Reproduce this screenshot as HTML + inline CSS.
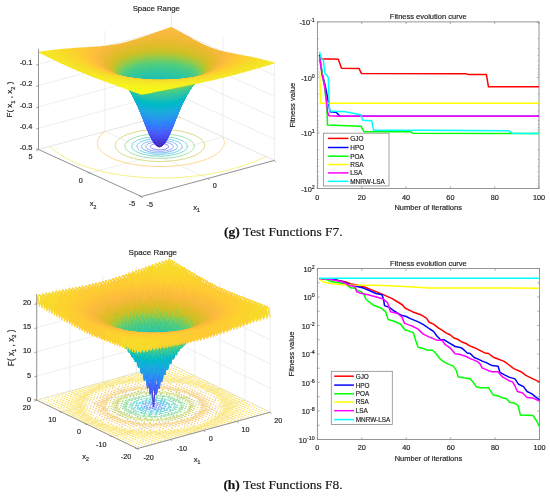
<!DOCTYPE html>
<html><head><meta charset="utf-8"><style>
html,body{margin:0;padding:0;background:#fff}
svg{display:block}
text{font-family:"Liberation Sans",sans-serif;fill:#262626;stroke:#262626;stroke-width:.18px}
svg{will-change:transform}
.cap{font-family:"Liberation Serif",serif;fill:#111}
.s path{fill:currentColor;stroke:currentColor;stroke-width:3;stroke-linejoin:round;shape-rendering:crispEdges}
.s8 path{fill:currentColor;stroke:currentColor;stroke-width:2.4;stroke-linejoin:miter}
</style></head><body>
<svg width="550" height="497" viewBox="0 0 550 497">
<rect width="550" height="497" fill="#fff"/>
<path stroke="#e6e6e6" stroke-width=".7" fill="none" d="M141.5 196.5L38.5 149.5M141.5 196.5L274.4 160.4M38.5 149.5L38.5 48.9M274.4 160.4L274.4 59.8M207.9 178.4L104.9 131.4M90.0 173.0L222.9 136.9M104.9 131.4L104.9 30.8M222.9 136.9L222.9 36.3M274.4 160.4L171.4 113.4M38.5 149.5L171.4 113.4M171.4 113.4L171.4 12.8M171.4 113.4L171.4 12.8M38.5 149.5L171.4 113.4M171.4 113.4L274.4 160.4M38.5 128.2L171.4 92.1M171.4 92.1L274.4 139.1M38.5 106.9L171.4 70.8M171.4 70.8L274.4 117.8M38.5 85.6L171.4 49.5M171.4 49.5L274.4 96.5M38.5 64.3L171.4 28.2M171.4 28.2L274.4 75.2"/><g fill="none" stroke-width="3.4" stroke-opacity=".72" transform="scale(.25)"><path stroke="#4745e9" d="M625 574l2 0 3 0 4-1 3 0 3 0 3 0 3 1 4 0 3 0 2 1 4 1 2 0 3 1 3 2 3 1 2 1 1 1 1 2 0 1 0 1 0 1 0 1 0 1-1 1-2 1-1 1-1 1-3 1-3 2-3 1-4 0-4 1-3 0-4 1-3 0-2 0-4 0-3 0-3 0-3-1-4 0-3-1-2 0-4-1-3-1-3-1-2-2-2-1-1-1-1-2 0-1-1-1 0-1 1-1 0-1 1-1 2-1 1-1 2-1 2-1 3-1 4-1 3-1 5-1"/><path stroke="#426afe" d="M617 568l2 0 4-1 3 0 3 0 4 0 4 0 3 0 3 0 3 0 3 0 4 1 2 0 3 0 2 1 5 0 2 1 4 1 1 0 4 1 3 1 3 2 2 1 3 1 1 2 1 1 2 1 0 1 1 1 0 1 1 2 0 1-1 1 0 1 0 1-1 1-1 1-1 1-1 1-2 2-2 0-2 2-2 0-3 1-3 2-3 1-4 0-4 1-4 1-2 0-5 1-2 0-3 0-5 0-3 0-2 0-3 0-3 0-4 0-3 0-4-1-2 0-3 0-4-1-2-1-3 0-3-1-3-1-3-1-3-2-3-1-2-1-2-2-1-1-1-1-1-1 0-1-1-1 0-2 0-1 0-1 1-1 0-1 1-1 1-1 1-1 1-1 2-1 2-1 2-2 2 0 3-1 3-1 3-1 4-1 4-1 4-1"/><path stroke="#2c90f0" d="M606 563l2 0 5-1 2 0 4-1 3 0 3 0 4 0 3 0 3 0 3 0 3 0 4 0 3 0 3 0 3 0 2 0 4 1 4 0 3 1 2 0 4 1 2 0 3 1 3 1 4 1 1 0 4 1 3 2 2 1 3 1 2 2 2 1 1 1 2 1 1 1 1 2 1 0 0 1 1 2 0 1 1 1 0 1 0 1-1 1 0 1 0 1-1 2-1 1-1 1-1 1-1 1-1 1-3 1-1 1-2 2-2 0-3 1-2 1-2 1-4 1-3 1-4 1-4 1-2 0-4 1-4 1-2 0-4 0-3 1-3 0-4 0-3 0-3 0-3 0-3 0-3 0-3 0-3 0-3 0-4-1-4 0-3-1-2 0-3 0-4-1-2 0-4-1-2-1-3-1-3-1-2-1-3-1-3-1-3-1-2-2-1 0-2-2-2-1-1-1-1-1-1-2-1-2 0-1-1-1 0-1 0-1 1-1 0-1 0-1 1-2 1-1 1-1 1-1 1-1 1-1 2-1 2-1 2-1 1-1 3-2 2 0 3-1 3-1 4-1 3-1 4-1 4-1"/><path stroke="#16afda" d="M600 557l3-1 4 0 2 0 5-1 2 0 3 0 5-1 2 0 3 0 4 0 4 0 3 0 3 0 3 0 3 0 3 0 3 0 4 1 3 0 2 0 3 1 3 0 4 1 3 0 2 0 4 1 2 1 4 0 2 1 4 1 2 1 3 1 3 1 3 1 3 1 3 1 2 2 2 1 3 2 1 0 1 2 2 1 1 1 1 1 1 2 0 1 1 1 0 1 1 1 0 1 0 1 0 1 0 2 0 1-1 1 0 1-1 1 0 1-1 1-1 1-1 1-2 2-1 0-1 1-2 2-1 1-2 1-2 1-3 1-1 1-3 1-3 1-2 1-3 1-3 1-4 1-4 1-2 0-4 1-4 0-3 1-3 0-4 1-3 0-3 0-4 1-2 0-4 0-4 0-3 0-3 0-2 0-3 0-4 0-3 0-3 0-3 0-3 0-4-1-3 0-4 0-2-1-3 0-3-1-3 0-3-1-4-1-2 0-4-1-1 0-4-1-3-2-2 0-3-1-3-2-3-1-2-1-2-1-2-1-2-2-2-1-1-1-1-1-1-1-1-2-1-1 0-1-1-1 0-1-1-1 0-1 0-1 0-2 0-1 1-1 0-1 1-1 0-1 1-1 1-1 1-1 1-2 1-1 1 0 2-2 1-1 2-1 2-1 2-1 2-1 2-1 3-1 3-1 3-1 4-1 3-1 4-1 4-1 4-1 3 0"/><path stroke="#23c1af" d="M588 550l3 0 4-1 2 0 4-1 3 0 4-1 3 0 4 0 3-1 2 0 5 0 3 0 3 0 2 0 4 0 3 0 4 0 3 0 4 0 3 0 3 0 3 1 3 0 2 0 3 0 3 1 4 0 3 1 3 0 2 0 5 1 2 0 3 1 3 1 2 0 4 1 2 1 4 1 3 1 2 0 3 1 3 1 3 2 3 1 3 1 2 1 3 2 2 1 2 1 1 1 2 2 1 1 2 1 1 1 1 1 1 1 1 2 0 1 1 1 0 1 1 1 0 1 0 1 0 2 0 1 0 1 0 1 0 1-1 1 0 2-1 1 0 1-1 1-1 1 0 1-1 1-2 1-1 1-1 1-1 1-2 1-1 1-2 2-2 0-2 1-2 1-3 2-1 0-3 2-3 1-2 0-3 1-3 1-4 1-4 1-3 1-4 1-2 0-4 1-4 1-2 0-5 1-2 0-4 1-3 0-4 0-3 1-3 0-4 0-3 0-2 0-5 0-3 1-3 0-3 0-3-1-3 0-3 0-3 0-3 0-3 0-4 0-3-1-4 0-3 0-2-1-3 0-4-1-3 0-2 0-3-1-4-1-2 0-4-1-2 0-4-1-2-1-3-1-3-1-3-1-2-1-3-1-3-1-3-1-2-2-3-1-2-1-1-1-2-2-2-1-1-1-2-1-1-1-1-2-1 0-1-2-1-1 0-1-1-1 0-2-1-1 0-2 0-1 0-1 0-1 1-2 0-1 0-1 1-1 0-1 1-1 1-1 0-1 1-1 2-1 1-1 1-1 1-1 2-2 1 0 2-1 2-2 1 0 3-2 1 0 3-2 3-1 1-1 4-1 3-1 3-1 4-1 3-1 4-1 4-1 4 0 3-1"/><path stroke="#5dcd75" d="M561 543l3 0 4-1 4-1 4-1 2 0 4-1 4 0 3-1 4 0 2-1 4 0 3 0 3-1 4 0 3 0 3 0 4-1 3 0 2 0 4 0 4 0 3 0 3 0 3 0 3 0 3 0 3 0 3 0 4 0 3 1 3 0 3 0 3 0 3 1 4 0 3 0 3 1 3 0 2 0 4 1 3 0 3 1 3 0 3 1 2 0 5 1 2 0 4 1 2 1 3 1 2 0 4 1 3 1 2 1 3 1 3 1 3 1 2 1 3 1 3 1 2 2 2 0 2 2 2 1 3 1 2 2 1 1 2 1 1 1 1 1 2 2 1 1 1 1 1 1 1 1 1 2 1 2 1 1 0 1 0 1 1 1 0 2 0 1 0 1 0 1 0 1 0 1 0 1-1 1 0 1 0 1-1 1 0 2-1 1-1 1-1 1-1 1-1 1 0 1-1 1-1 1-2 2-1 1-1 0-2 2-2 1-1 1-2 1-1 1-3 1-1 1-3 1-2 1-2 1-3 1-2 1-3 1-3 1-4 1-3 1-3 1-4 1-4 1-3 1-4 1-4 0-2 1-4 1-4 0-2 1-5 0-2 1-4 0-3 0-4 1-3 0-4 0-3 1-2 0-5 0-3 0-3 0-2 0-4 0-4 0-3 0-3 0-3 0-3 0-3 0-3 0-3 0-3 0-4 0-3-1-3 0-4 0-3 0-3-1-2 0-3 0-4-1-3 0-3-1-2 0-4-1-3 0-3-1-3 0-2-1-4-1-2 0-4-1-2-1-3-1-4-1-1 0-4-1-3-2-3-1-3-1-3-1-3-1-2-2-3-1-2-1-2-2-2-1-1-1-2-1-1-1-2-2-1-1-2-1-1-1-1-1 0-1-1-2-1-1-1-1 0-1-1-1 0-1 0-2-1-1 0-1 0-1 0-1 0-1 0-1 0-1 1-1 0-2 0-1 1-1 0-1 1-1 1-1 1-1 1-2 1-1 0-1 1-1 1-1 2-1 1-1 1-1 2-1 2-1 1-1 2-1 1-1 3-1 1-1 3-1 1-1 3-1 3-2 2 0 3-1 3-1 3-2 2 0 4-1 3-1 4-1 2-1"/><path stroke="#bac430" d="M553 525l3 0 4-1 4-1 3 0 4-1 2 0 4 0 4-1 3 0 3-1 4 0 2 0 5-1 2 0 4 0 3-1 3 0 4 0 3 0 3 0 3 0 4 0 4-1 2 0 3 0 3 0 3 0 4 0 3 0 4 1 3 0 3 0 3 0 3 0 3 0 3 0 3 1 3 0 3 0 3 0 3 1 4 0 3 0 3 1 3 0 2 0 4 1 3 0 3 1 3 0 4 1 2 0 3 1 3 1 2 0 5 1 2 0 4 1 1 1 4 1 2 0 4 1 3 1 2 1 3 1 4 1 1 0 4 2 3 1 3 1 3 1 2 1 3 2 3 1 2 1 3 2 2 1 2 1 2 1 2 1 2 2 1 1 2 1 2 1 1 1 1 2 1 1 2 1 0 1 2 2 1 2 1 1 1 1 1 1 0 1 1 1 0 1 1 2 0 1 0 1 1 1 0 1 0 2 0 1 0 1 0 1 0 1 0 1 0 1-1 1 0 1 0 2-1 1 0 1-1 1 0 1-1 1 0 1-1 1-1 1-1 1-1 2-1 1-1 1-2 2-1 1-1 1-1 1-2 1-1 1-1 1-3 1-1 1-1 1-2 1-2 1-2 2-2 0-2 2-2 0-2 2-3 1-2 0-3 2-3 1-1 0-4 2-3 1-3 1-3 1-2 0-4 1-3 1-4 1-2 1-3 1-4 0-4 1-4 1-2 0-4 1-4 1-3 0-3 1-5 0-2 1-4 0-2 1-5 0-2 0-4 1-3 0-3 0-5 1-2 0-2 0-5 0-3 0-3 0-3 1-4 0-3 0-3 0-3 0-3 0-3 0-4 0-3 0-4 0-3 0-3-1-3 0-3 0-4 0-3 0-2 0-3-1-3 0-3 0-3 0-3-1-4 0-3-1-3 0-2 0-4-1-4 0-2-1-2 0-5-1-2 0-2 0-5-1-2-1-4-1-2 0-3-1-3 0-3-1-2-1-4-1-2 0-3-1-4-2-1 0-4-1-3-1-3-1-3-2-2 0-2-1-3-2-3-1-2-1-2-1-2-1-3-2-2-1-2-1-1-1-2-2-2-1-1-1-2-1-1-1-2-2-1 0-1-2-1-1-1-1-1-1-1-2-1-1 0-1-1-1 0-1-1-1-1-2 0-1 0-1 0-1-1-1 0-1 0-1 0-1 0-1 0-1 0-2 0-1 0-1 1-1 0-1 0-1 1-1 0-2 1-1 0-1 1-1 1-1 0-1 1-1 1-1 1-1 1-1 1-1 1-1 2-2 1-1 1-1 1-1 2-1 1-1 1-1 2-1 1-1 3-1 1-1 2-1 2-1 2-1 2-1 3-2 1 0 3-2 2 0 2-1 3-2 3-1 2 0 3-1 4-1 3-1 3-1 4-1 4-1 3-1 4-1 4-1 3-1 3-1"/><path stroke="#fdbc3e" d="M891 547l0 2 1 1 0 1 1 1 1 1 0 1 0 1 1 2 0 1 0 1 1 1 0 1 0 1 0 1 1 1 0 1 0 2 0 1 0 1 0 1 0 1 0 1 0 1 0 1-1 2 0 1 0 1 0 1-1 1 0 1 0 2-1 1 0 1-1 1 0 1-1 1 0 1-1 1 0 1-1 1-1 1 0 1-1 2-1 1-1 1-1 1-1 1 0 1-1 1-2 1-1 1-1 1-1 1-1 2-1 1-1 1-2 1-1 1-1 1-1 1-3 1-1 1-1 1-2 1-1 1-2 1-2 1-1 1-3 1-1 1-3 2-1 0-2 2-2 0-3 2-1 0-3 2-3 1-1 0-3 2-2 1-3 1-3 1-3 1-1 0-3 2-4 1-3 1-3 1-2 0-3 1-4 1-3 1-4 1-3 1-4 1-3 1-3 1-3 0-4 1-4 1-4 1-2 0-4 1-4 1-2 0-4 1-4 0-2 1-5 0-3 1-3 0-4 1-3 0-4 1-3 0-3 0-3 1-3 0-4 0-3 1-4 0-3 0-2 0-5 1-3 0-2 0-4 0-4 0-3 1-2 0-4 0-4 0-3 0-2 0-3 0-4 0-4 0-3 0-3 0-3 0-3 0-3 0-3 0-3 0-3 0-4 0-3-1-3 0-3 0-3 0-3 0-3 0-3-1-4 0-3 0-4 0-3-1-3 0-3 0-2 0-3-1-4 0-4-1-2 0-3 0-2-1-4 0-4-1-2 0-3 0-4-1-2 0-3-1-4-1-2 0-3-1-3 0-3-1-4-1-2 0-4-1-2 0-4-1-2-1-3-1-2 0-4-1-2-1-3-1-4-1-2 0-3-1-3-2-3 0-2-1-4-1-3-2-3-1-3-1-1 0-3-2-3-1-3-1-2-1-3-2-3-1-1-1-2-1-3-1-2-2-3-1-1-1-2-1-2-2-2-1-1-1-2-1-2-2-1 0-2-2-1-1-2-1-1-1-1-1-1-2-1-1-1-1-2-1 0-1-2-2 0-1-1-1-1-1-1-1-1-2-1-1 0-2-1-1 0-1-1-1 0-2-1 0 0-1 0-2-1-1 0-1 0-1 0-1 0-1 0-2 0-1-1-1 0-1 1-1 0-1 0-1 0-1 0-2 0-1 1-1 0-1 0-1 1-1 0-1 0-2 1-1 0-1 1-1 0-1 1-1 0-1 1-1 1-1 0-1 1-1 1-2 1-1 1-1 1-1 0-1 1-1 2-1 1-1 1-1 0-1 2-1 1-2 1-1 1 0 1-1 2-2 1-1 1-1 2-1 1-1 1-1M636 467l4 0 4 0 3 0 2 0 3 0 4 0 3 0 4 0 3 0 3 0 3 0 3 0 4 0 3 0 3 0 3 1 3 0 4 0 3 0 3 1 2 0 3 0 3 0 3 1 4 0 3 0 3 1 2 0"/><path stroke="#f5e427" d="M1063 626l-2 1-2 1-3 1-2 2-2 0-3 1-1 1-3 1-3 2-1 0-3 2-2 0-2 1-3 2-2 0-3 2-3 1-1 0-3 2-3 1-2 0-3 2-3 1-1 0-3 2-4 1-2 1-2 0-3 2-3 1-3 1-2 0-3 2-4 1-3 1-2 0-3 1-3 2-3 1-4 1-3 1-2 0-3 1-3 1-4 1-3 1-4 1-3 1-4 1-3 1-4 1-3 1-4 1-4 1-3 1-4 1-4 1-3 1-3 0-3 1-4 1-3 1-4 1-4 0-3 1-3 1-4 0-4 1-3 1-3 0-4 1-4 1-2 0-4 1-4 1-2 0-4 1-4 0-2 1-4 0-4 1-3 0-4 1-2 0-4 1-3 0-4 1-3 0-4 1-3 0-3 1-4 0-3 0-3 1-4 0-2 0-5 1-2 0-5 1-2 0-3 0-4 0-2 1-5 0-3 0-2 0-5 1-2 0-3 0-5 0-2 1-3 0-5 0-2 0-3 0-4 0-3 1-3 0-3 0-4 0-4 0-2 0-3 0-3 0-4 1-4 0-2 0-3 0-3 0-4 0-4 0-3 0-3 0-2 0-3 0-4 0-3 0-4 0-3 0-4 0-3 0-3 0-3-1-3 0-3 0-3 0-3 0-3 0-3 0-3 0-3 0-3-1-3 0-4 0-3 0-3 0-3 0-4-1-3 0-3 0-4 0-3-1-2 0-3 0-3 0-3-1-3 0-3 0-4-1-4 0-2 0-3 0-3-1-3 0-3 0-4-1-2 0-3 0-3-1-4 0-3-1-2 0-3 0-4-1-3 0-3-1-2 0-5-1-2 0-2-1-4 0-3-1-2 0-4-1-3 0-2-1-5-1-2 0-3 0-3-1-3-1-4 0-2-1-3 0-3-1-2-1-4-1-2 0-4-1-2 0-4-1-2-1-4-1-2 0-4-1-2-1-3-1-3 0-3-1-4-1-1-1-4-1-3 0-2-1-4-1-2-1-3-1-4-1-1 0-4-1-3-2-3-1-2 0-3-1-3-1-4-2-1 0-3-1-3-1-3-2-3-1-3-1-2-1-3-1-3-1-3-1-3-1-3-2-2-1-3-1-3-1-3-2-2-1-3-1-3-1-2-2-3-1-2-1-3-2-1 0-3-2-2-1-3-1-2-2-2-1-2-1-2-1-2-1-3-2-2-1-1-1-2-1-3-2-2-1-1-1-2-1-2-2-2-1-1-1-2-1-2-1-2-1-2-2-1-1-2-1-2-1-1-1-2-2-1-1-1-1-2-1-2-2-1 0-2-2-1-1-2-1-2-2-1 0-1-2-1-1-2-1-1-1"/></g><g class="s" transform="scale(0.25)"><path color="#3f28ad" d="M643 586l7-4-6 1-6 4zm-7-1l7 1-5 1-7-1zm-5 1l7 1-5-5-7-1zm7 1l6-4-5-5-6 4z"/><path color="#3f29b2" d="M644 583l7-9-5-4-7 8zm-11-1l6-4-5-9-7 4z"/><path color="#402bb6" d="M641 580l7 1-5 5-7-1zm7 1l7-4-5 5-7 4zm2 1l6-8-5 0-7 9zm-20-3l6 6-5 1-7-6zm-6 1l7 6-5-5-7-5zm2 1l7 1-6-9-6-1z"/><path color="#412cba" d="M639 578l7-8-5-9-7 8z"/><path color="#422ebf" d="M635 575l6 5-5 5-6-6zm20 2l6-8-5 5-6 8zm-36-1l7 5-5-9-7-5z"/><path color="#4230c3" d="M656 574l7-13-5 0-7 13zm-5 0l7-13-5-4-7 13zm-30-2l6 1-5-14-6 0zm6 1l7-4-5-13-7 3z"/><path color="#4331c7" d="M653 571l7-3-5 9-7 4zm-6-1l6 1-5 10-7-1zm-24-1l7 10-6 1-6-10zm-5 1l6 10-5-4-6-11z"/><path color="#4433cc" d="M660 568l6-8-5 9-6 8zm1 1l7-13-5 5-7 13zm-15 1l7-13-6-9-6 13zm-33-5l6 11-5-9-6-10zm1 2l7 5-5-13-7-6zm20 2l7-8-5-13-7 8z"/><path color="#4434d0" d="M640 565l7 5-6 10-6-5zm-12 0l7 10-5 4-7-10z"/><path color="#4538d8" d="M663 561l6-17-5 0-6 17zm-5 0l6-17-5-4-6 17zm-17 0l6-13-5-12-6 12zm-19-2l7-3-5-17-7 3zm-6 0l6 0-5-17-6-1z"/><path color="#463adb" d="M652 557l6 1-5 13-6-1zm6 1l7-4-5 14-7 3zm8 2l7-13-5 9-7 13zm-33-4l7 9-5 10-7-10zm-17 0l7 13-5 1-7-14zm-5 0l7 14-5-5-7-13zm-3 1l6 10-5-14-7-9z"/><path color="#463cde" d="M668 556l7-16-6 4-6 17zm-15 1l6-17-5-8-7 16zm-24-1l7-8-6-17-6 8zm-20-3l7 6-5-18-7-4z"/><path color="#473ee1" d="M645 553l7 4-5 13-7-5zm20 1l7-7-6 13-6 8zm-44-3l7 14-5 4-7-13zm-15 1l7 13-5-8-7-14z"/><path color="#4742e6" d="M673 547l7-15-5 8-7 16zm-26 1l7-16-5-12-7 16zm-11 0l6-12-5-16-7 11zm-34-4l7 9-5-16-7-9z"/><path color="#4744e9" d="M638 544l7 9-5 12-7-9zm34 3l6-12-5 12-7 13zm-45-3l6 12-5 9-7-14zm37 0l7-19-5-4-7 19zm-63-1l7 14-6-13-6-12zm16-1l7-3-5-20-7 3z"/><path color="#4747eb" d="M669 544l7-19-5 0-7 19zm-58-3l6 1-5-20-7-1z"/><path color="#4849ed" d="M664 542l6-4-5 16-7 4zm-7-1l7 1-6 16-6-1zm18-1l6-19-5 4-7 19zm-65-1l6 17-5 0-6-17zm-5 0l6 17-5-4-7-17zm54 1l7-19-5-8-7 19zm-55-3l7 4-6-20-6-4zm20 2l6-8-5-19-6 7z"/><path color="#484bef" d="M670 538l7-7-5 16-7 7zm-71-3l7 17-5-9-7-16zm43 1l7-16-5-15-7 15z"/><path color="#484df1" d="M650 537l7 4-5 16-7-4zm28-2l7-14-5 11-7 15zm-63 0l6 16-5 5-6-17zm-19-3l6 12-5-16-6-11z"/><path color="#484ff2" d="M632 533l6 11-5 12-6-12zm48-1l6-18-5 7-6 19zm-26 0l7-19-5-11-7 18zm-57-4l7 9-5-20-7-7zm33 3l7-11-5-19-7 11z"/><path color="#4852f4" d="M677 531l6-10-5 14-6 12zm-83-4l7 16-5-11-7-15z"/><path color="#4854f5" d="M644 530l6 7-5 16-7-9zm-24-2l7 16-6 7-6-16z"/><path color="#4756f7" d="M676 525l7-21-5-1-7 22zm-5 0l7-22-6-3-6 21zm-59-3l7-3-5-22-7 3zm-7-1l7 1-5-22-7 0z"/><path color="#4758f8" d="M662 523l7 1-5 18-7-1zm7 1l6-3-5 17-6 4zm12-3l7-21-5 4-7 21zm-78 0l7 18-5 0-7-19zm-5-1l7 19-6-4-6-18zm68 1l6-21-5-7-6 20zm-17-1l7-18-6-13-6 16zm-12 0l7-15-5-17-7 13zm-18-1l6-7-5-22-6 7zm-20-2l6 4-5-21-6-4z"/><path color="#475af9" d="M683 521l7-13-5 13-7 14zm2 0l7-17-6 10-6 18zm-96-4l7 15-5-15-7-14zm2 0l6 11-5-18-7-11z"/><path color="#475cfa" d="M655 520l7 3-5 18-7-4zm20 1l7-7-5 17-7 7zm-38-2l7 11-6 14-6-11zm-12 0l7 14-5 11-7-16zm-17-1l7 17-5 4-7-18zm-15-1l6 18-5-8-6-17zm68-4l6-20-5-10-6 19zm-36-1l7-11-5-20-7 9z"/><path color="#465ffb" d="M686 514l7-20-5 6-7 21zm-94-4l7 7-5-21-7-7z"/><path color="#4661fc" d="M682 514l7-9-6 16-6 10zm-94-4l6 17-5-10-7-17z"/><path color="#4563fd" d="M649 513l6 7-5 17-6-7zm-36-1l7 16-5 7-7-17zm31-7l6-16-5-17-6 16z"/><path color="#4465fd" d="M690 508l7-16-5 12-7 17zm-12-5l6-22-5-4-7 23zm-22-1l6-19-5-13-7 19zm-72 1l7 14-6-18-6-12zm48-2l7-13-6-19-6 12zm-25-1l7-3-6-23-6 3z"/><path color="#4368fe" d="M692 504l6-18-5 8-7 20zm-9 0l6-23-5 0-6 22zm-98-5l7 11-5-21-7-9zm15 1l7 0-5-23-7 0z"/><path color="#426afe" d="M674 505l6-3-5 19-6 3zm15 0l6-13-5 16-7 13zm-59 2l7 12-5 14-7-14zm58-7l7-21-6 2-6 23zm-97 1l7 19-5-3-7-20zm81-1l7-23-5-6-7 22zm-90 0l7 17-5-14-7-16zm12-4l6 4-5-23-7-3zm20 1l6-7-5-22-7 6z"/><path color="#406cfe" d="M667 505l7 0-5 19-7-1zm-25-1l7 9-5 17-7-11zm-24-1l7 16-5 9-7-16zm-22-2l7 20-5-1-7-19z"/><path color="#3f6fff" d="M680 502l7-6-5 18-7 7zm-19 0l6 3-5 18-7-3zm-59-3l6 19-5 3-7-20zm-16-2l7 20-5-7-7-19zm81-4l7-22-5-9-7 21zm-47-3l7-9-5-21-7 8z"/><path color="#3d71ff" d="M693 494l7-20-5 5-7 21zm-43-5l7-19-5-15-7 17zm-11-1l6-16-5-17-7 14zm-52 1l7 7-6-22-6-6z"/><path color="#3a73ff" d="M687 496l7-9-5 18-7 9zm-33 0l7 6-6 18-6-7zm43-4l6-17-5 11-6 18zm-90 2l6 18-5 6-6-19zm-26-3l7 19-6-10-6-18zm-2-4l6 12-5-19-6-11z"/><path color="#3876fe" d="M695 492l7-14-5 14-7 16zm-33-9l7-21-5-11-7 19zm-85 4l7 16-5-16-7-15zm50-6l6-12-5-20-6 11z"/><path color="#3578fd" d="M635 493l7 11-5 15-7-12zm-11-1l6 15-5 12-7-16zm74-6l7-20-5 8-7 20zm-118-6l7 9-5-21-7-8z"/><path color="#337bfd" d="M694 487l6-10-5 15-6 13zm-5-6l7-22-5-1-7 23zm-5 0l7-23-5-3-7 22zm-5-4l7-22-5-6-7 22zm-103 5l6 18-5-13-6-16zm32-8l7-6-5-22-7 5zm-6 3l6-3-5-23-6 3zm-7 0l7 0-5-23-7 0z"/><path color="#317dfc" d="M647 488l7 8-5 17-7-9zm-35-1l6 16-5 9-6-18zm83-8l6-22-5 2-7 22zm-50-7l7-17-5-16-7 16zm-57 2l7 3-5-23-7-2z"/><path color="#307ffb" d="M672 486l7 0-5 19-7 0zm7 0l7-3-6 19-6 3zm-89-4l6 19-5 0-6-20zm-5-1l6 20-5-4-7-19zm89-10l7-22-6-8-6 21zm-17-1l7-19-5-13-7 17zm-24-1l7-14-5-19-7 13zm-18-1l7-8-6-22-6 8z"/><path color="#2f81fa" d="M666 483l6 3-5 19-6-3zm20 0l6-5-5 18-7 6zm16-5l7-15-6 12-6 17zm-2-4l6-21-5 4-6 22zm-105 6l7 19-6 2-6-19zm-16-2l7 19-5-6-7-19zm-7-6l7 15-5-18-7-13zm10-4l6 6-5-22-6-5z"/><path color="#2e84f9" d="M700 477l7-13-5 14-7 14zm-71 3l6 13-5 14-6-15zm74-5l7-18-5 9-7 20zm-132-4l6 16-5-15-7-15zm3-2l6 11-5-20-7-10z"/><path color="#2e86f8" d="M659 479l7 4-5 19-7-6zm33-1l7-8-5 17-7 9zm-51 0l6 10-5 16-7-11zm-24-1l7 15-6 11-6-16zm-17-1l7 18-5 5-7-19zm-26-4l7 19-5-9-7-18zm95-10l6-21-5-10-6 20zm-47-2l6-11-5-20-7 9z"/><path color="#2d88f6" d="M705 466l7-19-6 6-6 21zm-130-6l7 8-5-21-7-7z"/><path color="#2d8af5" d="M699 470l7-10-6 17-6 10zm-8-12l7-22-6-3-6 22zm-122 6l7 18-5-11-7-17zm83-9l7-17-6-15-6 16zm-12 0l7-16-5-17-7 14zm-43-1l6-3-5-22-7 2z"/><path color="#2d8cf3" d="M652 472l7 7-5 17-7-8zm-47-2l7 17-5 7-7-18zm91-11l7-22-5-1-7 22zm-10-4l6-22-5-5-6 21zm-96-1l7 0-6-23-6 1zm13-3l7-5-5-22-7 5z"/><path color="#2d8ef1" d="M707 464l7-14-5 13-7 15zm2-1l6-17-5 11-7 18zm-8-6l7-21-5 1-7 22zm-37-6l6-20-5-12-6 19zm-99 6l7 15-5-16-7-13zm2-1l7 13-6-19-6-11zm61-7l7-13-5-18-7 11zm-45 3l7 2-5-22-7-2z"/><path color="#2c90f0" d="M684 467l7-3-5 19-7 3zm-7 0l7 0-5 19-7 0zm-43 0l7 11-6 15-6-13zm-12 0l7 13-5 12-7-15zm88-10l7-18-5 8-7 19zm-127 6l7 19-5-1-7-19zm-5-1l7 19-6-3-6-19zm103-13l6-21-5-7-7 20zm-113 1l7 10-5-20-7-8zm42-4l6-8-5-21-6 7z"/><path color="#2b92ee" d="M691 464l6-4-5 18-6 5zm-20 1l6 2-5 19-6-3zm35-5l6-11-5 15-7 13zm0-7l7-21-5 4-7 21zm-118 9l7 18-5 2-7-19zm-15-3l6 19-5-6-6-18zm-9-5l7 17-6-14-6-15zm13-7l6 5-5-22-7-4z"/><path color="#2994ed" d="M697 460l7-7-5 17-7 8zm-51 3l6 9-5 16-6-10zm-36-1l7 15-5 10-7-17zm-42-8l6 18-5-8-6-18zm107-13l7-20-5-9-7 19zm-28-2l6-16-5-15-6 14zm-31-1l7-9-5-20-7 8z"/><path color="#2896ec" d="M664 462l7 3-5 18-7-4zm48-15l6-20-5 5-7 21zm-119 11l7 18-5 4-7-18zm66-20l6-19-5-13-7 17zm-24-2l7-14-6-17-6 13zm-65 4l7 7-6-21-6-6z"/><path color="#2798ea" d="M714 450l6-15-5 11-6 17zm-154-7l7 13-5-17-7-12z"/><path color="#269ae9" d="M704 453l7-9-5 16-7 10zm8-4l7-13-5 14-7 14zm3-3l7-16-5 9-7 18zm-12-9l6-21-5-1-6 21zm-5-1l6-21-5-3-7 21zm-135 10l6 18-5-10-7-17zm-4-4l6 15-5-14-6-14zm3-3l6 11-5-18-6-10zm29-8l7-2-5-22-7 3zm-6 1l6-1-5-21-6 0z"/><path color="#259be7" d="M658 456l6 6-5 17-7-7zm-31-1l7 12-5 13-7-13zm-28-2l6 17-5 6-7-18zm109-17l7-21-6 1-6 21zm-16-3l7-21-5-5-7 21zm-22-2l7-19-5-11-7 18zm-47-2l7-11-5-19-7 10zm-25 0l7-5-5-21-7 4zm-20 1l7 2-5-22-7-1z"/><path color="#259de6" d="M639 454l7 9-5 15-7-11zm-23-1l6 14-5 10-7-15zm101-14l6-19-5 7-6 20zm-30-11l7-21-5-6-7 20zm-124 4l7 8-5-20-7-7zm42-8l6-7-5-20-6 6z"/><path color="#249fe5" d="M683 450l6-1-5 18-7 0zm6-1l7-2-5 17-7 3zm22-5l6-10-5 15-6 11zm2-12l7-20-5 3-7 21zm-137 13l7 18-5-1-7-18zm-5-1l7 18-5-3-7-18zm-14-7l7 17-5-12-7-16zm96-14l7-17-5-14-7 16zm-11-1l6-14-5-16-7 13zm-71 4l7 4-5-21-7-4z"/><path color="#23a1e4" d="M676 448l7 2-6 17-6-2zm20-1l7-5-6 18-6 4zm-45 2l7 7-6 16-6-9zm-47-2l6 15-5 8-6-17zm-22-3l6 18-5 1-7-18zm-16-3l7 18-5-5-7-18zm116-20l7-20-5-8-7 19zm-17-2l7-18-5-12-7 17zm-35-1l6-13-5-17-6 11zm-19-1l7-8-5-20-7 8z"/><path color="#21a3e4" d="M703 442l6-6-5 17-7 7zm16-6l6-13-5 12-6 15zm1-1l7-15-5 10-7 16zm-2-8l7-19-5 4-7 20zm-157 9l7 18-5-8-7-17zm-7-7l6 14-5-16-6-12zm1-2l7 12-5-17-7-11zm10-7l6 6-5-21-6-4z"/><path color="#20a4e3" d="M669 445l7 3-5 17-7-3zm53-15l6-17-5 7-6 19zm-135 11l6 17-5 4-6-18zm-30-19l6 10-5-19-6-8z"/><path color="#1fa6e2" d="M709 436l7-7-5 15-7 9zm8-2l7-11-5 13-7 13zm-85 9l7 11-5 13-7-12zm-11 0l6 12-5 12-6-14zm-65-14l7 17-6-9-6-16zm121-17l7-19-6-10-6 18zm-125 14l7 16-5-13-7-14zm66-17l7-10-6-18-6 8z"/><path color="#1da8e1" d="M663 440l6 5-5 17-6-6zm-19 0l7 9-5 14-7-9zm-35-1l7 14-6 9-6-15zm114-19l7-17-5 5-7 19zm-131 17l7 16-6 5-6-17zm117-21l7-20-5-1-7 20zm-5-1l7-20-5-3-7 20zm-5-3l7-20-5-4-7 19zm-39-6l7-17-5-12-7 15zm-12 2l7-16-5-14-7 14zm-12-3l7-13-5-16-7 12zm-78 8l7 7-5-19-7-6zm22-3l6 0-5-21-7 0zm6 0l7-3-5-20-7 2zm7-3l7-4-6-20-6 4z"/><path color="#1ca9e0" d="M715 415l6-20-5 1-7 20zm-21-8l7-19-6-6-6 19zm-121 2l7 1-6-21-6-1zm27-6l6-6-5-19-7 5z"/><path color="#1baade" d="M716 429l6-9-5 14-6 10zm9-6l7-14-5 11-7 15zm2-3l7-16-6 9-6 17zm-7-8l6-19-5 2-6 20zm-169 9l6 16-5-11-6-14zm121-20l6-18-5-10-6 16zm-123 14l6 12-5-16-7-11zm1-4l7 11-5-17-7-10zm75-12l6-11-5-17-7 10zm-59 6l7 4-5-21-7-2z"/><path color="#1aacdd" d="M701 430l7-4-5 16-7 5zm-7 2l7-2-5 17-7 2zm-6 1l6-1-5 17-6 1zm-32 1l7 6-5 16-7-7zm68-11l7-12-6 12-6 13zm-127 9l7 15-5 6-7-16zm-27-4l6 17-5-1-6-18zm-5-2l6 18-5-3-6-18zm-5-3l6 18-5-5-7-17zm129-22l6-19-5-7-6 18zm-142 14l7 14-5-14-7-13zm59-18l7-8-5-18-7 7z"/><path color="#19addc" d="M708 426l6-5-5 15-6 6zm-27 6l7 1-5 17-7-2zm-55 0l6 11-5 12-6-12zm102-19l7-17-5 7-7 17zm-3-5l6-18-5 3-6 19zm-150 19l7 17-6 1-6-17zm-21-8l7 17-5-7-7-16zm-2-14l6 8-5-18-7-8zm8-4l6 4-5-19-6-4z"/><path color="#18aedb" d="M674 430l7 2-5 16-7-3zm48-10l7-10-5 13-7 11zm-84 11l6 9-5 14-7-11zm-24-1l7 13-5 10-7-14zm-34-5l7 16-5 3-7-17zm104-32l6-18-5-9-7 17zm-138 19l6 14-5-11-7-14zm109-20l7-15-6-13-6 14zm-12 0l7-14-5-15-7 13zm-30-3l6-8-5-18-6 8z"/><path color="#16afd9" d="M714 421l7-7-5 15-7 7zm-3-26l7-19-6-3-6 19zm-162 18l7 16-5-8-7-15zm118-24l6-16-5-11-6 15zm-36-1l7-12-5-16-7 11zm-50 1l7-2-5-20-7 2z"/><path color="#14b0d8" d="M668 426l6 4-5 15-6-5zm-19 1l7 7-5 15-7-9zm82-16l6-12-5 10-7 14zm1-2l7-14-5 9-7 16zm-130 16l7 14-5 8-7-15zm128-22l7-17-6 4-6 18zm-145 19l7 15-5 4-7-16zm136-27l7-18-5 0-7 19zm-5 1l7-19-5-1-7 19zm-10-4l6-19-5-4-6 19zm-164 10l7 13-6-15-6-11zm1-2l7 11-5-16-7-9zm10-5l7 6-5-19-7-5zm35-8l6-4-5-19-6 3zm-14 2l7 0-5-20-7 1zm-6-1l6 1-5-19-6-1z"/><path color="#11b1d6" d="M734 404l6-15-5 7-7 17zm-33-16l6-19-5-5-7 18zm-23-5l7-17-5-9-7 16zm-133 12l7 10-6-18-6-7zm74-14l7-10-5-17-7 9zm-25 2l7-5-5-19-7 5z"/><path color="#0fb2d4" d="M721 414l7-8-6 14-6 9zm8-4l7-11-5 12-7 12zm-98 12l7 9-6 12-6-11zm-12-1l7 11-5 11-7-13zm107-28l7-17-5 1-7 18zm-31-11l7-18-5-6-7 17zm-151 24l7 15-5-9-7-15zm-4-5l7 14-5-13-7-12zm110-23l6-14-5-13-6 12zm-49 0l7-7-5-18-7 6zm-40 8l7 2-5-19-7-2z"/><path color="#0cb3d3" d="M693 418l7-1-6 15-6 1zm7-1l6-2-5 15-7 2zm6-2l7-4-5 15-7 4zm-45 6l7 5-5 14-7-6zm-18-1l6 7-5 13-6-9zm-36-2l7 12-5 9-7-14zm128-22l7-16-5 6-7 17zm-145 22l7 14-5 5-7-15zm141-28l7-17-5 3-7 17zm-168 22l7 16-5-2-7-16zm-5-2l7 16-5-3-7-15zm-5-2l7 15-6-4-6-15zm109-31l6-15-5-12-7 14zm-24-1l7-13-6-14-6 11zm-92 11l7 8-5-18-7-6zm9-5l6 4-5-19-7-3z"/><path color="#09b4d1" d="M686 417l7 1-5 15-7-1zm27-6l6-5-5 15-6 5zm15-5l6-9-5 13-7 10zm-160 6l7 15-5 1-7-16zm-20-8l6 15-5-6-6-15zm142-29l7-17-5-8-7 16zm-151 22l7 15-6-11-6-13zm134-24l7-16-5-10-7 15zm-47-2l7-11-5-15-7 9zm-18 0l6-8-5-17-6 7z"/><path color="#06b5cf" d="M680 415l6 2-5 15-7-2zm56-16l6-11-5 11-6 12zm1 0l7-13-5 9-7 14zm2-4l6-14-5 8-6 15zm-166 15l7 15-5 2-7-15zm-38-20l7 12-5-13-7-11zm2-1l6 11-5-14-6-10zm1-3l7 9-5-15-7-9z"/><path color="#04b6cd" d="M719 406l7-6-5 14-7 7zm-64 9l6 6-5 13-7-7zm85-26l7-15-5 6-7 16zm-144 23l6 13-5 7-7-14zm141-26l6-16-5 3-7 17zm-14-9l6-17-5-2-6 18zm-5-1l6-18-5-2-7 17zm-6-3l7-17-5-4-7 17zm-169 25l6 15-5-7-7-14zm113-34l7-14-5-12-7 13zm-11-1l6-12-5-13-7 11zm-105 17l6 7-5-16-6-7zm8-3l7 5-6-18-6-4zm21-7l7-1-5-18-7 1zm7-1l7-2-6-18-6 2zm7-2l6-3-5-18-7 3z"/><path color="#02b7cb" d="M673 412l7 3-6 15-6-4zm61-15l7-9-5 11-7 11zm-98 15l7 8-5 11-7-9zm-12 0l7 10-5 10-7-11zm-11-2l6 11-5 9-7-12zm-34-2l6 14-5 3-7-15zm149-31l6-17-5 0-6 17zm-21-8l7-17-5-5-7 17zm-22-3l7-16-5-8-7 15zm-151 22l6 13-5-11-6-12zm134-26l7-15-5-10-7 13zm-35-2l6-11-5-14-6 10zm-19 3l7-9-5-15-7 7zm-51 6l6 1-5-18-6 0zm26-5l7-5-5-17-7 4z"/><path color="#01b8ca" d="M726 400l7-7-5 13-7 8zm16-20l6-15-5 5-6 16zm-9-4l7-17-6 1-6 17zm-31-12l7-17-5-5-7 16zm-165 28l7 14-5-9-7-13zm4-21l7 6-5-17-7-5zm15-4l7 2-5-17-7-2zm40-8l7-6-6-16-6 5z"/><path color="#00b9c8" d="M705 403l6-2-5 14-6 2zm-39 5l7 4-5 14-7-5zm-18 1l7 6-6 12-6-7zm94-21l7-11-5 9-7 13zm2-2l7-13-6 8-6 14zm-143 20l6 12-5 7-6-13zm-17-2l6 14-5 4-6-14zm154-31l7-16-5 2-7 17zm-187 23l7 14-5-2-7-15zm129-39l7-15-6-9-6 14zm-150 21l7 11-5-13-7-10zm2-2l6 10-5-15-7-8zm89-22l7-9-6-15-6 9zm-72 10l7 3-5-17-7-2z"/><path color="#00b9c6" d="M711 401l7-4-5 14-7 4zm-13 3l7-1-5 14-7 1zm-7-1l7 1-5 14-7-1zm42-10l6-7-5 11-6 9zm12-12l7-13-5 6-7 15zm-183 16l6 15-5 0-6-15zm-5 0l6 15-5-2-7-14zm-11-4l7 15-5-4-7-15zm151-35l7-16-6-7-6 15zm-165 26l7 13-5-9-7-12zm119-33l7-13-5-11-7 11zm-118 20l7 9-5-16-7-7zm70-18l6-7-5-15-7 6z"/><path color="#01bac4" d="M718 397l7-4-6 13-6 5zm-33 5l6 1-5 14-6-2zm56-14l7-10-6 10-6 11zm6-14l7-14-6 5-6 15zm-4-4l7-16-5 3-7 16zm-176 27l6 13-5 2-6-15zm-26-8l7 15-5-6-7-14zm-12-11l6 12-5-12-7-10zm134-28l7-13-5-11-7 12zm-24-1l7-11-5-13-7 10zm-104 15l6 7-5-16-7-5zm8-4l6 4-5-16-6-3z"/><path color="#03bbc2" d="M725 393l6-5-5 12-7 6zm-65 10l6 5-5 13-6-6zm-31 0l7 9-5 10-7-10zm-11 0l6 9-5 9-6-11zm-29-3l7 12-6 6-6-14zm145-40l7-16-5 0-7 16zm-5 0l7-16-5-2-7 16zm-5-2l7-16-5-2-7 16zm-5-2l7-16-6-4-6 16zm-183 28l7 14-6-6-6-13zm156-34l6-15-5-7-6 14zm-17-3l6-14-5-9-6 13zm-47-2l6-10-5-13-7 8zm-19 1l7-7-5-15-7 7zm-32 3l7-3-5-16-7 3zm-6 2l6-2-5-16-6 2zm-7 1l7-1-5-16-7 0zm-6 0l6 0-5-17-7 0z"/><path color="#05bcc0" d="M678 400l7 2-5 13-7-3zm61-14l7-9-5 11-7 9zm-98 16l7 7-5 11-7-8zm108-25l7-12-5 8-7 13zm-143 23l7 10-6 8-6-12zm-34-5l7 13-6 2-6-13zm168-36l6-15-5 0-7 16zm-26-7l6-16-5-4-6 15zm-187 24l7 12-5-10-7-11zm-2-10l7 10-6-13-6-9zm59-20l7-4-5-16-7 4zm-33 4l7 2-6-17-6-1z"/><path color="#08bcbe" d="M731 388l7-6-5 11-7 7zm-78 10l7 5-5 12-7-6zm95-20l6-10-5 9-7 11zm3-5l6-12-5 7-7 13zm1-5l7-13-5 5-7 14zm-158 27l7 11-5 6-7-12zm154-30l7-14-5 3-7 16zm-39-18l6-15-5-5-6 15zm-178 32l6 13-5-8-6-12zm156-37l6-14-5-8-7 13zm-164 26l7 10-5-12-7-9zm135-30l7-12-6-11-6 12zm-132 25l7 8-5-14-7-7zm120-25l7-11-5-12-7 10zm-118 19l7 7-6-14-6-6zm8-2l7 5-5-15-7-5zm80-16l6-9-5-14-6 8zm-25 3l6-5-5-16-6 5z"/><path color="#0cbdbc" d="M671 396l7 4-5 12-7-4zm-94-4l7 12-5 4-7-13zm168-35l6-15-5 2-6 15zm-41-15l6-15-5-6-7 14zm-34-5l6-13-5-10-6 12zm-36-2l7-10-5-12-7 9zm-37 2l7-6-5-15-7 5zm-53 11l7 2-5-16-7-2z"/><path color="#10beba" d="M697 391l6 0-5 13-7-1zm6 0l7-1-5 13-7 1zm7-1l7-2-6 13-6 2zm7-2l6-3-5 12-7 4zm21-6l7-7-6 11-6 7zm8-5l7-9-5 10-7 10zm-111 17l6 8-5 10-7-9zm-12 1l6 8-5 9-6-9zm-12-2l7 10-5 7-7-10zm143-33l6-13-5 4-7 14zm-4-6l7-14-6 2-6 15zm-195 30l7 13-5 0-7-13zm-5 0l7 13-6-1-6-14zm-5-2l6 14-5-3-6-13zm-5-2l6 13-5-4-7-13zm-14-8l6 12-5-8-7-12zm155-39l7-13-5-9-7 13zm-159 34l7 11-6-10-6-11zm7-17l7 5-5-15-7-4zm93-20l7-8-5-13-7 7zm-84 15l6 3-5-16-7-2z"/><path color="#15bfb8" d="M690 390l7 1-6 12-6-1zm33-5l7-4-5 12-7 4zm-58 7l6 4-5 12-6-5zm91-27l6-11-5 7-6 12zm-174 24l7 11-5 4-7-12zm-22-5l7 13-5 0-7-13zm176-40l7-15-6-2-6 15zm-5-2l6-15-5-2-6 15zm-5-2l6-15-5-3-7 14zm-192 36l7 13-5-5-7-12zm164-41l7-14-5-7-7 14zm-178 19l6 9-5-13-6-7zm84-23l7-7-5-14-7 6zm-45 4l7 0-5-16-7 1zm7 0l6-2-5-16-6 2zm6-2l7-3-5-15-7 2z"/><path color="#19bfb5" d="M730 381l6-5-5 12-6 5zm15-6l6-8-5 10-7 9zm-99 17l7 6-5 11-7-7zm108-24l7-10-5 7-7 12zm3-7l7-12-5 6-7 13zm-158 29l7 10-5 6-7-11zm156-39l7-14-5 3-7 14zm-14-7l7-15-5 0-7 15zm-21-8l7-14-5-4-7 14zm-191 36l7 12-5-5-7-12zm-9-8l7 12-5-9-7-11zm145-38l6-12-5-9-7 10zm-147 31l7 9-5-12-7-8zm135-30l6-12-5-10-6 10zm-12-2l7-10-6-12-6 10zm-120 25l7 7-5-13-7-6zm10-10l7 5-6-15-6-4zm21-5l7 0-5-15-7 0zm27-5l7-4-6-15-6 4z"/><path color="#1ec0b3" d="M683 388l7 2-5 12-7-2zm53-12l7-5-5 11-7 6zm17-8l6-9-5 9-6 10zm6-13l6-13-5 5-6 13zm-194 28l7 12-5 2-7-13zm181-39l7-15-5 0-7 15zm-31-12l7-14-5-5-7 14zm-191 35l7 12-5-7-7-12zm169-39l7-14-5-7-7 13zm-176 29l6 11-5-11-6-9zm159-33l7-13-5-8-7 11zm-153 20l6 6-5-14-6-5zm106-22l7-9-5-12-7 8zm-18 2l6-8-5-13-6 7zm-65 10l6 1-5-15-6 0zm40-8l6-5-5-14-7 4z"/><path color="#22c1b0" d="M677 386l6 2-5 12-7-4zm74-19l7-8-5 9-7 9zm-93 21l7 4-5 11-7-5zm-30-1l7 7-6 9-6-8zm-12 0l7 8-5 8-7-10zm-29-2l7 10-5 5-7-11zm-17-4l7 11-5 3-7-12zm181-39l7-14-5 1-7 15zm-41-15l7-14-5-5-7 13zm-195 29l7 11-5-10-7-9zm24-24l7 2-5-14-7-2zm53-11l7-5-5-14-7 5z"/><path color="#25c2ad" d="M722 377l6-3-5 11-6 3zm-7 2l7-2-5 11-7 2zm-7 1l7-1-5 11-7 1zm35-9l7-6-5 10-7 7zm-103 15l6 6-5 10-6-8zm121-28l7-11-6 7-6 11zm1-4l7-11-5 6-7 12zm-158 30l7 9-5 7-7-10zm156-37l7-13-5 3-7 14zm-3-7l6-13-5 1-7 14zm-214 32l7 12-5-2-7-12zm-5-2l7 12-5-2-7-12zm-5-2l7 12-6-4-6-11zm172-47l7-13-5-6-7 12zm-186 39l7 12-6-8-6-10zm169-40l7-13-5-7-7 11zm-175 26l7 8-5-11-7-8zm146-31l7-10-5-10-7 10zm-11 0l6-10-5-11-7 9zm-133 28l6 7-5-12-6-7zm102-27l7-7-5-13-7 7zm-93 20l7 4-5-14-7-3zm8-6l7 2-5-14-7-2zm67-14l7-6-6-13-6 5z"/><path color="#28c3ab" d="M728 374l7-4-5 11-7 4zm-26 6l6 0-5 11-6 0zm-32 3l7 3-6 10-6-4zm-18 0l6 5-5 10-7-6zm107-24l7-9-5 8-7 10zm5-10l6-11-5 4-6 13zm-171 31l6 10-5 5-7-10zm-17-2l6 11-5 3-7-11zm-28-5l7 11-5 0-7-12zm200-44l6-13-5-1-6 14zm-5 0l6-14-5-1-7 13zm-6-2l7-13-5-3-7 14zm-5-2l7-14-5-3-7 14zm-204 40l6 11-5-4-6-12zm199-43l7-14-5-3-7 13zm-56-8l7-11-5-9-7 11zm-159 34l6 9-5-11-6-8zm4-10l7 6-5-13-7-5zm120-25l6-10-5-11-6 9zm-62 2l6-4-5-13-6 3zm-7 2l7-2-5-14-7 2zm-6 2l6-2-5-14-7 2zm-7 1l7-1-6-14-6 1zm-7 0l7 0-5-14-7 0z"/><path color="#2bc3a8" d="M735 370l7-4-6 10-6 5zm-40 9l7 1-5 11-7-1zm55-14l6-7-5 9-6 8zm8-6l7-8-6 8-6 9zm7-17l7-12-5 4-7 13zm-3-5l6-12-5 2-6 13zm-9-8l7-13-6 0-6 13zm-199 44l6 11-5 0-7-11zm168-55l7-13-6-5-6 13zm-199 42l6 12-5-5-7-11zm-9-6l6 10-5-8-6-9zm186-40l7-12-6-7-6 12zm-190 34l7 9-5-9-7-9zm173-37l7-11-6-8-6 11zm-59-2l7-8-6-12-6 7zm-106 22l6 5-5-13-7-5zm8-5l6 4-5-14-6-3zm80-16l6-7-5-12-7 6zm-26 1l7-4-5-13-7 4zm-39 9l6 0-5-14-7 0z"/><path color="#2dc4a5" d="M742 366l6-5-5 10-7 5zm-54 12l7 1-5 11-7-2zm-25 1l7 4-5 9-7-4zm-30 1l7 6-5 8-7-7zm135-33l6-10-5 6-7 11zm-147 33l7 7-5 8-7-8zm-11-1l6 8-5 6-7-9zm-29-4l6 10-5 4-6-11zm-22-3l6 11-5 1-6-11zm199-44l7-12-5 0-7 13zm-241 28l7 11-5-7-7-10zm200-43l6-13-5-5-6 13zm-51-8l7-11-6-9-6 10zm-12 0l7-10-5-10-7 9zm-146 30l7 8-5-12-7-6zm134-32l7-9-5-10-7 8zm-55 4l7-5-5-13-7 5zm-53 11l7 2-6-14-6-1z"/><path color="#2fc5a2" d="M682 376l6 2-5 10-6-2zm74-18l7-7-5 8-7 8zm-111 20l7 5-6 9-6-6zm121-28l7-9-5 6-7 11zm3-7l7-10-6 5-6 11zm-171 33l6 8-5 6-6-10zm169-42l6-12-5 3-6 12zm-203 36l6 11-5 2-6-11zm148-62l6-13-5-5-6 12zm-17-1l6-12-5-6-6 11zm-186 40l6 9-5-8-6-9zm169-44l6-11-5-8-6 10zm-171 35l6 8-5-11-7-7zm3-7l6 7-5-12-7-6zm121-30l6-9-5-10-7 7zm-112 22l7 3-5-13-7-3zm93-20l7-7-5-11-7 6zm-18-1l6-5-5-12-6 4z"/><path color="#31c69f" d="M714 369l6-1-5 11-7 1zm6-1l7-2-5 11-7 2zm28-7l7-5-5 9-7 6zm17-10l6-8-5 7-7 9zm5-13l7-11-5 3-7 12zm-7-11l7-12-5 1-7 12zm-14-12l7-12-5-2-7 13zm-212 46l6 11-5-2-7-10zm-6-1l7 10-5-2-7-11zm213-46l7-13-5-2-7 12zm-5-3l7-12-6-3-6 12zm-227 39l7 10-5-6-7-10zm178-50l6-11-5-7-7 10zm-185 39l7 9-5-10-7-8zm6-13l7 5-6-13-6-4zm108-30l6-7-5-11-6 7zm-92 20l7 2-5-13-7-2zm22-10l6-1-5-13-6 1zm6-1l7-2-5-13-7 2zm7-2l7-2-5-13-7 2z"/><path color="#33c79c" d="M707 370l7-1-6 11-6 0zm20-4l6-2-5 10-6 3zm6-2l7-3-5 9-7 4zm22-8l7-6-6 8-6 7zm-80 17l7 3-5 10-7-3zm-18 2l6 4-5 9-6-5zm106-24l7-7-5 7-7 8zm-137 22l7 7-5 7-7-7zm-11 0l6 7-5 7-6-8zm-29-2l7 9-6 5-6-10zm186-41l7-11-6 3-6 12zm-203 39l7 9-6 3-6-11zm199-44l7-12-5 2-7 12zm-226 37l6 11-5-1-6-11zm212-46l7-12-5-1-7 12zm-228 41l7 11-5-3-7-11zm-5-3l7 11-5-5-7-10zm213-46l6-12-5-3-6 12zm-5-3l6-12-5-4-7 11zm-222 39l7 10-5-7-7-9zm200-42l6-12-5-6-7 11zm-203 37l6 9-5-9-7-8zm157-44l6-10-5-8-6 8zm-12-1l7-9-5-9-7 8zm-137 24l7 5-5-13-7-3zm88-21l7-6-5-12-7 6zm-79 16l6 3-5-13-7-2zm21-7l7 0-5-13-7 0zm27-5l6-3-5-13-6 3zm6-3l7-4-5-12-7 3z"/><path color="#35c799" d="M700 370l7 0-5 10-7-1zm40-9l7-4-5 9-7 4zm31-18l7-8-5 6-7 9zm-133 30l7 5-5 8-7-6zm135-32l6-9-5 5-6 10zm1-4l7-9-5 5-7 10zm-171 34l7 8-6 5-6-8zm173-38l6-10-5 4-7 11zm-11-17l6-12-5 0-6 12zm-5 0l6-12-5 0-7 12zm-213 46l7 11-6 0-6-11zm-31-12l7 10-6-4-6-10zm207-50l7-11-5-5-7 11zm-22-5l7-11-5-6-7 11zm-17-3l7-10-5-8-7 10zm-184 38l7 8-6-10-6-6zm173-36l6-10-5-8-7 9zm-172 34l7 7-5-10-7-6zm2-3l7 6-6-11-6-5zm134-33l7-8-5-10-7 8zm-133 28l7 6-5-12-7-5zm121-31l7-7-5-10-7 6zm-18 2l7-6-5-11-7 5zm-78 14l6 1-5-13-6-1zm6 1l7 0-5-13-7 0zm47-12l7-5-6-11-6 4z"/><path color="#38c896" d="M694 369l6 1-5 9-7-1zm53-12l6-5-5 9-6 5zm15-7l6-7-5 8-7 7zm-94 20l7 3-5 10-7-4zm-18 0l7 5-5 8-7-5zm120-26l6-8-5 7-6 8zm7-17l7-11-5 3-7 11zm-186 41l7 8-5 4-7-9zm182-46l7-11-5 2-7 12zm-199 44l7 9-5 3-7-9zm-22-4l7 10-5 1-7-11zm-41-16l6 10-5-6-6-9zm207-51l7-11-5-5-7 11zm-216 43l7 9-5-8-7-8zm-4-7l7 8-5-9-7-7zm8-17l6 4-5-11-6-4zm8-4l7 3-6-12-6-2zm75-21l6-4-5-12-7 5z"/><path color="#3ac993" d="M687 367l7 2-6 9-6-2zm66-15l7-5-5 9-7 5zm17-37l6-12-5 1-6 12zm-213 46l7 9-5 2-7-10zm199-58l7-12-6-1-6 11zm-5-2l6-11-5-3-6 12zm-5-2l6-12-5-2-7 11zm-240 42l6 9-5-6-6-9zm207-51l7-11-5-5-7 10zm-17-1l7-11-5-6-7 10zm-29-4l7-9-5-8-7 9zm-11 0l6-8-5-9-6 8zm-12-1l7-8-6-9-6 7zm-30 1l6-7-5-10-6 6zm-92 18l7 2-5-13-7-1zm73-18l7-6-5-11-7 5zm-38 5l7-2-6-12-6 2zm-7 2l7-2-5-12-7 2zm-6 1l6-1-5-12-7 1z"/><path color="#3dca90" d="M732 357l7-2-6 9-6 2zm-7 2l7-2-5 9-7 2zm-6 1l6-1-5 9-6 1zm-39 5l7 2-5 9-7-3zm80-18l7-5-5 8-7 6zm8-4l7-6-5 7-7 7zm-106 24l6 3-5 9-6-4zm116-32l6-9-5 6-6 9zm-146 32l6 6-5 7-7-7zm-12 0l6 6-5 7-6-7zm159-35l7-9-5 5-7 9zm2-4l6-10-5 5-6 10zm-173 38l7 7-5 6-7-8zm-29-3l7 8-5 4-7-9zm200-44l6-10-5 2-7 11zm-217 41l7 9-5 1-7-9zm213-47l7-11-6 1-6 12zm-9-9l7-11-5-1-7 12zm-5 0l7-12-5-1-7 12zm-231 48l7 9-6-1-6-10zm-5-2l6 10-5-3-6-9zm-5-2l6 9-5-3-7-9zm220-52l7-11-5-4-7 12zm-5-3l7-12-5-3-7 11zm-234 42l6 9-5-6-7-9zm-4-4l7 8-6-8-6-7zm182-47l7-10-5-7-7 9zm-184 38l6 6-5-9-6-6zm1-3l7 6-5-10-7-6zm2-4l6 5-5-11-6-4zm134-33l7-8-5-9-7 7zm-125 25l7 3-5-11-7-3zm8-6l7 2-5-12-7-1zm55-16l7-3-5-12-7 3zm-6 3l6-3-5-12-7 3zm-27 5l7 0-6-12-6 0zm-7 0l7 0-5-12-7 0z"/><path color="#41ca8c" d="M745 352l7-4-5 9-7 4zm-6 3l6-3-5 9-7 3zm-27 6l7-1-5 9-7 1zm-7 0l7 0-5 9-7 0zm-62 5l7 4-5 8-7-5zm133-30l7-7-5 6-7 8zm-180 28l7 7-5 5-7-8zm186-41l7-10-5 3-7 11zm-2-12l7-10-5 1-7 11zm-9-7l7-11-5 0-7 11zm-231 49l7 9-5 0-7-9zm-5 0l7 9-5-1-7-9zm-21-8l7 9-5-4-7-9zm-5-4l7 9-5-4-7-9zm221-52l7-11-5-4-7 10zm-22-5l7-10-5-6-7 10zm-17-2l7-10-5-7-7 9zm-198 41l7 7-5-8-7-7zm169-46l7-9-5-8-7 8zm-11-1l6-8-5-8-7 7zm-152 33l7 5-5-11-7-4zm121-31l7-6-5-10-7 6zm-111 21l6 2-5-11-6-2zm93-20l7-5-6-11-6 5zm-25 3l6-4-5-11-6 3zm-53 10l6 1-5-12-7 0z"/><path color="#45cb89" d="M752 348l7-4-6 8-6 5zm-53 12l6 1-5 9-6-1zm-25 3l6 2-5 8-7-3zm93-21l6-6-5 7-6 7zm8-5l6-7-5 6-6 8zm-120 26l7 4-5 8-7-5zm129-47l6-10-5 3-6 10zm-200 44l7 8-5 3-7-8zm-17-2l7 8-5 3-7-9zm209-55l7-10-5 0-7 11zm-231 50l7 9-5 0-7-9zm-41-16l7 9-5-5-7-9zm221-53l7-10-6-5-6 10zm-230 45l7 9-5-7-7-8zm208-51l7-10-6-5-6 9zm-211 46l6 7-5-8-6-7zm194-50l7-9-6-6-6 8zm-12 2l7-9-5-7-7 8zm-35-2l6-7-5-9-6 7zm-12-2l7-7-6-9-6 6zm-126 31l6 4-5-11-6-3zm108-29l6-6-5-10-7 5zm-26 4l7-5-5-10-7 4zm-66 13l7 1-6-11-6-1z"/><path color="#49cb85" d="M759 344l6-4-5 7-7 5zm-67 15l7 1-5 9-7-2zm-55 2l6 5-5 7-6-6zm146-32l7-8-6 5-6 9zm1-3l7-8-5 5-7 9zm-159 36l7 5-6 6-6-6zm-12-1l7 6-5 6-7-7zm173-38l7-9-6 4-6 10zm1-5l7-9-5 4-7 10zm-186 42l7 6-5 5-7-7zm184-51l7-10-5 2-7 10zm-3-7l6-10-5 1-7 10zm-231 51l6 8-5 1-7-9zm217-61l6-10-5-1-6 10zm-5-1l6-10-5-2-7 11zm-6-1l7-11-5-2-7 10zm-5-3l7-10-5-3-7 11zm-5-2l7-11-5-3-7 10zm-5-4l7-10-6-3-6 10zm-243 51l7 9-5-6-7-8zm221-53l6-10-5-5-6 10zm-22-7l6-9-5-6-6 8zm-210 43l7 7-5-9-7-6zm2-2l6 6-5-10-7-5zm167-45l7-8-5-8-7 8zm-166 41l7 6-5-10-7-5zm2-4l6 4-5-10-7-4zm9-9l7 3-5-11-7-3zm113-28l7-6-5-9-7 5zm-25 5l7-5-5-10-7 5zm-80 17l7 1-5-11-7-1zm22-9l6 0-5-11-6 0zm6 0l7-1-5-11-7 1zm7-1l7-2-5-11-7 2zm7-2l6-2-5-11-6 2zm6-2l7-3-5-11-7 3zm7-3l7-3-6-10-6 2z"/><path color="#4ecc81" d="M724 352l6-1-5 8-6 1zm6-1l7-2-5 8-7 2zm7-2l7-2-5 8-7 2zm28-9l7-5-5 7-7 5zm-80 18l7 1-5 8-7-2zm-18 2l7 3-6 7-6-3zm106-24l7-6-5 7-7 6zm8-6l7-7-5 6-7 7zm-132 30l6 3-5 7-7-4zm-59-3l6 7-5 4-7-8zm199-44l7-9-6 2-6 10zm-216 43l6 7-5 3-7-8zm-17-4l6 8-5 1-6-8zm217-59l6-10-5-1-6 10zm-250 50l7 9-5-2-7-9zm-5-2l7 9-5-2-7-9zm-5-2l7 9-6-3-6-9zm224-61l6-10-5-4-6 10zm-243 49l7 8-6-6-6-7zm221-53l6-10-5-5-6 9zm-225 49l7 8-5-7-7-7zm-3-7l6 7-5-8-7-6zm194-49l6-8-5-7-6 8zm-12 1l7-8-6-7-6 7zm-24-1l7-7-5-9-7 7zm-11-2l6-7-5-8-7 6zm-140 34l7 4-5-10-7-4zm103-31l6-5-5-9-6 4zm-72 13l7 0-5-11-7 1zm47-11l6-3-5-11-7 4z"/><path color="#52cc7e" d="M711 353l6 0-5 8-7 0zm6 0l7-1-5 8-7 1zm27-6l6-3-5 8-6 3zm6-3l7-3-5 7-7 4zm30-14l7-6-6 6-6 7zm11-12l7-8-5 4-7 9zm2-4l6-8-5 3-7 9zm-3-8l7-9-5 2-7 10zm-3-5l6-10-5 1-6 10zm-9-8l7-10-6 0-6 10zm-244 52l6 8-5 0-7-9zm-6-1l7 9-5-1-7-9zm-20-8l6 9-5-4-6-8zm-5-3l6 8-5-4-6-8zm229-59l6-10-5-4-7 9zm-22-6l6-9-5-5-7 9zm-225 49l7 7-5-8-7-6zm208-52l6-8-5-7-7 9zm-209 39l7 5-5-9-7-4zm2-4l7 5-6-10-6-4zm10-7l6 3-5-11-7-2zm126-31l6-6-5-9-6 6zm-19 1l7-5-5-9-7 5zm-99 25l6 2-5-11-6-2zm14-7l7 0-5-10-7 0zm60-14l7-4-5-10-7 3z"/><path color="#57cc7a" d="M704 353l7 0-6 8-6-1zm53-12l7-4-5 7-7 4zm15-6l6-5-5 6-6 6zm-93 21l6 2-5 7-6-2zm-19 1l7 3-5 7-7-4zm128-34l7-7-5 5-7 8zm-158 34l7 4-5 6-7-5zm160-36l6-7-5 4-7 8zm-172 36l7 5-5 5-7-6zm-11-1l6 5-5 5-7-6zm187-47l7-8-5 3-7 9zm-216 44l6 7-5 3-6-7zm214-54l7-9-6 1-6 10zm-231 51l6 8-5 2-6-8zm222-57l7-10-5 0-7 10zm-244 52l6 8-5 0-6-8zm230-64l7-10-5-2-7 10zm-5-2l7-10-5-2-7 10zm-5-2l7-10-6-2-6 9zm-5-3l6-9-5-3-6 9zm-256 55l6 8-5-5-7-7zm228-60l7-9-5-5-7 9zm-5-5l7-9-5-4-7 8zm-232 58l6 7-5-6-6-7zm215-59l7-9-5-6-7 9zm-223 46l7 6-5-8-7-5zm2-2l7 6-6-9-6-5zm193-47l6-8-5-7-7 8zm-12 0l6-7-5-8-6 7zm-12 0l7-8-5-7-7 6zm-12-2l7-7-5-7-7 6zm-153 37l7 4-5-10-7-3zm123-37l7-5-5-9-7 5zm-113 27l7 3-5-11-7-1zm15-5l6 1-5-10-6-1zm73-17l7-5-6-9-6 4zm7-5l6-4-5-9-7 4zm-39 7l7-3-5-10-7 3zm-6 2l6-2-5-10-7 2zm-7 2l7-2-6-10-6 1zm-7 1l7-1-5-11-7 1z"/><path color="#5fcd73" d="M697 352l7 1-5 7-7-1zm67-15l6-4-5 7-6 4zm14-7l7-6-5 6-7 6zm-106 24l7 2-5 7-7-3zm115-30l6-6-5 5-7 7zm-145 32l7 4-6 6-6-5zm-47-2l6 6-5 4-6-7zm201-50l6-9-5 2-7 9zm-230 45l7 7-6 2-6-8zm222-57l7-9-5 0-7 10zm-244 53l7 8-6 0-6-8zm235-62l7-10-5-1-7 10zm-5-1l7-10-5-1-7 10zm-25-11l6-9-5-3-7 9zm-6-3l7-9-5-4-7 9zm-251 57l7 7-5-5-7-7zm-8-9l6 7-5-6-7-7zm-4-6l7 6-6-7-6-6zm219-53l7-9-5-5-7 7zm-12 2l7-9-5-6-7 8zm-198 30l7 4-6-10-6-3zm139-33l7-6-5-8-7 5zm-11-3l6-6-5-8-6 5zm-112 26l7 1-5-10-7-1zm61-19l7-4-5-9-7 3zm-6 2l6-2-5-10-6 2zm-33 8l6 0-5-11-7 1zm-7 1l7-1-6-10-6 1z"/><path color="#69cd6b" d="M749 340l7-3-6 7-6 3zm-7 2l7-2-5 7-7 2zm-6 2l6-2-5 7-7 2zm-7 1l7-1-6 7-6 1zm-38 6l6 1-5 7-7-1zm79-18l7-4-5 6-7 5zm-116 21l6 3-5 6-6-3zm141-38l6-7-5 5-6 7zm1-2l7-8-5 4-7 8zm2-4l6-7-5 3-6 8zm1-4l7-8-5 3-7 8zm-216 45l7 6-6 3-6-7zm214-54l7-9-5 2-7 9zm-4-6l7-9-5 1-7 9zm-244 54l7 7-5 1-7-8zm236-62l6-9-5-1-7 10zm-268 52l6 8-5-2-6-7zm-5-1l6 7-5-2-7-8zm-6-3l7 8-5-3-7-7zm-5-2l7 7-5-3-7-8zm237-65l7-9-5-4-7 9zm-251 56l7 7-5-5-7-7zm246-60l7-9-5-4-7 8zm-17-1l7-8-5-5-7 8zm-240 43l7 5-5-8-7-5zm206-50l7-8-5-6-7 7zm-12 1l7-8-5-6-7 6zm-192 46l6 5-5-8-6-5zm1-3l7 4-5-9-7-4zm180-44l6-7-5-7-6 7zm-12-1l7-6-6-7-6 6zm-166 40l6 4-5-9-6-3zm154-41l7-6-5-8-7 6zm-145 33l7 2-5-9-7-2zm9-6l6 2-5-10-7-1zm99-23l7-5-5-9-7 5zm-18-1l6-4-5-9-6 3zm-7 3l7-3-5-10-7 4zm-60 15l7 0-5-10-7 0z"/><path color="#72cd63" d="M756 337l6-3-5 7-7 3zm-34 9l7-1-5 7-7 1zm-6 0l6 0-5 7-6 0zm-32 4l7 1-6 7-6-2zm93-21l7-5-6 6-6 5zm8-5l7-5-5 5-7 6zm-119 27l6 3-5 6-7-3zm127-33l7-6-5 4-7 7zm-158 34l7 4-5 5-7-4zm-12 0l7 5-5 5-7-5zm-11 0l6 5-5 4-6-5zm-12-2l7 6-6 4-6-6zm201-49l6-8-5 2-6 9zm1-6l7-8-5 1-7 9zm-231 52l7 6-5 3-7-7zm228-57l6-9-5 1-7 9zm-245 54l7 6-5 2-7-7zm241-61l7-9-6 0-6 9zm-5 0l6-9-5 0-6 9zm-263 55l7 7-6-1-6-7zm-5-1l6 7-5-1-6-8zm254-66l6-9-5-2-6 9zm-5-2l6-9-5-2-6 9zm-5-2l6-9-5-2-7 9zm-6-2l7-9-5-3-7 9zm-5-3l7-9-5-3-7 9zm-259 63l7 8-5-4-7-7zm232-70l7-8-6-4-6 8zm-246 60l7 7-5-6-7-6zm229-61l7-8-5-5-7 7zm-233 56l7 7-5-7-7-6zm216-60l7-7-5-6-7 7zm-219 53l6 6-5-7-6-6zm190-58l7-6-5-7-7 6zm-11 0l6-7-5-6-7 6zm-172 41l7 3-5-9-7-3zm141-39l7-5-5-8-7 5zm-139 33l6 3-5-9-6-3zm8-4l7 1-6-9-6-1zm113-27l7-5-6-8-6 4zm-19 0l7-4-5-9-7 4zm-79 21l6 1-5-10-6-1zm-7-1l7 1-5-10-7 0zm28-10l7-1-5-9-7 1zm7-1l6-1-5-10-6 2zm6-1l7-2-5-10-7 2zm7-2l7-3-5-9-7 2zm7-3l6-2-5-9-6 2z"/><path color="#7dcc5b" d="M769 331l6-4-5 6-6 4zm-7 3l7-3-5 6-7 4zm-53 12l7 0-5 7-7 0zm75-22l6-5-5 5-7 6zm8-5l6-6-5 5-6 6zm-145 32l7 3-5 6-7-4zm154-42l7-6-5 3-7 8zm2-3l7-7-6 4-6 7zm1-3l7-8-5 3-7 8zm2-5l7-8-6 3-6 8zm-218 50l7 6-5 3-7-6zm216-60l6-8-5 1-6 9zm-272 50l7 7-5 0-7-7zm254-65l7-9-5-1-7 9zm-5-1l7-9-6-1-6 9zm-290 50l7 7-6-4-6-7zm259-63l7-9-5-3-7 8zm-5-4l7-8-6-4-6 8zm-259 63l6 7-5-5-6-6zm-9-8l7 6-6-6-6-6zm246-59l6-8-5-5-6 8zm-250 53l7 6-5-7-7-5zm233-56l7-7-6-5-6 7zm-17-4l7-7-6-6-6 7zm-12 1l7-7-5-6-7 7zm-206 49l7 5-5-8-7-4zm2-3l6 5-5-9-7-3zm1-4l7 4-5-8-7-4zm2-4l6 3-5-9-7-2zm166-39l6-6-5-8-6 6zm-12-2l7-6-6-7-6 5zm-145 32l7 2-5-9-7-2zm127-30l6-5-5-8-7 5zm-19 1l7-5-5-8-7 4zm-78 16l6-1-5-9-6 0zm6-1l7-1-5-9-7 1zm40-10l7-3-5-9-7 3zm7-3l7-4-6-8-6 3z"/><path color="#87cb54" d="M775 327l7-4-5 6-7 4zm-73 19l7 0-5 7-7-1zm-25 2l7 2-5 6-7-2zm-18 1l7 2-6 6-6-3zm141-37l7-6-6 3-6 7zm-171 36l6 4-5 5-7-5zm-12 0l6 4-5 5-6-5zm-12-1l7 5-5 4-7-6zm202-54l7-8-5 2-7 8zm-231 52l7 6-5 2-7-6zm-17-2l7 6-5 1-7-6zm241-61l7-8-5 0-7 9zm-4-8l7-8-5-1-7 9zm-259 64l7 7-5 0-7-7zm254-64l7-9-5-1-7 9zm-310 40l6 6-5-5-7-6zm259-63l6-8-5-4-6 8zm-5-4l6-8-5-4-7 8zm-17-1l6-8-5-5-6 8zm-17-3l6-7-5-6-6 7zm-231 53l6 6-5-8-7-4zm202-57l7-7-6-6-6 6zm-12-1l7-6-5-6-7 6zm-12 0l7-6-5-7-7 5zm-171 39l7 3-5-9-7-2zm141-38l7-5-5-8-7 5zm-18 1l6-4-5-8-6 4zm-107 28l7 1-5-9-7-1zm9-8l6 1-5-9-7-1zm6 1l7 0-5-10-7 1zm67-18l6-3-5-8-7 3zm6-3l7-4-5-8-7 4z"/><path color="#91ca4c" d="M727 340l7-1-5 6-7 1zm7-1l7-1-5 6-7 1zm7-1l6-2-5 6-6 2zm6-2l7-2-5 6-7 2zm7-2l7-3-5 6-7 3zm7-3l6-2-5 5-6 3zm21-8l7-4-5 5-7 5zm-86 22l6 1-5 6-6-1zm-25 1l6 2-5 6-6-3zm119-27l7-5-5 5-7 5zm8-6l7-5-5 4-7 6zm-158 35l7 3-5 5-7-4zm168-45l7-7-5 3-7 7zm2-4l6-6-5 2-7 8zm1-4l7-7-5 2-7 8zm-218 50l7 5-5 4-7-6zm216-58l7-8-6 1-6 8zm-245 54l7 6-5 2-7-6zm241-60l7-8-5 1-7 8zm-263 57l7 7-5 0-7-7zm260-64l6-8-5 0-7 8zm-287 56l7 7-5-2-7-6zm273-67l6-8-5-1-7 8zm-6-1l7-8-5-2-7 8zm-272 67l7 6-5-1-7-7zm-5-2l7 7-6-3-6-7zm272-67l7-8-5-2-7 8zm-5-2l7-8-5-2-7 8zm-272 66l6 7-5-2-6-7zm-5-2l6 7-5-4-7-6zm272-66l7-8-6-3-6 8zm-5-3l6-8-5-3-6 8zm-273 66l7 6-5-3-7-7zm268-69l6-8-5-3-6 8zm-282 59l7 6-5-5-7-6zm254-66l7-8-5-4-7 7zm-257 61l6 6-5-6-6-5zm241-63l6-8-5-4-7 7zm-245 57l7 5-5-7-7-4zm228-61l6-7-5-5-7 6zm-12 1l6-7-5-5-6 6zm-218 49l7 4-6-7-6-4zm1-3l7 3-5-8-7-3zm2-5l7 4-6-8-6-3zm168-43l6-6-5-6-7 5zm-158 35l6 3-5-9-7-2zm146-37l6-5-5-7-6 4zm-19 2l7-5-5-7-7 4zm-119 31l6 1-5-9-6-1zm8-7l7 0-6-9-6 0zm93-24l7-4-6-8-6 4zm-32 5l7-3-5-8-7 2zm-6 2l6-2-5-9-7 3zm-7 2l7-2-6-8-6 2zm-7 2l7-2-5-8-7 1zm-6 2l6-2-5-9-7 2zm-7 1l7-1-6-9-6 1zm-7 1l7-1-5-9-7 1z"/><path color="#9bc944" d="M714 341l7-1-5 6-7 0zm7-1l6 0-5 6-6 0zm46-11l7-4-5 6-7 3zm7-4l7-3-6 5-6 4zm15-6l6-5-5 5-6 5zm-100 25l7 1-5 6-7-1zm108-30l7-5-6 4-6 6zm8-6l7-6-5 4-7 6zm-153 38l7 3-5 5-7-3zm155-40l6-7-5 4-7 6zm6-16l6-7-5 2-7 8zm1-5l7-7-5 1-7 8zm-233 58l7 5-5 3-7-6zm229-63l7-8-5 1-7 8zm-3-6l6-8-5 0-6 8zm-259 64l6 6-5 1-7-7zm-23-6l7 6-5 0-7-7zm273-67l7-8-6-1-6 8zm-5-1l6-8-5-1-6 8zm-273 67l7 7-5-1-7-7zm-36-16l7 7-5-4-7-6zm268-68l6-8-5-4-7 8zm-273 65l7 6-5-4-7-6zm267-69l7-8-5-3-7 7zm-276 61l7 6-5-6-7-5zm254-66l7-7-5-4-7 6zm-257 61l6 5-5-6-7-5zm240-63l7-7-5-5-7 6zm-244 56l7 4-6-6-6-5zm227-61l7-6-5-5-7 6zm-226 59l7 4-5-7-7-4zm215-58l6-6-5-6-7 6zm-12 0l6-6-5-6-6 6zm-12 0l7-6-5-6-7 5zm-12-2l7-5-5-6-7 5zm-173 45l7 2-5-8-7-2zm2-6l7 2-6-8-6-2zm159-40l7-5-5-7-7 5zm-18 2l7-5-6-7-6 5zm-133 34l7 2-5-9-7-1zm8-6l7 1-5-9-7 0zm107-27l6-4-5-7-7 3zm-26 3l7-3-5-8-7 3zm-6 3l6-3-5-8-6 3zm-53 13l6 0-5-9-6 1zm-7 1l7-1-5-8-7 0z"/><path color="#a5c83d" d="M708 340l6 1-5 5-7 0zm73-18l6-4-5 5-7 4zm14-8l7-4-5 4-7 5zm-113 29l7 1-5 6-7-2zm-18 1l7 2-5 5-7-2zm140-35l6-5-5 4-7 5zm-170 35l6 4-5 4-6-4zm181-48l6-6-5 3-6 6zm-193 49l7 3-6 4-6-4zm-12-1l7 4-5 4-7-5zm206-51l7-7-5 2-7 7zm2-5l6-7-5 2-6 7zm-220 55l7 4-5 3-7-5zm-28-3l6 5-5 2-7-6zm246-61l6-7-5 0-7 8zm-263 58l6 6-5 1-6-6zm259-64l7-7-6 0-6 8zm-4-7l7-8-5 0-7 8zm-5 0l7-8-5-1-7 8zm-272 66l6 6-5 0-7-6zm258-78l7-8-5-2-7 8zm-5-2l7-8-6-2-6 8zm-5-2l6-8-5-2-6 8zm-5-2l6-8-5-3-7 8zm-6-3l7-8-5-2-7 7zm-5-3l7-7-5-3-7 7zm-289 66l7 6-6-5-6-6zm267-69l7-7-5-4-7 7zm-5-4l7-7-5-4-7 7zm-271 64l7 5-5-5-7-5zm254-66l7-6-5-5-7 7zm-258 60l7 5-5-6-7-5zm241-63l7-6-5-5-7 6zm-29-4l7-6-5-5-7 5zm-212 54l6 4-5-8-6-3zm1-4l7 3-5-7-7-3zm200-50l6-6-5-6-6 6zm-12-1l7-5-6-6-6 5zm-186 47l6 3-5-8-6-3zm156-46l6-4-5-7-7 4zm-147 37l7 2-5-8-7-2zm9-5l6 1-5-8-7-1zm119-30l7-4-5-7-7 4zm-18 0l6-4-5-7-6 3zm-7 4l7-4-5-8-7 4zm-80 19l7 1-5-9-7 0zm-6 0l6 0-5-8-6 0zm28-10l6-1-5-8-6 1zm6-1l7-2-5-8-7 2zm7-2l7-1-5-9-7 2zm7-1l6-2-5-8-6 1zm6-2l7-3-5-8-7 3zm7-3l7-2-5-8-7 2z"/><path color="#aec637" d="M701 340l7 0-6 6-6-1zm86-22l7-4-5 5-7 4zm-111 23l6 2-5 5-6-2zm136-39l6-6-5 3-6 7zm-166 41l6 3-5 5-7-3zm167-44l7-6-5 3-7 7zm-226 42l6 4-5 3-7-5zm232-58l7-7-5 2-7 7zm2-5l6-7-5 1-6 7zm-4-6l7-7-5 1-7 7zm-259 64l6 5-5 2-6-6zm255-70l7-7-5-1-7 8zm-277 66l6 6-5 0-6-6zm269-75l6-7-5-1-7 7zm-6-1l7-7-5-1-7 7zm-5-1l7-7-5-2-7 8zm-36-16l7-7-5-4-7 7zm-5-4l7-7-5-3-7 7zm-284 68l6 6-5-5-6-5zm262-72l7-7-6-4-6 7zm-17-2l7-7-5-4-7 6zm-17-4l7-6-5-5-7 6zm-239 60l6 5-5-7-6-4zm1-2l7 4-5-7-7-4zm226-57l7-6-5-5-7 5zm-220 41l7 2-5-8-7-2zm173-43l7-5-5-7-7 5zm-12-2l7-5-5-6-7 4zm-159 39l6 2-5-8-6-1zm8-4l7 1-6-8-6-1zm133-33l6-5-5-6-6 4zm-19 0l7-3-5-7-7 3zm-106 27l7 0-5-8-7 0zm15-8l7 0-6-8-6 0zm7 0l6-1-5-8-7 1zm6-1l7-1-5-8-7 1zm47-12l6-3-5-8-6 3zm6-3l7-3-5-8-7 3z"/><path color="#b8c531" d="M764 324l7-3-10 10-7 3zm-6 2l6-2-10 10-7 2zm-7 1l7-1-11 10-6 2zm-7 2l7-2-10 11-7 1zm-50 10l7 1-5 5-7-1zm100-25l7-4-6 4-6 5zm8-4l7-5-5 4-7 5zm-145 32l7 2-5 5-7-3zm153-38l7-6-5 4-7 6zm-171 37l7 2-6 5-6-4zm-12 0l7 3-5 4-7-3zm193-48l6-6-5 3-6 6zm1-3l7-6-5 2-7 7zm-206 51l7 4-5 3-7-4zm-11-1l6 4-5 3-7-4zm219-54l6-6-5 1-6 7zm1-5l7-6-5 1-7 7zm-232 58l6 4-5 2-6-4zm-17-1l6 5-5 2-6-5zm247-66l7-7-5 0-7 7zm-3-6l6-7-5 0-7 7zm-278 66l7 6-6 0-6-6zm269-74l6-7-5-1-6 7zm-14-12l6-7-5-2-6 7zm-299 71l13 12-5-2-13-12zm-5-2l13 12-5-3-14-11zm299-71l6-7-5-2-7 7zm-6-2l7-7-5-2-7 7zm-299 71l14 11-5-2-14-11zm-5-2l14 11-6-3-13-11zm299-71l7-7-5-3-7 7zm-5-3l7-7-5-2-7 7zm-5-2l7-7-6-3-6 7zm-22-3l7-7-6-4-6 7zm-284 67l6 5-5-5-6-5zm279-71l6-7-5-3-6 6zm-283 66l7 5-6-6-6-4zm266-67l6-7-5-4-6 6zm-5-5l6-6-5-4-6 6zm-265 65l7 5-5-7-7-3zm253-63l7-6-6-5-6 6zm-17-4l7-6-6-5-6 6zm-12 0l7-5-5-6-7 6zm-226 56l7 4-5-7-7-3zm2-3l6 3-5-7-6-3zm212-53l7-5-5-6-7 5zm-11 0l6-6-5-5-7 5zm-200 49l7 3-5-8-7-2zm2-5l6 3-5-8-6-2zm186-45l6-5-5-6-6 4zm-12-2l7-5-6-6-6 5zm-165 38l7 2-5-8-7-1zm146-36l7-4-5-6-7 4zm-11-2l6-4-5-7-6 4zm-7 4l7-4-5-7-7 4zm-120 29l7 1-5-8-7-1zm15-7l7 0-5-8-7 0zm80-19l7-4-6-7-6 3zm7-4l6-3-5-7-7 3zm-32 4l7-2-6-7-6 2zm-7 3l7-3-5-7-7 2zm-6 1l6-1-5-8-7 2zm-7 2l7-2-6-7-6 2zm-7 2l7-2-5-7-7 1zm-6 1l6-1-5-8-6 1z"/><path color="#c0c32c" d="M778 319l6-3-10 9-7 4zm-7 2l7-2-11 10-6 2zm-33 9l6-1-10 10-7 1zm-7 0l7 0-11 10-6 0zm-43 8l6 1-5 5-7-1zm113-28l6-4-5 4-7 4zm8-5l6-5-5 4-6 5zm-140 35l7 1-5 5-7-2zm-18 0l6 2-5 4-6-3zm166-42l6-5-5 3-6 6zm1-2l7-5-5 2-7 6zm-238 40l7 5-6 2-6-5zm246-60l6-6-5 1-6 7zm-263 59l7 5-6 1-6-5zm261-70l6-7-5 1-6 7zm-278 67l7 5-5 1-7-6zm274-73l7-7-6-1-6 7zm-5-1l6-7-5 0-6 7zm-9-9l7-7-5-2-7 8zm-299 71l13 11-5-1-13-11zm-5-1l13 11-5-1-13-12zm299-71l7-8-6-1-6 7zm-325 60l13 11-5-4-13-10zm-5-3l13 10-5-3-13-11zm294-73l6-7-5-3-6 6zm-5-4l6-6-5-3-6 6zm-5-3l6-6-5-4-7 6zm-17-1l6-6-5-4-7 6zm-279 70l6 5-5-5-7-4zm273-74l7-6-5-4-7 6zm-277 69l6 4-5-6-6-4zm261-71l6-6-5-5-7 6zm-12 1l6-6-5-5-6 6zm-253 63l7 3-5-6-7-3zm2-3l6 4-5-7-6-3zm234-64l6-6-5-5-6 5zm-12 0l7-6-6-5-6 5zm-12-1l7-5-5-5-7 5zm-12 0l7-5-5-6-7 5zm-11-2l6-4-5-6-7 4zm-180 47l7 2-5-7-7-2zm161-44l7-4-5-6-7 4zm-12-2l7-4-5-7-7 4zm-139 36l6 1-5-8-6 0zm8-6l7 0-6-8-6 0zm7 0l6 0-5-8-7 0zm99-26l7-3-5-7-7 3zm7-3l7-4-6-6-6 3zm-25 2l6-3-5-6-6 2zm-7 3l7-3-5-7-7 3zm-6 3l6-3-5-7-7 3zm-47 12l7-1-5-8-7 1zm-7 1l7-1-5-8-7 1z"/><path color="#c9c129" d="M791 313l7-3-11 8-6 4zm-7 3l7-3-10 9-7 3zm-60 15l7-1-10 10-7 1zm-6 0l6 0-10 10-6-1zm-37 6l7 1-6 5-6-2zm126-31l7-4-5 3-7 5zm8-6l7-5-5 3-7 6zm-152 38l6 2-5 4-7-2zm162-47l7-6-6 2-6 6zm-193 47l7 3-5 3-7-3zm-12 0l7 3-5 4-7-4zm206-51l7-5-5 2-7 6zm2-3l7-6-6 2-6 6zm-219 54l6 3-5 3-6-4zm-12-1l7 3-6 3-6-4zm232-57l7-7-5 2-7 6zm2-5l7-6-6 1-6 6zm-4-4l7-7-5 1-7 7zm-259 63l7 4-5 2-7-5zm261-69l6-7-5 0-6 7zm-278 66l7 5-5 1-7-5zm274-72l7-7-5 0-7 7zm-9-8l7-7-5-1-7 7zm-299 71l14 10-6 0-13-11zm-5-1l13 11-5-1-13-11zm299-71l7-7-5-1-7 7zm-9-11l7-7-5-2-7 7zm-5-2l7-7-5-1-7 6zm-5-2l7-6-5-3-7 7zm-5-2l7-7-6-2-6 6zm-5-3l6-6-5-3-6 7zm-5-2l6-7-5-2-7 6zm-311 73l13 11-5-4-13-10zm-5-3l13 10-5-5-13-9zm288-77l7-6-5-3-7 6zm-5-3l7-6-5-4-7 6zm-291 72l7 4-5-5-7-4zm274-74l7-6-5-4-7 6zm-277 67l6 4-5-5-6-4zm260-70l7-6-5-4-7 5zm-11 1l6-6-5-4-7 5zm-251 59l6 3-5-6-7-3zm1-3l7 3-5-7-7-2zm233-61l6-5-5-5-7 5zm-12 0l6-5-5-5-6 5zm-219 57l6 3-5-7-7-2zm1-4l7 2-5-7-7-2zm206-53l7-5-5-5-7 4zm-12-1l7-5-5-5-7 4zm-192 49l6 2-5-7-7-1zm8-3l6 1-5-7-6-1zm166-43l6-5-5-5-6 4zm-12-2l7-4-6-6-6 3zm-153 39l7 1-5-7-7-1zm8-6l7 1-5-8-7 0zm127-32l6-4-5-6-7 4zm-19 0l7-3-5-6-7 3zm-7 3l7-3-5-6-7 3zm-79 22l6 0-5-8-6 1zm-7 0l7 0-5-7-7 0zm22-10l6-1-5-7-7 1zm6-1l7-1-5-8-7 2zm7-1l6-2-5-7-6 1zm6-2l7-2-5-7-7 2zm7-2l7-2-5-7-7 2zm7-2l6-2-5-7-6 2z"/><path color="#d0bf27" d="M798 310l6-3-10 7-7 4zm-87 21l7 0-10 9-7 0zm-37 5l7 1-5 4-7-1zm140-34l6-5-5 3-6 5zm8-7l7-4-6 2-6 5zm-178 43l7 2-5 3-7-2zm179-45l7-5-5 3-7 5zm10-11l7-6-5 2-7 6zm2-4l6-6-5 1-7 7zm-250 57l7 4-5 2-7-5zm247-65l7-7-5 1-7 7zm2-6l7-6-6 0-6 7zm-278 67l7 4-5 1-7-5zm274-73l7-6-5 0-7 7zm-3-6l6-7-5 0-7 6zm-305 71l14 9-5 0-14-10zm299-72l7-6-5-1-7 7zm-3-8l6-6-5-2-6 7zm-5-1l6-7-5-1-6 6zm-5-2l6-6-5-2-7 7zm-37-15l7-6-5-3-7 6zm-5-3l7-6-5-3-7 6zm-5-3l7-6-5-4-7 6zm-305 75l13 9-5-4-14-9zm283-80l7-6-5-3-7 5zm-291 71l7 4-5-6-7-3zm274-73l7-6-5-4-7 5zm-5-5l7-5-6-4-6 5zm-272 71l6 4-5-6-7-3zm1-2l7 3-5-6-7-3zm259-68l7-5-5-4-7 5zm-12 1l7-5-5-5-7 5zm-5-5l7-5-5-4-7 4zm-12 0l7-5-5-4-7 4zm-232 60l7 2-6-6-6-2zm1-4l7 2-5-7-7-2zm220-56l6-5-5-5-6 5zm-12-1l7-4-6-6-6 5zm-198 49l7 2-5-7-7-2zm179-46l7-4-5-6-7 5zm7-4l7-4-5-6-7 4zm-18 3l6-4-5-6-7 4zm-166 42l6 1-5-7-7-1zm8-5l6 0-5-7-6 0zm139-36l7-4-5-5-7 3zm7-4l6-3-5-6-6 4zm-25 5l6-3-5-7-6 4zm-107 28l7 0-5-7-7 0zm-6 0l6 0-5-7-6 0zm15-7l6-1-5-7-7 1zm6-1l7-1-5-7-7 1zm7-1l7-1-6-7-6 1zm46-11l7-3-5-7-7 3zm7-3l7-3-5-6-7 2zm7-3l6-2-5-7-6 3z"/><path color="#d4be27" d="M804 307l7-4-10 7-7 4zm-99 24l6 0-10 9-7-1zm-37 4l6 1-5 4-6-2zm152-38l7-4-5 2-7 5zm-164 39l7 2-6 4-6-2zm-19-1l7 3-5 3-7-3zm193-47l7-5-5 2-7 6zm2-3l6-5-5 2-7 5zm-206 51l6 2-5 3-7-3zm-12-1l6 3-5 3-6-3zm-12-1l7 4-5 2-7-3zm-12-1l7 4-5 2-7-4zm246-60l7-6-5 2-7 6zm2-4l6-6-5 0-7 7zm-265 64l7 3-5 2-7-4zm266-70l7-6-5 1-7 6zm-277 67l6 4-5 1-7-4zm273-72l7-6-5 0-7 6zm-3-6l6-6-5-1-6 7zm-304 71l13 9-5 0-14-9zm300-78l7-7-5 0-7 6zm-5-1l7-6-6-1-6 6zm-9-10l7-6-5-2-7 6zm-5-2l7-6-5-2-7 6zm-5-2l7-6-6-2-6 7zm-5-1l6-7-5-2-6 6zm-5-3l6-6-5-2-7 6zm-6-2l7-6-5-3-7 6zm-5-3l7-6-5-2-7 6zm-5-2l7-6-5-3-7 6zm-5-3l7-6-6-3-6 6zm-323 74l14 9-5-5-14-8zm306-75l7-6-5-3-7 6zm-5-3l7-6-6-3-6 5zm-5-4l6-5-5-4-6 6zm-12 2l7-5-6-4-6 5zm-291 70l7 3-5-5-7-3zm286-74l6-5-5-4-6 5zm-17-3l6-5-5-4-6 5zm-12 1l7-5-5-5-7 5zm-259 66l7 3-6-6-6-3zm1-3l7 3-5-6-7-3zm241-68l7-4-5-5-7 5zm-12 0l7-4-5-5-7 4zm-11 0l6-5-5-5-7 4zm-213 56l7 2-6-6-6-2zm1-4l7 1-5-7-7-1zm200-53l6-5-5-5-6 4zm-19 3l7-5-5-5-7 4zm-179 44l7 2-6-7-6-1zm8-4l7 1-5-7-7-1zm159-42l7-4-5-5-7 3zm-18 1l7-3-5-6-7 3zm-7 4l7-4-5-6-7 3zm-126 31l7 0-5-7-7 0zm8-7l7 0-5-7-7 1zm7 0l7 0-6-7-6 0zm86-21l7-3-5-7-7 3zm7-3l7-3-6-6-6 2zm7-3l6-4-5-5-7 3zm-32 4l7-2-6-6-6 2zm-7 3l7-3-5-6-7 2zm-6 2l6-2-5-7-7 2zm-7 2l7-2-6-7-6 2zm-7 2l7-2-5-7-7 2zm-6 1l6-1-5-7-6 2zm-7 2l7-2-5-6-7 1zm-7 1l7-1-5-7-7 1zm-6 1l6-1-5-7-6 1z"/><path color="#d8be28" d="M818 299l6-3-10 6-7 4zm-7 4l7-4-11 7-6 4zm-113 28l7 0-11 8-6-1zm129-38l7-5-5 3-7 4zm2-2l6-5-5 2-7 5zm-180 44l7 1-5 4-7-2zm188-52l6-5-5 2-6 5zm1-3l7-6-5 2-7 6zm2-4l6-5-5 1-6 6zm1-4l7-6-5 1-7 6zm2-5l6-5-5 1-6 6zm-265 64l7 4-5 1-7-3zm263-73l6-6-5 0-7 6zm-4-6l7-6-6 0-6 6zm-304 71l13 9-5 0-13-9zm300-78l7-6-5-1-7 7zm-9-8l7-7-5-1-7 6zm-5-2l7-6-5-1-7 6zm-19-15l7-6-5-2-7 6zm-5-2l7-6-5-2-7 5zm-27-5l6-6-5-3-6 5zm-5-4l6-5-5-3-6 5zm-5-3l6-5-5-3-7 5zm-313 80l14 8-6-4-13-8zm-5-4l13 8-5-5-13-7zm301-77l6-6-5-3-7 5zm-6-4l7-5-5-4-7 5zm-11 1l6-5-5-4-7 5zm-286 73l7 3-6-5-6-3zm1-2l7 3-5-6-7-3zm279-75l7-5-5-4-7 5zm-11 1l6-5-5-4-6 4zm-271 65l6 3-5-6-6-2zm259-65l7-5-6-4-6 5zm-5-4l6-5-5-4-6 4zm-253 66l7 3-5-6-7-3zm2-3l6 2-5-7-6-1zm239-63l7-5-6-4-6 4zm-12-1l7-4-5-5-7 4zm-226 59l7 2-5-6-7-2zm2-4l6 2-5-7-6-1zm212-56l7-4-5-4-7 3zm-11-1l6-4-5-4-7 3zm-7 4l7-4-6-5-6 4zm-185 44l7 1-5-7-7-1zm173-45l7-4-5-5-7 4zm-12-2l7-3-5-6-7 4zm-6 4l6-4-5-5-6 3zm-146 38l6 0-5-7-7 0zm8-7l6 0-5-6-7 0zm119-31l7-3-5-5-7 3zm7-3l7-3-6-5-6 3zm-25 3l6-2-5-6-6 3zm-7 3l7-3-5-5-7 2zm-6 3l6-3-5-6-7 3zm-67 17l7-1-5-7-7 1zm-7 1l7-1-5-7-7 1zm35-14l7-2-5-6-7 2zm7-2l6-2-5-6-6 2z"/><path color="#dcbd29" d="M741 323l7-1-10 8-7 0zm7-1l7-1-11 8-6 1zm7-1l6-2-10 8-7 2zm6-2l7-1-10 8-7 1zm7-1l7-2-11 8-6 2zm7-2l6-2-10 7-7 3zm6-2l7-2-10 7-7 2zm7-2l7-3-11 7-6 3zm36-16l7-4-11 5-6 5zm-133 34l7 1-10 7-7-1zm-30 3l7 2-5 3-7-2zm173-45l6-4-5 2-6 5zm1-2l7-5-5 2-7 5zm-204 47l6 2-5 3-6-2zm-12 0l7 3-6 2-6-3zm-12 0l7 2-5 3-7-4zm239-62l7-6-5 1-7 6zm-251 61l7 2-5 3-7-4zm249-69l7-6-5 0-7 6zm-277 66l6 4-5 1-6-4zm279-72l6-5-5 0-6 6zm-4-5l7-6-5 0-7 6zm-304 71l13 8-5 1-13-9zm300-77l7-6-5-1-7 6zm-3-8l6-5-5-1-6 6zm-5 0l6-6-5-2-7 7zm-4-9l7-6-6-1-6 6zm-332 83l13 8-5-1-13-9zm-5-2l13 9-5-2-14-9zm332-82l6-6-5-2-6 6zm-5-2l6-6-5-1-6 5zm-333 82l14 9-5-2-14-9zm-5-2l14 9-6-2-13-9zm333-82l6-5-5-2-7 5zm-6-2l7-5-5-3-7 6zm-332 82l13 9-5-2-13-9zm-5-2l13 9-5-3-13-9zm-5-3l13 9-5-3-13-9zm-5-3l13 9-5-4-13-8zm332-81l7-5-6-3-6 6zm-5-2l6-6-5-2-6 5zm-5-3l6-5-5-3-7 5zm-6-3l7-5-5-3-7 5zm-5-3l7-5-5-3-7 5zm-17-1l7-5-5-4-7 5zm-5-4l7-5-5-3-7 5zm-312 79l13 7-5-5-13-7zm295-81l7-5-5-4-7 5zm-297 73l6 3-5-6-6-2zm280-76l7-5-5-4-7 5zm-279 73l7 3-5-6-7-2zm268-73l6-4-5-4-7 4zm-6-4l7-4-5-4-7 4zm-11 0l6-4-5-4-7 4zm-12 0l6-4-5-5-6 4zm-239 62l6 1-5-6-7-1zm227-63l7-4-5-4-7 4zm-12-1l7-3-5-5-7 4zm-206 56l7 1-5-6-7-1zm2-5l6 1-5-7-6 0zm186-48l6-4-5-5-6 4zm6-4l7-3-5-5-7 3zm-18 3l7-4-6-5-6 3zm-166 44l7 1-6-7-6 0zm8-6l7 0-6-6-6 0zm140-37l6-3-5-6-7 4zm-19 1l7-3-5-6-7 3zm-7 3l7-3-5-6-7 3zm-99 26l6 0-5-7-6 1zm-7 1l7-1-5-6-7 0zm15-9l7-1-6-6-6 1zm7-1l6-1-5-6-7 1zm6-1l7-1-5-6-7 1zm7-1l7-1-6-7-6 2zm7-1l6-2-5-6-7 1zm19-6l7-2-5-6-7 2zm7-2l7-2-5-6-7 2zm7-2l6-2-5-6-6 2zm6-2l7-3-5-6-7 3zm7-3l7-2-5-6-7 2z"/><path color="#e0bc2a" d="M728 324l7 0-11 7-6 0zm7 0l6-1-10 7-7 1zm60-15l6-3-10 7-7 3zm6-3l7-2-10 6-7 3zm30-14l6-4-10 5-7 4zm-146 38l6 0-10 7-7-1zm-31 2l7 1-5 3-7-1zm188-51l7-5-6 2-6 5zm-199 52l6 2-5 3-7-3zm200-55l7-5-5 1-7 6zm2-4l7-5-6 2-6 5zm3-8l7-5-6 1-6 5zm-264 64l6 3-5 2-7-4zm265-68l7-6-5 1-7 6zm2-5l7-5-6 0-6 5zm-279 71l6 3-5 2-6-4zm275-76l7-6-5 0-7 6zm-304 71l13 8-5 0-13-8zm306-77l6-5-5-1-6 6zm-5 0l6-6-5 0-7 6zm1-6l7-6-5 0-7 5zm-5-1l7-5-6-1-6 5zm-4-7l7-6-5-1-7 5zm-332 82l13 8-5-1-13-8zm-5-1l13 8-5-1-13-8zm332-83l7-5-5-2-7 6zm-9-10l7-5-5-2-7 6zm-5-1l7-6-5-2-7 6zm-5-2l7-6-5-2-7 5zm-5-3l7-5-6-2-6 5zm-5-2l6-5-5-3-6 6zm-5-2l6-6-5-2-7 5zm-6-3l7-5-5-3-7 6zm-338 86l13 8-5-3-14-8zm-6-3l14 8-5-4-14-7zm339-85l7-6-5-2-7 5zm-5-3l7-5-5-3-7 5zm-17-1l7-5-5-3-7 5zm-5-3l7-5-5-3-7 4zm-5-4l7-4-6-4-6 5zm-324 79l13 7-5-5-13-6zm312-77l7-5-5-4-7 5zm-5-4l7-5-6-3-6 4zm-12 1l7-5-5-3-7 4zm-5-4l7-4-6-4-6 4zm-291 73l7 2-5-5-7-2zm279-72l7-5-5-4-7 5zm-5-4l7-5-5-3-7 4zm-272 73l6 2-5-6-7-2zm1-4l7 3-5-6-7-2zm259-69l7-4-5-4-7 4zm-12 0l7-4-5-5-7 4zm-244 61l7 2-5-6-7-2zm233-62l6-4-5-4-6 4zm-12 0l7-4-6-5-6 4zm-219 58l6 1-5-6-7-1zm1-5l7 1-5-6-7-1zm206-54l7-4-5-5-7 4zm-12-2l7-3-5-5-7 4zm-6 4l6-4-5-4-7 3zm-180 47l7 1-5-6-7-1zm2-5l6 0-5-6-6 0zm6 0l7 0-5-6-7 0zm153-40l7-4-5-5-7 3zm7-4l6-3-5-5-6 3zm-19 2l7-4-5-5-7 3zm-6 3l6-3-5-6-6 3zm-127 33l7 0-5-7-7 1zm-6 0l6 0-5-6-6 0zm15-7l6-1-5-6-7 1zm6-1l7-1-5-6-7 1zm87-22l6-3-5-6-6 3zm6-3l7-3-5-5-7 2zm7-3l7-3-6-5-6 3zm-32 5l7-3-5-5-7 2zm-6 2l6-2-5-6-7 2zm-7 2l7-2-6-6-6 2zm-7 2l7-2-5-6-7 2zm-6 2l6-2-5-6-7 2zm-7 2l7-2-6-6-6 2zm-7 1l7-1-5-6-7 1zm-6 2l6-2-5-6-6 2zm-7 1l7-1-5-6-7 1z"/><path color="#e4bb2c" d="M715 325l6 0-10 6-6 0zm6 0l7-1-10 7-7 0zm87-21l7-3-11 6-6 3zm7-3l6-4-10 6-7 4zm22-13l7-4-10 4-7 5zm-159 41l7 1-11 6-6-1zm-30 1l6 2-5 3-6-2zm192-46l7-5-5 2-7 5zm9-8l6-4-5 1-7 5zm-213 55l7 2-6 2-6-2zm-12 0l7 2-5 3-7-3zm226-58l7-5-5 1-7 5zm2-4l6-5-5 1-7 6zm-240 62l7 2-5 2-7-2zm-11-1l6 3-5 1-7-2zm252-65l7-5-5 1-7 5zm2-4l6-5-5 0-7 6zm-266 68l6 3-5 1-6-3zm-12-2l7 3-6 1-6-3zm279-71l7-5-5 1-7 5zm-4-4l7-6-5 0-7 6zm2-6l7-5-6 0-6 5zm-306 77l14 7-6 1-13-8zm302-83l7-5-5-1-7 6zm-3-6l6-6-5-1-7 6zm-333 82l14 7-6 0-13-8zm-5-1l13 8-5-1-13-8zm332-82l7-6-5-1-7 6zm-3-8l6-5-5-2-6 5zm-5-2l6-5-5-1-7 5zm-6-1l7-5-5-2-7 5zm-3-9l6-5-5-2-6 5zm-5-2l6-5-5-2-6 5zm-5-2l6-5-5-2-7 5zm-6-2l7-5-5-3-7 5zm-5-3l7-5-5-2-7 5zm-5-2l7-5-5-2-7 4zm-5-3l7-4-6-3-6 5zm-351 88l14 7-6-4-13-7zm-5-4l13 7-5-4-13-6zm339-84l7-5-6-3-6 5zm-5-3l6-5-5-3-6 5zm-5-3l6-5-5-3-6 5zm-5-3l6-5-5-3-7 4zm-12 1l6-5-5-3-6 4zm-5-4l6-4-5-3-7 4zm-319 82l13 6-5-5-14-6zm307-81l6-4-5-4-6 5zm-5-3l6-5-5-3-7 4zm-299 80l6 2-5-5-7-2zm287-80l6-4-5-4-6 4zm-5-4l6-4-5-3-6 4zm-286 76l7 2-6-6-6-2zm1-4l7 2-5-5-7-2zm273-71l7-4-6-4-6 4zm-12 0l7-4-5-4-7 3zm-259 68l7 2-6-6-6-2zm1-4l7 1-5-6-7-1zm246-65l7-4-5-4-7 4zm7-4l7-3-6-4-6 3zm-12 0l7-4-5-4-7 4zm-6 4l6-4-5-4-7 3zm-233 60l7 2-6-6-6-1zm1-4l7 1-5-6-7-1zm220-57l6-4-5-4-6 3zm6-4l7-3-5-4-7 3zm-18 3l7-4-6-4-6 3zm-199 54l6 0-5-6-7 0zm1-6l7 1-5-6-7-1zm179-46l7-3-5-5-7 3zm7-3l7-4-5-4-7 3zm-18 1l6-3-5-5-6 3zm-7 3l7-3-5-5-7 3zm-153 40l7 0-5-6-7 0zm8-6l7-1-5-6-7 1zm7-1l7 0-6-6-6 0zm120-32l6-3-5-5-7 3zm6-3l7-3-5-4-7 2zm-18 1l6-3-5-5-6 3zm-7 2l7-2-5-5-7 2zm-6 3l6-3-5-5-7 3zm-7 2l7-2-6-5-6 2zm-67 18l7-1-5-6-7 1zm-6 1l6-1-5-6-6 1zm-7 1l7-1-5-6-7 1zm22-10l6-2-5-5-7 1zm6-2l7-1-5-6-7 2zm7-1l6-2-5-5-6 1zm6-2l7-2-5-5-7 2zm7-2l7-2-5-5-7 2zm7-2l6-2-5-5-6 2zm6-2l7-2-5-5-7 2z"/><path color="#e7bb2e" d="M708 325l7 0-10 6-7 0zm113-28l7-3-10 5-7 4zm7-3l6-3-10 5-6 3zm16-10l7-4-11 4-6 4zm-173 44l7 1-10 6-7-2zm176-49l7-4-5 1-7 5zm8-7l7-5-5 1-7 5zm-226 57l7 2-5 2-7-2zm-12 0l7 2-5 2-7-2zm240-61l6-4-5 0-6 5zm1-4l7-4-5 0-7 5zm-252 65l6 2-5 2-6-3zm-12-1l7 2-6 2-6-3zm266-68l6-5-5 1-6 5zm1-4l7-5-5 0-7 5zm-3-4l6-6-5 0-7 6zm-305 71l14 6-5 1-14-7zm306-77l7-5-5 0-7 5zm2-5l6-5-5-1-7 6zm-6 0l7-6-5 0-7 5zm2-6l7-5-6-1-6 5zm-338 81l14 7-5 0-14-7zm333-82l6-5-5-1-6 6zm-4-7l7-5-5-1-7 5zm-5-1l7-5-6-1-6 5zm-4-8l7-5-5-2-7 6zm-5-1l7-6-5-1-7 5zm-5-2l7-5-6-2-6 5zm-9-11l7-5-5-2-7 5zm-5-2l7-5-5-2-7 4zm-5-3l7-4-6-3-6 5zm-5-2l6-5-5-2-6 5zm-17 0l6-5-5-3-6 5zm-5-3l6-5-5-3-7 5zm-6-3l7-5-5-2-7 4zm-345 89l13 6-5-4-13-6zm-5-4l13 6-5-4-13-6zm345-88l7-4-5-3-7 4zm-5-3l7-4-5-3-7 4zm-12 1l7-4-5-3-7 4zm-5-3l7-4-5-3-7 4zm-331 81l14 6-5-5-14-5zm319-80l7-4-5-4-7 4zm7-4l7-4-5-4-7 4zm-12 0l7-4-5-3-7 4zm-311 80l7 2-5-5-7-2zm299-79l7-4-5-4-7 4zm7-4l7-4-5-3-7 3zm-12 0l7-4-5-3-7 4zm-297 74l6 2-5-5-6-2zm286-73l6-4-5-4-7 4zm-6-4l7-4-5-4-7 4zm-6 4l6-4-5-4-6 4zm-273 70l7 2-5-6-7-1zm2-4l6 2-5-6-6-1zm266-70l6-4-5-4-7 4zm-12-1l6-3-5-4-6 3zm-253 67l7 1-5-5-7-1zm2-4l6 1-5-6-6-1zm239-63l7-4-6-4-6 4zm-12-1l7-3-5-5-7 4zm-6 3l6-3-5-4-7 3zm-213 57l7 1-6-6-6-1zm1-5l7 0-5-6-7 0zm200-53l6-3-5-4-6 3zm6-3l7-3-5-4-7 3zm-18 2l7-3-6-5-6 3zm-7 3l7-3-5-5-7 3zm-172 46l6 0-5-6-7 0zm-7-1l7 1-6-6-6 0zm8-5l7 0-5-6-7 0zm7 0l6 0-5-6-6 0zm146-39l7-3-6-4-6 3zm7-3l6-3-5-4-7 3zm6-3l7-3-5-4-7 3zm-18 2l6-3-5-5-6 3zm-7 2l7-2-5-5-7 3zm-7 3l7-3-5-4-7 2zm-113 31l7-1-5-6-7 1zm-6 0l6 0-5-6-6 0zm15-8l6-1-5-5-7 1zm6-1l7-1-5-6-7 2zm7-1l7-1-6-6-6 1zm53-14l7-2-5-5-7 2zm7-2l6-2-5-5-6 2zm6-2l7-3-5-5-7 3zm7-3l7-2-5-5-7 2zm7-2l6-3-5-5-6 3zm-45 8l6-2-5-5-7 2zm-7 2l7-2-6-5-6 2zm-7 2l7-2-5-5-7 1zm-6 1l6-1-5-6-6 2z"/><path color="#eaba30" d="M792 308l6-2-10 6-7 2zm-7 2l7-2-11 6-6 2zm-7 2l7-2-10 6-7 2zm-6 2l6-2-10 6-7 1zm-7 1l7-1-11 5-6 2zm-7 1l7-1-10 6-7 1zm-56 9l6 0-10 6-7-1zm132-34l7-3-10 4-7 4zm17-11l6-4-10 3-7 5zm-186 47l6 1-10 5-7-1zm-24 2l7 1-5 3-7-2zm213-54l6-5-5 2-6 4zm8-8l7-4-6 1-6 4zm1-3l7-5-5 1-7 4zm2-4l6-5-5 0-6 5zm1-5l7-4-5 0-7 5zm2-4l6-5-5 0-6 5zm-286 75l7 3-5 1-7-3zm281-75l6-5-5 0-6 6zm1-5l7-5-5 0-7 5zm-305 76l13 6-5 1-14-6zm307-81l6-5-5 0-6 5zm-4-6l7-4-5-1-7 5zm-337 82l13 6-5 0-14-7zm333-88l7-5-5-1-7 5zm-5-1l7-5-5-1-7 5zm2-6l6-5-5-1-6 5zm-5-1l6-5-5-1-7 5zm-6-1l7-5-5-2-7 5zm2-7l7-5-6-1-6 4zm-371 90l14 7-6-2-13-7zm366-92l6-4-5-2-6 5zm-5-1l6-5-5-2-7 5zm-366 91l13 7-5-2-13-7zm-5-2l13 7-5-2-13-7zm365-91l7-5-5-2-7 5zm-5-2l7-5-5-2-7 5zm-365 91l13 7-5-2-13-7zm-5-2l13 7-5-3-13-7zm-5-3l13 7-5-3-14-6zm350-97l6-5-5-3-7 5zm-6-3l7-5-5-2-7 4zm-5-3l7-4-5-3-7 4zm-5-3l7-4-5-3-7 5zm-5-2l7-5-6-2-6 4zm-5-3l6-4-5-3-6 4zm-352 91l13 6-5-5-14-5zm340-90l7-4-5-3-7 4zm-5-3l7-4-6-3-6 4zm-5-3l6-4-5-4-6 4zm-12 0l7-4-6-3-6 4zm-326 84l14 5-6-5-13-5zm321-87l6-4-5-3-6 4zm-12 0l7-3-6-4-6 4zm-306 82l7 2-5-6-7-1zm294-81l7-4-5-4-7 4zm7-4l6-4-5-3-6 3zm-12 0l7-4-5-3-7 3zm-292 76l6 2-5-5-6-2zm1-3l7 1-5-5-7-1zm279-73l7-4-5-3-7 3zm-5-4l7-3-5-4-7 3zm-7 4l7-4-5-4-7 4zm-265 69l6 1-5-5-7-1zm1-4l7 1-5-6-7-1zm253-66l6-3-5-4-7 3zm6-3l7-4-5-3-7 3zm-12-1l7-3-5-4-7 3zm-6 4l6-4-5-4-6 3zm-233 62l7 1-5-6-7 0zm-6-1l6 1-5-5-7-1zm8-4l6 1-5-6-6 0zm219-58l7-4-5-4-7 4zm7-4l6-3-5-4-6 3zm-19 3l7-3-5-5-7 3zm-6 3l6-3-5-5-7 3zm-200 51l7 0-5-5-7 0zm8-5l7 0-5-6-7 0zm180-48l6-3-5-4-6 3zm6-3l7-3-5-4-7 3zm-18 2l7-3-5-4-7 3zm-7 3l7-3-5-4-7 2zm-146 40l7-1-5-6-7 1zm-6 0l6 0-5-6-7 0zm8-7l6 0-5-6-6 1zm6 0l7-1-5-5-7 0zm7-1l7-1-6-5-6 1zm106-29l7-2-5-5-7 2zm7-2l7-3-6-5-6 3zm7-3l6-3-5-4-7 2zm-25 3l6-3-5-4-7 2zm-7 2l7-2-6-5-6 2zm-7 3l7-3-5-5-7 3zm-6 2l6-2-5-5-7 2zm-7 2l7-2-6-5-6 2zm-7 2l7-2-5-5-7 2zm-33 9l7-2-5-5-7 1zm-7 1l7-1-5-6-7 2zm-6 1l6-1-5-5-6 1zm-7 2l7-2-5-5-7 1zm-7 1l7-1-5-6-7 1z"/><path color="#eeba34" d="M818 299l7-3-10 5-7 3zm-6 2l6-2-10 5-7 2zm-7 3l7-3-11 5-6 3zm-7 2l7-2-10 5-7 3zm-46 11l6-1-10 6-7 1zm-7 1l7-1-11 6-6 1zm-7 1l7-1-10 6-7 0zm-43 6l7 0-11 5-6 0zm146-37l7-4-11 4-6 4zm7-4l6-3-10 3-7 4zm9-8l7-4-10 3-7 4zm-199 50l7 1-11 5-6-2zm-24 2l7 1-5 2-7-2zm226-58l7-4-5 1-7 5zm-237 58l6 1-5 2-7-2zm-12-1l6 2-5 2-6-2zm259-68l7-4-6 0-6 5zm1-4l7-5-5 1-7 4zm-272 71l7 3-5 1-7-2zm-12-1l7 3-5 1-7-3zm286-74l7-5-6 0-6 5zm-309 71l13 5-5 1-13-6zm305-76l7-4-5-1-7 5zm2-5l6-4-5-1-6 5zm1-5l7-4-5-1-7 5zm-5 0l7-5-5 0-7 4zm-337 81l13 6-5 0-13-6zm339-86l6-5-5-1-6 5zm-5-1l6-5-5-1-7 5zm1-6l7-5-5-1-7 5zm-5-1l7-5-6-1-6 5zm1-6l7-4-5-2-7 5zm-5-1l7-5-5-1-7 5zm-365 92l13 6-5-1-13-7zm-5-2l13 7-5-1-14-7zm365-91l7-5-5-2-7 5zm-371 90l14 7-5-2-14-7zm367-98l7-5-5-2-7 5zm-5-2l7-5-5-1-7 4zm-5-2l7-4-5-2-7 4zm-5-2l7-4-6-2-6 4zm-5-2l6-4-5-3-6 5zm-5-2l6-5-5-2-6 5zm-378 93l14 6-5-3-14-6zm373-95l6-5-5-2-7 4zm1-7l7-4-6-3-6 5zm-7 4l7-4-5-2-7 4zm-372 95l14 6-6-3-13-6zm-5-3l13 6-5-3-13-6zm372-94l7-4-5-3-7 4zm-5-3l7-4-5-2-7 4zm-372 94l13 6-5-4-13-5zm367-96l7-4-6-3-6 4zm-5-3l6-4-5-3-6 4zm-5-3l6-4-5-2-7 4zm-6-2l7-4-5-3-7 4zm-364 91l14 5-5-4-14-5zm353-90l6-4-5-3-6 4zm6-4l7-4-5-3-7 4zm-11 1l6-4-5-3-7 4zm-353 89l14 5-6-5-13-4zm347-92l7-4-5-3-7 3zm-5-4l7-3-5-3-7 3zm-6 4l6-4-5-3-7 4zm-338 83l13 5-5-5-13-4zm332-86l7-4-5-3-7 4zm-5-3l7-4-5-3-7 4zm-6 4l6-4-5-3-7 3zm-318 80l7 1-5-5-7-1zm312-84l7-3-5-4-7 4zm-5-3l7-4-5-3-7 3zm-6 3l6-3-5-4-6 4zm-12 0l7-3-6-4-6 4zm7-3l6-4-5-3-7 3zm-12 0l6-4-5-3-6 3zm-286 75l7 1-6-5-6-1zm1-4l7 1-5-6-7 0zm273-72l7-3-6-4-6 4zm7-3l6-3-5-4-7 3zm-12 0l6-4-5-3-6 3zm-7 3l7-3-5-4-7 3zm-259 67l7 1-6-5-6-1zm8-3l7 0-5-5-7-1zm239-65l7-3-5-4-7 3zm7-3l7-3-6-4-6 3zm-12-1l7-3-5-3-7 3zm-6 3l6-3-5-3-7 3zm-7 4l7-4-6-3-6 2zm-219 57l6 0-5-5-7-1zm1-5l7 0-5-6-7 0zm7 0l6 0-5-6-6 0zm199-54l7-3-5-3-7 2zm7-3l6-2-5-4-6 3zm-12-1l7-2-6-4-6 2zm-7 3l7-3-5-4-7 3zm-6 3l6-3-5-4-6 3zm-173 46l7 0-6-6-6 1zm-7 0l7 0-5-5-7 0zm8-6l7 0-5-5-7 0zm7 0l7-1-5-5-7 1zm146-39l7-2-5-5-7 3zm7-2l7-3-6-4-6 2zm7-3l6-3-5-4-7 3zm-19 1l7-3-5-4-7 3zm-7 2l7-2-5-4-7 2zm-6 3l6-3-5-4-6 2zm-7 2l7-2-5-5-7 3zm-106 29l6-1-5-6-6 1zm-7 0l7 0-5-6-7 1zm-6 1l6-1-5-5-7 1zm21-9l7-1-6-5-6 1zm7-1l6-1-5-5-7 1zm6-1l7-2-5-5-7 2zm7-2l7-1-6-5-6 1zm7-1l6-2-5-5-7 2zm6-2l7-1-5-5-7 1zm7-1l6-2-5-5-6 2zm6-2l7-2-5-5-7 2zm7-2l7-2-5-5-7 2zm7-2l6-2-5-5-6 2zm6-2l7-2-5-5-7 2zm7-2l7-3-5-4-7 2zm7-3l6-2-5-4-6 2zm6-2l7-2-5-5-7 3zm7-2l7-3-6-4-6 2zm-52 10l7-2-5-5-7 2z"/><path color="#f1ba37" d="M831 293l7-3-10 4-7 3zm-6 3l6-3-10 4-6 4zm-93 24l6-1-10 5-7 1zm-7 0l7 0-11 5-6 0zm-37 5l7 0-10 5-7-1zm166-44l7-4-10 3-7 4zm10-9l7-4-11 2-6 5zm-213 54l7 0-10 4-7-1zm-23 0l6 2-5 1-6-1zm239-60l7-4-5 1-7 4zm2-3l6-5-5 1-7 5zm-253 63l7 2-6 1-6-2zm-12-1l7 2-5 2-7-3zm273-70l6-5-5 0-7 5zm1-5l7-4-5 0-7 5zm-286 75l7 1-5 2-7-3zm282-79l7-4-5 0-7 4zm-305 76l13 4-5 1-13-5zm307-80l7-5-6 0-6 4zm1-5l7-5-5 0-7 4zm-3-6l6-4-5-1-6 5zm-339 86l13 6-5 0-13-6zm340-91l7-5-5-1-7 5zm-5-1l7-5-5-1-7 5zm2-6l6-4-5-1-6 4zm-5-1l6-4-5-1-7 4zm-366 92l13 6-5-1-13-6zm-5-1l13 6-5-1-13-6zm367-98l7-4-6-2-6 5zm-5-1l6-5-5-1-6 4zm-5-2l6-4-5-2-7 5zm1-6l7-4-5-2-7 4zm-5-2l7-4-6-2-6 5zm-5-1l6-5-5-2-6 5zm-5-2l6-5-5-2-7 5zm-6-2l7-5-5-2-7 4zm-5-3l7-4-5-2-7 4zm-5-2l7-4-5-2-7 4zm-10-4l6-5-5-2-6 4zm-5-3l6-4-5-2-6 4zm-384 95l13 5-5-3-13-6zm379-97l6-4-5-3-7 4zm-6-3l7-4-5-3-7 4zm-378 96l13 6-5-4-14-5zm373-99l7-4-5-2-7 4zm-5-2l7-4-5-3-7 4zm-5-3l7-4-6-3-6 4zm-5-3l6-4-5-2-6 3zm-7 4l7-4-5-3-7 4zm-364 89l13 4-5-4-13-4zm359-92l7-4-5-3-7 4zm-5-3l7-4-6-3-6 4zm-12 0l7-3-5-3-7 3zm7-3l6-4-5-3-6 4zm-12 0l7-3-6-3-6 3zm-339 89l13 4-5-5-13-3zm327-88l7-4-5-3-7 3zm7-4l6-3-5-3-6 3zm-12 0l7-3-6-3-6 3zm-319 86l7 1-5-5-7-1zm2-4l6 2-5-5-7-1zm305-82l7-3-5-3-7 3zm7-3l6-3-5-3-6 3zm-12 0l7-3-5-4-7 4zm-7 3l7-3-5-3-7 3zm-297 74l6 1-5-5-6-1zm292-77l7-3-5-4-7 3zm7-3l7-4-6-3-6 3zm-12-1l7-3-5-3-7 3zm-7 3l7-3-5-3-7 3zm-279 74l7 0-5-5-7 0zm8-4l7 1-5-6-7 0zm260-70l6-3-5-4-7 3zm6-3l7-3-5-3-7 2zm-12-1l7-3-5-3-7 3zm-6 3l6-3-5-3-6 3zm-246 66l7 1-6-6-6 0zm1-5l7 1-5-6-7 0zm226-58l7-3-5-4-7 3zm7-3l7-3-5-4-7 3zm7-3l6-3-5-4-6 3zm-12-1l7-3-6-3-6 2zm-7 3l7-3-5-4-7 3zm-6 3l6-3-5-4-7 3zm-206 54l6 0-5-5-7 0zm1-5l7 0-5-5-7 0zm7 0l6-1-5-5-6 1zm179-48l7-3-5-4-7 3zm7-3l6-2-5-4-6 2zm6-2l7-3-5-4-7 3zm-18 1l7-3-5-3-7 2zm-7 3l7-3-5-4-7 3zm-6 2l6-2-5-4-6 2zm-153 41l7-1-6-5-6 1zm-7 0l7 0-5-5-7 0zm15-7l7-1-5-5-7 1zm7-1l6-1-5-5-6 1zm6-1l7-1-5-5-7 1zm107-29l6-2-5-4-7 2zm6-2l7-2-5-5-7 3zm7-2l7-3-6-4-6 2zm7-3l6-2-5-4-7 2zm-26 3l7-2-5-4-7 2zm-6 2l6-2-5-4-6 2zm-7 3l7-3-5-4-7 2zm-6 2l6-2-5-5-7 2zm-7 2l7-2-6-5-6 2zm-7 2l7-2-5-5-7 2zm-6 2l6-2-5-5-7 2zm-7 2l7-2-6-5-6 2zm-13 4l6-2-5-5-6 2zm-7 1l7-1-5-5-7 1zm-7 2l7-2-5-5-7 2zm-6 1l6-1-5-5-6 1zm-7 2l7-2-5-5-7 2zm-7 1l7-1-5-5-7 1zm-6 1l6-1-5-5-6 1z"/><path color="#f4ba3a" d="M845 288l6-3-10 3-7 3zm-7 2l7-2-11 3-6 3zm-120 31l7-1-10 5-7 0zm-36 3l6 1-10 4-7-1zm179-47l7-3-11 2-6 4zm10-9l6-3-10 1-7 4zm-226 57l6 1-10 3-7-1zm229-63l6-4-5 0-6 5zm8-8l6-4-5 0-6 5zm-7 4l7-4-5 1-7 4zm8-8l7-4-5 0-7 4zm2-4l6-4-5 0-6 4zm-311 75l13 4-5 1-13-4zm306-75l6-4-5 0-7 4zm1-4l7-5-5 0-7 5zm2-5l6-4-5-1-7 5zm1-5l7-4-5-1-7 5zm-344 86l13 5-5 0-13-6zm339-86l7-5-6 0-6 4zm1-5l7-5-5-1-7 5zm2-6l7-4-6-1-6 4zm-5-1l6-4-5-1-6 4zm-371 91l13 5-5 0-13-6zm372-96l7-4-5-2-7 5zm-5-1l7-5-5-1-7 5zm-5-1l7-5-5-1-7 4zm2-6l6-4-5-2-7 4zm-6-2l7-4-5-2-7 5zm-5-1l7-5-5-1-7 4zm-446 67l14 5-5-4-14-5zm-5-4l14 5-6-4-13-4zm364-103l6-3-5-3-6 3zm-5-3l6-3-5-3-7 3zm-366 95l13 4-5-5-13-3zm360-98l7-3-5-3-7 3zm-5-3l7-3-5-3-7 3zm-6 4l6-4-5-3-7 4zm-351 88l13 3-5-5-13-3zm345-91l7-4-5-3-7 4zm7-4l7-3-5-3-7 3zm-12 1l7-4-5-3-7 4zm-6 3l6-3-5-3-7 3zm-331 84l7 1-6-4-6-1zm325-87l7-3-5-3-7 3zm7-3l7-4-5-3-7 4zm-12 0l7-3-5-4-7 3zm-6 3l6-3-5-4-6 3zm-313 84l7 1-5-5-7-1zm-5-5l7 1-5-5-7-1zm313-83l6-3-5-3-7 3zm6-3l7-3-5-3-7 3zm-12 0l7-3-5-3-7 3zm-6 3l6-3-5-3-6 3zm-299 79l6 1-5-5-6-1zm1-4l7 0-5-5-7 0zm7 0l6 1-5-5-6-1zm279-75l7-3-6-3-6 3zm7-3l6-3-5-3-7 3zm-12 0l6-3-5-4-6 3zm-7 2l7-2-5-4-7 3zm-266 72l7 0-5-5-7 0zm2-5l6 0-5-5-6 0zm252-67l7-3-5-3-7 2zm7-3l7-3-6-3-6 3zm-12-1l7-2-5-4-7 3zm-6 3l6-3-5-3-7 3zm-233 63l7 0-6-5-6 0zm-7 0l7 0-5-5-7 1zm8-5l7 0-5-5-7 0zm213-56l7-3-5-3-7 2zm7-3l6-2-5-4-6 3zm6-2l7-3-5-4-7 3zm-11-1l6-3-5-3-7 2zm-7 2l7-2-6-4-6 3zm-7 3l7-3-5-3-7 2zm-6 2l6-2-5-4-6 3zm-186 50l6-1-5-5-7 1zm-7 0l7 0-6-5-6 0zm8-6l7 0-5-5-7 0zm7 0l6-1-5-5-6 1zm6-1l7-1-5-5-7 1zm153-41l7-3-5-4-7 3zm7-3l7-2-6-4-6 2zm7-2l6-3-5-4-7 3zm6-3l7-2-5-4-7 2zm-18 1l6-2-5-4-6 3zm-7 3l7-3-5-3-7 2zm-7 2l7-2-5-4-7 2zm-6 2l6-2-5-4-6 2zm-7 3l7-3-5-4-7 3zm-113 30l7-1-5-5-7 1zm-6 1l6-1-5-5-7 1zm-7 1l7-1-6-5-6 1z"/><path color="#f7ba3c" d="M762 313l7-1-11 4-6 1zm7-1l6-1-10 4-7 1zm6-1l7-2-10 5-7 1zm7-2l7-1-11 4-6 2zm7-1l6-2-10 4-7 2zm6-2l7-2-10 4-7 2zm7-2l7-2-11 4-6 2zm7-2l6-2-10 4-7 2zm6-2l7-2-10 3-7 3zm43-19l7-3-11 3-6 3zm-7 4l7-4-10 3-7 4zm-139 36l6 0-10 4-6 0zm-7 0l7 0-10 4-7 0zm-37 2l7 1-10 3-7-1zm7 1l7 0-11 4-6-1zm193-50l6-4-10 2-7 4zm6-4l7-3-10 1-7 4zm10-9l7-4-11 1-6 4zm-7 4l7-4-10 1-7 4zm-256 60l7 1-5 2-7-2zm259-67l7-4-5 0-7 4zm7-4l7-4-6 0-6 4zm1-4l7-4-5 0-7 4zm-279 74l7 2-5 1-7-2zm-11 0l6 1-5 1-7-1zm292-78l7-4-6 0-6 4zm1-4l7-4-5 0-7 4zm-5 0l7-4-5-1-7 5zm7-4l7-4-6-1-6 4zm-5-1l6-4-5 0-6 4zm-338 81l14 4-5 0-14-4zm339-85l7-5-5 0-7 4zm2-5l6-4-5-1-6 4zm-346 90l14 4-6 1-13-5zm341-91l6-4-5-1-7 5zm1-5l7-4-5-1-7 4zm-371 90l14 5-5 0-14-5zm373-95l6-4-5-1-7 4zm-6-1l7-4-5-1-7 4zm-372 96l14 5-6-1-13-5zm374-101l7-4-6-2-6 4zm-5-2l6-4-5-1-6 4zm-5-1l6-4-5-1-6 4zm-408 92l13 5-5-2-13-5zm-5-2l13 5-5-2-13-5zm-5-2l13 5-5-2-13-5zm-5-2l13 5-5-2-13-5zm-5-2l13 5-5-2-14-5zm-6-2l14 5-5-3-14-5zm-5-3l14 5-6-2-13-5zm-5-2l13 5-5-3-13-5zm-5-3l13 5-5-3-13-5zm-23-18l13 4-5-4-13-4zm-5-4l13 4-5-4-13-3zm-2-8l13 3-5-4-13-3zm-5-4l13 3-5-4-13-3zm355-99l7-3-6-3-6 3zm-352 93l13 3-5-5-13-2zm-5-4l13 2-5-4-14-2zm352-92l6-3-5-2-6 2zm-5-3l6-2-5-3-7 3zm-7 4l7-4-6-2-6 2zm-332 89l6 1-5-5-6-1zm-5-5l6 1-5-5-7 0zm332-88l6-2-5-3-6 2zm6-2l7-3-5-3-7 3zm-5-3l7-3-5-3-7 3zm-6 2l6-2-5-3-6 2zm-7 3l7-3-5-3-7 3zm-319 84l7 1-5-5-7 0zm2-4l6 1-5-5-7 0zm305-80l7-3-5-3-7 3zm7-3l7-3-6-3-6 3zm7-3l6-2-5-3-7 2zm-12 0l6-3-5-3-6 3zm-7 3l7-3-5-3-7 3zm-7 3l7-3-5-3-7 2zm-285 76l6 1-5-5-6 0zm-7 0l7 0-5-4-7-1zm2-4l6 0-5-5-7 0zm6 0l7 0-5-5-7 0zm273-73l6-3-5-3-7 3zm6-3l7-2-5-3-7 2zm7-2l7-3-6-3-6 3zm-5-3l6-3-5-3-6 2zm-7 2l7-2-5-4-7 3zm-7 3l7-3-5-3-7 3zm-6 3l6-3-5-3-6 2zm-259 68l6 0-5-4-6 0zm1-4l7-1-5-4-7 0zm7-1l6 0-5-5-6 1zm239-64l7-3-5-3-7 2zm7-3l6-2-5-4-6 3zm6-2l7-3-5-3-7 2zm7-3l7-3-6-3-6 3zm-18 2l6-3-5-3-7 3zm-7 2l7-2-6-3-6 2zm-7 3l7-3-5-3-7 3zm-226 60l7 0-5-5-7 1zm2-5l6 0-5-5-6 1zm6 0l7-1-5-5-7 1zm200-53l6-3-5-3-6 2zm6-3l7-2-5-4-7 3zm7-2l7-3-5-3-7 2zm7-3l6-2-5-4-6 3zm-12-1l7-2-6-3-6 2zm-7 3l7-3-5-3-7 2zm-6 2l6-2-5-4-6 3zm-7 2l7-2-5-3-7 2zm-7 3l7-3-5-3-7 2zm-166 45l7-1-5-5-7 1zm-6 1l6-1-5-5-7 1zm-7 0l7 0-6-5-6 1z"/><path color="#faba3e" d="M742 316l7-1-11 4-6 1zm7-1l6-1-10 4-7 1zm6-1l7-1-10 4-7 1zm67-16l6-3-10 4-6 2zm6-3l7-2-10 3-7 3zm7-2l7-3-11 3-6 3zm7-3l6-2-10 2-7 3zm23-12l6-3-10 2-7 4zm-166 43l6 0-10 4-7 0zm-37 2l6 0-10 3-7 0zm219-56l7-4-11 2-6 3zm10-10l6-4-10 1-7 4zm-253 67l7 1-11 3-6-2zm-23 0l6 1-5 1-7-2zm279-74l6-4-5 0-7 4zm1-4l7-4-5 0-7 4zm-292 77l6 1-5 1-6-1zm294-81l6-4-5 0-7 4zm1-4l7-4-5 0-7 4zm-319 83l13 4-5 0-13-4zm321-87l6-4-5-1-7 4zm-6-1l7-4-5-1-7 5zm-338 85l13 4-5 0-14-4zm340-90l7-4-6 0-6 4zm1-4l7-4-5-1-7 4zm-5-1l7-4-5-1-7 4zm7-4l7-4-6-1-6 4zm-5-1l6-4-5-1-6 4zm-372 95l13 4-5 0-14-5zm373-100l7-4-5-1-7 4zm-5-1l7-4-5-1-7 4zm-407 92l13 5-5-1-14-5zm-6-1l14 5-5-2-14-5zm-5-2l14 5-6-1-13-5zm-51-22l13 5-5-3-13-5zm-5-3l13 5-5-3-14-5zm-6-3l14 5-5-4-14-4zm-5-3l14 4-6-3-13-4zm-12-13l13 3-5-4-13-3zm-7-13l13 3-5-5-14-2zm-3-10l14 2-5-5-14-2zm3-7l7 0-5-4-7-1zm2-4l7 0-6-4-6-1zm332-88l7-3-5-3-7 3zm-5-3l7-3-6-3-6 3zm-7 2l7-2-5-3-7 2zm-319 85l7 0-5-5-7 0zm2-5l7 1-6-5-6 0zm306-80l6-3-5-3-7 3zm6-3l7-2-5-3-7 2zm7-2l6-3-5-3-6 3zm-5-3l6-3-5-3-6 3zm-7 2l7-2-5-3-7 2zm-7 3l7-3-5-3-7 3zm-292 79l7 0-5-4-7 0zm-7 0l7 0-5-4-7 0zm9-4l6 0-5-5-7 0zm279-76l6-2-5-3-7 2zm6-2l7-3-5-3-7 3zm7-3l7-2-6-3-6 2zm-12 0l7-3-5-3-7 3zm-7 2l7-2-5-3-7 2zm-6 3l6-3-5-3-6 3zm-7 2l7-2-5-3-7 2zm-252 69l6-1-5-4-6 0zm-7 0l7 0-5-5-7 0zm2-5l6 0-5-5-7 1zm6 0l7-1-5-4-7 0zm239-64l7-3-5-3-7 2zm7-3l7-2-5-3-7 2zm7-2l6-3-5-3-6 3zm6-3l7-2-5-3-7 2zm-11 0l6-3-5-3-7 3zm-7 2l7-2-6-3-6 2zm-7 2l7-2-5-3-7 2zm-6 3l6-3-5-3-7 3zm-220 59l7-1-5-4-7 0zm-6 1l6-1-5-5-6 1z"/><path color="#fcbc3e" d="M729 318l6-1-10 3-7 1zm6-1l7-1-10 4-7 0zm113-29l7-3-10 3-7 2zm7-3l7-3-11 3-6 3zm23-13l7-3-11 1-6 4zm-7 3l7-3-10 2-7 3zm-179 46l7 0-11 4-6-1zm-37 2l7 0-11 3-6-1zm233-60l6-3-10 1-7 4zm9-10l7-3-10 0-7 4zm-266 70l7 1-10 2-7-1zm-23 0l7 1-6 0-6-1zm292-77l7-4-5 0-7 4zm2-4l6-4-5 0-6 4zm-318 79l14 3-6 1-13-4zm319-83l7-4-5 0-7 4zm2-4l6-4-5 0-6 4zm-344 84l13 3-5 1-13-4zm345-88l7-4-5-1-7 4zm2-5l6-4-5 0-6 3zm-7 4l7-4-5-1-7 4zm2-5l6-3-5-1-7 4zm1-4l7-4-5-1-7 4zm-377 94l13 4-5-1-13-4zm379-99l6-4-5-1-7 4zm-6-1l7-4-5-1-7 4zm-407 93l13 4-5-1-13-5zm-5-2l13 5-5-1-13-5zm-88-38l13 4-5-4-13-3zm-5-3l13 3-5-3-13-3zm-7-11l13 3-5-4-13-3zm-5-4l13 3-5-4-14-2zm-3-9l14 2-5-4-14-2zm-2-11l14 2-6-4-13-2zm3-7l7 1-5-5-7 0zm2-4l6 1-5-5-6 0zm1-4l7 0-5-4-7 0zm2-4l6 0-5-4-6 0zm1-4l7 0-5-5-7 0zm7 0l7 0-6-5-6 0zm306-83l6-3-5-2-7 2zm-6-3l7-2-5-3-7 2zm-6 2l6-2-5-3-6 2zm-293 79l7 0-5-5-7 1zm-6 0l6 0-5-4-6 0zm8-5l7 0-6-4-6 0zm279-74l7-3-6-2-6 2zm7-3l6-2-5-3-7 3zm6-2l7-2-5-3-7 2zm-5-3l7-2-5-3-7 2zm-7 3l7-3-5-3-7 3zm-6 2l6-2-5-3-6 2zm-7 2l7-2-5-3-7 2zm-259 70l7 0-5-5-7 1zm-7 1l7-1-5-4-7 0z"/><path color="#febd3d" d="M825 297l7-2-10 3-7 2zm-6 2l6-2-10 3-6 2zm-7 2l7-2-10 3-7 2zm-6 2l6-2-10 3-7 2zm-7 2l7-2-11 3-6 2zm-7 1l7-1-10 3-7 1zm-6 2l6-2-10 3-7 2zm-7 1l7-1-11 3-6 1zm-63 10l6-1-10 3-7 0zm6-1l7 0-11 3-6 0zm140-36l6-2-10 1-7 4zm6-2l7-3-10 1-7 3zm23-14l7-3-10 0-7 4zm-6 3l6-3-10 1-7 3zm-200 52l7 0-10 3-7 0zm-6 0l6 0-10 3-7-1zm-31 1l7 1-10 2-7-1zm246-62l7-3-10 0-7 4zm7-3l7-4-11 0-6 4zm10-11l6-3-10-1-7 4zm-7 4l7-4-11 0-6 4zm-279 72l6 1-10 2-6-1zm282-80l7-3-6-1-6 4zm1-4l7-3-5-1-7 4zm-319 83l14 2-5 1-14-3zm321-87l7-3-6-1-6 4zm1-4l7-4-5 0-7 4zm-345 88l13 3-5 0-13-3zm347-92l7-4-6-1-6 4zm1-5l7-3-5-1-7 4zm-377 94l13 3-5 0-13-4zm372-94l7-4-5-1-7 4zm7-4l6-4-5-1-6 4zm-5-1l6-4-5-1-6 4zm-379 98l13 4-5 0-13-4zm-29-5l13 3-5 0-13-4zm-5-1l13 4-5-1-13-4zm-49-14l13 4-5-2-13-4zm-5-2l13 4-5-2-14-4zm-6-2l14 4-5-2-14-4zm-5-2l14 4-6-2-13-4zm-5-2l13 4-5-3-13-4zm-5-3l13 4-5-2-13-4zm-5-2l13 4-5-3-13-4zm-5-3l13 4-5-3-13-3zm-23-17l13 3-5-4-13-3zm-5-4l13 3-5-3-13-3zm-8-11l14 2-5-4-14-2zm-5-4l14 2-6-4-13-2zm3-6l14 2-6-4-13-2zm-5-4l13 2-5-5-13-1zm3-7l13 2-5-5-13-1zm-5-4l13 1-5-4-13-1zm8-3l7 0-5-4-7 0zm2-4l6 0-5-4-7 0zm1-4l7 0-5-4-7 0zm2-4l6 0-5-5-7 0zm1-5l7 0-5-4-7 0zm2-4l6 0-5-5-7 1zm6 0l7-1-5-4-7 0zm2-5l6 0-5-5-6 1zm-7 0l7 0-5-4-7 0z"/><path color="#febf3b" d="M852 288l7-2-11 2-6 2zm-7 3l7-3-10 2-7 3zm-6 2l6-2-10 2-7 2zm-7 2l7-2-11 2-6 3zm-60 16l7-2-10 3-7 1zm-6 1l6-1-10 2-7 1zm-7 1l7-1-11 2-6 1zm-50 6l7 0-11 2-6 0zm166-42l7-3-11 1-6 3zm7-3l6-3-10 1-7 3zm16-11l7-3-11 0-6 3zm-226 58l7 0-11 2-6 0zm-30 1l6 0-10 2-7-1zm266-69l6-3-10 0-7 3zm6-3l7-3-10-1-7 4zm3-7l7-3-10-1-7 3zm-299 79l7 0-10 2-7-1zm-23-1l13 2-5 0-14-2zm319-82l6-4-5 0-7 3zm6-4l7-3-5-1-7 4zm2-4l6-3-5-1-6 4zm-7 4l7-4-5 0-7 3zm-344 84l13 2-5 0-13-3zm346-88l6-4-5-1-7 4zm6-4l7-3-5-1-7 3zm2-4l6-4-5 0-6 3zm-7 3l7-3-5-1-7 4zm2-4l6-3-5-1-7 3zm6-3l7-4-5-1-7 4zm-5-1l7-4-6-1-6 4zm-379 97l14 3-6 0-13-3zm-34-5l14 3-6-1-13-3zm-44-11l13 4-5-2-13-3zm-5-1l13 3-5-1-13-4zm-5-2l13 4-5-2-13-4zm-46-20l13 3-5-3-14-3zm-6-3l14 3-6-3-13-3zm-5-3l13 3-5-3-13-3zm-5-3l13 3-5-3-13-3zm-12-13l13 3-5-4-14-2zm-6-3l14 2-5-4-14-2zm-7-13l13 2-5-4-13-2zm-2-10l13 1-5-4-13-1zm-5-4l13 1-5-4-13 0zm3-7l13 1-5-4-13-1zm8-3l7 0-6-4-6 0zm1-4l7 0-5-4-7 0zm-6 0l6 0-5-4-6 0zm1-4l7 0-5-4-7 0zm7 0l7 0-6-5-6 1zm1-5l7 0-5-4-7 0zm-6 1l6-1-5-4-6 1zm1-5l7 0-5-4-7 0zm7 0l7 0-6-4-6 0zm1-4l7-1-5-4-7 1zm-6 0l6 0-5-4-6 0z"/><path color="#fec13a" d="M872 281l7-3-11 2-6 2zm-7 3l7-3-10 1-7 3zm-6 2l6-2-10 1-7 3zm-107 28l7-1-10 2-7 1zm-6 1l6-1-10 2-7 1zm-7 1l7-1-11 2-6 1zm-43 4l6-1-10 2-7 0zm6-1l7 0-10 2-7 0zm186-48l7-3-10 1-7 3zm7-3l7-3-11 1-6 3zm7-3l6-3-10 1-7 3zm9-9l7-3-10 0-7 4zm-6 4l6-4-10 1-7 3zm-240 61l7 0-10 2-7 0zm-30 0l7 1-11 1-6-1zm286-74l6-3-10-1-6 3zm9-11l7-3-10-1-7 3zm-6 4l6-4-10-1-6 4zm-319 80l13 2-10 1-13-2zm322-88l6-4-5 0-6 3zm6-4l7-3-5-1-7 4zm2-4l7-3-6-1-6 4zm-7 4l7-4-5 0-7 3zm-352 91l13 2-5 0-13-2zm354-95l6-4-5-1-6 4zm6-4l7-3-5-1-7 3zm-5-1l7-3-5-1-7 4zm-384 97l14 2-5 0-14-3zm-28-4l13 2-5 0-13-3zm-5-1l13 3-5-1-14-3zm-34-7l13 3-5-2-14-3zm-6-2l14 3-5-1-14-3zm-5-1l14 3-6-1-13-4zm-82-37l13 3-5-3-13-3zm-5-3l13 3-5-3-13-3zm-5-3l13 3-5-4-14-2zm-8-11l14 2-6-3-13-2zm-5-3l13 2-5-4-13-2zm-5-4l13 2-5-4-13-1zm3-6l13 2-5-4-13-1zm-5-3l13 1-5-4-13-1zm-2-10l13 0-5-4-13 0zm3-8l13 1-5-4-13 0zm-5-3l13 0-5-4-14 0zm8-4l6 0-5-4-6 0zm1-4l7 0-5-4-7 0zm-6 0l6 0-5-4-7 0zm1-4l7 0-6-4-6 0zm7 0l6-1-5-4-7 1zm1-5l7 0-5-4-7 0zm-7 1l7-1-5-4-7 1z"/><path color="#fec438" d="M783 309l6-2-10 2-7 2zm6-2l7-1-10 2-7 1zm7-1l7-2-11 2-6 2zm7-2l6-1-10 2-7 1zm6-1l7-2-10 2-7 2zm7-2l6-2-10 2-6 2zm6-2l7-1-10 1-7 2zm7-1l7-2-11 1-6 2zm7-2l6-2-10 1-7 2zm6-2l7-2-10 1-7 2zm7-2l7-3-11 2-6 2zm7-3l6-2-10 1-7 3zm36-16l7-2-11 0-6 3zm-7 3l7-3-10 1-7 3zm-6 2l6-2-10 1-7 3zm-147 38l7 0-10 2-7 0zm-6 1l6-1-10 2-6 1zm-37 3l7 0-11 1-6 0zm219-58l7-2-10 0-7 3zm7-2l7-3-11-1-6 4zm9-10l7-3-10 0-7 3zm-6 3l6-3-10 0-6 3zm-259 68l6 0-10 2-7-1zm-31 0l7 0-10 1-7 0zm299-77l7-4-10 0-7 3zm7-4l7-3-11-1-6 4zm10-10l6-3-10-2-7 3zm-7 3l7-3-11-2-6 4zm-356 86l14 2-6 0-13-2zm359-94l7-3-5-1-7 3zm2-4l6-3-5-1-7 3zm-389 95l13 2-5 0-14-2zm-29-4l13 3-5-1-13-2zm-34-6l13 3-5-1-13-3zm-5-1l13 3-5-1-13-3zm-44-12l13 3-5-2-14-3zm-6-2l14 3-5-2-14-3zm-5-2l14 3-6-2-13-3zm-5-2l13 3-5-2-13-3zm-5-2l13 3-5-2-13-3zm-5-2l13 3-5-3-13-3zm-5-3l13 3-5-2-13-3zm-5-2l13 3-5-3-14-3zm-6-3l14 3-5-2-14-3zm-5-2l14 3-6-3-13-3zm-5-3l13 3-5-3-13-2zm-5-2l13 2-5-3-13-2zm-13-13l14 2-5-3-14-2zm-5-3l14 2-6-3-13-2zm-5-3l13 2-5-4-13-1zm-7-12l13 1-5-4-13-1zm-5-4l13 1-5-3-13-1zm3-6l13 1-5-4-13 0zm-5-3l13 0-5-3-14-1zm3-7l13 0-5-4-14 0zm-6-4l14 0-5-3-14 0zm3-7l14 0-5-4-14 0zm-5-4l14 0-6-4-13 0zm8-4l7 0-5-4-7 0zm2-4l6 0-5-4-6 0z"/><path color="#fec636" d="M756 313l7-1-11 2-6 1zm7-1l6-1-10 2-7 1zm6-1l7-1-10 2-7 1zm7-1l7-1-11 2-6 1zm86-23l7-2-10 1-7 2zm7-2l7-2-11 1-6 2zm7-2l6-3-10 1-7 3zm6-3l7-2-10 0-7 3zm30-15l7-2-11-1-6 3zm-7 3l7-3-10 0-7 3zm-6 3l6-3-10 0-7 3zm-180 47l7-1-10 2-7 0zm-6 0l6 0-10 1-7 0zm-37 2l6 0-10 1-7 0zm6 0l7 0-10 1-7 0zm240-63l6-3-10-1-7 3zm6-3l7-3-11-1-6 3zm10-10l6-3-10-1-7 4zm-7 3l7-3-11 0-6 3zm-279 74l7 0-11 1-6 0zm-7 0l7 0-10 1-7-1zm-30 0l13 0-10 1-13-2zm326-84l6-3-10-1-7 3zm6-3l7-3-10-1-7 3zm10-10l7-3-11-2-6 3zm-7 3l7-3-10-2-7 3zm-358 93l13 0-10 1-14-2zm355-98l6-3-5-1-6 3zm-384 95l13 2-5 0-13-2zm-5 0l13 2-5-1-13-2zm-24-3l13 2-5-1-13-2zm-5-1l13 2-5 0-13-3zm-29-5l14 3-6-1-13-3zm-5-1l13 3-5-1-13-3zm-34-7l13 2-5-1-13-3zm-5-2l13 3-5-2-13-2zm-5-1l13 2-5-1-13-3zm-5-2l13 3-5-2-13-3zm-67-30l13 2-5-3-13-2zm-5-3l13 2-5-3-14-2zm-6-3l14 2-5-3-14-2zm-5-3l14 2-6-3-13-2zm-7-10l13 1-5-3-13-2zm-5-4l13 2-5-4-13-1zm-5-3l13 1-5-3-13-1zm-2-9l13 1-5-4-14 0zm-6-3l14 0-5-3-14-1zm3-7l14 1-5-4-14 0zm-5-3l14 0-6-4-13 0zm3-7l14 0-6-4-13 0zm-5-4l13 0-5-4-13 0zm3-8l13 0-5-4-13 1zm8-4l7 0-5-4-7 1zm-13 1l13-1-5-3-13 0z"/><path color="#fec934" d="M853 293l6-2-10 1-7 2zm-7 2l7-2-11 1-6 2zm-7 2l7-2-10 1-7 2zm-6 1l6-1-10 1-7 1zm-7 2l7-2-11 1-6 2zm-6 2l6-2-10 1-7 2zm-7 1l7-1-11 1-6 1zm-7 2l7-2-10 1-7 2zm-63 10l6-1-10 2-7 0zm6-1l7-1-10 2-7 1zm140-36l7-2-11 0-6 2zm7-2l6-3-10 0-7 3zm6-3l7-2-10 0-7 2zm7-2l7-3-11 0-6 3zm16-11l7-3-10 0-7 3zm-6 3l6-3-10 0-7 2zm-213 56l7-1-11 1-6 1zm-7 0l7 0-10 1-7 0zm-30 2l7-1-11 1-6 0zm266-70l6-3-10-1-7 3zm6-3l7-3-10-1-7 3zm17-12l6-3-10-2-7 3zm-7 3l7-3-11-2-6 3zm-7 2l7-2-10-2-7 3zm-305 80l6 0-10 0-7 0zm315-90l7-3-11-1-6 3zm7-3l6-2-10-2-7 3zm-393 90l13 1-5 0-13-2zm-29-3l14 1-6 0-13-2zm-28-4l13 1-5 0-14-2zm-6-1l14 2-5-1-14-3zm-34-7l14 2-5-1-14-3zm-5-2l14 3-6-2-13-2zm-49-14l13 2-5-2-13-2zm-5-2l13 2-5-2-13-2zm-5-2l13 2-5-2-13-2zm-5-2l13 2-5-3-14-2zm-6-3l14 2-5-2-14-2zm-5-2l14 2-6-3-13-1zm-5-2l13 1-5-2-13-2zm-5-3l13 2-5-3-13-1zm-23-18l13 2-5-3-13-2zm-5-3l13 2-5-3-13-2zm-5-3l13 2-5-3-13-2zm-5-3l13 2-5-4-13-1zm-2-8l13 1-5-4-14 0zm-6-3l14 0-5-3-14-1zm-2-10l14 1-6-4-13 0zm-5-3l13 0-5-3-13 0zm3-7l13 0-5-3-13 0zm-5-3l13 0-5-4-13 0zm-5-4l13 0-5-4-13 1zm8-4l13 0-5-4-13 1zm-5-3l13-1-5-3-13 1z"/><path color="#fdcb32" d="M893 280l6-2-10 0-7 2zm-7 2l7-2-11 0-6 3zm-7 3l7-3-10 1-7 2zm-6 2l6-2-10 0-7 2zm-7 2l7-2-11 0-6 2zm-7 2l7-2-10 0-7 3zm-59 15l6-1-10 1-7 1zm-7 2l7-2-11 1-6 2zm-7 1l7-1-10 1-7 1zm-6 1l6-1-10 1-7 1zm-7 2l7-2-11 1-6 1zm-50 6l6-1-10 1-6 0zm6-1l7-1-10 1-7 1zm7-1l7-1-11 1-6 1zm180-48l6-2-10-1-7 3zm6-2l7-3-10 0-7 2zm7-3l6-2-10-1-6 3zm16-11l7-3-11-1-6 3zm-7 3l7-3-10-1-7 3zm-6 2l6-2-10-1-6 3zm-239 63l6-1-10 1-7 0zm-7 0l7 0-11 0-6 0zm-30 1l6 0-10 0-7 0zm6 0l7 0-10 0-7 0zm286-76l7-2-11-2-6 3zm7-2l6-3-10-1-7 2zm6-3l7-3-10-1-7 3zm10-10l7-3-11-1-6 2zm-7 3l7-3-10-2-7 3zm-339 88l14 0-11 0-13 0zm-23-1l13 1-10-1-13 0zm365-94l7-3-10-2-7 3zm-389 93l14 1-11-1-13-1zm-28-3l13 1-5 0-14-2zm-6-1l14 2-5-1-14-1zm-23-2l13 1-5-1-13-1zm-5-1l13 1-5-1-13-1zm-29-5l13 1-5-1-13-1zm-5-1l13 1-5-1-13-2zm-5-2l13 2-5-1-14-2zm-34-8l13 2-5-1-13-2zm-5-1l13 2-5-2-14-2zm-6-2l14 2-5-2-14-2zm-5-2l14 2-6-2-13-2zm-5-2l13 2-5-2-13-2zm-46-20l13 1-5-2-13-2zm-5-3l13 2-5-3-14-2zm-6-3l14 2-5-3-14-1zm-5-2l14 1-6-3-13-1zm-5-3l13 1-5-3-13-1zm-5-3l13 1-5-3-13-1zm-12-14l13 1-5-3-14-1zm-6-3l14 1-5-3-14-1zm-5-3l14 1-6-3-13-1zm3-6l14 1-6-3-13-1zm-5-3l13 1-5-4-13 0zm-5-3l13 0-5-3-13 0zm3-6l13 0-5-4-13 0zm-5-4l13 0-5-3-13 0zm-5-3l13 0-5-4-13 1zm3-7l13-1-5-3-14 1zm-6-3l14-1-5-3-14 0zm9-4l13-1-5-4-14 1z"/><path color="#fdce31" d="M823 303l7-1-10 0-7 1zm7-1l6-2-10 0-6 2zm6-2l7-2-10 0-7 2zm7-2l7-2-11 1-6 1zm7-2l6-1-10 0-7 2zm6-1l7-2-10 0-7 2zm7-2l7-2-11 0-6 2zm7-2l6-2-10 0-7 2zm56-22l6-3-10 0-6 2zm-7 2l7-2-10-1-7 3zm-6 2l6-2-10 0-7 2zm-7 3l7-3-11 0-6 3zm-7 2l7-2-10 0-7 2zm-133 35l7-1-10 0-7 1zm-6 1l6-1-10 0-7 1zm-7 1l7-1-11 0-6 1zm-43 4l6-1-10 1-7 0zm6-1l7 0-10 0-7 1zm219-57l7-3-10-1-7 3zm7-3l7-2-11-1-6 2zm7-2l6-3-10-1-7 3zm16-12l7-3-11-1-6 3zm-7 3l7-3-10-1-7 2zm-6 2l6-2-10-2-7 3zm-273 72l7-1-10 0-7 1zm-6 0l6 0-10 0-7 0zm-24 0l7 0-11 0-6 0zm319-84l7-2-11-2-6 3zm7-2l6-3-10-2-7 3zm6-3l7-3-10-2-7 3zm-3-5l6-2-10-2-7 3zm-423 90l13 1-5-1-13-1zm-24-2l13 0-5 0-13-1zm-5-1l13 1-5-1-13-1zm-29-5l14 2-6-1-13-2zm-5-1l13 2-5-2-13-1zm-34-7l13 2-5-2-13-1zm-5-1l13 1-5-1-13-2zm-5-2l13 2-5-2-13-2zm-49-14l13 1-5-2-14-2zm-6-3l14 2-5-2-14-2zm-5-2l14 2-6-3-13-1zm-5-2l13 1-5-2-13-1zm-5-2l13 1-5-2-13-2zm-5-3l13 2-5-3-13-1zm-5-2l13 1-5-2-14-2zm-6-3l14 2-5-3-14-1zm-17-15l13 1-5-3-13 0zm-5-2l13 0-5-3-13 0zm-5-3l13 0-5-3-14 0zm-6-3l14 0-5-3-14 0zm-5-3l14 0-6-3-13 0zm-2-9l13 1-5-4-13 0zm-5-3l13 0-5-3-13 0zm-5-3l13 0-5-3-13 0zm3-6l13 0-5-3-13 0zm-5-3l13 0-5-4-13 0zm-5-4l13 0-5-3-14 0zm3-6l13-1-5-3-14 0zm-6-4l14 0-6-3-13 0zm-5-3l13 0-5-4-13 1zm8-4l14 0-6-4-13 1z"/><path color="#fcd12f" d="M783 312l7-2-10 0-7 2zm7-2l7-1-11 0-6 1zm7-1l6-1-10 0-7 1zm6-1l7-2-10 0-7 2zm7-2l7-1-11 0-6 1zm7-1l6-2-10 0-7 2zm59-16l7-2-10 0-7 2zm7-2l7-2-11 0-6 2zm7-2l6-2-10-1-7 3zm6-2l7-2-10-1-7 2zm7-2l7-2-11-1-6 2zm7-2l6-3-10 0-7 2zm6-3l7-2-10-1-7 3zm36-17l7-2-10-1-7 2zm-6 3l6-3-10-1-7 3zm-7 2l7-2-11-1-6 2zm-7 2l7-2-10-1-7 3zm-186 50l7-1-10 0-7 1zm-6 1l6-1-10 0-7 1zm-7 1l7-1-11 0-6 1zm-37 3l7-1-10 0-7 0zm7-1l7-1-11 0-6 1zm252-67l7-2-10-2-7 3zm7-2l7-3-11-1-6 2zm7-3l6-2-10-2-7 3zm16-12l7-2-11-2-6 3zm-7 3l7-3-10-1-7 2zm-6 2l6-2-10-2-7 3zm-306 81l7-1-11 0-6 0zm-30 0l13-1-10 0-14 0zm352-93l7-2-11-2-6 2zm-376 92l13 0-10 0-13-1zm-23-1l13 0-10 0-14-1zm-24-1l13 0-10-1-13-1zm-29-3l14 0-6-1-13 0zm-28-4l13 1-5-1-14-1zm-6-1l14 1-5-1-14-2zm-28-5l13 1-5-1-14-2zm-6-2l14 2-5-2-14-1zm-5-1l14 1-6-1-13-2zm-34-8l14 1-5-1-14-2zm-5-2l14 2-6-2-13-1zm-5-1l13 1-5-2-13-1zm-5-2l13 1-5-2-13-1zm-5-2l13 1-5-2-13-1zm-5-2l13 1-5-2-13-1zm-47-21l14 1-6-3-13-1zm-5-3l13 1-5-2-13-1zm-5-2l13 1-5-3-13-1zm-5-3l13 1-5-3-13-1zm-5-3l13 1-5-3-13 0zm-5-2l13 0-5-2-14-1zm-6-3l14 1-5-3-14-1zm-7-11l13 0-5-3-13 0zm-5-3l13 0-5-3-13 0zm-5-3l13 0-5-3-13 0zm-5-3l13 0-5-3-13 0zm3-6l13 0-5-3-13 0zm-5-3l13 0-5-3-14 0zm-6-3l14 0-5-4-14 1zm3-7l14 0-5-3-14 0zm-5-3l14 0-6-4-13 1zm-5-3l13-1-5-3-13 1zm3-7l13-1-5-3-13 1z"/><path color="#fbd32e" d="M900 286l7-2-11-1-6 2zm-7 2l7-2-10-1-7 2zm-6 1l6-1-10-1-7 2zm-7 2l7-2-11 0-6 2zm-7 2l7-2-10 0-7 2zm-6 2l6-2-10 0-7 2zm-7 2l7-2-11 0-6 1zm-7 2l7-2-10-1-7 2zm-6 1l6-1-10-1-7 2zm-7 2l7-2-11 0-6 2zm-7 1l7-1-10 0-7 1zm-6 2l6-2-10 0-6 2zm-7 2l7-2-10 0-7 1zm-63 9l6-1-10 0-7 1zm6-1l7-1-10 0-7 1zm7-1l7-1-11 0-6 1zm7-1l6-1-10 0-7 1zm146-39l6-2-10-1-6 2zm6-2l7-2-10-1-7 2zm7-2l7-3-11-1-6 3zm7-3l6-2-10-1-7 2zm6-2l7-2-10-1-7 2zm30-15l7-3-11-1-6 2zm-7 2l7-2-10-2-7 3zm-6 2l6-2-10-1-7 2zm-7 3l7-3-11-1-6 3zm-233 62l7-1-10 0-7 0zm-6 1l6-1-10-1-6 1zm-7 0l7 0-10-1-7 1zm-30 2l7-1-11 0-6 0zm7-1l6 0-10-1-7 1zm285-75l7-3-10-2-7 3zm7-3l7-2-11-2-6 2zm7-2l6-3-10-2-7 3zm6-3l7-2-10-2-7 2zm3-7l7-2-10-2-7 2zm-6 3l6-3-10-2-7 3zm-333 88l7 0-10-1-7 0zm-13 1l13-1-10-1-13 1zm-24 0l14-1-11-1-13 0zm-23-1l13-1-10-1-13 0zm-24-2l14 0-11-1-13 0zm-23-1l13 0-10-2-14 0zm-11-2l14 0-5-1-14 0zm-23-3l13 1-5-1-13-1zm-5-1l13 1-5-1-13-1zm-24-3l13 1-5-2-13 0zm-5-1l13 0-5-1-13-1zm-5-2l13 1-5-1-13-1zm-29-5l13 1-5-2-13-1zm-5-2l13 1-5-1-13-1zm-5-1l13 1-5-2-13-1zm-5-2l13 1-5-2-14-1zm-39-10l13 1-5-2-14-1zm-6-2l14 1-5-2-14-1zm-5-2l14 1-6-3-13 0zm-5-2l13 0-5-2-13-1zm-5-3l13 1-5-2-13-1zm-5-2l13 1-5-2-13-1zm-5-2l13 1-5-3-13 0zm-5-2l13 0-5-2-14-1zm-6-3l14 1-6-3-13 0zm-5-2l13 0-5-2-13-1zm-5-3l13 1-5-3-13 0zm-5-2l13 0-5-2-13-1zm-5-3l13 1-5-3-13 0zm-13-13l14 1-6-3-13 0zm-5-2l13 0-5-3-13 0zm-5-3l13 0-5-3-13 0zm-5-3l13 0-5-3-13 0zm-5-3l13 0-5-3-13 0zm-2-9l13 0-5-3-14 0zm-6-3l14 0-5-3-14 0zm-5-3l14 0-6-3-13 1zm-5-2l13-1-5-3-13 1zm8-4l14-1-6-3-13 1zm-5-3l13-1-5-3-13 1zm-5-3l13-1-5-3-13 1zm-5-3l13-1-5-3-13 1zm8-4l13-1-5-3-13 1zm-5-3l13-1-5-3-13 1z"/><path color="#f9d62d" d="M953 269l7-2-11-2-6 2zm-7 2l7-2-10-2-7 3zm-6 2l6-2-10-1-7 2zm-7 2l7-2-11-1-6 2zm-7 2l7-2-10-1-7 2zm-6 2l6-2-10-1-6 3zm-7 2l7-2-10 0-7 2zm-6 3l6-3-10 0-7 2zm-93 24l6-1-10-1-7 2zm-7 1l7-1-11 0-6 1zm-7 2l7-2-10 0-7 1zm-6 1l6-1-10-1-7 2zm-7 1l7-1-11 0-6 1zm-50 6l6-1-10 0-7 1zm6-1l7-1-10 0-7 1zm7-1l7-1-11 0-6 1zm206-54l7-2-11-2-6 3zm7-2l6-3-10-1-7 2zm6-3l7-2-10-2-7 3zm7-2l7-2-11-2-6 2zm7-2l6-2-10-2-7 2zm23-14l6-2-10-2-7 2zm-7 3l7-3-11-2-6 3zm-7 2l7-2-10-2-7 2zm-6 2l6-2-10-2-7 3zm-279 74l6-1-10 0-7 1zm-7 1l7-1-11 0-6 0zm-30 1l6-1-10 0-7 0zm6-1l7 0-10-1-7 1zm326-86l7-3-11-2-6 3zm7-3l6-2-10-2-7 2zm-400 90l13 0-10-2-13 1zm-23-1l13 0-10-2-14 0zm-58-5l13 0-5-1-13-1zm-5-2l13 1-5-1-13-1zm-24-2l14 0-5-1-14-1zm-5-2l14 1-6-1-13-1zm-29-4l14 0-5-1-14-1zm-5-2l14 1-6-2-13 0zm-5-1l13 0-5-1-13-1zm-34-7l14 0-6-2-13 0zm-5-2l13 0-5-2-13 0zm-5-2l13 0-5-1-13-1zm-5-2l13 1-5-2-13-1zm-5-2l13 1-5-2-13-1zm-72-32l13 0-5-3-14 0zm-6-3l14 0-5-2-14 0zm-5-2l14 0-6-3-13 0zm-5-3l13 0-5-3-13 0zm-5-3l13 0-5-2-13 0zm-5-2l13 0-5-3-13 0zm-5-3l13 0-5-3-13 0zm-5-3l13 0-5-3-14 1zm3-6l13 0-5-3-14 1zm-6-2l14-1-5-3-14 1zm-5-3l14-1-6-3-13 1zm-5-3l13-1-5-3-13 1zm-5-3l13-1-5-2-13 0zm3-6l13-1-5-3-13 1zm-5-3l13-1-5-3-13 1zm-5-3l13-1-5-3-14 1zm-6-3l14-1-5-3-14 1zm9-4l13-1-5-3-14 1zm-6-3l14-1-5-3-14 1z"/><path color="#f8d92b" d="M817 310l7-1-10-1-7 1zm7-1l6-2-10 0-6 1zm6-2l7-1-10-1-7 2zm7-1l7-2-11-1-6 2zm7-2l6-1-10-1-7 1zm6-1l7-2-10-1-7 2zm7-2l7-2-11 0-6 1zm7-2l6-1-10-1-7 2zm6-1l7-2-10-1-7 2zm7-2l7-2-11-1-6 2zm7-2l6-2-10-1-7 2zm6-2l7-2-10-1-7 2zm7-2l7-1-11-1-6 1zm7-1l6-2-10-1-7 2zm6-2l7-2-10-1-7 2zm7-2l6-2-10-2-6 3zm6-2l7-2-10-2-7 2zm7-2l7-2-11-2-6 2zm7-2l6-2-10-2-7 2zm6-2l7-2-10-2-7 2zm7-2l7-2-11-2-6 2zm43-19l7-2-11-2-6 2zm-7 2l7-2-10-2-7 2zm-6 2l6-2-10-2-7 2zm-7 2l7-2-11-2-6 3zm-7 2l7-2-10-1-7 2zm-6 3l6-3-10-1-7 2zm-180 48l7-2-10 0-7 1zm-6 1l6-1-10-1-7 1zm-7 1l7-1-11-1-6 1zm-7 1l7-1-10-1-7 1zm-43 4l6-1-10-1-6 1zm6-1l7-1-10 0-7 0zm7-1l7-1-11 0-6 1zm259-68l7-3-10-2-7 3zm7-3l7-2-11-2-6 2zm7-2l6-2-10-2-7 2zm6-2l7-3-10-2-7 3zm7-3l7-2-11-2-6 2zm3-6l7-3-11-2-6 2zm-7 2l7-2-10-3-7 3zm-319 85l7-1-10-1-7 1zm-6 1l6-1-10-1-7 0zm-31 0l14-1-11-1-13 1zm-23 0l13-1-10-1-14 1zm-71-3l13-1-10-1-13 0zm-24-2l14 0-11-2-13 0zm-28-4l13 0-5-1-13 0zm-5-1l13 0-5-1-14 0zm-24-3l13 0-5-1-13 0zm-5-1l13 0-5-1-13-1zm-5-2l13 1-5-2-14 0zm-29-4l13 0-5-2-13 0zm-5-2l13 0-5-2-13 0zm-5-2l13 0-5-1-14-1zm-6-2l14 1-5-2-14 0zm-33-7l13 0-5-2-14 0zm-6-2l14 0-5-2-14 0zm-5-2l14 0-6-2-13 0zm-5-2l13 0-5-2-13 0zm-5-2l13 0-5-2-13-1zm-5-3l13 1-5-3-13 0zm-5-2l13 0-5-2-13 0zm-5-2l13 0-5-2-14 0zm-6-2l14 0-5-2-14-1zm-5-3l14 1-6-3-13 0zm-5-2l13 0-5-2-13 0zm-5-2l13 0-5-3-13 0zm-5-3l13 0-5-2-13 0zm-5-2l13 0-5-3-14 0zm-6-3l14 0-5-2-14 0zm-5-2l14 0-6-3-13 0zm-5-3l13 0-5-2-13 0zm-5-2l13 0-5-3-13 0zm-5-3l13 0-5-3-13 1zm-5-2l13-1-5-2-13 0zm-5-3l13 0-5-3-14 0zm-3-8l14-1-5-3-14 1zm-5-3l14-1-6-2-13 0zm-5-3l13 0-5-3-13 0zm-5-3l13 0-5-3-13 1zm-5-2l13-1-5-3-13 1zm-5-3l13-1-5-3-13 1zm8-4l13 0-5-3-13 0zm-5-3l13 0-5-3-14 1zm-6-2l14-1-5-3-14 1zm-5-3l14-1-6-3-13 1zm-5-3l13-1-5-3-13 1zm8-4l14-1-6-3-13 1zm-5-3l13-1-5-3-13 1z"/><path color="#f7dc2a" d="M947 280l7-2-11-1-6 2zm-7 2l7-2-10-1-7 2zm-6 2l6-2-10-1-7 2zm-7 2l7-2-11-1-6 2zm-6 2l6-2-10-1-7 2zm-7 2l7-2-11-1-6 2zm-7 2l7-2-10-1-7 1zm-6 2l6-2-10-2-7 2zm-7 1l7-1-11-2-6 2zm-7 2l7-2-10-1-7 2zm-6 2l6-2-10-1-7 2zm-7 2l7-2-11-1-6 1zm-7 1l7-1-10-2-7 2zm-6 2l6-2-10-1-7 2zm-7 2l7-2-11-1-6 1zm-7 1l7-1-10-2-7 2zm-70 11l7-1-10-1-7 1zm7-1l7-1-11-1-6 1zm7-1l6-1-10-2-7 2zm6-1l7-2-10-1-7 1zm7-2l7-1-11-1-6 1zm7-1l6-2-10-1-7 2zm146-39l6-3-10-1-7 2zm6-3l7-2-10-1-7 2zm7-2l7-2-11-2-6 3zm7-2l6-2-10-2-7 2zm6-2l7-2-10-2-7 2zm7-2l7-2-11-2-6 2zm7-2l6-2-10-2-7 2zm36-17l6-3-10-2-6 2zm-7 2l7-2-10-3-7 2zm-6 2l6-2-10-3-7 3zm-7 2l7-2-11-2-6 2zm-7 2l7-2-10-2-7 2zm-6 3l6-3-10-2-7 3zm-246 65l6-1-10-1-7 1zm-7 2l7-2-11-1-6 1zm-7 1l7-1-10-2-7 1zm-6 1l6-1-10-2-7 1zm-37 2l7-1-11-1-6 1zm7-1l6-1-10-1-7 1zm6-1l7-1-10-1-7 1zm313-83l6-2-10-2-7 2zm6-2l7-2-10-3-7 3zm-349 86l7 0-11-2-6 1zm-13 2l13-2-10-1-14 1zm-24 0l13-2-10-1-13 1zm-24-1l14-1-11-1-13 0zm-23-1l13-1-10-1-13 0zm-24-1l14-1-11-2-13 1zm-23-2l13 0-10-2-14 0zm-24-2l13 0-10-2-13 0zm-10-2l13 0-5-2-13 0zm-19-1l14-1-5-1-14 0zm-5-2l14 0-6-1-13 0zm-5-1l13 0-5-2-13 0zm-23-3l13 0-5-2-14 1zm-6-1l14-1-6-1-13 0zm-5-2l13 0-5-2-13 0zm-5-2l13 0-5-1-13 0zm-24-3l14 0-5-2-14 0zm-5-2l14 0-6-2-13 0zm-5-2l13 0-5-1-13 0zm-5-1l13 0-5-2-13 0zm-5-2l13 0-5-2-13 0zm-5-2l13 0-5-2-13 0zm-34-8l13 0-5-2-13 0zm-5-2l13 0-5-3-13 0zm-5-3l13 0-5-2-14 0zm-6-2l14 0-5-2-14 0zm-5-2l14 0-6-2-13 0zm-5-2l13 0-5-3-13 1zm-5-2l13-1-5-2-13 0zm-5-3l13 0-5-2-13 0zm-5-2l13 0-5-3-14 1zm-6-2l14-1-5-2-14 0zm-5-3l14 0-6-3-13 1zm-5-2l13-1-5-2-13 0zm-5-3l13 0-5-3-13 1zm-5-2l13-1-5-2-13 0zm-5-3l13 0-5-3-13 1zm-5-2l13-1-5-2-14 0zm-3-9l14 0-5-3-14 1zm-5-2l14-1-6-2-13 0zm-5-3l13 0-5-3-13 1zm-5-2l13-1-5-3-13 1zm-5-3l13-1-5-3-13 1zm-5-3l13-1-5-2-13 1zm-5-2l13-1-5-3-14 1zm3-7l13-1-5-3-14 1zm-6-3l14-1-6-2-13 1zm-5-2l13-1-5-3-13 1zm-5-3l13-1-5-3-13 1zm-5-3l13-1-5-3-13 1zm-5-3l13-1-5-3-13 2zm13-1l13-1-5-3-13 1zm-5-3l13-1-5-3-13 2z"/><path color="#f6de29" d="M884 302l7-2-10-1-7 2zm7-2l7-1-11-2-6 2zm7-1l6-2-10-2-7 2zm6-2l7-2-10-1-7 1zm7-2l7-2-11-1-6 2zm7-2l6-1-10-2-7 2zm6-1l7-2-10-2-7 2zm7-2l6-2-10-2-6 2zm6-2l7-2-10-2-7 2zm7-2l7-2-11-2-6 2zm70-26l6-2-10-2-7 2zm-7 2l7-2-11-2-6 2zm-7 2l7-2-10-2-7 2zm-6 2l6-2-10-2-7 2zm-7 2l7-2-11-2-6 2zm-7 2l7-2-10-2-7 2zm-6 2l6-2-10-2-7 2zm-7 2l7-2-11-2-6 3zm-7 2l7-2-10-1-7 2zm-6 2l6-2-10-1-7 2zm-113 31l6-2-10-1-7 1zm-7 1l7-1-11-2-6 2zm-7 2l7-2-10-1-7 1zm-6 1l6-1-10-2-6 2zm-7 2l7-2-10-1-7 1zm-6 1l6-1-10-2-7 2zm-7 1l7-1-11-1-6 1zm-50 6l6-1-10-1-7 1zm6-1l7-1-10-2-7 2zm7-1l7-1-11-2-6 1zm7-1l6-2-10-1-7 1zm232-62l7-2-10-2-7 2zm7-2l7-2-11-3-6 3zm7-2l6-3-10-2-7 2zm6-3l7-2-10-2-7 2zm7-2l6-2-10-2-6 2zm6-2l7-2-10-2-7 2zm7-2l7-2-11-3-6 3zm7-2l6-2-10-3-7 2zm-11-3l7-2-10-2-7 2zm-312 84l7-1-11-2-6 1zm-7 1l7-1-10-2-7 1zm-6 1l6-1-10-2-6 1zm-37 2l13-2-10-2-13 2zm13-2l7-1-10-1-7 0zm-37 2l14-2-11-2-13 2zm-23-1l13-1-10-2-14 1zm-24-1l13-1-10-2-13 1zm-23-1l13-1-10-2-14 1zm-24-1l13-1-10-2-13 0zm-24-2l14-1-11-2-13 0zm-23-2l13-1-10-2-13 0zm-10-3l13 0-5-2-14 1zm-24-2l13-1-5-1-13 0zm-5-2l13 0-5-2-13 1zm-5-1l13-1-5-1-13 0zm-24-3l13 0-5-2-13 0zm-5-2l13 0-5-2-13 1zm-5-1l13-1-5-1-13 0zm-5-2l13 0-5-2-14 0zm-29-5l13-1-5-1-13 0zm-5-2l13 0-5-2-13 0zm-5-2l13 0-5-2-14 0zm-6-2l14 0-5-2-14 0zm-5-2l14 0-6-2-13 0zm-5-2l13 0-5-2-13 0zm-5-2l13 0-5-2-13 0zm-39-10l13-1-5-2-13 0zm-5-3l13 0-5-2-13 0zm-5-2l13 0-5-3-14 1zm-6-2l14-1-5-2-14 0zm-5-3l14 0-6-2-13 0zm-5-2l13 0-5-3-13 1zm-5-2l13-1-5-2-13 0zm-5-3l13 0-5-3-13 1zm-5-2l13-1-5-2-13 1zm-5-2l13-1-5-3-14 1zm-3-9l14 0-5-3-14 1zm-5-2l14-1-6-3-13 1zm-5-3l13-1-5-2-13 1zm-5-2l13-1-5-3-13 1zm-5-3l13-1-5-2-13 0zm-5-3l13 0-5-3-13 1zm-5-2l13-1-5-3-14 1zm-6-3l14-1-5-2-14 1zm-5-2l14-1-6-3-13 1zm-5-3l13-1-5-3-13 1zm13-1l14-1-5-3-14 1zm-5-3l14-1-6-3-13 2zm-5-2l13-2-5-2-13 1zm-5-3l13-1-5-3-13 1zm-5-3l13-1-5-3-13 2zm-5-2l13-2-5-3-14 2zm-6-3l14-2-5-2-14 1zm9-4l13-2-5-2-14 1zm-14 1l14-1-6-3-13 2z"/><path color="#f5e128" d="M818 318l6-2-10-1-6 1zm6-2l7-1-10-2-7 2zm7-1l7-2-11-1-6 1zm7-2l6-1-10-2-7 2zm6-1l7-2-10-1-7 1zm7-2l7-1-11-2-6 2zm7-1l6-2-10-1-7 1zm6-2l7-2-10-1-7 2zm7-2l7-1-11-2-6 2zm7-1l6-2-10-1-7 1zm73-20l6-2-10-2-7 2zm6-2l7-2-10-2-7 2zm7-2l7-2-11-2-6 2zm7-2l6-2-10-2-7 2zm6-2l7-2-10-2-7 2zm7-2l7-2-11-2-6 2zm7-2l6-2-10-2-7 2zm6-2l7-2-10-2-7 2zm7-2l7-2-11-2-6 2zm7-2l6-2-10-2-7 2zm6-2l7-2-10-2-7 2zm7-2l6-2-10-2-6 2zm6-2l7-2-10-2-7 2zm30-14l7-3-11-2-6 2zm-7 2l7-2-10-3-7 2zm-6 2l6-2-10-3-7 2zm-7 2l7-2-11-3-6 2zm-7 2l7-2-10-3-7 2zm-6 2l6-2-10-3-6 3zm-7 2l7-2-10-2-7 2zm-226 61l7-2-10-1-7 1zm-6 1l6-1-10-2-7 1zm-7 1l7-1-11-2-6 2zm-7 2l7-2-10-1-7 1zm-6 1l6-1-10-2-7 1zm-37 3l6-1-10-2-7 1zm6-1l7-2-10-1-7 1zm7-2l7-1-11-1-6 1zm-37 3l7-1-10-2-7 1zm-6 1l6-1-10-2-7 1zm-37 2l13-2-10-2-14 2zm-24-1l13-1-10-2-13 1zm-24-1l14-1-11-2-13 1zm-23-1l13-1-10-2-13 1zm-24-1l14-1-11-2-13 1zm-23-1l13-1-10-3-14 1zm-24-2l13-1-10-3-13 1zm-34-5l14-1-6-1-13 0zm-5-2l13 0-5-2-13 1zm-23-2l13-1-5-1-14 0zm-6-2l14 0-5-2-14 1zm-5-1l14-1-6-1-13 0zm-23-3l13-1-5-1-14 0zm-6-2l14 0-5-2-14 0zm-5-2l14 0-6-2-13 1zm-5-1l13-1-5-2-13 1zm-5-2l13-1-5-2-13 1zm-24-3l14-1-5-2-14 1zm-5-2l14-1-6-2-13 1zm-5-2l13-1-5-2-13 1zm-5-2l13-1-5-2-13 0zm-5-3l13 0-5-2-13 0zm-5-2l13 0-5-2-13 0zm-5-2l13 0-5-2-14 0zm-6-2l14 0-5-3-14 1zm-5-2l14-1-6-2-13 1zm-5-2l13-1-5-2-13 1zm-57-26l14-1-5-2-14 1zm-5-2l14-1-6-3-13 1zm-5-3l13-1-5-2-13 1zm-5-2l13-1-5-3-13 1zm-5-3l13-1-5-2-13 1zm-5-2l13-1-5-3-13 1zm-5-3l13-1-5-3-14 2zm-6-2l14-2-5-2-14 1zm-5-3l14-1-6-3-13 2zm-5-2l13-2-5-2-13 1zm-5-3l13-1-5-3-13 1zm-5-3l13-1-5-3-13 2zm8-4l13-1-5-2-13 1zm-13 2l13-2-5-2-14 1zm8-4l13-1-5-3-13 1zm-5-3l13-1-5-3-14 2zm-6-2l14-2-5-2-14 1zm-5-3l14-1-6-3-13 1zm-5-3l13-1-5-3-13 2zm-5-2l13-2-5-2-13 1z"/><path color="#f5e427" d="M1054 259l7-2-11-3-6 2zm-7 2l7-2-10-3-7 2zm-6 2l6-2-10-3-7 2zm-7 2l7-2-11-3-6 2zm-7 2l7-2-10-3-7 2zm-6 2l6-2-10-3-6 2zm-7 2l7-2-10-3-7 2zm-6 2l6-2-10-3-7 2zm-7 2l7-2-11-3-6 2zm-7 2l7-2-10-3-7 2zm-6 2l6-2-10-3-7 2zm-7 2l7-2-11-3-6 2zm-7 1l7-1-10-3-7 2zm-6 2l6-2-10-2-7 2zm-7 2l7-2-11-2-6 2zm-7 2l7-2-10-2-7 2zm-6 2l6-2-10-2-7 2zm-7 2l7-2-11-2-6 2zm-7 2l7-2-10-2-7 2zm-6 1l6-1-10-2-6 1zm-7 2l7-2-10-2-7 2zm-6 2l6-2-10-2-7 2zm-7 2l7-2-11-2-6 2zm-7 1l7-1-10-2-7 1zm-6 2l6-2-10-2-7 2zm-7 2l7-2-11-2-6 2zm-7 1l7-1-10-2-7 1zm-6 2l6-2-10-2-7 2zm-7 2l7-2-11-2-6 2zm-7 1l7-1-10-2-7 1zm-6 2l6-2-10-2-7 2zm-7 1l7-1-11-2-6 1zm-7 2l7-2-10-2-7 2zm-6 1l6-1-10-2-7 1zm-57 8l7-1-11-2-6 1zm7-1l6-2-10-2-7 2zm6-2l7-1-10-2-7 1zm7-1l7-2-11-1-6 1zm7-2l6-1-10-2-7 2zm6-1l7-1-10-2-7 1zm226-61l7-2-11-2-6 2zm7-2l6-2-10-2-7 2zm6-2l7-2-10-2-7 2zm7-2l7-2-11-2-6 2zm7-2l6-2-10-2-7 2zm6-2l7-2-10-3-7 3zm-309 77l7-1-11-2-6 1zm-7 1l7-1-10-2-7 1zm-6 2l6-2-10-2-7 2zm-7 1l7-1-11-2-6 1zm-30 1l7-1-11-2-6 1zm7-1l6-1-10-2-7 1zm6-1l7-1-11-2-6 1zm-37 2l14-2-11-2-13 2zm-13 2l13-2-10-2-13 2zm-24-1l14-1-11-2-13 1zm-23 0l13-2-10-2-14 1zm-37 1l13-2-10-3-13 2zm13-2l13-2-10-2-13 1zm-23-1l13-2-10-2-14 1zm-24-1l13-2-10-2-13 1zm-24-2l14-1-11-3-13 1zm-23-2l13-1-10-3-13 1zm-10-3l13-1-10-3-14 1zm-24-2l13-1-5-2-13 1zm-5-2l13-1-5-1-13 1zm-5-1l13-1-5-2-13 1zm-19-1l14-1-6-2-13 1zm-5-2l13-1-5-1-13 1zm-5-1l13-1-5-2-13 1zm-5-2l13-1-5-2-13 1zm-19-1l14-1-6-2-13 1zm-5-2l13-1-5-2-13 1zm-5-2l13-1-5-1-13 0zm-5-2l13 0-5-2-13 0zm-5-2l13 0-5-2-13 0zm-5-2l13 0-5-2-14 1zm-24-3l13 0-5-2-13 0zm-5-2l13 0-5-2-13 0zm-5-2l13 0-5-3-13 1zm-5-2l13-1-5-2-14 1zm-6-2l14-1-5-2-14 1zm-5-2l14-1-6-2-13 1zm-5-2l13-1-5-2-13 1zm-5-2l13-1-5-2-13 1zm-5-2l13-1-5-2-13 0zm-5-3l13 0-5-3-14 1zm-6-2l14-1-5-2-14 1zm-5-2l14-1-6-2-13 1zm-5-2l13-1-5-3-13 1zm-5-3l13-1-5-2-13 1zm-5-2l13-1-5-2-13 1zm-5-2l13-1-5-3-13 1zm-5-3l13-1-5-2-14 1zm-6-2l14-1-5-2-14 1zm-5-2l14-1-6-3-13 1zm-5-3l13-1-5-2-13 1zm-5-2l13-1-5-3-13 1zm-5-3l13-1-5-2-13 1zm-5-2l13-1-5-3-13 1zm-5-3l13-1-5-2-14 1zm-6-2l14-1-5-3-14 1zm-5-3l14-1-6-2-13 1zm-5-2l13-1-5-3-13 1zm-5-3l13-1-5-2-13 1zm-5-2l13-1-5-3-13 1zm-5-3l13-1-5-3-14 2zm-6-2l14-2-5-2-14 1zm-5-3l14-1-6-3-13 2zm-5-2l13-2-5-2-13 1zm13-2l14-1-5-3-14 2zm-5-2l14-2-6-2-13 1zm-13 1l13-1-5-3-13 2zm8-4l13-1-5-3-13 2zm-5-2l13-2-5-3-13 2zm-5-3l13-2-5-2-13 1zm-5-3l13-1-5-3-13 2z"/><path color="#f5e626" d="M845 321l7-2-11-2-6 1zm7-2l6-2-10-2-7 2zm6-2l7-1-10-2-7 1zm7-1l7-2-11-2-6 2zm7-2l6-1-10-2-7 1zm6-1l7-2-10-2-7 2zm7-2l7-1-11-3-6 2zm7-1l6-2-10-2-7 1zm6-2l7-2-10-2-7 2zm7-2l7-1-11-3-6 2zm7-1l6-2-10-2-7 1zm6-2l7-2-10-2-7 2zm7-2l6-2-10-2-6 2zm6-2l7-1-10-3-7 2zm7-1l7-2-11-2-6 1zm7-2l6-2-10-2-7 2zm6-2l7-2-10-2-7 2zm7-2l7-2-11-2-6 2zm7-2l6-1-10-3-7 2zm6-1l7-2-10-3-7 2zm7-2l7-2-11-3-6 2zm7-2l6-2-10-2-7 1zm6-2l7-2-10-2-7 2zm7-2l7-2-11-2-6 2zm7-2l6-2-10-2-7 2zm6-2l7-2-10-2-7 2zm7-2l7-2-11-2-6 2zm7-2l6-1-10-3-7 2zm6-1l7-2-11-3-6 2zm7-2l6-2-10-3-7 2zm6-2l7-2-10-3-7 2zm7-2l7-2-11-3-6 2zm7-2l6-2-10-3-7 2zm6-2l7-2-10-3-7 2zm7-2l7-2-11-3-6 2zm7-2l6-2-10-3-7 2zm6-2l7-2-10-3-7 2zm-3-5l6-2-10-3-7 2zm-7 2l7-2-11-3-6 2zm-7 2l7-2-10-3-7 2zm-6 2l6-2-10-3-7 2zm-233 63l7-2-11-2-6 2zm-6 1l6-1-10-2-7 1zm-7 2l7-2-11-2-6 1zm-7 1l7-1-10-3-7 2zm-6 1l6-1-10-2-7 1zm-7 2l7-2-11-2-6 2zm-7 1l7-1-10-2-7 1zm-37 3l7-1-10-2-7 1zm7-1l7-2-11-2-6 2zm7-2l6-1-10-2-7 1zm6-1l7-1-10-2-7 1zm-37 3l7-1-10-2-7 1zm-6 1l6-1-10-2-6 1zm-7 1l7-1-10-2-7 1zm-37 2l14-2-11-2-13 2zm14-2l13-2-10-2-14 2zm-37 2l13-2-10-2-14 1zm-37 1l13-2-10-2-13 2zm13-2l13-2-10-2-13 2zm-23 0l13-2-11-3-13 2zm-14 1l14-1-11-3-13 2zm-23-1l13-1-10-3-14 1zm-11-3l14-1-11-3-13 2zm-13 2l13-2-10-2-13 1zm-10-3l13-1-10-3-14 1zm-24-2l13-1-10-3-13 1zm-23-1l13-2-10-3-14 1zm-11-4l14-1-11-3-13 1zm-23-2l13-1-5-2-13 2zm-5-1l13-2-5-1-14 1zm-6-2l14-1-5-2-14 1zm-18-1l13-1-5-2-13 1zm-5-2l13-1-5-1-13 1zm-5-1l13-1-5-2-14 1zm-6-2l14-1-5-2-14 1zm-18-1l13-1-5-2-13 1zm-5-2l13-1-5-2-13 1zm-5-2l13-1-5-2-13 1zm-5-2l13-1-5-2-14 1zm-6-2l14-1-5-2-14 1zm-5-2l14-1-6-1-13 0zm-5-2l13 0-5-2-13 0zm-18 0l13-2-5-2-13 2zm-5-2l13-2-5-2-14 1zm-6-3l14-1-5-2-14 1zm-5-2l14-1-6-2-13 1zm-5-2l13-1-5-2-13 1zm-5-2l13-1-5-2-13 1zm-5-2l13-1-5-2-13 1zm-5-2l13-1-5-2-14 1zm-6-2l14-1-5-3-14 1zm-5-3l14-1-6-2-13 1zm-5-2l13-1-5-2-13 1zm-5-2l13-1-5-2-13 1zm-5-2l13-1-5-3-13 1zm-5-3l13-1-5-2-13 1zm-5-2l13-1-5-2-14 1zm-6-2l14-1-5-3-14 1zm-5-3l14-1-6-2-13 1zm-5-2l13-1-5-2-13 1zm-5-2l13-1-5-3-13 1zm-5-3l13-1-5-2-13 1zm-5-2l13-1-5-3-13 2zm-5-2l13-2-5-2-14 1zm-6-3l14-1-5-3-14 2zm-5-2l14-2-6-2-13 1zm-5-3l13-1-5-3-13 2zm-5-2l13-2-5-2-13 1zm-5-3l13-1-5-3-13 2zm-5-2l13-2-5-2-13 1zm-5-3l13-1-5-3-14 2zm-6-2l14-2-6-2-13 1zm-5-3l13-1-5-3-13 2zm-5-2l13-2-5-2-13 1zm-5-3l13-1-5-3-13 2zm-5-2l13-2-5-2-13 1zm-5-3l13-1-5-3-14 2zm13-1l13-2-5-2-13 1zm-5-3l13-1-5-3-13 2zm-14 2l14-2-5-2-14 1zm-5-3l14-1-6-3-13 2zm14-1l13-2-5-3-14 2zm-6-3l14-2-5-2-14 2z"/><path color="#f5e924" d="M799 331l6-2-10-2-7 1zm6-2l7-1-10-3-7 2zm7-1l7-2-11-2-6 1zm7-2l6-1-10-2-7 1zm6-1l7-2-10-2-7 2zm7-2l6-1-10-2-6 1zm6-1l7-1-10-3-7 2zm253-68l7-2-11-3-6 2zm-309 76l6-2-10-2-7 1zm-7 1l7-1-11-3-6 1zm-7 1l7-1-10-3-7 2zm-6 2l6-2-10-2-7 1zm-7 1l7-1-11-3-6 1zm-37 2l13-2-10-3-13 3zm13-2l7-1-10-3-7 1zm7-1l7-2-11-2-6 1zm7-2l6-1-10-2-7 1zm-37 3l13-3-10-2-13 2zm-13 2l13-2-10-3-14 2zm-37 2l13-2-10-3-14 2zm13-2l13-3-10-2-13 2zm-24-1l14-2-11-3-13 2zm-13 2l13-2-10-3-13 2zm-23-1l13-2-10-2-14 1zm-24-1l13-2-10-2-13 1zm-24-1l14-2-11-3-13 2zm-23-1l13-2-10-3-14 1zm-24-2l13-2-10-3-13 2zm13-2l14-1-11-3-13 1zm-23-1l13-2-10-3-13 2zm-24-2l14-1-11-4-13 2zm-10-3l13-2-10-3-13 1zm-13 1l13-1-10-4-14 2zm-11-3l14-2-5-1-14 1zm-5-2l14-1-6-2-13 1zm-18 0l13-2-5-2-13 2zm13-2l13-1-5-2-13 1zm-18 0l13-2-5-2-14 2zm-6-2l14-2-5-1-14 1zm-5-2l14-1-6-2-13 1zm-5-2l13-1-5-2-13 1zm-18 0l13-2-5-2-13 2zm-5-2l13-2-5-2-14 2zm-6-2l14-2-5-2-14 2zm-5-2l14-2-6-2-13 2zm-5-2l13-2-5-2-13 2zm-5-2l13-2-5-2-13 2zm-5-2l13-2-5-2-13 2zm-196-89l13-2-5-2-13 1z"/><path color="#f5ec23" d="M759 339l6-1-10-3-7 1zm6-1l7-2-10-2-7 1zm7-2l7-1-11-3-6 2zm7-1l6-2-10-2-7 1zm6-2l7-1-10-2-7 1zm7-1l7-1-11-3-6 2zm-44 4l7-1-10-3-7 2zm-6 1l6-1-10-2-7 1zm-14 3l14-3-11-2-13 2zm-36 2l13-2-10-3-14 2zm13-2l13-3-10-2-13 2zm-24-1l14-2-11-3-13 3zm-13 3l13-3-10-2-13 2zm-37 1l13-2-10-3-13 2zm13-2l14-2-11-3-13 2zm-23-1l13-2-10-3-13 2zm-13 2l13-2-10-3-14 2zm-24-1l13-2-10-3-13 2zm13-2l14-2-11-3-13 2zm-23-1l13-2-10-3-14 2zm-14 2l14-2-11-3-13 2zm-23-1l13-2-10-3-14 1zm13-2l13-2-10-3-13 2zm-24-2l14-1-11-4-13 2zm-23-1l13-2-10-3-13 2zm-10-3l13-2-10-3-14 1zm-14 1l14-1-11-4-13 2zm-10-3l13-2-10-3-13 1zm-24-2l14-2-11-3-13 1zm-10-4l13-1-5-2-13 1zm-5-2l13-1-5-2-13 2zm-13 2l13-2-5-1-13 1zm-5-2l13-1-5-2-14 1zm-6-2l14-1-6-2-13 1zm-5-2l13-1-5-2-13 1zm-5-2l13-1-5-2-13 2zm-5-1l13-2-5-2-13 2z"/><path color="#f5ee21" d="M725 346l14-3-11-3-13 3zm14-3l13-3-10-3-14 3zm13-3l7-1-11-3-6 1zm-37 3l13-3-10-3-13 3zm-13 2l13-2-10-3-13 2zm-13 3l13-3-10-3-14 3zm-24-1l13-2-10-3-13 2zm13-2l14-3-11-3-13 3zm-23-1l13-2-10-3-14 2zm-14 2l14-2-11-3-13 2zm-23-1l13-2-10-3-13 2zm-24 0l14-3-11-3-13 2zm-23-2l13-2-10-3-14 2zm-24-1l13-2-10-3-13 2zm-24-1l14-2-11-4-13 2zm-10-4l13-2-10-3-13 2zm-13 2l13-2-10-3-13 2zm-24-1l14-2-11-4-13 2zm14-2l13-2-10-3-14 1zm-24-2l13-2-10-3-13 2zm-24-1l14-2-11-4-13 2zm14-2l13-2-10-4-14 2zm-24-2l13-2-10-4-13 2zm-10-4l13-2-5-2-13 2z"/><path color="#f6f11f" d="M686 354l13-3-10-3-14 2zm13-3l13-3-10-3-13 3zm13-3l13-2-10-3-13 2zm-37 2l14-2-11-3-13 2zm-13 3l13-3-10-3-13 3zm-24-1l14-2-11-4-13 3zm14-2l13-3-10-3-14 2zm-24-1l13-3-10-3-13 2zm-13 2l13-2-10-4-13 3zm-24-1l14-2-11-3-13 2zm14-2l13-3-10-3-14 3zm-24-1l13-2-10-4-13 2zm-13 2l13-2-10-4-14 3zm-24-1l13-2-10-4-13 2zm13-2l14-3-11-3-13 2zm-23-2l13-2-10-3-14 2zm-14 3l14-3-11-3-13 2zm-23-2l13-2-10-4-13 3zm13-2l13-2-10-4-13 2zm-23-1l13-3-10-3-14 2zm-14 2l14-2-11-4-13 2zm-10-4l13-2-10-4-13 2zm-10-4l13-2-10-3-14 2z"/><path color="#f7f31d" d="M659 359l13-3-10-3-13 2zm13-3l14-2-11-4-13 3zm-23-1l13-2-10-3-14 2zm-14 3l14-3-11-3-13 3zm-36 2l13-3-10-3-14 2zm13-3l13-2-10-4-13 3zm13-2l13-3-10-3-13 2zm-23-1l13-3-10-3-14 2zm-14 2l14-2-11-4-13 3zm-13 3l13-3-10-3-13 2zm-24-1l14-3-11-4-13 3zm14-3l13-2-10-4-14 2zm13-2l13-3-10-3-13 2zm-24-2l14-2-11-3-13 2zm-13 3l13-3-10-3-13 2zm-24-1l14-3-11-3-13 2zm14-3l13-2-10-4-14 3zm-24-1l13-2-10-4-13 2zm-13 2l13-2-10-4-13 2zm-10-4l13-2-10-3-14 2z"/><path color="#f7f61a" d="M619 367l13-3-10-3-13 2zm13-3l14-2-11-4-13 3zm14-2l13-3-10-4-14 3zm-24-1l13-3-10-3-13 2zm-13 2l13-2-10-4-13 3zm-13 3l13-3-10-3-14 2zm-24-1l13-3-10-3-13 2zm13-3l14-2-11-4-13 3zm-23-1l13-2-10-4-14 3zm-14 3l14-3-11-3-13 2zm-23-1l13-3-10-4-14 3zm13-3l13-2-10-4-13 2zm-10-4l13-2-10-4-14 3zm-14 3l14-3-11-3-13 2zm-10-4l13-2-10-4-13 2z"/><path color="#f8f817" d="M579 375l14-2-11-4-13 3zm14-2l13-3-10-4-14 3zm13-3l13-3-10-4-13 3zm-24-1l14-3-11-4-13 3zm-13 3l13-3-10-4-13 3zm-13 2l13-2-10-4-14 2zm-11-4l14-2-11-4-13 3zm14-2l13-3-10-4-14 3zm-24-1l13-3-10-4-13 3z"/><path color="#f9fb15" d="M566 378l13-3-10-3-13 2z"/></g><path stroke="#858585" stroke-width=".85" fill="none" d="M38.5 149.5L38.5 48.9M38.5 149.5L141.5 196.5M141.5 196.5L274.4 160.4M38.5 149.5l-2.2 1M38.5 128.2l-2.2 1M38.5 106.9l-2.2 1M38.5 85.6l-2.2 1M38.5 64.3l-2.2 1M141.5 196.5l-2.4 -0.6M141.5 196.5l1.2 1.5M90.0 173.0l-2.4 -0.6M207.9 178.4l1.2 1.5M38.5 149.5l-2.4 -0.6M274.4 160.4l1.2 1.5"/><g class="t"><text x="32.4" y="150.2" font-size="7.40" text-anchor="end">-0.5</text><text x="32.4" y="128.9" font-size="7.40" text-anchor="end">-0.4</text><text x="32.4" y="107.6" font-size="7.40" text-anchor="end">-0.3</text><text x="32.4" y="86.3" font-size="7.40" text-anchor="end">-0.2</text><text x="32.4" y="65.0" font-size="7.40" text-anchor="end">-0.1</text><text x="30.5" y="159.2" font-size="7.20" text-anchor="middle">5</text><text x="80.7" y="182.6" font-size="7.20" text-anchor="middle">0</text><text x="132.0" y="205.8" font-size="7.20" text-anchor="middle">-5</text><text x="149.7" y="206.6" font-size="7.20" text-anchor="middle">-5</text><text x="214.7" y="188.3" font-size="7.20" text-anchor="middle">0</text><text x="93.0" y="206.0" font-size="7.60" text-anchor="middle">x<tspan font-size="5.2" dy="2.6">2</tspan></text><text x="196.5" y="209.5" font-size="7.60" text-anchor="middle">x<tspan font-size="5.2" dy="2.6">1</tspan></text><text x="156.3" y="10.5" font-size="7.80" text-anchor="middle">Space Range</text><text transform="translate(12,99.6) rotate(-90)" font-size="8.1" text-anchor="middle">F( x<tspan font-size="5.6" dy="2.5">1</tspan><tspan dy="-2.5"> , x</tspan><tspan font-size="5.6" dy="2.5">2</tspan><tspan dy="-2.5"> )</tspan></text></g>
<rect x="317.4" y="21.9" width="221.6" height="166.6" fill="#fff" stroke="#8a8a8a" stroke-width=".9"/><path stroke="#8a8a8a" stroke-width=".7" fill="none" d="M317.4 188.5v-2.2M317.4 21.9v2.2M361.7 188.5v-2.2M361.7 21.9v2.2M406.0 188.5v-2.2M406.0 21.9v2.2M450.4 188.5v-2.2M450.4 21.9v2.2M494.7 188.5v-2.2M494.7 21.9v2.2M539.0 188.5v-2.2M539.0 21.9v2.2M317.4 21.9h2.2M539.0 21.9h-2.2M317.4 38.6h1.2M539.0 38.6h-1.2M317.4 48.4h1.2M539.0 48.4h-1.2M317.4 55.3h1.2M539.0 55.3h-1.2M317.4 60.7h1.2M539.0 60.7h-1.2M317.4 65.1h1.2M539.0 65.1h-1.2M317.4 68.8h1.2M539.0 68.8h-1.2M317.4 72.1h1.2M539.0 72.1h-1.2M317.4 74.9h1.2M539.0 74.9h-1.2M317.4 77.4h2.2M539.0 77.4h-2.2M317.4 94.2h1.2M539.0 94.2h-1.2M317.4 103.9h1.2M539.0 103.9h-1.2M317.4 110.9h1.2M539.0 110.9h-1.2M317.4 116.2h1.2M539.0 116.2h-1.2M317.4 120.6h1.2M539.0 120.6h-1.2M317.4 124.4h1.2M539.0 124.4h-1.2M317.4 127.6h1.2M539.0 127.6h-1.2M317.4 130.4h1.2M539.0 130.4h-1.2M317.4 133.0h2.2M539.0 133.0h-2.2M317.4 149.7h1.2M539.0 149.7h-1.2M317.4 159.5h1.2M539.0 159.5h-1.2M317.4 166.4h1.2M539.0 166.4h-1.2M317.4 171.8h1.2M539.0 171.8h-1.2M317.4 176.2h1.2M539.0 176.2h-1.2M317.4 179.9h1.2M539.0 179.9h-1.2M317.4 183.1h1.2M539.0 183.1h-1.2M317.4 186.0h1.2M539.0 186.0h-1.2M317.4 188.5h2.2M539.0 188.5h-2.2"/><path d="M319.6 58.9L331.9 58.9L338.3 59.3L340.0 64.1L341.5 68.3L359.0 68.4L361.5 73.6L466.0 73.8L468.5 74.6L486.4 74.6L488.5 86.8L539.0 86.8" stroke="#ff0000" stroke-width="1.5" fill="none" stroke-linejoin="round"/><path d="M319.6 54.5L320.6 64.0L322.5 75.0L325.3 86.0L328.0 100.0L330.0 111.7L336.1 112.3L339.7 116.0L341.0 116.3L539.0 116.3" stroke="#0000ff" stroke-width="1.5" fill="none" stroke-linejoin="round"/><path d="M319.6 57.0L322.6 75.4L325.0 90.0L327.0 110.0L327.5 125.0L340.0 125.5L360.9 126.2L363.9 131.7L411.0 131.8L412.9 133.2L539.0 133.6" stroke="#00ff00" stroke-width="1.5" fill="none" stroke-linejoin="round"/><path d="M319.6 70.5L320.6 103.2L539.0 103.2" stroke="#ffff00" stroke-width="1.5" fill="none" stroke-linejoin="round"/><path d="M319.6 56.0L322.0 75.0L324.5 85.0L326.5 100.0L327.5 112.0L329.0 115.8L340.0 116.2L539.0 116.3" stroke="#ff00ff" stroke-width="1.5" fill="none" stroke-linejoin="round"/><path d="M319.4 51.7L321.8 59.3L323.4 60.1L325.0 73.8L327.0 75.4L328.3 77.8L328.9 95.0L329.5 111.1L345.2 111.7L360.9 114.7L362.7 120.2L371.7 120.8L373.6 130.2L423.0 130.2L509.0 130.8L512.0 133.2L539.0 133.4" stroke="#00ffff" stroke-width="1.5" fill="none" stroke-linejoin="round"/><rect x="323.5" y="133.2" width="65.5" height="52.8" fill="#fff" stroke="#8a8a8a" stroke-width=".8"/><path d="M327.9 138.4H348.5" stroke="#ff0000" stroke-width="1.5"/><text x="350.3" y="140.8" font-size="6.40" text-anchor="start">GJO</text><path d="M327.9 147.5H348.5" stroke="#0000ff" stroke-width="1.5"/><text x="350.3" y="149.8" font-size="6.40" text-anchor="start">HPO</text><path d="M327.9 156.2H348.5" stroke="#00ff00" stroke-width="1.5"/><text x="350.3" y="158.5" font-size="6.40" text-anchor="start">POA</text><path d="M327.9 164.5H348.5" stroke="#ffff00" stroke-width="1.5"/><text x="350.3" y="166.8" font-size="6.40" text-anchor="start">RSA</text><path d="M327.9 172.9H348.5" stroke="#ff00ff" stroke-width="1.5"/><text x="350.3" y="175.2" font-size="6.40" text-anchor="start">LSA</text><path d="M327.9 181.3H348.5" stroke="#00ffff" stroke-width="1.5"/><text x="350.3" y="183.7" font-size="6.40" text-anchor="start">MNRW-LSA</text><text x="428.2" y="18.6" font-size="7.50" text-anchor="middle">Fitness evolution curve</text><text x="428.2" y="210.0" font-size="7.50" text-anchor="middle">Number of iterations</text><text transform="translate(294.8,105.2) rotate(-90)" font-size="7.6" text-anchor="middle">Fitness value</text><text x="317.4" y="199.8" font-size="7.30" text-anchor="middle">0</text><text x="361.7" y="199.8" font-size="7.30" text-anchor="middle">20</text><text x="406.0" y="199.8" font-size="7.30" text-anchor="middle">40</text><text x="450.4" y="199.8" font-size="7.30" text-anchor="middle">60</text><text x="494.7" y="199.8" font-size="7.30" text-anchor="middle">80</text><text x="539.0" y="199.8" font-size="7.30" text-anchor="middle">100</text><text x="314.8" y="25.3" font-size="7.4" text-anchor="end">-10<tspan font-size="5.3" dy="-3.2">-1</tspan></text><text x="314.8" y="80.8" font-size="7.4" text-anchor="end">-10<tspan font-size="5.3" dy="-3.2">0</tspan></text><text x="314.8" y="136.4" font-size="7.4" text-anchor="end">-10<tspan font-size="5.3" dy="-3.2">1</tspan></text><text x="314.8" y="191.9" font-size="7.4" text-anchor="end">-10<tspan font-size="5.3" dy="-3.2">2</tspan></text>
<text x="224" y="235.8" class="cap" font-size="13.5" textLength="118.6" lengthAdjust="spacingAndGlyphs"><tspan font-weight="bold">(g)</tspan> Test Functions F7.</text>
<path stroke="#e6e6e6" stroke-width=".7" fill="none" d="M137.3 448.6L36.7 400.1M137.3 448.6L270.2 412.2M36.7 400.1L36.7 294.1M270.2 412.2L270.2 306.2M170.5 439.5L69.9 391.0M112.2 436.5L245.0 400.1M69.9 391.0L69.9 285.0M245.0 400.1L245.0 294.1M203.8 430.4L103.1 381.9M87.0 424.4L219.9 387.9M103.1 381.9L103.1 275.9M219.9 387.9L219.9 282.0M237.0 421.3L136.4 372.8M61.9 412.2L194.8 375.8M136.4 372.8L136.4 266.8M194.8 375.8L194.8 269.8M270.2 412.2L169.6 363.7M36.7 400.1L169.6 363.7M169.6 363.7L169.6 257.7M169.6 363.7L169.6 257.7M36.7 400.1L169.6 363.7M169.6 363.7L270.2 412.2M36.7 376.0L169.6 339.6M169.6 339.6L270.2 388.1M36.7 351.8L169.6 315.4M169.6 315.4L270.2 363.9M36.7 327.7L169.6 291.2M169.6 291.2L270.2 339.8M36.7 303.5L169.6 267.1M169.6 267.1L270.2 315.6"/><g fill="none" stroke-width="1.1" stroke-opacity=".85" transform="scale(.5)"><path stroke="#4740e4" d="M309 812l0 1-4 0 0-1 4 0"/><path stroke="#4660fc" d="M307 816l-1 1-1 0-1-1 3 0M304 809l3 1 1 0 4 0 3 0 0 1-3 1 0 1 2 1-1 1-3 0-3-1-1 0-4 1-3 0 0-2 3-1-2-2 1-1 3 0M319 813l-2 0 1-1 1 1M296 811l0 1-1 0 1-1M309 808l0 1-2-1 1 0 1 0"/><path stroke="#2e83f9" d="M312 819l-1 0-2 0-1-1 4 1M299 807l2 1 2 0 3-1 6 0 2 2 1 0 4-1 2 0 1 1-4 1 1 1 3 1-1 2-4 1-1 0 3 2-1 1-3 0-2-2-2 1-3 1-6-1-2-1-2 0-3 1-3-1 0-1 4-1-1 0-3-1 1-2 4-1 0-1-2-1 1-1 3 0M324 815l0 1-2 0 0-2 2 1M301 818l-2 1-1 0 0-1 3 0M326 811l-3 1 1-1 2 0M291 813l-1 1-2 0 0-1 3 0M316 806l0 1-3 0 2-1 1 0M292 809l0 1-3 0 1-1 2 0M304 805l1 2-3-1 1-1 1 0"/><path stroke="#23a0e5" d="M317 821l-1 1-2 0-1-2 4 1M294 804l2 2 2 0 3-2 5 0 3-1 3 0 1 2 5 0 2 2 2 0 3-1 3 0 0 2-3 0 0 1 3 1 0 2 4 1 0 1-5 1-1 2-4 0-1 1 3 1-1 1-3 0-2-1-2 0-3 1-5 0-3 1-3 0-2-1-5-1-1-1-3-1-3 1-2 0-1-1 4-1 0-1-4-1 0-1-3-1 0-2 4 0 2-2 4-1 1 0-3-1 1-1 3-1M330 817l-1 1-2 0-1-1 4 0M295 819l-2 2-2-1 4-1M333 809l0 1-4 0 2-1 2 0M285 814l-2 2-2 0 0-1 4-1M323 804l0 1-4 0 2-1 2 0M287 806l1 2-4-1 0-1 3 0M300 803l1 1-4 0 1-1 2 0"/><path stroke="#02b7cc" d="M315 825l-1 1-1 0-1-1 3 0M295 800l2 2 3 0 3-2 5 1 2 1 1 0 3-1 6 0 1 2 3 0 3-1 3 0 0 1-4 1 1 1 1 0 4-1 3 1 0 1-3 1 2 1 3-1 3 0 0 1-4 1 0 1 4 1-1 2-3 1-1 0 3 1-1 2-4 0-1 2 4 1-1 1-4 0-2-2-2 1 3 1-2 2-4 0-2-2-1 1-1 0 3 1-1 1-4 0-1-1-4 0-2 1-5 0-3-1-1 0-3 1-5-1-1-1-4-1-2 2-3-1-1-1 4-1-2-1-3 2-3-1-1-1 4-1 0-1-2 0-3 1-3 0 0-2 4 0 0-1-4-1 1-2 3-1-2-2 0-1 5-1 1-1-4-1 1-1 4 0 1 1 2 0 1-1-3-1 1-1 4 0 3 1 1 0 1-1-3-1 1-1 3 0M341 818l0 1-2 0 0-1 2 0M305 824l-2 2-2-1-1-1 5 0M343 814l0 1-4 0 1-2 3 1M292 824l-1 1-1 0-1-1 3 0M344 810l-2 0 0-1 2 1M272 814l-1 1-2 0 1-1 2 0M324 800l1 1-4 0 2-1 1 0M275 810l-1 1-4 0 1-1 4 0M313 799l1 2-5-1 2-1 2 0M275 806l0 1-3 0 1-1 2 0M301 799l1 1-3-1 2 0"/><path stroke="#2ec5a4" d="M324 830l0 1-1 0 0-1 1 0M331 828l0 1-1 0-1-1 2 0M338 827l-2 0 0-1 2 1M345 825l-1 0-1 0 2 0M351 823l-1 0 1 0M306 832l-1 0 1 0M314 829l-1 1-2 0-1-1 4 0M297 796l1 2 4 0 3-2 5 0 1 2 2 0 3-1 5 0 1 2 4 0 2-1 4 0 0 1-4 1 1 1 1 0 3-1 5 0 0 2 5 0 0 2 5 1-1 2-3 1 1 0 3-1 4 1 0 1-4 0 0 2 3 1 0 1-4 1 0 1 3 1-1 2-4 0-1 1 4 1-1 1-5 1-1-2-2 0 0 1 3 1-1 1-5 1-2 1-5 0-2 2-5 0-2-1-1 0-1 0 4 1-2 2-3 0-2-2-3 0-3 1-5 0-2-1-2 0-2 1-5 0-2-2-3 0-3 1-3 0-1-2 4 0 0-1-1 0-3 1-5-1 0-1-5-1 0-2-5 0 0-2 4-1-1-1-3 2-4-1 0-1 4-1 0-1-3-1 0-2 4 0 0-1-3-1 1-2 4 0 1-2-4-1 1-1 4 0 2 1 2 0-3-1 1-2 5 0 2-2 5 0 2-2 4 1 3 1 1-1-3-1 2-1 3 0M353 819l-3 0 0-1 3 1M359 817l-1 0 1 0M303 829l-1 1-3 0-1-2 5 1M355 814l0 1-4 0 1-1 3 0M291 828l-1 1-2 0-1-1 4 0M356 810l0 1-3 0 1-1 2 0M278 828l-1 0 1 0M357 806l-1 0 1 0M273 825l0 1-2 0 0-1 2 0M352 804l-2 0 1-1 1 1M269 823l-1 1-2-1 3 0M348 801l0 1-3 0 1-1 2 0M263 820l0 1-2 0 0-1 2 0M342 799l-2 0 1 0 1 0M257 818l0 1 0-1M337 796l0 1-1 0 0-1 1 0M261 814l-1 1-3-1 1 0 3 0M326 796l0 1-3 0 1-2 2 1M254 812l-1 0 1 0M263 809l-1 2-3-1 0-1 4 0M315 795l0 1-4 0 1-1 3 0M320 793l0 1 0-1M255 807l0 1 0-1M264 805l-1 1-2 0 0-1 3 0M303 794l0 2-3-1 1-1 2 0M308 793l1 0-1 0M264 801l0 1-1-1 1 0M271 799l0 1-2 0 1-1 1 0M278 797l0 1-2 0 0-1 2 0M284 796l-2 0 1 0 1 0"/><path stroke="#66cd6d" d="M334 835l-1 0 1 0M341 833l0 1-1 0 0-1 1 0M348 831l0 1-2 0 0-1 2 0M355 830l-1 0-1 0 0-1 2 1M361 828l-1 0 1 0M316 836l0 1-1 0 0-1 1 0M324 834l-1 1-2 0 0-1 3 0M331 832l-1 2-3-1-1-1 5 0M281 793l1 2 3-1 3-1 5 0 2-2 5 0 1 2 2 0 3-1 6 0 1-2 4 0 1 2 5 1 2 1 2 0 2-1 5 0 1 2 5 1 1 1 3 1 2-2 4 1 0 1-4 0 0 2 3 0 2-1 5 0-1 2-4 0 1 1 2 1 2-2 4 0 0 2-4 0 0 2 4 0 0 2 4 1 0 2-4 0 0 1 3 1 0 2 4 1 0 1-5 0-1 2-4 1-1 1 4 1-1 1-5 1-1 1-5 1-1 1 4 1-1 1-4 0-1-1-3 0-1 1 4 1-1 1-5 0-1-2-3 1-1 1 4 0-1 2-4 0-1-2-4 0-2 2-5 0-2 1-5 0-1-1-3 0-2 1-6 0-2 1-3 0-1-2-5 0-2-2-2 0-3 2-5-1 0-2-5 0-1-2-4 0-2 1-4 0 0-2 5 0-1-1-2 0-3 1-4 0 0-2 5 0-1-1-3-1-2 2-4-1 0-1 5-1 0-1-4-1 0-2-5 0 1-2 4-1 0-1-4 0 1-3-5 0 1-2 5 0 1-2 4 0 0-1-3-1 1-2 5 0 1-2 4 0 2-1-4-1 1-2 4 0 1 2 3 0 1-1-4-1 1-1 4 0 2 1 2 0 2-1-4-1 1-1 4 0M357 825l0 1-4 0 0-2 4 1M363 823l0 1-3 0 0-1 3 0M369 822l-1 0 1 0M305 836l-2 0 0-1 2 1M313 833l-1 2-4 0 0-2 5 0M366 819l-1 1-4 0 0-2 5 1M371 817l0 1-2 0 0-1 2 0M294 835l-1 1-2 0 0-1 3 0M373 813l0 1-3 0 1-1 2 0M299 831l-3 1 6 1-2-2-1 0M359 815l3 1 1-2-4 1M282 834l-1 1-1 0 0-1 2 0M290 832l-1 2-4-1 0-1 5 0M369 811l-1 1-4 0 1-2 4 1M374 809l0 1-1 0 0-1 1 0M278 832l-1 1-3 0 0-1 4 0M370 806l0 1-4 0 1-1 3 0M264 832l-1 0 1 0M274 829l-2 2-3-1 0-1 5 0M365 804l0 1-5 0 2-1 3 0M370 802l0 1 0-1M260 829l-1 1-1-1 2 0M366 800l-2 0 2 0M255 827l-1 0-1 0 2 0M361 798l-2 0 0-1 2 1M250 824l-1 1-1 0 0-1 2 0M356 795l0 1-2 0 0-1 2 0M244 822l-1 0 1 0M253 819l-1 2-3 0 0-2 4 0M345 794l0 2-5 0 2-2 3 0M350 793l-1 0 1 0M247 817l0 1-3 0 0-1 3 0M340 792l0 1-4 0 1-1 3 0M241 815l0 1-1 0 0-1 1 0M250 813l-1 2-4-1 0-1 5 0M329 791l0 2-5 0 1-2 4 0M334 790l-2 0 1 0 1 0M252 808l-1 2 4 0 0-1-3-1M312 792l1 1 2 0 2-1-5 0M243 811l0 1-2-1 2 0M323 789l0 1-3 0 1-1 2 0M245 806l0 1-3 0 1-1 2 0M253 804l0 2-5 0 1-2 4 0M305 790l1 2-5-1 1-1 3 0M311 788l0 1-3 0 1-1 2 0M246 802l0 1-2 0 1-1 1 0M254 800l-1 2-3-1 1-1 3 0M261 798l0 2-5 0 1-2 4 0M287 791l0 2-4-1 1-1 3 0M293 789l0 2-3-1 1-1 2 0M299 788l-2 0 1 0 1 0M254 796l0 1-1 0 0-1 1 0M261 795l-2 0 1-1 1 1M268 793l-2 0 2 0M274 791l-1 0 1 0M280 789l-1 0 1 0"/><path stroke="#b8c431" d="M356 841l-1 0 1 0M363 839l-1 0 1 0M369 837l-1 0 1 0M376 835l-1 0 1 0M331 844l-1 0 1 0M338 842l-2 0 2 0M345 840l0 1-2 0 0-1 2 0M352 838l0 1-3 0 0-1 3 0M359 836l-1 1-2 0 0-1 3 0M365 834l0 1-3 0 0-1 3 0M372 833l-1 0-2 0 0-1 3 1M378 831l-2 0 2 0M384 829l-1 0 1 0M391 827l0 1-1 0 0-1 1 0M313 845l-1 0 1 0M320 843l0 1-2 0 0-1 2 0M328 841l-1 1-3 0 0-1 4 0M335 839l-1 1-4 0 0-2 5 1M278 786l0 2 4 0 2-2 6 0 1-1 5 0 1 2 3 0 3-2 5 0 1 2 3 0 2-1-6-1 2-1 4 0 0 2 6 0 1-2 5 0 0 2-6 0 1 1 2 1 3-2 5 1 1 1 4 1 2-2 5 0 0 2 5 1 1 1 4 1 2-2 4 0 0 2-5 0 0 2 3 0 2-2 5 1 0 2-5 0 1 1 2 0 2-1 5 0 0 2-4 0 0 1 2 1 2-2 5 1 0 1-5 1 1 1 3 0 2-1 4 0 0 2-5 0 0 1 4 1 0 2 5 1-1 1-4 1 0 1 4 1-1 2-4 0 0 1 3 1 1-2 5 0-1 2-5 0-1 2 5 1 0 1-5 0 0-2-4 1 4 1-1 2-5 1-1 1 5 1-1 1-5 0-2 2-4 1-2 1 5 1-1 1-4 0-1-2-3 1-2 1 5 1-1 1-5 0-1-2-3 1-1 0 4 1-1 2-5 0-1-2-2 0-2 1 5 1-2 2-4 0-1-2-3 0-2 1 5 1-1 2-5-1 0-1-5 0-1 1-6 0-1 2-5 0-1-2-4 0-2 2-5-1-2-1-2 0-2 1 5 0-1 2-4 0 0-2-6 0-2 1-4 0 0-2 6 1-1-2-3 0-2 1-6 0 0-2-4 0-2 2-5-1 0-2-5 0-1-2-4 0-2 1-4 0 0-2 5 0-1-1-3 0-2 1-4 0 0-2 4 0 0-1-2-1-3 2-4-1 0-1 4-1 0-1-3 0-2 1-4 0 0-2 5 0-1-1-3-1-2 2-4-1 0-1 5 0 0-2-4-1 0-2-5 0 0-2 5 0 0-1-4-1 1-2 4-1 0-1-3 0-1 2-5-1 0-1 6 0 0-3-5 0 1-2 5 0-1 2 5 0 0-1-4-1 1-2 5 0 0-1-4-1 1-2 5 0 1-2 5 0 1-2-4 0 1-2 4 0 0 2 4 0 1-1-4-1 1-2 5 0 1 2 3 0 1-1-4-1 1-1 5 0 1 1 2 0 1-1-4-1 1-1 5 0 1 2 3-1 2-1-5 0 1-2 5 0M374 828l0 1-4 0 0-1 4 0M380 826l0 1-3 0 0-1 3 0M387 825l-1 0-2 0 0-1 3 1M393 823l-1 0-1 0 2 0M302 844l-1 1-1 0 0-1 2 0M309 842l-1 1-2 0 0-1 3 0M317 840l-2 2-3-1 0-1 5 0M383 822l-1 1-4 0 0-2 5 1M388 820l0 1-3 0 1-1 2 0M394 819l-1 0 1 0M321 837l-1 0 3 1-1-1-1 0M368 824l-1 0 2 1 0-1-1 0M290 844l-2 0 0-1 2 1M298 841l-1 2-3-1 0-1 4 0M390 816l0 1-3 0 0-1 3 0M396 815l-2 0 1-1 1 1M278 843l-1 0 1 0M286 841l-1 1-3 0 0-1 4 0M392 812l-1 1-3 0 1-1 3 0M397 810l0 1-1 0 0-1 1 0M266 843l-1 0 1 0M274 840l-1 1-2 0 0-1 3 0M282 838l-1 2-4 0 0-2 5 0M387 809l0 2-5 0 1-2 4 0M393 808l-3 0 1 0 2 0M399 806l-1 0 1 0M261 840l-1 0 1 0M270 838l-1 1-3 0 0-1 4 0M388 805l0 1-3 0 0-1 3 0M394 804l-1 0 1 0M274 834l-1 1 3 0-1-1-1 0M374 807l1 1 1-1-2 0M257 837l-1 1-1 0 0-1 2 0M265 835l-1 2-4-1 0-1 5 0M384 803l-1 1-4 0 1-2 4 1M389 801l0 1-2 0 1-1 1 0M252 835l0 1-3 0 0-1 3 0M385 799l-1 0-2 0 0-1 3 1M247 832l0 1-3 0 0-1 3 0M380 796l0 1-4 0 1-1 3 0M234 832l-1 0 1 0M243 830l-1 1-3 0 0-1 4 0M375 794l0 1-4 0 1-2 3 1M380 792l-1 0 1 0M229 830l-1 0 1 0M237 828l0 1-3-1 3 0M370 791l0 1-4 0 1-1 3 0M224 827l0 1 0-1M232 825l-1 1-2 0 0-1 3 0M364 789l0 1-2 0 0-1 2 0M370 787l0 1 0-1M227 823l-1 1-2-1 1 0 2 0M235 821l-1 1-4 0 0-1 5 0M354 788l0 2-5-1 1-1 4 0M359 787l-2 0 0-1 2 1M239 817l-2 1 3 0 0-1-1 0M338 790l1 0 1 0 1 0-3 0M221 821l-1 0 1 0M229 818l0 2-4-1 1-1 3 0M348 786l0 1-4 0 1-1 3 0M354 784l0 1-2 0 1-1 1 0M216 818l-1 0 1 0M223 816l0 1-2 0 0-1 2 0M232 814l-1 2-4-1 0-1 5 0M337 785l0 2-5-1 1-1 4 0M343 783l0 1-3 0 1-1 2 0M218 814l-1 0-1 0 2 0M226 812l-1 1-3 0 0-1 4 0M331 783l0 1-3 0 1-1 2 0M337 781l0 1-1 0 0-1 1 0M220 810l-1 0-1 0 2 0M227 807l0 2-3-1 0-1 3 0M320 782l0 1-4 0 1-1 3 0M326 781l-2 0 0-1 2 1M244 800l1 1 1 0 1-1-3 0M291 787l1 1 1 0 1-1-3 0M214 807l-1 0 1 0M221 805l0 1-2 0 1-1 1 0M229 803l-1 2-3-1 1-1 3 0M236 801l0 2-5 0 1-2 4 0M302 783l0 2-5 0 1-2 4 0M308 782l0 1-3-1 0-1 3 1M314 780l0 1-2-1 1 0 1 0M222 801l0 1-1 0 0-1 1 0M230 799l0 1-3 0 1-1 2 0M237 797l0 2-4-1 1-1 3 0M244 795l0 2-5 0 1-2 4 0M284 784l0 2-5 0 1-2 4 0M290 783l0 1-4 0 1-1 3 0M296 781l0 1-3 0 1-1 2 0M302 779l0 1-1 0 0-1 1 0M224 797l-1 0 1 0M231 795l0 1-2 0 1-1 1 0M238 793l0 1-2 0 0-1 2 0M245 791l0 1-3 0 0-1 3 0M252 789l-1 2-3-1 1-1 3 0M258 788l0 1-3 0 1-1 2 0M265 786l0 1-3 0 0-1 3 0M271 784l0 1-3 0 1-1 2 0M278 782l0 1-3 0 1-1 2 0M284 781l-2 0 1 0 1 0M239 789l-1 0 1 0M245 787l0 1 0-1M252 786l-1 0 0-1 1 1M259 784l-1 0 1 0"/><path stroke="#f5ba3b" d="M388 851l-1 0 1 0M343 860l-1 0 1 0M356 856l-1 0 1 0M363 854l-1 0 1 0M370 852l0 1-2-1 2 0M376 850l0 1-1 0 0-1 1 0M383 848l0 1-1 0 0-1 1 0M390 847l-2 0 2 0M396 845l-1 0 1 0M403 843l-1 0 1 0M409 841l0 1-1 0 1-1M416 840l-1 0 0-1 1 1M331 859l-1 0 1 0M338 857l-1 0 1 0M345 855l0 1-2 0 0-1 2 0M352 853l-1 1-1 0 0-1 2 0M359 851l-1 1-2 0 0-1 3 0M365 850l-2 0 0-1 2 1M372 848l0 1-3-1 0-1 3 1M379 846l-1 1-2 0 0-1 3 0M385 844l0 1-2 0 0-1 2 0M392 842l0 1-3 0 0-1 3 0M398 840l0 1-2 0 0-1 2 0M405 839l-2 0 2 0M411 837l-1 0 1 0M418 835l0 1-1 0 0-1 1 0M424 833l0 1-1 0 1-1M431 832l-1 0 1 0M313 860l-1 0 1 0M320 858l0 1-1 0 0-1 1 0M327 856l-1 1-1 0 0-1 2 0M334 854l-1 1-2 0 0-1 3 0M341 852l-1 1-2 0 0-1 3 0M348 851l-1 1-3 0 0-2 4 1M354 849l0 1-4 0 1-2 3 1M361 847l-1 1-3 0 0-1 4 0M368 845l-1 1-4 0 1-1 4 0M375 843l-1 2-4-1 0-1 5 0M381 841l-1 2-3 0 0-2 4 0M388 840l-1 1-4 0 1-2 4 1M394 838l0 1-4 0 0-1 4 0M401 836l-1 1-3 0 0-1 4 0M407 834l0 1-3 0 0-1 3 0M413 833l-2 0 0-1 2 1M420 831l-1 0-1 0 2 0M426 829l-1 0 1 0M432 827l0 1 0-1M301 859l0 1-1 0 1-1M308 858l-1 0 0-1 1 1M315 856l-2 0 0-1 2 1M322 854l0 1-3 0 0-1 3 0M329 852l0 1-3 0 0-1 3 0M336 850l0 1-4 0 0-1 4 0M343 848l-1 2-4-1 0-1 5 0M269 777l0 2 5 0 2-2 5 0 2-1 5 0 0 2 4 0 2-2 6 0 1 2 3 0 1-1-5-1 1-2 5 1 0 1 5 1 2-2 5 0 0 2 5 0 1-2 5 1 0 2 6 0 1-2 5 0 0 2-6 0 1 2 3 0 2-2 5 1 1 1 4 1 2-2 5 0-1 2 6 1 0 2 5 0 1-2 5 0 0 2-6 0 1 2 4 0 1-1 5 0 0 2-5 0 0 1 4 1 1-2 5 0 0 2-5 0 0 2 3 0 2-2 5 1 0 2-5 0 0 1 4 0 1-1 5 0 0 2-5 0 0 1 4 1 1-2 5 1 0 1-5 0 0 2 4 1 1-2 5 0 0 2-6 0 0 2 5 0 0 2 5 1-1 1-5 1 0 1 5 1-1 2-5 0 0 1 4 1 1-2 5 0 0 2-6 0 0 2 5 1-1 1-5 0-1 2 5 1-1 2-5 0-1 2 5 0 0 2-6 0 1-2-4 0-1 1 4 1-1 2-4 0-1 1 4 1 0 2-6 0-1 2-5 0-1 2 5 0-1 2-5 0 1-2-5 0-1 1 5 1-1 2-6 0 0-2-4 0-1 1 5 1-1 2-5-1-1-1-3 0-1 1 4 1-1 1-5 0 0-2-4 1-1 1 5 0-1 2-6 0 0-2-4 0-1 2 5 0-1 2-5 0 0-2-4 0-2 2 5 0-1 2-4 0 0-2-5 0-2 1-6 0-1 2-5 0 0-2-5 0-1 2-6-1-1-1-3 0-1 1 5 0-1 2-5 0 0-2-5 0-2 2-5-1 0-1-5-1-1 2-6 0 0-2-5 0-1 1-5 0 0-2 6 0-1-1-3 0-2 1-6 0 0-2-4 0-2 2-5-1 0-2-5 0 0-2-5 0-2 1-4 0 0-2 6 0-1-1-4-1-2 2-4 0 0-2 5 0 0-2-4 0-1 2-6-1 1-2 5 0 0-1-4 0-1 1-6 0 1-2 5 0-1-1-3-1-1 2-6-1 1-1 5-1 0-1-4 0-2 1-5 0 1-2 5 0 0-1-5-1-1 2-4 0 0-2 5 0 0-2-4-1 0-2-5 0 0-2 5 0 1-2-5 0 1-2 4-1 1-1-4 0-1 2-5-1 0-1 5 0 1-2-5-1 1-2 5 0 0-2-4 0 0-2 6 0 0-2-5 0 1-2 5 0 0 2 4 0 1-1-5-1 1-2 5 0 1-2-5 0 1-2 6 0 1-2 5 0 1-2-5-1 1-1 5 0-1 2 5 0 1-2-5 0 1-2 5 0 0 2 4 0 1-2-4 0 1-2 5 0 0 2 4 0 1-1-5-1 1-2 6 0 0 2 4 0 1-1-5-1 1-2 5 1 1 1 3 0 2-1-5-1 1-1 5 0 0 2 4 0 2-2-5 0 1-2 4 0M396 833l0 2-5 0 1-2 4 0M403 832l-1 1-4 0 1-2 4 1M409 830l-1 1-3 0 0-1 4 0M415 828l0 1-3 0 0-1 3 0M422 827l-1 0-2 0 0-1 3 1M428 825l-2 0 2 0M434 823l-1 0 1 0M290 859l-1 0 1 0M297 857l-1 0-1 0 2 0M304 855l-1 1-2 0 0-1 3 0M311 853l-1 1-3 0 1-1 3 0M318 851l-1 1-3 0 0-1 4 0M325 849l-1 2-4 0 0-2 5 0M405 827l-1 2-5 0 1-2 5 0M411 826l-1 1-4 0 1-2 4 1M417 824l0 1-4 0 1-1 3 0M423 822l0 1-2 0 0-1 2 0M429 821l-1 0 0-1 1 1M436 819l-1 0 1 0M329 845l-2 2 5 0-1-2-2 0M336 844l-1 0 3 1-1-1-1 0M383 831l-1 1 2 0 0-1-1 0M389 829l-1 1 4 1 0-2-3 0M278 858l0 1-1-1 1 0M285 856l0 1-2 0 0-1 2 0M292 854l0 1-3 0 1-1 2 0M299 852l0 2-3-1 0-1 3 0M307 850l-1 2-4 0 0-2 5 0M413 821l-1 2-4 0 0-2 5 0M419 820l-1 1-3 0 0-2 4 1M425 818l0 1-3 0 1-1 2 0M431 816l0 1-2 0 1-1 1 0M318 845l-1 1 2 0 0-1-1 0M391 825l1 1 0-1-1 0M273 856l-1 0 1 0M281 854l-1 1-2-1 3 0M288 852l-1 1-3 0 0-1 4 0M295 850l-1 1-4 0 0-2 5 1M414 817l0 2-5 0 1-2 4 0M420 815l0 2-3-1 0-1 3 0M426 814l0 1-2-1 2 0M433 812l-1 1-1 0 0-1 2 0M439 810l0 1-1 0 0-1 1 0M299 846l-2 1 5 0-1-1-2 0M399 819l-1 1 3 0 1-1-3 0M261 855l0 1-1 0 0-1 1 0M269 853l-1 1-2 0 0-1 3 0M276 851l-1 1-3 0 1-1 3 0M283 849l-1 2-4 0 1-2 4 0M416 813l-1 1-4 0 1-1 4 0M422 811l-1 1-3 0 1-1 3 0M428 810l-2 0 0-1 2 1M434 808l-1 0 1 0M287 845l-1 2 4 0-1-1-2-1M400 815l3 1 1-2-4 1M257 853l-1 0-1 0 2 0M264 851l-1 1-2 0 0-1 3 0M272 849l-1 1-4 0 0-2 5 1M417 809l0 1-4 0 0-2 4 1M423 807l0 1-3 0 1-1 2 0M429 805l0 1-2 0 1-1 1 0M245 852l0 1-2-1 1 0 1 0M252 850l0 1-2 0 0-1 2 0M260 848l-1 1-3 0 0-1 4 0M267 846l-1 2-4 0 0-2 5 0M413 806l-1 2-5 0 1-2 5 0M419 805l-1 1-3 0 0-2 4 1M425 803l-1 1-2 0 0-1 3 0M431 801l0 1-2 0 1-1 1 0M271 843l-1 0 2 0-1 0M397 808l1 1 1-1-2 0M233 852l-1 0 1 0M240 850l-2 0 2 0M247 848l0 1-3-1 3 0M255 846l-1 1-4 0 0-2 5 1M414 802l-1 1-4 0 1-1 4 0M420 800l0 1-3 0 0-1 3 0M426 799l-2 0 2 0M432 797l-1 0 1 0M258 842l-2 1 6 0-1-1-3 0M398 803l0 1 3 1 2-2-5 0M228 849l-1 0 1 0M235 847l0 1-2 0 0-1 2 0M243 845l-1 1-3 0 0-1 4 0M250 843l-1 2-4-1 0-1 5 0M409 800l0 1-5 0 1-2 4 1M415 798l0 1-4 0 1-1 3 0M421 796l0 1-2 0 0-1 2 0M427 795l-1 0 1 0M254 840l-1 0 3 0-1 0-1 0M394 801l0 1 1 0 1-1-2 0M223 847l-1 0 1 0M230 845l-2 0 2 0M238 843l-1 1-3 0 0-2 4 1M410 795l0 2-4 0 1-2 3 0M416 794l0 1-2-1 2 0M422 792l-1 0 1 0M218 844l0 1-1 0 0-1 1 0M225 842l0 1-2 0 0-1 2 0M233 840l-1 2-3-1 0-1 4 0M405 793l0 1-4 0 1-1 3 0M411 791l0 1-3 0 1-1 2 0M417 790l-1 0 1 0M206 844l-1 0 1 0M213 842l-1 0 1 0M221 840l-1 1-2 0 0-1 3 0M228 838l-1 1-3 0 0-1 4 0M400 791l0 1-4 0 1-2 3 1M406 789l0 1-3 0 1-1 2 0M412 787l0 1-1 0 0-1 1 0M201 841l-1 0 1 0M208 839l0 1-1 0 0-1 1 0M216 837l-1 1-2 0 0-1 3 0M223 835l-1 2-4 0 1-2 4 0M395 788l0 1-4 0 1-1 3 0M401 786l0 1-3 0 1-1 2 0M407 785l-1 0 1 0M196 839l-1 0 1 0M203 837l-1 0 1 0M210 835l0 1-2 0 0-1 2 0M218 833l-1 1-4 0 1-1 4 0M390 786l0 1-4 0 1-2 3 1M396 784l0 1-3 0 1-1 2 0M402 782l0 1-1 0 0-1 1 0M191 837l-1 0 1 0M198 835l-1 0 1 0M205 833l-2 0 0-1 2 1M213 830l-1 2-3 0 0-2 4 0M385 783l0 2-4-1 1-1 3 0M391 782l-3 0 1-1 2 1M397 780l-1 0 1 0M193 832l0 1-1-1 1 0M200 830l0 1-2 0 0-1 2 0M208 828l-1 1-3 0 0-1 4 0M380 781l0 1-4 0 1-1 3 0M386 779l0 1-3 0 1-1 2 0M392 778l-1 0 1 0M219 823l-1 0 2 0-1 0M358 784l0 1 2 0 1-1-3 0M188 830l-1 0 1 0M195 828l-2 0 2 0M202 826l0 1-3 0 0-1 3 0M210 824l-1 1-4 0 0-1 5 0M369 780l0 2-5 0 1-2 4 0M375 779l0 1-4-1 1-1 3 1M381 777l0 1-2-1 2 0M387 775l-1 0 1 0M213 820l-2 1 5 0 0-1-3 0M352 781l1 2 2 0 2-2-5 0M182 827l0 1 0-1M190 825l-1 1-1 0 0-1 2 0M197 823l0 1-3 0 0-1 3 0M205 821l-1 2-4 0 0-2 5 0M364 778l-1 1-4 0 1-1 4 0M370 776l-1 1-3 0 1-1 3 0M376 774l-1 1-1 0 0-1 2 0M382 773l-1 0 1 0M216 816l-1 1 1-1 1 0-1 0M342 781l0 1 1 0 0-1-1 0M184 823l-1 0 1 0M192 821l-1 1-2 0 0-1 3 0M199 819l0 1-4 0 1-1 3 0M207 817l-1 2-5-1 1-1 5 0M352 777l0 2-5 0 1-2 4 0M358 775l0 2-4 0 1-2 3 0M364 774l0 1-2-1 2 0M370 772l0 1-1-1 1 0M179 821l-1 0 1 0M186 819l-2 0 1 0 1 0M194 817l-1 1-2 0 0-1 3 0M201 815l-1 1-3 0 0-1 4 0M347 775l0 1-5 0 1-1 4 0M353 773l0 1-3 0 0-1 3 0M359 771l0 1-2 0 0-1 2 0M365 770l-1 0 1 0M211 809l-1 1 4 0 0-1-3 0M324 778l0 1 3 0 1-1-4 0M181 816l0 1-1 0 0-1 1 0M188 814l0 1-2 0 0-1 2 0M196 812l-1 2-3-1 0-1 4 0M203 810l-1 2-4 0 0-2 5 0M335 774l0 2-5-1 1-1 4 0M341 772l0 2-3-1 0-1 3 0M347 771l0 1-2-1 1 0 1 0M354 769l-2 0 1 0 1 0M212 804l0 2 3 0 1-1-4-1M312 777l1 1 2 1 1-2-4 0M176 814l-1 0 1 0M183 812l0 1-2 0 0-1 2 0M190 810l0 1-3 0 1-1 2 0M197 808l0 1-4 0 1-1 3 0M205 806l-1 2-4-1 0-1 5 0M324 773l0 2-5 0 1-2 4 0M330 772l0 1-4 0 1-1 3 0M336 770l0 1-3 0 1-1 2 0M342 768l0 1-1 0 0-1 1 0M222 799l1 0-1 0M295 779l1 0-1 0M184 808l-1 0 1 0M192 806l-1 1-2 0 0-1 3 0M199 804l-1 1-3 0 0-1 4 0M206 802l0 2-5-1 1-1 4 0M312 773l0 1-5 0 1-1 4 0M318 771l0 1-4 0 1-1 3 0M324 770l-2 0 0-1 2 1M330 768l-1 0 1 0M337 766l-1 0 1 0M222 794l0 2 3 0 1-1-4-1M230 793l1 0 1 0-2 0M276 780l1 1 1 0 0-1-2 0M282 777l0 2 3 0 1-1-4-1M179 806l-1 0 1 0M186 804l-2 0 1 0 1 0M193 802l0 1-2-1 2 0M200 800l0 1-3 0 0-1 3 0M207 798l0 1-4 0 1-1 3 0M215 796l-1 2-5-1 1-1 5 0M294 774l0 2-5-1 1-1 4 0M300 772l0 2-4 0 1-2 3 0M306 771l0 1-3 0 0-2 3 1M313 769l-1 1-2 0 0-1 3 0M319 767l0 1-2 0 0-1 2 0M325 765l0 1-1 0 0-1 1 0M180 801l0 1 0-1M188 799l-1 1-1 0 0-1 2 0M195 797l-1 1-2 0 1-1 2 0M202 795l-1 2-2-1 0-1 3 0M209 794l-1 1-3 0 0-2 4 1M216 792l-1 1-4 0 1-1 4 0M223 790l-1 2-5-1 1-1 5 0M276 775l-1 2-5 0 1-2 5 0M282 774l0 1-5 0 1-2 4 1M288 772l0 1-4 0 1-1 3 0M295 770l-1 1-3 0 1-1 3 0M301 768l0 1-3 0 1-1 2 0M307 767l-1 0 1 0M182 797l-1 0 1 0M189 795l0 1-1-1 1 0M196 793l0 1-2 0 0-1 2 0M203 791l0 1-3 0 1-1 2 0M210 789l0 2-3-1 0-1 3 0M217 788l-1 1-3 0 1-2 3 1M224 786l-1 1-3 0 0-1 4 0M230 784l0 1-4 0 1-1 3 0M237 782l0 2-4-1 0-1 4 0M244 780l0 2-5-1 1-1 4 0M250 778l0 2-4 0 1-2 3 0M257 777l0 1-4 0 0-2 4 1M263 775l0 1-4 0 1-1 3 0M270 773l0 1-4 0 1-1 3 0M276 771l0 1-3 0 1-1 2 0M283 770l-1 0-2 0 1-1 2 1M289 768l-2 0 2 0M295 766l-1 0 1 0M302 764l-1 0 1 0M197 789l0 1-1-1 1 0M204 787l0 1-2 0 1-1 1 0M211 785l0 1-2 0 0-1 2 0M218 783l0 1-3 0 1-1 2 0M225 782l-1 1-2-1 3 0M231 780l0 1-3 0 1-1 2 0M238 778l0 1-3 0 0-1 3 0M245 776l-1 1-2 0 0-1 3 0M251 774l0 1-3 0 1-1 2 0M258 773l-1 0-2 0 1-1 2 1M264 771l0 1-2-1 2 0M271 769l-1 1-1-1 2 0M277 767l0 1-1 0 0-1 1 0M283 766l0-1 0 1M205 783l-1 0 1 0M212 781l0 1-1 0 0-1 1 0M219 779l0 1-2 0 1-1 1 0M226 778l-1 0-1 0 0-1 2 1M232 776l-1 0 1 0M239 774l-2 0 1 0 1 0M245 772l0 1-1-1 1 0M252 770l0 1-1 0 0-1 1 0M258 769l0-1 0 1M265 767l-1 0 1 0M227 773l0 1-1 0 0-1 1 0"/><path stroke="#f8d92c" d="M274 897l1 0M280 896l1-1 1 0M287 894l0-1 2 0M294 892l0-1 1 0M300 890l2 0M307 888l2 0M313 887l1-1 2 0M320 885l0-1 2 0M326 883l1-1 2 0M333 881l0-1 3 0M339 879l1-1 3 1M346 878l0-1 3 0M353 876l0-1 3 0M359 874l0-1 4 0M366 872l0-1 4 0M372 870l1-1 3 0M379 869l0-2 4 0M385 867l1-2 4 1M392 865l0-1 4 0M399 863l0-1 4 0M405 861l1-1 4 0M412 860l0-2 4 0M419 858l0-2 4 1M425 856l1-2 4 1M432 854l0-1 4 0M439 852l0-1 4 0M445 850l1-1 3 0M452 849l0-2 4 1M459 847l0-1 3 0M466 845l0-1 3 0M472 843l1-1 3 0M479 841l0-1 3 0M486 839l0-1 3 1M493 838l0-1 2 0M499 836l1-1 2 0M506 834l0-1 2 0M513 832l0-1 2 0M520 830l1 0M526 828l2 0M533 826l2 0M540 825l0-1M269 894l1 1M277 893l-2 0 1 0 1 0M284 891l-2 0 2 0M291 889l-1 1-2 0 1-1 2 0M297 887l0 1-2 0 0-1 2 0M304 885l0 1-2 0 0-1 2 0M311 883l-1 1-2 0 0-1 3 0M318 882l-1 1-2-1 0-1 3 1M324 880l0 1-3 0 0-1 3 0M331 878l0 1-3 0 0-1 3 0M338 876l-1 1-3 0 1-1 3 0M345 874l-1 1-3 0 0-1 4 0M351 872l0 2-4-1 1-1 3 0M358 871l0 1-4 0 0-2 4 1M365 869l-1 1-4 0 1-2 4 1M372 867l-1 1-4 0 0-1 5 0M378 865l0 2-5-1 1-1 4 0M385 863l-1 2-4 0 0-2 5 0M392 861l-1 2-4 0 0-2 5 0M398 859l0 2-5 0 1-2 4 0M405 858l-1 1-4 0 0-2 5 1M412 856l-1 1-5 0 1-1 5 0M418 854l0 2-5-1 1-1 4 0M425 852l-1 2-4 0 0-2 5 0M432 850l-1 2-4 0 0-2 5 0M438 849l-1 1-4 0 1-2 4 1M445 847l-1 1-4 0 1-1 4 0M451 845l0 1-4 0 0-1 4 0M458 843l-1 2-4-1 1-1 4 0M464 841l0 2-4 0 1-2 3 0M471 840l-1 1-3 0 0-2 4 1M477 838l0 1-3 0 0-1 3 0M484 836l-1 1-2 0 0-1 3 0M490 834l0 1-3 0 1-1 2 0M497 833l-3 0 0-1 3 1M503 831l0 1-2-1 2 0M510 829l0 1-2 0 0-1 2 0M516 827l0 1-2 0 1-1 1 0M523 825l0 1-2 0 0-1 2 0M530 824l-1 0-1 0 0-1 2 1M536 822l-1 0M264 892l1 0 0 1M272 890l0 1-2 0 0-1 2 0M279 888l0 1-2 0 0-1 2 0M286 887l-1 0-2 0 1-1 2 1M292 885l0 1-2-1 2 0M299 883l0 1-3 0 1-1 2 0M306 881l0 1-3 0 0-1 3 0M313 879l-1 1-3 0 1-1 3 0M320 877l-1 1-3 0 0-1 4 0M326 875l0 2-4-1 1-1 3 0M333 874l0 1-4 0 0-2 4 1M340 872l-1 1-4 0 1-2 4 1M347 870l-1 1-4 0 0-1 5 0M353 868l0 2-5-1 1-1 4 0M360 866l-1 2-4 0 0-2 5 0M367 864l-1 2-4 0 0-2 5 0M374 862l-1 2-5 0 1-2 5 0M380 861l0 1-5 0 0-2 5 1M387 859l-1 2-5-1 1-2 5 1M394 857l-1 2-5 0 0-2 6 0M400 855l0 2-6 0 1-2 5 0M407 853l-1 2-5 0 1-2 5 0M414 851l-1 2-5 0 0-2 6 0M420 850l-1 1-5 0 1-2 5 1M427 848l-1 2-5-1 1-1 5 0M433 846l0 2-5 0 0-2 5 0M440 844l-1 2-4 0 0-2 5 0M446 843l0 1-5 0 1-2 4 1M453 841l-1 1-4 0 1-2 4 1M459 839l0 1-4 0 0-1 4 0M466 837l-1 1-3 0 0-1 4 0M472 835l0 2-3-1 0-1 3 0M479 834l0 1-4 0 1-2 3 1M485 832l0 1-3 0 1-1 2 0M492 830l0 1-3 0 0-1 3 0M498 828l0 1-2 0 0-1 2 0M505 826l0 1-3 0 1-1 2 0M512 825l-1 0-2 0 1 0 2 0M518 823l0 1-2-1 2 0M525 821l-1 1-1 0 0-1 2 0M531 820l-2 0 1-1M259 890l1 0M267 888l-2 0 2 0M274 886l0 1-2 0 0-1 2 0M281 884l-1 1-2 0 0-1 3 0M288 882l-1 1-2 0 0-1 3 0M294 880l0 1-3 0 1-1 2 0M301 879l0 1-3-1 0-1 3 1M308 877l-1 1-3 0 1-2 3 1M315 875l-1 1-3 0 0-1 4 0M322 873l-1 1-4 0 1-1 4 0M328 871l0 2-4-1 0-1 4 0M335 869l-1 2-4 0 1-2 4 0M342 867l-1 2-4 0 0-2 5 0M349 865l-1 2-5 0 1-2 5 0M356 864l-1 1-5 0 0-2 6 1M258 761l-1 2 6 0 1-2 6 1 1-2 5 0 0 2 5 0 1-2 6 0 1-2 5 1 0 2 5 0 2-2 5 0 0 2 5 0 1-1 6 0 0 2 4 0 2-2-6 0 1-2 5 0 0 2 6 0 1-2 5 1-1 2-5-1 0 2 4 1 1-2 6 0 0 2 5 0 1-2 6 1 0 2 5 0 1-2 5 0 0 2 6 1 0 2 4 0 2-2 5 0 0 2 5 1 0 2 5 0 1-2 6 0-1 2-5 0-1 2 5 0 1-2 6 1-1 2-5 0 0 1 4 1 1-2 6 0-1 2 6 1 0 2 5 0 0 2 5 0 0 2 5 1 0 2 5 0 0 2 5 1-1 2-5 0 0 1 4 1 1-2 6 0-1 2-5 0 0 2 5 0 1-2 5 1-1 2-5-1-1 2 6 1-1 2 6 0-1 2-6 0 0 2 5 1-1 2 6 0-1 2-5 0-1 2 5 0 0 2-6 0 0 2 5 0-1 3-5 0-1 1 5 1 1-2 6 0-1 2-6 0 0 2 5 0-1 2-5 0 0-2-5 0 0 1 5 1-1 2-5 0-1 2 5 0-1 2-5 0-1 2 5 0-1 2-5 0-1 2-5 0-1 2 5 0-1 2-5 0-1 2-6 0-1 2 6 1-1 2-6-1 1-2-5 0-1 2 5 0-1 2-5 0 0-2-5 0 0 2 5 0-1 2-6 0-1 2-5 0-1 2-6 0-1 2-6 0-1 2-5-1-1 2-6 0-1 2-6 0 0-2-4 0-1 1 5 1-1 2-5 0 0-2-5 0-1 1 5 1-1 2-5-1 1-2-6 0-1 2-6 0-1 2-5 0 0-2-5 0-1 1-6 0-1 2-6 0 1-2-5 0-2 2-5-1 0-2-5 0-1 2-6 0 0-2-5 0-1 1 6 1-1 2-5-1 0-2-6 0-1 2-5 0 0-2 6 0 0-2-4 0-2 2-5 0 0-2-5-1-1 2-6 0 0-2-5 0-1 2-6-1 1-2-6 0 0-2-5 0-1 2-5-1 0-2-5 0 0-2-5 0-2 1-5 0 1-2 5 0 0-1-4-1-2 2-5 0 1-2 5 0 0-2-4 0-1 2-6-1 0-2-5 0 0-2-5 0 0-2-5-1 0-2-5 0 0-2-5-1 0-2-5 0 0-2 6 0 0-2-4 0-2 2-5-1 0-2 6 0 0-1-5-1-1 2-5 0 0-2 6 0 0-2-5 0 1-2-6-1 1-2 5 0 1-1-5-1 0-2-5 0 1-2 5 0 1-2-6-1 1-2 5 0 1-1-5-1 1-2 5 0 0-2-4 0-1 2-6 0 1-2 5 0 1-2-5-1 0-1 6 0-1 2 5 0 1-2-5 0 1-2 5 0 1-2-5-1 1-2 5 0 1-1-6-1 1-2 6 0 1-2 5 0 1-1-5-1 1-2 5 0 1-2 6 0 1-2-6 0 1-2 5 0 0 2 5 0 1-1-5-1 0-2 6 0 0 2 4 0 1-1-5-1 1-2 6 1 1-2 5 0 1-2 6 0 1-2 5 0 2-2 5 0 1-2 6 0 1-2 6 1 0 2 4 0 1-2-5 0 1-2 5 0 0 2 5 0 1-2-6 0 1-2 6 0M435 842l-1 2-5-1 1-2 5 1M442 840l-1 2-5 0 1-2 5 0M448 838l0 2-5 0 0-2 5 0M455 836l-1 2-4 0 0-2 5 0M461 835l0 1-5 0 1-2 4 1M468 833l-1 1-4 0 1-1 4 0M474 831l0 1-4 0 1-1 3 0M481 829l-1 2-3-1 0-1 4 0M487 828l0 1-3 0 0-2 3 1M494 826l-1 1-3 0 1-1 3 0M500 824l0 1-3 0 1-1 2 0M507 822l-1 1-2 0 0-1 3 0M513 820l0 1-2 0 0-1 2 0M520 819l-1 0-1 0 2 0M526 817l-2 0 1 0M372 856l-1 2 5 0 0-2-4 0M379 854l-1 2 4 0 0-2-3 0M385 853l-1 1 5 0 0-1-4 0M392 851l-1 1 4 0 0-1-3 0M398 849l0 1 4 1 0-2-4 0M405 847l-1 1 5 1 0-2-4 0M254 887l2 0-1 1M262 885l0 1-2 0 0-1 2 0M269 884l-2 0 0-1 2 1M276 882l-1 1-2-1 3 0M283 880l-1 1-2 0 0-1 3 0M289 878l0 1-3 0 0-1 3 0M296 876l0 1-4 0 1-1 3 0M303 874l0 1-4 0 0-1 4 0M310 872l-1 2-4 0 1-2 4 0M317 870l-1 2-4 0 0-2 5 0M324 869l-1 1-5 0 1-2 5 1M331 867l-1 1-5 0 0-2 6 1M337 865l-1 2-5-1 1-2 5 1M444 836l-1 2-6-1 1-2 6 1M450 834l-1 2-5 0 1-2 5 0M456 832l0 2-5 0 1-2 4 0M463 830l-1 2-4 0 1-2 4 0M469 829l0 1-4 0 0-2 4 1M476 827l-1 1-3 0 0-1 4 0M482 825l0 1-4 0 1-1 3 0M489 823l-1 1-3 0 1-1 3 0M495 822l0 1-3-1 0-1 3 1M502 820l-1 1-2 0 0-1 3 0M508 818l0 1-2 0 0-1 2 0M515 816l-1 1-2 0 1-1 2 0M521 815l-2 0 0-1M340 861l-1 1 5 1 0-2-4 0M347 859l-1 2 4 0 0-2-3 0M354 858l-1 1 4 0-1-1-2 0M361 856l-1 1 3 0 0-1-2 0M368 854l-1 1 2 0 0-1-1 0M374 852l0 1 2 0 0-1-2 0M381 851l1 0-1 0M388 849l1 0-1 0M394 847l2 1 0-1-2 0M401 845l0 1 1 0 0-1-1 0M407 843l0 1 2 0 0-1-2 0M414 841l-1 1 3 0 1-1-3 0M420 839l-1 1 4 1 1-2-4 0M426 837l0 2 4 0 1-2-5 0M249 885l2 0-1 0M257 883l0 1-2 0 0-1 2 0M264 881l0 1-3 0 1-1 2 0M271 879l0 1-3 0 0-1 3 0M278 877l-1 1-3 0 1-1 3 0M285 875l-1 2-3-1 0-1 4 0M292 874l-1 1-4 0 1-2 4 1M298 872l0 1-4 0 0-2 4 1M305 870l-1 1-4 0 1-1 4 0M312 868l-1 2-4-1 0-1 5 0M319 866l-1 2-5 0 0-2 6 0M452 830l-1 2-5-1 0-2 6 1M458 828l-1 2-4-1 0-1 5 0M465 826l-1 2-5 0 1-2 5 0M471 824l-1 2-4 0 1-2 4 0M477 823l0 1-4 0 1-2 3 1M484 821l-1 1-3 0 1-1 3 0M490 819l0 1-3 0 0-1 3 0M497 817l-1 1-2 0 0-1 3 0M503 816l-2 0 0-1 2 1M510 814l0 1-3-1 1 0 2 0M516 813l-2 0 0-1M322 862l-2 2 6 0 0-2-4 0M329 861l-1 1 4 0 0-1-3 0M336 859l-1 1 3 0 0-1-2 0M343 857l0 1 1 0 0-1-1 0M416 837l0 1 1 0 0-1-1 0M422 835l0 1 2 0 0-1-2 0M428 833l0 1 3 1 1-2-4 0M435 831l-1 2 5 0 0-2-4 0M243 882l3 0-1 1M252 880l0 1-2 0 0-1 2 0M259 879l0 1-3-1 1-1 2 1M266 877l0 1-3 0 0-1 3 0M273 875l-1 1-3 0 1-1 3 0M280 873l-1 1-3 0 0-1 4 0M287 871l-1 2-4-1 0-1 5 0M294 869l-1 2-5 0 1-2 5 0M301 867l-1 2-5 0 0-2 6 0M307 865l-1 2-5 0 1-2 5 0M453 825l0 2-6 0 1-2 5 0M460 824l-1 1-5 0 1-2 5 1M466 822l0 2-5-1 1-1 4 0M473 820l-1 2-4-1 1-1 4 0M479 818l0 2-4 0 0-2 4 0M485 817l0 1-3 0 0-2 3 1M492 815l0 1-3 0 0-1 3 0M498 813l0 1-3 0 1-1 2 0M505 811l0 1-3 0 1-1 2 0M511 810l-2 0 0-1M310 862l-1 1 5 0 0-1-4 0M317 860l0 1 3 0 0-1-3 0M325 859l-1 0 1 0M424 831l0 1 1 0 0-1-1 0M430 829l0 1 3 0 0-1-3 0M437 827l-1 1 4 1 0-2-3 0M238 880l3 0-1 1M248 878l-1 1-2 0 0-1 3 0M254 876l0 1-3 0 0-1 3 0M261 874l0 1-3 0 0-1 3 0M268 872l0 2-4 0 0-2 4 0M275 870l-1 2-4 0 1-2 4 0M282 869l-1 1-4 0 0-2 5 1M289 867l-1 1-5 0 1-2 5 1M461 819l0 2-5 0 0-2 5 0M468 818l-1 1-4 0 0-2 5 1M474 816l0 1-4 0 0-1 4 0M481 814l-1 1-4 0 1-1 4 0M487 812l0 2-4-1 1-1 3 0M494 811l-1 1-3 0 1-2 3 1M500 809l0 1-3 0 0-1 3 0M506 808l-2 0 0-1M299 861l-1 1 4 1 0-2-3 0M306 860l2 0-1 0-1 0M432 825l0 1 2 0 0-1-2 0M438 823l0 1 3 0 1-1-4 0M233 877l3 0-1 1M243 876l-1 1-3-1 1-1 3 1M250 874l-1 1-3 0 0-2 4 1M256 872l0 1-4 0 1-1 3 0M263 870l0 1-4 0 0-1 4 0M270 868l-1 2-4-1 1-1 4 0M277 866l-1 2-4 0 0-2 5 0M463 815l-1 2-5 0 1-2 5 0M469 813l0 2-5 0 1-2 4 0M476 812l-1 1-4 0 1-2 4 1M482 810l0 1-4 0 1-1 3 0M489 808l-1 1-3 0 0-1 4 0M495 806l0 1-3 0 0-1 3 0M501 806l-2-1 0-1M287 861l-1 1 4 0 0-1-3 0M295 859l-1 1 2 0 0-1-1 0M434 821l1 0-1 0M440 819l0 1 3 0 0-1-3 0M228 875l3 0-1 1M238 873l-1 1-3 0 1-1 3 0M245 871l-1 1-3 0 0-1 4 0M252 869l-1 2-4-1 1-1 4 0M259 867l-1 2-4 0 0-2 5 0M265 865l0 2-5 0 0-2 5 0M272 864l-1 2-5-1 1-2 5 1M458 813l0 2-6-1 1-2 5 1M465 811l-1 2-5-1 1-1 5 0M471 809l-1 2-4 0 1-2 4 0M477 807l0 2-4 0 0-2 4 0M484 806l-1 1-3 0 0-2 4 1M490 804l0 1-3 0 0-1 3 0M496 803l-2 0 0-1M275 860l-1 1 4 0 0-1-3 0M283 858l-1 1 2 0-1-1M436 817l1 0-1 0M442 814l-1 1 3 1 1-2-3 0M223 872l3 0 0 2M233 871l-1 1-3 0 1-2 3 1M240 869l-1 1-3 0 0-1 4 0M247 867l-1 1-4 0 0-1 5 0M254 865l-1 2-5-1 1-1 5 0M261 863l-1 2-5 0 0-2 6 0M460 808l-1 2-5 0 1-2 5 0M466 807l-1 1-4 0 0-2 5 1M472 805l0 1-4 0 0-1 4 0M479 803l-1 2-3-1 0-1 4 0M485 801l0 2-3-1 0-1 3 0M491 801l-3 0 1-1M264 859l-2 2 5 0 0-2-3 0M271 858l-1 0 2 0-1 0M437 812l0 1 2 0 0-1-2 0M443 810l0 1 3 1 1-2-4 0M218 870l3 0 0 1M228 868l-1 1-3 0 0-1 4 0M235 866l-1 2-4-1 1-1 4 0M242 864l-1 2-4 0 0-2 5 0M249 862l-1 2-5 0 1-2 5 0M461 804l0 2-6 0 1-2 5 0M468 803l-1 1-5 0 1-2 5 1M474 801l-1 1-4 0 1-1 4 0M480 799l0 1-4 0 1-1 3 0M486 798l-3 0 1-1M252 858l-2 2 5 0 0-1-3-1M259 857l-1 1 3 0 0-1-2 0M438 808l0 1 3 0 0-1-3 0M444 806l0 1 4 1 1-2-5 0M213 867l3 1 0 1M223 866l-1 1-3 0 0-1 4 0M230 864l-1 1-4 0 1-1 4 0M237 862l-1 2-4-1 0-1 5 0M244 860l-1 2-5 0 0-2 6 0M456 802l0 2-6-1 1-2 5 1M463 800l-1 2-5 0 1-2 5 0M469 798l0 2-5 0 1-2 4 0M475 797l0 1-4 0 1-2 3 1M481 796l-3 0 1-1M247 856l-1 2 4 0 0-2-3 0M255 855l-1 0 1 0M434 806l1 0-1 0M440 803l-1 2 4 0 0-2-3 0M208 865l3 0 0 1M218 863l-1 2-3-1 0-1 4 0M225 861l-1 2-4 0 1-2 4 0M232 859l-1 2-5 0 1-2 5 0M458 798l-1 1-5 0 1-2 5 1M464 796l0 1-5 0 1-1 4 0M470 794l0 1-4 0 1-1 3 0M476 794l-3-1 1-1M235 855l-2 2 6 0 0-1-4-1M242 854l0 1 2 0 0-1-2 0M435 801l0 1 2 0 1-1-3 0M441 799l-1 1 5 1 1-2-5 0M203 863l3 0 0 1M213 861l0 1-4 0 0-1 4 0M220 859l-1 2-4-1 0-1 5 0M227 857l-1 2-5 0 1-2 5 0M453 795l-1 2-5 0 1-2 5 0M459 793l0 2-5 0 1-2 4 0M466 792l-1 1-4 0 1-2 4 1M471 791l-3 0 0-1M230 853l-1 2 4 0 0-2-3 0M238 852l-1 0 2 0-1 0M430 799l1 0 1 0-2 0M436 797l0 1 3 0 1-1-4 0M198 860l3 0 0 2M208 858l0 2-4 0 0-2 4 0M215 856l-1 2-4 0 0-2 5 0M454 791l0 2-5-1 1-1 4 0M461 789l-1 2-4 0 0-2 5 0M467 789l-4 0 0-2M225 851l-1 1 4 0 0-1-3 0M431 794l0 1 3 1 1-2-4 0M192 858l4 0 0 1M203 856l0 1-5 0 1-1 4 0M210 854l0 2-5-1 0-1 5 0M449 789l0 1-5 0 0-2 5 1M456 787l-1 1-4 0 0-1 5 0M462 786l-4 0 0-1M221 849l-1 0 3 0-2 0M427 792l-1 1 2 0 1-1-2 0M187 855l4 0 0 2M198 853l0 2-5 0 1-2 4 0M206 851l-1 2-5 0 0-2 6 0M444 786l0 2-6 0 1-2 5 0M451 784l-1 2-4 0 0-2 5 0M457 784l-4 0 0-2M208 848l-1 1 5 0 0-1-4 0M216 846l-1 1 2 0 0-1-1 0M422 790l1 1 1-1-2 0M427 787l0 2 4 0 1-2-5 0M182 853l4 0 0 1M193 851l0 2-5-1 1-1 4 0M201 849l-1 2-5 0 0-2 6 0M439 784l0 1-6 0 1-2 5 1M446 782l-1 2-5-1 1-1 5 0M452 782l-5-1 1-1M203 845l-1 2 5 0 0-2-4 0M211 844l-1 0 2 0-1 0M417 787l0 1 1 0 0-1-1 0M422 785l0 1 4 1 1-2-5 0M177 850l4 0 0 2M188 849l0 1-5 0 1-2 4 1M196 847l-1 2-6-1 1-2 6 1M434 781l0 2-6 0 1-2 5 0M441 779l-1 2-5 0 1-2 5 0M447 779l-5 0 1-2M198 843l-1 1 4 0 1-1-4 0M206 841l0 1 1 0-1-1M412 785l1 1 0-1-1 0M417 783l0 1 4 0 1-1-5 0M172 848l4 0 0 2M183 846l0 2-5 0 1-2 4 0M191 844l-1 2-6 0 1-2 6 0M429 779l0 2-6-1 1-2 5 1M436 777l-1 2-5-1 1-1 5 0M442 777l-5 0 1-2M193 840l-1 2 4 0 1-1-4-1M201 839l0 1 1 0 0-1-1 0M407 783l1 0-1 0M412 780l0 2 4 0 1-2-5 0M167 845l4 1 0 1M178 844l0 1-5 0 1-1 4 0M185 842l0 2-6-1 1-1 5 0M424 776l0 2-6 0 1-2 5 0M431 775l-1 1-5 0 1-2 5 1M436 774l-4 0 1-1M188 838l-1 1 4 1 1-2-4 0M196 837l-1 0 2 0-1 0M402 780l0 1 1 0 0-1-1 0M407 778l0 1 4 0 1-1-5 0M162 843l4 0 0 2M173 841l0 2-5 0 1-2 4 0M180 839l0 2-6 0 1-2 5 0M419 774l0 2-6 0 1-2 5 0M426 772l-1 2-5 0 1-2 5 0M431 772l-4 0 1-2M183 835l-1 2 4 0 1-1-4-1M191 834l-1 1 2 0 0-1-1 0M397 778l1 0 1 0-2 0M402 775l0 2 4 0 1-2-5 0M157 841l4 0 0 1M168 839l-1 2-4-1 1-1 4 0M175 837l-1 2-5 0 1-2 5 0M414 772l0 1-6 0 1-2 5 1M420 770l0 1-5 0 1-1 4 0M426 769l-4 0 1-1M185 832l2 0-2 0M391 775l0 1 2 0 1-1-3 0M152 838l4 0 0 2M163 836l-1 2-4 0 1-2 4 0M170 835l-1 1-5 0 1-2 5 1M409 769l0 2-6 0 1-2 5 0M415 767l0 2-5 0 1-2 4 0M421 767l-4 0 1-2M180 829l-1 1 3 0 1-1-3 0M386 773l0 1 2 0 1-1-3 0M147 836l4 0-1 1M158 834l-1 2-4-1 1-1 4 0M165 832l-1 2-4 0 0-2 5 0M404 767l-1 1-5 0 1-2 5 1M410 765l0 1-5 0 1-1 4 0M416 765l-4-1 1-1M175 826l-1 2 4 0 0-1-3-1M182 825l0 1 1 0 0-1-1 0M375 772l0 1 1 0 0-1-1 0M381 770l0 1 3 0 1-1-4 0M142 833l4 1-1 1M153 832l-1 1-4 0 1-2 4 1M160 830l-1 1-4 0 0-1 5 0M167 828l-1 2-5-1 1-1 5 0M393 766l-1 2-6 0 1-2 6 0M399 764l-1 2-4 0 0-2 5 0M405 763l0 1-4 0 0-2 4 1M411 762l-3 0 0-1M169 824l-1 2 5 0 0-2-4 0M177 822l-1 1 3 0-2-1M370 770l1 1 1-1-2 0M375 767l0 2 4 0 1-2-5 0M137 831l4 0-1 1M148 829l-1 2-4-1 1-1 4 0M155 827l-1 2-4 0 0-2 5 0M162 825l-1 2-5 0 1-2 5 0M387 764l0 1-5 0 1-2 4 1M394 762l-1 2-4-1 0-1 5 0M400 760l0 2-4-1 0-1 4 0M406 760l-3-1 0-1M171 820l-1 1 4 0 0-1-3 0M179 818l0 1 1 0-1-1M358 769l0 1 1 0 1-1-2 0M364 767l0 1 3 0 1-1-4 0M132 829l4 0-1 1M143 827l-1 1-4 0 1-1 4 0M150 825l-1 2-4-1 0-1 5 0M157 823l-1 2-5 0 1-2 5 0M164 821l-1 2-6 0 1-2 6 0M376 763l-1 2-5 0 1-2 5 0M382 761l0 2-5 0 1-2 4 0M389 760l-1 1-4 0 1-2 4 1M395 758l0 1-4 0 0-1 4 0M401 757l-3 0 0-1M166 817l-1 2 5 0 0-2-4 0M173 816l0 1 2 0 1-1-3 0M353 767l2 1 1-1-3 0M358 764l0 2 4 0 2-2-6 0M127 826l4 0-1 2M137 824l0 2-4 0 1-2 3 0M144 823l0 1-4 0 0-2 4 1M151 821l0 1-5 0 1-1 4 0M158 819l0 2-5-1 0-1 5 0M371 761l-1 1-5 0 1-2 5 1M377 759l0 1-5 0 1-1 4 0M383 757l0 2-4-1 1-1 3 0M390 755l-1 2-3-1 0-1 4 0M396 755l-3 0 0-2M168 813l-1 2 4 0 0-2-3 0M175 812l2 0-2 0M341 766l0 1 2 0 0-1-2 0M347 764l0 1 3 0 1-1-4 0M122 824l3 0 0 1M132 822l0 1-3 0 0-1 3 0M139 820l0 2-4-1 0-1 4 0M146 818l-1 2-4 0 1-2 4 0M153 816l-1 2-4 0 0-2 5 0M160 814l-1 2-5 0 1-2 5 0M359 760l0 2-6 0 1-2 5 0M365 758l0 2-5 0 1-2 4 0M372 756l-1 2-4 0 1-2 4 0M378 755l0 1-4 0 1-1 3 0M385 753l-1 1-3 0 0-1 4 0M391 752l-3 0 0-1M169 809l0 1 3 0 1-1-4 0M177 807l0 1 1 0-1-1M330 766l1 0-1 0M335 763l1 2 2 0 1-2-4 0M118 821l2 1 0 1M127 820l0 1-3 0 0-1 3 0M134 818l-1 1-3 0 1-1 3 0M141 816l-1 1-4 0 1-1 4 0M148 814l-1 2-4-1 0-1 5 0M155 812l-1 2-5 0 1-2 5 0M162 810l-1 2-5 0 0-2 6 0M348 759l-1 2-6 0 1-2 6 0M354 758l-1 1-5 0 1-2 5 1M360 756l0 1-5 0 1-1 4 0M367 754l-1 2-4-1 1-1 4 0M373 752l0 2-4-1 1-1 3 0M380 751l-1 1-3 0 1-2 3 1M386 750l-3 0 0-1M171 805l-1 1 4 0 0-1-3 0M179 803l-1 1 2 0 0-1-1 0M318 765l1 1 1-1-2 0M324 763l0 1 3 0 1-1-4 0M113 819l2 0 0 1M122 817l0 1-3 0 0-1 3 0M129 815l-1 2-3-1 1-1 3 0M136 814l-1 1-3 0 0-2 4 1M143 812l-1 1-4 0 1-1 4 0M150 810l-1 1-5 0 1-1 5 0M157 808l-1 2-5-1 0-1 6 0M342 757l0 2-5 0 0-2 5 0M349 755l-1 2-4 0 0-2 5 0M355 753l0 2-5 0 1-2 4 0M361 752l0 1-4 0 1-1 3 0M368 750l0 1-4 0 1-1 3 0M374 748l0 1-3 0 1-1 2 0M381 747l-3 0 0-1M173 800l-1 2 3 0 1-1-3-1M180 799l0 1 1 0 1-1-2 0M306 764l0 1 2 0 0-1-2 0M312 762l0 1 3 0 1-1-4 0M108 817l2 0 0 1M117 815l-1 1-2 0 0-1 3 0M124 813l-1 1-3 0 1-1 3 0M130 811l0 1-3 0 0-1 3 0M137 809l0 2-4-1 1-1 3 0M144 807l0 2-4 0 0-2 4 0M151 806l0 1-5 0 1-2 4 1M158 804l-1 2-5-1 1-2 5 1M331 756l-1 2-5 0 1-2 5 0M337 755l0 1-5 0 1-2 4 1M343 753l0 1-4 0 0-1 4 0M350 751l-1 1-3 0 0-1 4 0M356 749l0 2-3-1 0-1 3 0M363 748l-1 1-3-1 1-1 3 1M369 746l0 1-3 0 1-1 2 0M375 745l-2 0 0-1M174 796l-1 2 4 0 1-2-4 0M181 794l0 1 2 0 1 0-3-1M189 793l1 0-1 0M288 766l1 0-1 0M294 763l0 1 2 0 1 0-3-1M300 761l0 2 4 0 1-1-5-1M103 814l2 0 0 1M112 813l-1 0-2 0 0-1 3 1M118 811l0 1-3 0 1-1 2 0M125 809l0 1-3 0 0-1 3 0M132 807l0 1-4 0 1-1 3 0M139 805l-1 1-3 0 0-1 4 0M146 803l-1 2-4-1 1-1 4 0M153 801l-1 2-4 0 0-2 5 0M160 799l-1 2-5 0 1-2 5 0M167 797l-1 3-6-1 1-2 6 0M313 758l-1 2-6-1 1-2 6 1M319 756l-1 2-5-1 1-1 5 0M325 754l0 2-5-1 1-1 4 0M332 752l-1 2-4 0 1-2 4 0M338 750l0 2-4 0 1-2 3 0M345 749l-1 1-3 0 0-1 4 0M351 747l0 1-3 0 0-1 3 0M358 745l-1 1-2 0 0-1 3 0M364 743l0 1-3 0 1-1 2 0M370 742l-2 0M175 791l0 2 4 0 1-1-5-1M182 790l0 1 3 0 1-1-4 0M190 788l-1 1 3 0-2-1M197 787l1 0-1 0M270 767l1 0-1 0M276 765l0 1 2 0 1-1-3 0M282 763l0 1 3 0 1-1-4 0M288 761l0 1 4 0 1-1-5 0M98 812l2 0-1 1M106 810l0 1-2 0 0-1 2 0M113 808l0 1-3 0 1-1 2 0M120 806l0 1-3 0 0-1 3 0M127 805l-1 1-3 0 1-2 3 1M134 803l-1 1-3 0 0-1 4 0M141 801l-1 1-4 0 1-1 4 0M147 799l0 1-4 0 0-1 4 0M154 797l0 2-5-1 1-1 4 0M161 795l0 2-5 0 0-2 5 0M168 793l-1 2-5 0 1-2 5 0M301 757l-1 2-5 0 1-2 5 0M307 755l0 2-5 0 1-2 4 0M314 753l-1 2-4 0 0-2 5 0M320 752l0 1-5 0 1-2 4 1M327 750l-1 1-4 0 1-1 4 0M333 748l0 1-4 0 1-1 3 0M339 746l0 1-3 0 0-1 3 0M346 745l0 1-3-1 0-1 3 1M352 743l0 1-2 0 0-1 2 0M359 741l0 1-3 0 1-1 2 0M365 740l-2 0 1-1M183 785l0 2 4 0 1-1-5-1M190 784l0 1 4 0 0-1-4 0M197 782l0 1 3 0 1-1-4 0M204 780l0 1 2 0 1 0-3-1M211 779l0 1 2 0 0-1-2 0M218 777l0 1 1 0 1-1-2 0M225 775l0 1 1 0 0-1-1 0M232 774l1 0-1 0M238 772l1 0 1 0-2 0M245 770l1 0 1 0-2 0M251 768l0 1 2 0 1-1-3 0M257 766l0 1 3 0 1-1-4 0M264 764l0 1 3 0 1-1-4 0M270 762l0 2 4 0 1-2-5 0M93 810l2 0-1 0M101 808l0 1-2-1 2 0M108 806l0 1-2 0 0-1 2 0M115 804l0 1-3 0 0-1 3 0M122 802l-1 1-2 0 0-1 3 0M129 800l-1 1-3 0 0-1 4 0M135 798l0 2-3-1 0-1 3 0M142 797l0 1-4 0 1-2 3 1M149 795l-1 1-4 0 1-1 4 0M156 793l-1 1-4 0 1-1 4 0M163 791l-1 2-5-1 1-1 5 0M170 789l-1 2-5 0 1-2 5 0M176 787l0 2-6 0 1-2 5 0M283 758l-1 2-6 0 1-2 6 0M289 756l0 2-6 0 1-2 5 0M295 755l0 1-5 0 1-2 4 1M302 753l-1 1-4 0 1-1 4 0M308 751l0 2-4-1 0-1 4 0M315 749l-1 2-3-1 0-1 4 0M321 748l0 1-4 0 1-2 3 1M328 746l-1 1-3 0 1-1 3 0M334 744l0 1-3 0 1-1 2 0M341 742l-1 1-2 0 0-1 3 0M347 740l0 1-2 0 0-1 2 0M354 739l-3 0 1 0 2 0M360 737l-2 0 1 0M205 776l0 2 4 0 1-2-5 0M212 774l0 2 3 0 1-2-4 0M219 772l-1 2 4 0 1-1-4-1M225 770l0 2 4 0 0-1-4-1M232 769l0 1 3 0 1-1-4 0M238 767l0 1 4 0 1-1-5 0M88 807l1 0 0 1M96 805l0 1-2 0 0-1 2 0M103 804l-2 0 0-1 2 1M110 802l-1 0-2 0 3 0M117 800l-1 1-2 0 0-1 3 0M123 798l0 1-3 0 1-1 2 0M130 796l0 1-3 0 0-1 3 0M137 794l-1 1-3 0 1-1 3 0M144 792l-1 2-3-1 0-1 4 0M151 790l-1 2-4 0 1-2 4 0M157 789l0 1-4 0 0-2 4 1M164 787l0 1-5 0 1-1 4 0M171 785l-1 2-4-1 0-1 5 0M178 783l-1 2-5 0 1-2 5 0M185 781l-1 2-5 0 0-2 6 0M264 759l0 2-6 0 1-2 5 0M271 758l-1 1-5 0 1-2 5 1M277 756l0 2-5-1 1-1 4 0M284 754l-1 2-4-1 0-1 5 0M290 752l0 2-5 0 1-2 4 0M297 750l-1 2-4 0 1-2 4 0M303 749l0 1-4 0 1-1 3 0M310 747l-1 1-3 0 0-1 4 0M316 745l0 1-3 0 0-1 3 0M323 743l-1 1-3 0 1-1 3 0M329 742l-3 0 1-1 2 1M336 740l-1 1-2-1 3 0M342 738l0 1-2 0 0-1 2 0M349 736l-1 1-1 0 0-1 2 0M355 735l-2 0 1-1M83 805l1 0M91 803l0 1-2-1 2 0M98 801l0 1-2 0 0-1 2 0M105 799l-1 1-2 0 1-1 2 0M111 797l0 1-2 0 0-1 2 0M118 796l-3 0 1-1 2 1M125 794l0 1-3 0 0-1 3 0M132 792l-1 1-3 0 1-1 3 0M138 790l0 1-3 0 0-1 3 0M145 788l0 1-4 0 1-1 3 0M152 786l0 2-4-1 0-1 4 0M159 784l-1 2-4 0 1-2 4 0M166 783l-1 1-4 0 0-2 5 1M172 781l0 1-5 0 1-1 4 0M179 779l0 2-5-1 1-1 4 0M186 777l-1 2-5-1 1-1 5 0M193 775l-1 2-5 0 1-2 5 0M199 773l0 2-5 0 0-2 5 0M206 771l-1 2-5 0 1-2 5 0M213 770l-1 2-5-1 1-2 5 1M219 768l0 2-6-1 1-1 5 0M226 766l-1 2-5 0 1-2 5 0M233 764l-1 2-5 0 1-2 5 0M239 762l0 2-6 0 1-2 5 0M246 761l-1 1-5 0 1-2 5 1M252 759l0 2-5-1 1-1 4 0M259 757l-1 2-4-1 0-1 5 0M265 755l0 2-5 0 1-2 4 0M272 753l-1 2-4 0 1-2 4 0M278 752l0 1-4 0 1-2 3 1M285 750l-1 1-3 0 0-1 4 0M291 748l0 1-4 0 1-1 3 0M298 746l0 1-4 0 1-1 3 0M304 745l0 1-3-1 1-1 2 1M311 743l0 1-3 0 0-1 3 0M317 741l0 1-2 0 0-1 2 0M324 739l0 1-3 0 1-1 2 0M330 737l0 1-2 0 0-1 2 0M337 736l-2 0 2 0M344 734l-1 0-1 0 2 0M350 733l-2-1 1 0M78 802l1 0 0 1M86 801l-2 0 0-1 2 1M93 799l-1 0-1 0 2 0M99 797l0 1-2-1 1 0 1 0M106 795l0 1-2 0 0-1 2 0M113 793l0 1-3 0 1-1 2 0M120 791l-1 1-2 0 0-1 3 0M126 789l0 1-3 0 1-1 2 0M133 788l0 1-3-1 0-1 3 1M140 786l0 1-3 0 0-1 3 0M147 784l-1 1-3 0 1-1 3 0M154 782l-1 1-3 0 0-1 4 0M160 780l0 2-4-1 1-1 3 0M167 778l0 2-4 0 0-2 4 0M174 777l-1 1-4 0 1-2 4 1M181 775l-1 1-4 0 0-2 5 1M187 773l0 1-5 0 1-1 4 0M194 771l-1 2-4-1 1-1 4 0M201 769l-1 2-5 0 1-2 5 0M207 767l0 2-5 0 1-2 4 0M214 766l-1 1-4 0 0-2 5 1M221 764l-1 1-5 0 1-2 5 1M227 762l0 2-5-1 1-1 4 0M234 760l-1 2-4-1 0-1 5 0M240 758l0 2-5 0 1-2 4 0M247 756l-1 2-4 0 1-2 4 0M253 755l0 1-4 0 1-2 3 1M260 753l0 1-4 0 0-1 4 0M267 751l-1 1-4 0 1-1 4 0M273 749l0 2-4-1 1-1 3 0M280 748l-1 1-3 0 0-2 4 1M286 746l0 1-3 0 0-1 3 0M293 744l-1 1-3 0 1-1 3 0M299 742l0 1-3 0 1-1 2 0M306 740l-1 1-2 0 0-1 3 0M312 739l-2 0 0-1 2 1M319 737l0 1-3-1 1 0 2 0M325 735l0 1-2 0 1-1 1 0M332 733l0 1-2 0 0-1 2 0M338 731l0 1-1 0 0-1 1 0M345 730l-2 0 1 0M81 798l0 1-2 0M88 796l-1 1-1 0M94 794l0 1-2 0M101 793l-2 0M108 791l-1 1-1-1M115 789l-1 1-2 0M121 787l0 1-2 0M128 785l0 1-3 0M135 783l-1 1-2 0M142 782l-1 1-3-1M148 780l0 1-3 0M155 778l0 1-4 0M162 776l-1 1-3 0M168 774l0 1-4 0M175 772l0 2-4-1M182 770l-1 2-3 0M189 769l-1 1-4 0M195 767l0 1-4 0M202 765l-1 1-4 0M209 763l-1 2-4-1M215 761l0 2-4 0M222 760l-1 1-4 0M228 758l0 1-4 0M235 756l0 1-4 0M242 754l-1 2-4-1M248 752l0 2-4-1M255 751l-1 1-3 0M261 749l0 1-3 0M268 747l-1 1-3 0M274 745l0 1-3 0M281 743l0 1-3 0M287 742l-2 0M294 740l0 1-3 0M301 738l-1 1-2 0M307 736l0 1-2 0M314 734l-1 1-1 0M320 733l-2 0M327 731l-2 0M333 729l0 1-1-1M340 728l-2 0"/></g><g class="s8" transform="scale(0.25)"><path color="#463bdd" d="M619 1567l6-24-5 20-6 62zm-7-20l7 20-5 58-7-58zm-5 20l7 58-5-62-7-21zm7 58l6-62-5-25-6 25z"/><path color="#4851f3" d="M617 1542l7 36-5-11-7-20zm7 36l7-40-6 5-6 24zm1-35l7-9-5 36-7-7zm-19-2l6 6-5 20-6 10zm-5 36l6-10-5-25-7-6zm19-14l7 7-5-41-7 9zm-11 0l6-25-5-10-6 41zm-7-21l7 21-5 6-7-37z"/><path color="#4562fc" d="M629 1525l7-18-5 31-7 40zm-7-14l7 14-5 53-7-36zm-11 52l6-21-5 5-6-6zm20-25l6 18-5-22-7 9zm1-4l7-35-5 13-7 58zm-33-24l7 31-5 36-7-54zm-5 13l7 54-6-41-6-31zm33 47l7-58-5-18-7 35zm-12-32l7-9-5 17-7-18zm-20-2l7 6-5-10-7 21zm2-4l7 37-5-59-7-14zm7 37l6-41-5-35-6 17z"/><path color="#4367fd" d="M636 1507l6 1-5 48-6-18zm-20 8l6-4-5 31-6 21zm-12 0l7 48-5-22-7-31zm33 41l7-52-5-5-7 35zm-15-27l7-35-5 0-7 52zm-33-24l6 31-5 17-6-48zm1 48l7-21-5-36-7 5zm20-25l7 18-5-52-7-1z"/><path color="#3b73ff" d="M642 1508l7-27-5 23-7 52zm-33-16l7 23-5 48-7-48zm-25 13l6 48-5-52-6-24zm33 41l7-52-5-28-7 28z"/><path color="#3479fd" d="M627 1505l7 34-5-14-7-14zm7 34l7-37-5 5-7 18zm5-40l6-10-5 33-6-10zm-47 4l7 7-5 13-7 14zm-5 34l7-14-5-18-7-6zm47-25l6 10-5-38-6 10zm-35-2l6-17-5-11-6 38zm-7-14l7 14-5 10-7-34z"/><path color="#307ffb" d="M621 1533l6-28-5 6-6 4zm20-31l6 24-5-18-6-1zm-44 30l7-17-5-5-7-7zm47-28l6 13-5-28-6 10zm-15-10l6-10-5 24-6-14zm-47 5l7 6-5 0-7 17zm23-6l7 1-5 13-7-25zm-20 8l7-5-5-10-7 28z"/><path color="#2e84f8" d="M639 1488l7-15-5 29-7 37zm-7-12l7 12-5 51-7-34zm-18 15l7 42-5-18-7-23zm33 35l7-45-5 0-7 27zm2-45l6-5-5 41-6-13zm-47 10l7 1-5 23-7 17zm43-2l7-33-5 11-7 55zm-59-15l6 29-5 34-6-52zm-5 11l6 52-5-38-6-30zm59 37l7-55-5-16-7 33zm-63 0l7-17-5-28-7-1zm47-28l6 14-5-46-6 4zm-12 0l7-28-5-5-7 46zm-33-17l6 24-5 13-6-42zm8 9l7 34-5-56-7-12zm7 34l6-38-5-34-6 16z"/><path color="#2d8af5" d="M646 1473l6 5-5 48-6-24zm-20 12l6-9-5 29-6 28zm-35-2l6 49-5-29-6-29zm59 34l7-52-5-9-7 33zm-15-33l7-33-5 4-7 53zm-59-15l6 30-5 23-6-49zm4 45l7-28-5-34-7 9zm20-32l7 25-5-54-7-5z"/><path color="#2c8ff1" d="M652 1478l7-23-5 26-7 45zm-33-12l7 19-5 48-7-42zm-12 48l7-23-5 1-7-1zm47-33l6 19-5-24-6 5zm1-5l7-29-5 18-7 52zm-59-11l6 26-5 41-6-49zm-25 8l6 49-5-46-7-26zm59 35l7-53-5-23-7 30zm-11-42l6-4-5 18-6-19zm-47 10l7 1-5-5-7 23zm2-4l6 42-5-53-6-19zm33 35l7-46-5-30-7 22z"/><path color="#2699e9" d="M631 1503l6-30-5 3-6 9zm6-30l7 33-5-18-7-12zm7 33l7-37-5 4-7 15zm7-37l6 27-5-18-6-5zm8-14l7 1-6 44-6-19zm-47 15l7-4-5 25-7 23zm-11 0l6 44-5-23-6-26zm59 30l7-49-5-4-7 29zm-76 1l7-18-5-9-7-4zm73-36l7 14-5-31-7 8zm-5-9l7-8-5 32-7-13zm-73 14l7 4-5 11-7 17zm-5 32l7-17-5-16-7-4zm73-35l7 13-5-37-7 8zm-5-16l7-8-5 26-7-14zm-73 14l7 4-5 4-7 18zm56-3l7-30-5 0-7 48zm-60-12l7 26-5 19-7-45zm2 45l7-23-5-30-7 4zm47-34l6 19-5-49-6 0zm-19-13l7 5-5 14-7-27zm-6 16l6-16-5-8-6 36zm-7-12l7 12-5 12-7-32zm-7 9l7-9-5-8-7 30z"/><path color="#259de6" d="M649 1458l7-16-5 27-7 37zm-7-12l7 12-5 48-7-33zm-18 19l7 38-5-18-7-19zm33 31l7-41-5 0-7 23zm9-40l6-26-5 21-7 49zm-60-8l6 22-5 44-6-44zm56-1l7-5-5 37-7-14zm-73 17l7 1-5 18-7 18zm70-16l6-31-5 11-6 52zm-87-6l7 28-5 32-7-49zm-5 11l7 49-5-37-7-28zm87 27l6-52-5-16-6 31zm-90 11l7-18-6-23-6-1zm73-36l7 14-5-42-7 5zm-77-5l7 45-5-49-7-22zm60 30l7-48-5-26-7 25zm-18-27l7-22-5-6-7 42zm-33-11l6 19-5 13-6-38zm8 2l7 32-5-52-7-12zm7 32l6-36-5-32-6 16z"/><path color="#22a2e4" d="M662 1449l7-19-5 25-7 41zm-6-7l6 7-5 47-6-27zm-20 15l6-11-5 27-6 30zm-7-16l7 16-5 46-7-38zm-12 51l7-27-5 1-7 4zm47-37l7 23-5-22-7-1zm-70 36l7-21-5-5-7-1zm73-40l7 18-5-27-7 5zm2-9l6-29-5 15-6 51zm-87-4l7 26-5 37-7-47zm-5 16l7 47-5-31-7-28zm87 25l6-51-5-11-6 31zm-15-36l6-31-5 6-6 51zm-87-6l7 28-5 26-7-47zm-5 7l7 47-5-42-7-25zm87 25l6-51-5-20-6 29zm-12-37l7-5-5 23-7-18zm-73 17l6 1-5 0-6 21zm50-18l6 0-5 17-6-23zm-47 15l7-4-5-6-7 27zm2-10l6 38-5-51-6-16zm6 38l7-30-5-32-7 11zm20-34l7 27-5-52-7-7zm7 27l7-42-5-29-7 19z"/><path color="#1fa6e2" d="M611 1451l6 41-5-22-6-22zm60 27l6-45-5-3-6 26zm1-48l7-1-5 40-7-18zm-73 20l7-2-5 22-7 21zm-45 21l6-21-5-26-6 2zm73-39l7 18-5-46-7 2zm-12-1l7-25-5-2-7 44zm-60-7l7 22-5 17-7-41z"/><path color="#1caadf" d="M669 1430l7 3-5 45-7-23zm-47 18l7-7-5 24-7 27zm-35-2l7 45-5-27-7-26zm87 23l6-49-5-7-6 29zm-35-42l6-29-5 3-6 49zm-87-3l7 25-5 22-7-44zm5 39l7-27-5-29-7 7zm47-38l6 23-5-49-6-3z"/><path color="#19addc" d="M634 1441l7 36-5-20-7-16zm7 36l6-32-5 1-6 11zm6-32l7 32-5-19-7-12zm7 32l7-36-5 1-7 16zm7-36l6 29-5-21-6-7zm6 29l7-40-5 0-7 19zm9-37l6-22-5 22-6 45zm-60-4l6 19-5 44-6-41zm-12 47l7-25-5-3-7 2zm73-43l7 21-5-25-7 1zm2-4l6-27-5 18-6 49zm-87-1l7 22-5 41-7-45zm83-15l7-4-5 35-7-16zm-99 25l6 0-5 16-6 19zm-5 35l6-19-5-12-6-2zm99-45l7 16-5-33-7 6zm-5-11l7-6-5 32-7-15zm-99 23l6 2-5 11-6 19zm-5 32l6-19-5-16-6-1zm99-44l7 15-5-36-7 5zm-5-16l7-5-5 27-7-16zm-99 24l6 1-5 7-6 20zm-5 28l6-20-5-20-6-1zm99-46l7 16-5-40-7 4zm-103 9l7 44-5-45-7-22zm87 23l6-49-5-23-6 26zm-12-44l7-2-6 21-6-21zm-73 20l6-2-5-2-6 25zm1-4l7 41-5-49-7-19zm60 26l7-44-5-27-7 22zm-18-33l7-19-6-5-6 40zm-7-7l7 7-5 16-7-29zm-6 16l6-16-5-6-6 36zm-7-12l7 12-5 14-7-32zm-7 11l7-11-5-6-7 32zm-6-16l6 16-5 15-6-36z"/><path color="#15b0d8" d="M666 1416l6 9-5 45-6-29zm-7 15l7-15-5 25-7 36zm-7-11l7 11-5 46-7-32zm-6 12l6-12-5 25-6 32zm-19 38l7-29-5 0-7 7zm47-40l7 26-5-23-7-3zm8-19l7 1-5 42-7-21zm-73 23l7-5-5 22-7 25zm-12 0l7 42-5-26-7-22zm87 20l6-46-5-6-6 27zm-103 14l6-22-5-8-6 0zm99-48l7 19-5-30-7 4zm-116 8l7 45-5-33-7-25zm113 16l7-49-5-12-7 28zm-5-33l7-28-5 10-7 50zm-113 4l7 25-5 32-7-46zm-5 11l7 46-5-36-7-26zm113 17l7-50-5-15-7 29zm-5-36l7-29-5 7-7 49zm-113 3l7 26-5 28-7-46zm96-12l7-4-5 25-7-18zm-99 25l6 1-5 3-6 21zm83-19l6-26-5 1-7 46zm-87 0l7 22-5 21-7-42zm2 43l6-25-5-27-6 5zm73-43l6 21-5-47-6-1zm-18-8l6 3-5 18-7-26zm-47 18l7-7-5-5-7 29zm8 24l7-32-5-30-7 12zm7-32l7 32-5-50-7-12zm7 32l6-36-5-29-6 15zm6-36l7 29-5-50-7-8z"/><path color="#0eb2d4" d="M672 1425l7-18-5 23-7 40zm-33-7l7 14-5 45-7-36zm-18 14l6 38-5-22-6-19zm60 24l6-42-5-3-6 22zm8-44l7-23-6 19-6 46zm-87 2l7 20-5 42-7-42zm83-12l7-1-5 38-7-19zm-99 28l6-2-5 18-6 22zm96-21l7-28-5 14-7 49zm-113 5l7 24-5 35-7-45zm-25 4l7 46-5-41-7-24zm113 16l7-49-5-18-7 27zm-116 14l6-21-5-23-7 2zm99-47l7 18-5-42-7 1zm-103 4l7 42-5-47-7-20zm86 20l7-46-5-24-7 23zm-18-26l7-22-5-2-7 42zm-60-4l7 19-5 17-7-38zm9 7l6 36-5-50-6-14zm33 29l6-40-5-28-6 18z"/><path color="#07b5d0" d="M686 1412l6-20-5 22-6 42zm-7-5l7 5-5 44-7-26zm-47 20l7-9-5 23-7 29zm-6-17l6 17-5 43-6-38zm66-9l7-26-5 16-7 48zm-113 7l7 22-5 38-7-44zm-5 16l7 44-5-30-7-24zm113 15l7-48-5-10-7 28zm-35-45l7-27-6 4-6 48zm-113 5l7 24-5 25-7-44zm-5 5l7 44-6-42-6-22zm113 15l6-48-5-20-6 26zm-107-26l7 38-5-48-7-16zm7 38l7-29-5-28-7 9zm46-40l7 26-5-49-7-5zm7 26l7-42-5-27-7 20z"/><path color="#02b7cb" d="M644 1419l7 35-5-22-7-14zm7 35l6-33-5-1-6 12zm6-33l7 32-5-22-7-11zm7 32l7-36-5-1-7 15zm7-36l6 30-5-22-6-9zm6 30l7-39-5-1-7 18zm-69-28l6 40-5-25-7-20zm6 40l7-27-5-3-7 5zm73-45l7 23-5-25-7-1zm7 23l7-43-5-5-7 23zm2-48l6 1-5 39-7-21zm-100 30l6-5-5 20-6 24zm-5 39l6-24-5-6-6 2zm99-50l7 21-5-28-7 1zm-1-27l6-2-5 34-6-18zm-127 34l7-1-5 14-7 21zm-5 34l7-21-5-13-7 0zm127-54l6 18-5-34-6 4zm-5-12l6-4-5 32-6-18zm-127 32l7 0-5 11-7 21zm-5 32l7-21-5-16-7 1zm127-54l6 18-5-37-6 4zm-5-15l6-4-5 29-6-18zm-127 33l7-1-5 8-7 21zm-5 28l7-21-5-19-7 2zm127-54l6 18-5-39-6 3zm-29-7l7-1-5 23-7-21zm-100 28l7-2-5 1-7 24zm-5 23l7-24-5-25-7 5zm100-50l7 21-5-44-7-1zm-12-1l7-23-5 0-7 43zm-6-1l6 1-5 20-6-23zm-73 23l6-5-5-2-6 27zm-7-20l7 20-5 20-7-39zm50 1l6-18-5-3-6 38zm-7-8l7 8-5 17-7-29zm-6 15l6-15-5-4-6 35zm-7-12l7 12-5 16-7-32zm-7 12l7-12-5-4-7 33zm-6-14l6 14-5 17-6-34z"/><path color="#00b9c6" d="M676 1395l6 8-5 44-6-30zm-7 14l7-14-5 22-7 36zm-7-11l7 11-5 44-7-32zm-6 13l6-13-5 23-6 33zm-18 39l6-31-5-1-7 9zm46-42l7 28-5-24-7-5zm15-12l7-22-5 20-7 43zm-7-4l7 4-5 41-7-23zm-73 26l7-8-5 22-7 27zm-6-18l6 18-5 41-6-40zm89-10l7-24-5 17-7 46zm-113 9l7 20-5 39-7-42zm-5 17l7 42-5-28-7-22zm113 13l7-46-5-8-7 26zm-130 18l7-23-5-10-7 1zm127-56l6 19-5-31-6 2zm-143 14l6 44-5-34-6-23zm139 8l7-48-5-13-7 27zm-5-34l7-27-5 10-7 49zm-139 13l6 23-5 32-6-44zm-5 11l6 44-5-36-6-24zm139 8l7-49-5-15-7 27zm-5-37l7-27-5 8-7 48zm-139 13l6 24-5 28-6-44zm123-20l6-3-5 27-7-20zm-127 34l7-2-5 5-7 23zm110-24l6-26-5 3-6 46zm-113 7l6 22-5 23-6-42zm-5 3l6 42-5-44-6-20zm113 13l6-46-5-22-6 24zm-110-19l7 39-5-46-7-18zm7 39l6-27-5-26-6 7zm73-45l6 23-5-46-6-4zm6 23l7-43-5-24-7 21zm-25-35l7 5-5 19-7-27zm-46 20l7-9-5-3-7 31zm8 22l7-33-5-27-7 12zm7-33l7 32-6-48-6-11zm7 32l6-35-5-28-7 15zm6-35l7 29-5-48-7-9z"/><path color="#03bbc1" d="M689 1387l7 6-5 43-7-28zm-7 16l7-16-5 21-7 39zm-33-6l7 14-5 43-7-35zm-6 11l6-11-5 22-6 31zm-12 6l7 36-6-23-6-17zm60 22l6-41-5-3-6 20zm-90 10l7-27-6-5-6 5zm100-52l6 23-5-27-6-1zm-2-19l6-1-5 36-6-19zm-127 36l7-3-5 16-7 23zm-11-7l6 43-5-32-6-22zm139 6l7-46-5-11-7 26zm-5-31l7-26-5 12-7 48zm-139 14l6 22-5 34-6-44zm-25 2l6 44-5-38-6-23zm139 8l7-48-5-17-7 26zm-5-39l7-26-5 6-7 47zm-139 14l6 23-5 26-6-43zm1 49l7-23-5-20-7 2zm126-56l7 20-5-41-7 1zm-28-16l7 1-5 22-7-23zm-100 30l7-5-5 1-7 26zm70-17l7-20-5-1-7 40zm-60-1l7 16-5 19-7-37zm2 35l7-31-5-27-7 10zm7-31l6 34-5-48-6-13zm33 27l6-38-5-27-6 17zm6-38l7 27-5-47-7-7z"/><path color="#0bbdbc" d="M696 1393l6-18-5 20-6 41zm-60 0l7 15-5 42-7-36zm-18 12l6 38-5-25-6-18zm6 38l7-29-5-4-7 8zm73-48l7 26-5-25-7-4zm7 26l7-41-5-6-7 22zm2-47l6 3-5 40-6-23zm-100 32l7-6-5 19-7 27zm-12 0l7 40-5-27-7-20zm113 11l7-44-5-7-7 24zm2-51l6 1-5 37-6-21zm-126 37l6-4-5 17-6 24zm-5 37l6-24-5-8-7 3zm126-57l6 21-5-30-6 1zm1-9l7-25-5 15-7 46zm-139 15l6 22-5 36-6-43zm-45-5l6 43-5-41-6-21zm139 7l7-47-5-19-7 25zm-12-40l7-1-5 25-7-21zm-126 35l7-2-5 3-7 24zm-5 25l7-24-5-22-7 4zm126-57l7 21-5-42-7-1zm-11 2l6-24-5 2-6 44zm-113 9l6 20-5 22-6-40zm1 42l7-26-5-25-7 7zm100-52l7 23-5-44-7-3zm-12-3l7-21-5 0-7 41zm-6-4l6 4-5 20-6-25zm-73 26l6-7-5-2-6 29zm-7-18l7 18-5 20-7-38zm8 9l7 37-5-48-7-14zm60 22l7-40-5-26-7 19z"/><path color="#16bfb7" d="M654 1401l7 33-5-23-7-14zm7 33l7-33-6-3-6 13zm7-33l6 32-5-24-7-11zm6 32l7-36-5-2-7 14zm7-36l6 30-5-24-6-8zm6 30l7-37-5-3-7 16zm22-47l7-20-5 20-7 41zm-7-5l7 5-5 41-7-26zm-73 27l7-9-5 21-7 29zm-6-16l6 16-5 41-6-38zm89-9l7-22-5 18-7 44zm-113 11l7 18-5 40-7-40zm116-21l7-24-5 16-7 45zm-139 16l7 20-5 37-7-41zm-5 16l7 41-6-29-6-22zm139 5l7-45-5-10-7 25zm-8-51l7-1-5 33-7-20zm-153 42l7-2-5 12-7 23zm-5 33l7-23-5-13-7 2zm153-63l7 20-5-35-7 2zm-5-13l7-2-5 32-7-20zm-153 42l7-2-5 11-7 22zm-5 31l7-22-5-16-7 2zm153-63l7 20-5-36-7 1zm-5-15l7-1-6 29-6-20zm-153 42l7-2-5 8-7 24zm-5 30l7-24-5-17-7 3zm153-64l6 20-5-38-6 1zm-22-5l7-25-5 5-7 45zm-139 15l6 21-5 25-6-41zm-5 5l6 41-5-42-7-19zm139 5l7-45-5-21-7 24zm-136-8l6 40-5-44-6-19zm113 11l6-44-5-22-6 22zm-110-22l7 38-5-45-7-16zm7 38l6-29-5-25-6 9zm73-47l6 25-5-45-6-6zm6 25l7-41-5-24-7 20zm-31-22l6-17-5-1-6 37zm-7-9l7 9-5 19-7-30zm-7 15l7-15-5-2-7 35zm-6-11l6 11-5 18-6-31zm-7 12l7-12-5-2-7 33zm-6-13l6 13-5 19-6-34z"/><path color="#21c1b0" d="M692 1385l7-16-5 21-7 37zm-6-9l6 9-5 42-6-30zm-7 15l7-15-5 21-7 36zm-6-11l6 11-5 42-6-32zm-7 13l7-13-5 21-7 33zm-7-13l7 13-5 41-7-33zm-18 17l7 36-5-25-7-15zm7 36l6-32-5-4-6 11zm46-43l7 28-5-25-7-6zm7 28l6-39-5-4-6 18zm-97-23l7 38-5-27-7-18zm7 38l7-28-5-5-7 6zm100-53l6 24-5-27-6-3zm6 24l7-42-5-7-7 22zm2-49l7 3-6 38-6-23zm-126 39l6-6-5 18-6 26zm-5 38l6-26-5-7-6 4zm126-59l6 23-5-29-6-1zm-2-24l7 0-5 35-7-20zm-153 44l7-4-5 15-7 24zm-5 35l7-24-5-11-7 2zm153-64l7 20-5-32-7 1zm2-12l6-25-5 12-6 46zm-166 22l6 21-5 33-7-42zm-6 12l7 42-5-34-7-21zm167-1l6-46-5-14-6 25zm-5-35l6-25-5 10-6 47zm-167 23l7 21-5 31-7-42zm-5 10l7 42-5-36-7-21zm167-1l6-47-5-15-6 26zm-5-36l6-26-5 9-7 46zm-167 22l7 21-5 30-7-43zm-5 8l7 43-5-38-7-21zm166-1l7-46-5-17-7 25zm-11-37l6-1-5 28-6-21zm-153 43l7-3-5 6-7 24zm-5 27l7-24-5-19-7 4zm153-64l6 21-5-40-6 0zm-29-12l7 1-5 24-7-23zm-126 37l7-4-5 2-7 26zm-5 24l7-26-5-23-7 7zm126-59l7 23-5-43-7-2zm-11 0l6-22-5 2-6 42zm-7-3l7 3-5 22-7-25zm-100 32l7-7-5 0-7 29zm-6-19l6 19-5 22-6-39zm76-4l7-19-5 0-7 39zm-7-7l7 7-5 20-7-28zm-46 21l7-10-5-2-7 32zm-7-14l7 14-5 20-7-35zm9 2l6 34-5-46-7-13zm6 34l7-33-5-26-7 13zm7-33l6 31-5-46-6-11zm6 31l7-35-5-26-7 15zm7-35l7 30-5-47-7-9zm7 30l6-37-5-26-6 16z"/><path color="#2ac3aa" d="M706 1377l6-17-5 19-6 39zm-7-8l7 8-5 41-7-28zm-46 22l6-11-5 21-6 32zm-7-13l7 13-5 42-7-36zm-18 14l6 36-5-26-6-16zm6 36l7-31-5-4-7 9zm73-49l7 27-5-26-7-5zm7 27l7-40-5-6-7 20zm8-41l7-20-5 17-7 42zm-6-5l6 5-5 39-6-24zm-100 34l7-8-5 19-7 28zm-7-17l7 17-5 39-7-38zm117-19l6-22-5 16-7 44zm-140 18l7 18-5 38-7-40zm-5 16l7 40-5-29-7-20zm139 4l7-44-5-9-7 24zm2-53l7 2-5 36-7-22zm-153 45l7-5-5 16-7 25zm-5 36l7-25-5-10-7 4zm153-65l7 22-5-32-7 0zm2-10l6-23-5 13-6 45zm-166 24l6 20-5 35-6-42zm-5 13l6 42-5-33-6-21zm166-2l6-45-5-12-6 25zm-36-47l7-25-5 7-7 46zm-166 23l7 21-5 27-7-41zm-5 7l7 41-5-39-7-20zm166-2l7-46-5-18-7 24zm-11-40l6 0-5 26-6-21zm-153 44l7-4-5 5-7 25zm-5 26l7-25-6-20-6 5zm153-65l6 21-5-40-6-2zm-12 3l7-24-5 4-7 44zm-140 17l7 19-5 24-7-40zm-5 3l7 40-5-42-7-19zm140 4l7-44-5-21-7 22zm-136-11l6 39-5-44-6-17zm6 39l7-29-5-23-7 8zm100-54l7 25-5-45-7-4zm7 25l6-42-5-23-6 20zm-19-29l7-20-5 1-7 40zm-6-6l6 6-5 21-6-27zm-73 28l6-9-5-1-6 31zm-7-16l7 16-5 21-7-37zm8 6l7 35-5-46-7-13zm7 35l7-32-6-25-6 11zm46-42l7 28-5-46-7-8zm7 28l7-39-5-25-7 18z"/><path color="#2fc5a3" d="M664 1385l7 33-5-25-7-13zm7 33l7-34-5-4-7 13zm7-34l6 32-5-25-6-11zm6 32l7-36-5-4-7 15zm7-36l7 31-6-26-6-9zm7 31l6-37-5-5-7 16zm21-45l7-18-5 18-7 40zm-7-6l7 6-5 40-7-27zm-73 28l7-10-5 19-7 31zm-6-15l6 15-5 40-6-36zm-12 48l7-29-5-6-7 8zm100-55l6 26-5-27-6-5zm-123 57l6-28-5-7-6 6zm126-61l7 24-5-28-7-3zm-150 57l7-27-5-9-7 5zm153-67l7 23-5-30-7-2zm2-7l6-23-5 14-6 45zm-166 24l6 19-5 36-6-40zm-5 15l6 40-5-31-6-20zm166-3l6-45-5-10-6 23zm-9-54l7 0-5 33-7-21zm-179 51l7-4-6 12-6 25zm-5 33l6-25-5-13-6 3zm179-72l7 21-5-35-7 0zm-5-14l7 0-5 31-7-21zm-179 51l6-3-5 10-6 24zm-5 31l6-24-5-15-6 3zm179-72l7 21-5-36-7 0zm-5-15l7 0-5 30-7-21zm-179 51l6-3-5 8-6 25zm-5 30l6-25-5-16-6 4zm179-72l7 21-5-37-7-1zm-22-4l7-24-5 6-7 44zm-166 24l7 20-5 26-7-40zm-5 6l7 40-5-40-7-19zm166-4l7-44-5-19-7 23zm-11-42l6 2-5 25-6-23zm-153 46l6-5-5 3-6 27zm129-43l7 2-5 24-7-24zm-126 39l7-7-5 2-7 28zm103-44l7 4-5 23-7-26zm-100 34l7-8-5 0-7 30zm2-8l7 37-5-45-7-15zm7 37l6-31-5-24-6 10zm73-49l6 27-5-45-6-7zm6 27l7-40-5-23-7 18zm-31-26l6-16-5 0-6 37zm-7-9l7 9-5 21-7-31zm-7 15l7-15-5-1-7 36zm-6-11l6 11-5 20-6-32zm-7 13l7-13-5-1-7 34zm-7-13l7 13-5 20-7-33z"/><path color="#34c79b" d="M703 1370l6-15-5 19-6 37zm-7-9l7 9-5 41-7-31zm-7 14l7-14-5 19-7 36zm-6-11l6 11-5 41-6-32zm-7 14l7-14-5 20-7 34zm-7-12l7 12-5 40-7-33zm-25 49l7-32-5-5-7 10zm7-32l7 34-5-26-7-13zm7 34l6-32-5-5-6 11zm46-43l7 29-5-26-7-8zm7 29l6-38-5-5-6 17zm6-38l7 28-5-27-7-6zm9-17l6 5-5 39-6-26zm-100 34l7-9-5 19-7 29zm-12 2l7 37-5-27-7-17zm113 8l7-40-5-7-7 20zm9-43l6-21-5 16-6 42zm-7-4l7 4-5 37-7-24zm-126 40l6-8-5 18-6 28zm-7-17l7 17-5 38-7-39zm-5 16l7 39-5-29-7-18zm140 2l6-42-5-8-6 22zm1-50l7 3-5 36-7-23zm-153 46l7-6-5 16-7 27zm-11-3l6 40-5-31-6-19zm166-4l6-43-5-10-6 23zm-183 35l7-26-5-11-7 5zm179-74l7 23-5-32-7-1zm-5-10l7 1-5 33-7-21zm-179 52l7-5-5 13-7 25zm-5 33l7-25-5-12-7 4zm179-72l7 21-5-33-7 0zm2-12l7-23-5 11-7 45zm-193 31l7 20-5 33-7-41zm-5 12l7 41-5-35-7-20zm193-10l7-45-5-14-7 24zm-5-35l7-24-6 10-6 45zm-193 31l7 20-5 31-7-41zm-5 10l7 41-5-36-7-20zm193-10l6-45-5-14-6 23zm-5-36l6-23-5 8-6 45zm-193 31l7 20-5 30-7-41zm-5 9l7 41-5-37-7-20zm193-10l6-45-5-16-6 24zm-12-38l7 1-5 28-7-22zm-179 52l6-4-5 7-6 25zm-5 28l6-25-5-18-6 4zm179-73l7 22-5-39-7-1zm-5-18l7 1-5 28-7-23zm-179 52l6-4-5 6-6 26zm162-42l7-23-5 5-7 43zm-166 25l7 19-5 25-7-39zm2 44l6-27-5-21-6 7zm153-67l6 23-5-41-6-3zm-12 1l7-22-5 4-7 42zm-140 18l7 19-5 23-7-38zm-5 4l7 38-5-42-7-17zm7 38l7-28-5-22-7 8zm126-60l7 24-5-43-7-4zm7 24l7-42-5-21-7 20zm-18-27l6-20-5 2-6 41zm-113 13l6 17-5 22-6-37zm1 39l7-30-5-23-7 9zm100-55l7 26-5-44-7-5zm-18-12l6 7-5 22-6-28zm-7 18l7-18-5 1-7 38zm-7-8l7 8-5 21-7-29zm-46 22l6-11-5 0-6 33zm-7-13l7 13-5 22-7-35zm-6 10l6-10-5 0-6 32zm14-8l7 33-5-45-7-12zm7 33l7-34-5-24-7 13zm7-34l6 32-5-46-6-10zm6 32l7-36-5-24-7 14zm7-36l7 31-5-45-7-10zm7 31l6-37-5-24-6 16z"/><path color="#3ac993" d="M722 1346l7 8-5 39-7-28zm-6 17l6-17-5 19-6 38zm-7-8l7 8-5 40-7-29zm-46 23l6-12-5 19-6 32zm-7-13l7 13-5 39-7-34zm-7 11l7-11-5 18-7 32zm-11 3l6 36-5-27-6-15zm86 14l7-39-5-6-7 18zm8-40l7-19-5 18-7 40zm-113 14l7 15-5 39-7-37zm-11 47l6-30-5-7-6 8zm126-62l7 25-5-28-7-4zm-150 60l7-28-5-8-7 6zm153-68l7 25-5-30-7-3zm2-5l6-22-5 15-6 43zm-166 26l6 17-5 37-6-40zm162-43l7 2-5 35-7-23zm-179 53l7-6-5 15-7 26zm-12-5l7 40-5-32-7-19zm193-11l7-43-5-12-7 23zm-5-32l7-23-5 12-7 44zm-193 32l7 19-5 33-7-40zm-5 12l7 40-5-33-7-20zm193-11l7-44-5-12-7 23zm-35-47l6-24-5 8-6 44zm-193 31l7 20-5 28-7-40zm-5 8l7 40-5-39-7-19zm193-11l6-44-5-17-6 22zm-5-39l6-22-5 6-6 44zm-193 32l7 19-5 28-7-40zm2 47l6-26-5-19-6 5zm179-74l7 23-5-40-7-2zm-183 34l7 39-5-41-7-18zm166-5l7-43-5-19-7 21zm-11-44l6 3-5 25-6-24zm-153 47l6-7-5 4-6 28zm129-48l7 4-5 24-7-26zm-126 41l7-8-5 2-7 29zm2-6l6 37-5-44-6-15zm113 8l6-41-5-22-6 19zm-19-31l7-18-5 1-7 39zm-86 7l7 15-5 22-7-35zm2 37l6-32-5-23-7 11zm6-32l7 35-5-45-7-13zm7 35l6-33-5-24-6 12zm46-44l7 29-5-45-7-8zm7 29l7-38-5-23-7 16zm7-38l6 28-5-44-6-7z"/><path color="#43ca8b" d="M661 1371l7 34-5-27-7-13zm7 34l6-34-5-5-6 12zm6-34l7 33-5-26-7-12zm7 33l7-34-5-6-7 14zm7-34l6 32-5-27-6-11zm6 32l7-36-5-5-7 14zm7-36l7 31-5-27-7-9zm7 31l6-36-5-6-6 15zm6-36l7 29-5-27-7-8zm7 29l7-37-6-7-6 17zm15-54l6 7-5 38-6-27zm-7 18l7-18-5 18-7 39zm-86 8l6 14-5 39-6-36zm-7 10l7-10-5 17-7 31zm-12 2l7 36-5-28-7-15zm7 36l7-31-5-6-7 9zm100-56l6 27-5-28-6-5zm6 27l7-39-5-8-7 19zm9-42l6-19-5 16-6 41zm-7-5l7 5-5 38-7-25zm-126 42l6-9-5 17-6 30zm-7-16l7 16-5 38-7-38zm-5 16l7 38-5-29-7-17zm140 1l6-41-5-8-6 21zm8-45l7-20-6 15-6 42zm-7-4l7 4-5 37-7-25zm-153 48l7-8-5 16-7 28zm-6-17l6 17-5 36-6-38zm-5 15l6 38-5-30-6-17zm166-5l6-42-5-10-6 22zm1-52l7 3-5 36-7-24zm-179 54l7-6-5 14-7 28zm-12-3l7 39-5-32-7-18zm7 39l7-28-5-10-7 6zm179-75l7 24-5-32-7-2zm7 24l7-43-5-11-7 22zm-5-32l7-22-5 14-7 43zm-193 33l7 18-5 35-7-40zm190-53l6 2-5 33-6-23zm-206 60l6-5-5 12-6 26zm-5 33l6-26-5-13-6 6zm206-81l6 23-5-34-6-1zm-5-12l6 1-5 32-6-22zm-206 60l6-6-5 12-6 26zm-5 32l6-26-5-14-6 5zm206-81l6 22-5-34-6-2zm-5-14l6 2-5 31-7-23zm-206 60l6-5-5 10-7 26zm-6 31l7-26-5-15-7 5zm206-81l7 23-5-36-7-1zm-5-14l7 1-5 30-7-23zm-206 59l7-5-5 9-7 26zm-5 30l7-26-5-16-7 5zm206-81l7 23-5-37-7-2zm-5-16l7 2-5 29-7-23zm-206 60l7-5-5 8-7 26zm-5 29l7-26-5-18-7 6zm206-81l7 23-5-38-7-2zm-209 44l7 40-5-40-7-18zm193-11l6-44-5-18-6 22zm-5-40l6-22-5 6-6 43zm-7-2l7 2-5 27-7-24zm-179 53l6-5-5 5-6 27zm-7-18l7 18-5 27-7-39zm2 45l6-27-5-20-6 7zm179-75l7 24-5-40-7-3zm-12 2l7-21-5 4-7 42zm-166 26l7 18-5 25-7-38zm-5 5l7 38-5-42-7-16zm7 38l6-28-5-21-6 7zm153-68l6 24-5-41-6-4zm6 24l7-42-5-20-7 21zm-18-25l7-20-5 3-7 41zm-140 20l7 17-5 23-7-37zm-5 3l7 37-5-42-7-16zm7 37l7-29-5-22-7 9zm126-62l7 26-5-43-7-5zm7 26l7-41-5-21-7 19zm-18-29l6-19-5 3-6 39zm-7-5l7 5-5 23-7-27zm-100 34l7-9-5 2-7 30zm-6-15l6 15-5 23-6-35zm1 38l7-30-5-23-7 10zm7-30l7 35-6-44-6-14zm86 13l7-39-5-22-7 17zm7-39l7 27-5-43-7-6zm-25 4l7-16-5 1-7 38zm-7-8l7 8-5 23-7-30zm-6 16l6-16-5 1-6 36zm-7-10l7 10-5 21-7-30zm-7 14l7-14-5 1-7 35zm-6-10l6 10-5 22-6-32zm-7 13l7-13-5 0-7 35zm-7-12l7 12-5 22-7-33zm-6 12l6-12-5 1-6 33zm-7-13l7 13-5 22-7-34z"/><path color="#4ecc81" d="M726 1351l7-16-5 18-7 37zm-7-8l7 8-5 39-7-29zm-6 15l6-15-5 18-6 36zm-7-10l7 10-5 39-7-31zm-7 14l7-14-5 18-7 36zm-6-10l6 10-5 40-6-32zm-7 13l7-13-5 18-7 34zm-7-12l7 12-5 39-7-33zm-6 13l6-13-5 18-6 34zm-7-13l7 13-5 39-7-34zm-18 16l6 34-5-27-6-14zm6 34l7-32-5-6-7 11zm74-50l6 28-5-27-7-8zm6 28l7-38-5-7-7 18zm8-38l7-18-5 17-7 39zm-113 15l7 14-5 38-7-36zm-11 47l6-31-5-7-6 9zm126-63l7 26-5-29-7-5zm8-22l7 5-5 37-7-26zm-153 49l7-9-5 16-7 30zm-11-1l6 38-5-30-6-17zm6 38l7-30-5-8-7 8zm153-70l7 26-5-30-7-4zm7 26l7-41-5-9-7 20zm-183 40l7-28-5-9-7 6zm179-75l7 24-5-31-7-3zm2-7l7-21-5 14-7 43zm-193 34l7 17-5 36-7-39zm190-52l6 3-5 34-6-23zm-206 61l6-6-5 13-6 27zm-5 34l6-27-5-11-6 5zm206-81l6 23-5-33-6-2zm1-10l7-22-5 12-7 43zm-219 40l7 18-5 33-7-39zm-5 12l7 39-5-33-7-19zm219-19l7-43-5-13-7 22zm-5-34l7-22-5 11-7 43zm-219 40l7 19-5 32-7-40zm-5 11l7 40-5-35-7-19zm219-19l7-43-5-14-7 23zm-5-34l7-23-5 10-7 44zm-219 39l7 19-6 31-6-40zm-5 10l6 40-5-36-6-19zm219-18l7-44-5-15-7 23zm-5-36l7-23-5 9-7 44zm-219 39l6 19-5 30-6-40zm-5 9l6 40-5-37-6-19zm219-18l7-44-5-15-7 22zm-5-37l7-22-5 8-7 43zm-219 39l6 19-5 29-6-39zm-5 9l6 39-5-38-6-18zm219-19l7-43-5-17-7 22zm-12-40l7 2-5 28-7-24zm-206 60l7-6-5 7-7 27zm-5 28l7-27-5-18-7 7zm206-82l7 24-5-39-7-3zm-209 43l7 39-5-40-7-18zm193-12l6-43-5-18-6 21zm-12-43l7 3-5 26-7-25zm-179 54l6-7-5 5-7 28zm162-49l7-21-5 5-7 41zm-6-4l6 4-5 25-6-26zm-153 47l6-7-5 3-6 29zm-7-16l7 16-5 25-7-37zm2 41l6-29-5-21-6 9zm153-69l6 26-5-42-6-5zm-19-7l7 5-5 25-7-27zm-126 42l7-9-5 3-7 30zm2-6l6 35-5-43-6-14zm113 6l6-39-5-22-6 18zm-19-32l7-17-5 2-7 38zm-6-7l6 7-5 23-6-29zm-74 29l7-11-5 1-7 33zm-6-14l6 14-5 23-6-35zm8 4l7 34-5-44-7-12zm7 34l6-33-5-23-6 12zm6-33l7 33-5-44-7-12zm7 33l7-35-5-23-7 14zm7-35l6 32-5-44-6-11zm6 32l7-35-5-23-7 14zm7-35l7 30-5-44-7-9zm7 30l6-36-5-23-6 15zm6-36l7 30-5-44-7-9zm7 30l7-38-5-22-7 16z"/><path color="#5bcc76" d="M684 1360l7 33-5-28-7-12zm7 33l7-35-5-6-7 13zm7-35l6 32-5-28-6-10zm6 32l7-35-5-7-7 14zm7-35l7 31-5-28-7-10zm7 31l6-36-5-7-6 15zm21-43l7-16-5 16-7 38zm-6-8l6 8-5 38-6-28zm-74 30l7-12-5 18-7 32zm-6-13l6 13-5 38-6-34zm-19 14l7 35-5-29-7-14zm7 35l7-32-5-7-7 10zm100-58l6 29-5-29-6-7zm6 29l7-39-5-8-7 18zm9-41l6-18-5 16-6 39zm-7-6l7 6-5 37-7-26zm-126 43l6-10-5 16-6 31zm-7-15l7 15-5 37-7-36zm-12 46l7-30-5-9-7 9zm7-30l7 36-5-29-7-16zm140-1l6-39-5-9-6 19zm6-39l7 26-5-30-7-5zm2-4l7-19-5 15-7 41zm-166 28l6 16-5 37-6-38zm-12 45l7-30-5-9-7 8zm180-77l6 26-5-31-6-4zm1-5l7-20-5 14-7 41zm-6-4l6 4-5 35-7-24zm-180 55l7-8-5 15-7 28zm-7-17l7 17-5 35-7-37zm-5 15l7 37-5-31-7-17zm193-14l7-41-5-11-7 21zm2-52l6 4-5 35-6-25zm-206 62l6-7-5 14-6 28zm-5 35l6-28-5-11-6 6zm206-83l6 25-5-33-6-3zm1-8l7-21-5 13-7 42zm-219 41l7 17-5 34-7-39zm-5 12l7 39-5-33-7-18zm219-19l7-42-5-13-7 22zm-8-56l6 3-5 32-6-24zm-233 68l7-6-5 11-7 27zm-5 32l7-27-5-14-7 6zm233-89l6 24-5-35-6-3zm-5-14l6 3-5 31-6-24zm-233 68l7-6-5 10-7 27zm-5 31l7-27-5-15-7 6zm233-89l6 24-5-36-6-3zm-5-15l6 3-5 30-6-24zm-233 68l7-6-5 9-7 27zm-5 30l7-27-5-16-7 7zm233-89l6 24-5-37-6-2zm-22-2l7-22-5 8-7 42zm-219 40l6 18-5 28-6-39zm-5 7l6 39-5-38-6-18zm219-19l7-42-5-18-7 21zm-12-42l7 3-5 28-7-25zm-206 62l7-7-5 6-7 28zm-5 27l7-28-5-19-7 8zm206-83l7 25-5-39-7-4zm-11 3l6-21-5 5-6 42zm-193 33l7 18-6 26-6-38zm-5 6l6 38-5-40-6-17zm6 38l7-28-5-20-7 8zm180-76l7 25-5-40-7-5zm7 25l6-42-5-18-6 20zm-12-45l7 5-6 26-6-26zm-180 56l7-8-5 4-7 29zm2-4l7 37-5-41-7-16zm166-6l7-41-5-20-7 19zm-11-47l6 5-5 25-7-26zm-7 19l7-19-6 4-6 40zm-140 21l7 16-5 24-7-36zm-6 9l6-9-5 4-6 30zm1-5l7 36-5-42-7-15zm7 36l7-30-5-22-7 10zm126-63l7 27-5-43-7-6zm7 27l6-40-5-21-6 18zm-18-31l6-18-5 3-7 39zm-7-6l7 6-6 24-6-28zm-100 35l7-10-5 2-7 32zm-6-14l6 14-5 24-6-35zm8 6l6 35-5-43-6-13zm6 35l7-33-5-22-7 12zm74-51l6 29-5-43-6-8zm6 29l7-38-5-22-7 17zm-31-29l6-15-5 2-6 36zm-7-9l7 9-5 23-7-30zm-7 14l7-14-5 2-7 35zm-6-11l6 11-5 23-6-32zm-7 14l7-14-5 2-7 35zm-7-12l7 12-5 23-7-33z"/><path color="#73cd63" d="M736 1342l7-16-5 17-7 36zm-7-9l7 9-5 37-7-29zm-6 15l6-15-5 17-6 36zm-7-10l7 10-5 38-7-31zm-7 14l7-14-5 17-7 35zm-6-11l6 11-5 38-6-32zm-7 14l7-14-5 17-7 35zm-7-12l7 12-5 38-7-33zm-6 13l6-13-5 17-6 34zm-7-12l7 12-5 38-7-33zm-18 16l6 34-5-29-6-13zm6 34l7-33-5-8-7 12zm7-33l7 33-5-28-7-13zm7 33l6-34-5-7-6 13zm46-44l7 29-5-28-7-8zm7 29l7-36-5-8-7 16zm7-36l6 29-5-29-6-8zm6 29l7-37-5-8-7 16zm8-38l7-17-5 16-7 39zm-6-7l6 7-5 38-6-29zm-100 36l7-11-5 17-7 32zm-6-13l6 13-5 38-7-35zm-19 12l7 35-5-29-7-15zm7 35l6-31-5-8-6 10zm126-64l7 28-5-30-7-6zm7 28l6-39-5-9-6 18zm1-48l7 6-5 36-7-26zm-152 50l6-10-5 16-7 30zm-12 0l6 36-5-30-6-16zm166-8l7-40-5-9-7 19zm2-49l6 5-5 36-6-26zm-180 56l7-9-5 15-7 30zm-12-1l7 37-5-31-7-17zm193-14l7-41-5-10-7 20zm2-51l6 4-5 35-6-25zm-206 63l6-9-5 15-6 28zm-5 34l6-28-5-11-6 7zm206-83l6 25-5-32-6-4zm1-7l7-20-5 13-7 42zm-219 42l7 16-5 35-7-38zm-5 13l7 38-5-33-7-17zm219-20l7-42-5-12-7 21zm2-54l7 4-5 33-7-24zm-233 69l7-7-5 12-7 29zm-5 34l7-29-5-12-7 7zm233-90l7 24-5-34-7-3zm2-10l6-20-5 11-6 42zm-7-3l7 3-5 33-7-24zm-233 69l7-7-5 12-7 28zm-6-17l6 17-5 33-6-39zm-5 11l6 39-5-35-6-17zm6 39l7-28-5-13-7 6zm233-90l7 24-6-34-6-3zm7 24l6-42-5-13-7 21zm-6-34l7-21-5 10-7 43zm-245 48l6 17-5 32-6-38zm-5 11l6 38-5-35-6-18zm245-27l7-43-5-14-7 22zm-5-35l7-22-5 10-7 43zm-245 47l6 18-5 31-6-39zm-5 10l6 39-5-36-6-17zm245-26l7-43-5-15-7 22zm-5-36l7-22-5 10-7 42zm-245 48l6 17-5 30-7-38zm-6 9l7 38-5-36-7-18zm246-27l7-42-5-16-7 21zm-5-37l7-21-5 9-7 42zm-6-2l6 2-5 30-6-24zm-233 68l7-7-5 9-7 27zm-7-18l7 18-5 29-7-38zm-5 9l7 38-5-37-7-17zm7 38l7-27-5-17-7 7zm233-89l6 24-5-38-6-3zm6 24l7-42-5-17-7 21zm-11-41l6 3-5 29-6-24zm-233 69l7-7-5 7-7 28zm-5 28l7-28-5-17-7 7zm233-89l6 24-5-38-6-4zm-12 3l7-21-5 7-7 42zm-219 41l6 18-5 27-6-38zm-5 7l6 38-5-39-6-17zm219-20l7-42-6-18-6 21zm-12-43l7 4-5 27-7-26zm-206 62l7-8-5 6-7 29zm-5 27l7-29-5-19-7 8zm206-84l7 26-5-40-7-4zm-11 2l6-20-5 5-7 41zm-193 34l6 17-5 25-6-36zm1 42l7-29-5-20-7 9zm180-76l6 26-5-41-6-5zm-12-1l7-19-5 4-7 40zm-166 28l7 16-5 25-7-36zm2 41l6-30-5-21-6 10zm152-70l7 26-5-41-7-6zm-11-3l6-18-5 4-6 39zm-7-6l7 6-5 25-7-28zm-126 43l7-10-5 3-7 31zm-7-15l7 15-5 24-7-35zm9 8l6 35-5-42-7-14zm6 35l7-32-5-21-7 11zm100-57l6 28-5-42-6-8zm6 28l7-39-5-21-7 18zm-18-33l7-17-5 3-7 38zm-6-8l6 8-5 24-7-30zm-7 16l7-16-6 2-6 37zm-7-9l7 9-5 23-7-30zm-46 23l6-12-5 2-6 34zm-7-12l7 12-5 24-7-33zm-7 12l7-12-5 3-7 32zm-6-13l6 13-5 23-6-33zm8 4l7 33-5-43-7-12zm7 33l6-34-5-22-6 13zm6-34l7 33-5-43-7-12zm7 33l7-35-5-22-7 14zm7-35l6 32-5-43-6-11zm6 32l7-35-5-22-7 14zm7-35l7 30-5-43-7-9zm7 30l6-36-5-22-6 15zm6-36l7 30-5-42-7-10zm7 30l6-37-5-21-6 16z"/><path color="#8dcb4f" d="M694 1351l7 33-5-29-7-12zm7 33l7-35-5-8-7 14zm7-35l6 32-5-29-6-11zm6 32l7-36-5-7-7 14zm7-36l7 31-5-28-7-10zm7 31l6-35-5-8-6 15zm21-41l7-17-5 17-7 37zm-6-9l6 9-5 37-6-29zm-73 30l6-12-5 17-7 33zm-7-12l7 12-6 38-6-34zm-18 14l6 34-5-29-6-13zm6 34l7-32-5-8-7 11zm100-57l7 28-6-29-6-7zm7 28l6-38-5-8-7 17zm8-39l6-18-5 16-6 39zm-7-7l7 7-5 37-7-28zm-126 43l7-10-6 16-6 31zm-7-14l7 14-5 37-7-35zm-11 47l6-31-5-9-6 10zm152-71l7 27-5-30-7-6zm9-22l6 6-5 36-6-27zm-7 19l7-19-5 15-7 40zm-166 29l7 15-6 36-6-36zm-7 9l7-9-5 15-7 30zm-11 0l6 36-5-31-6-15zm6 36l7-30-5-10-7 9zm180-78l6 27-5-31-6-5zm6 27l7-40-5-10-7 19zm-5-31l7-19-5 14-7 41zm-192 36l6 15-5 36-7-37zm-12 43l6-29-5-11-6 9zm206-84l6 26-5-32-6-4zm1-6l7-19-5 13-7 41zm-219 43l7 16-5 34-7-37zm-5 13l7 37-5-32-7-16zm219-21l7-41-5-11-7 20zm2-52l7 4-5 34-7-25zm-233 70l7-8-5 13-7 28zm-5 33l7-28-5-12-7 7zm233-90l7 25-5-33-7-4zm2-8l6-21-5 12-6 42zm-246 49l6 16-5 34-6-38zm-5 12l6 38-5-34-6-17zm246-28l6-42-5-12-6 20zm-9-56l7 3-5 32-7-25zm-259 76l7-7-5 11-7 28zm-5 32l7-28-5-15-7 8zm259-98l7 25-5-35-7-4zm-5-14l7 4-5 31-7-25zm-259 77l7-8-5 10-7 29zm-5 31l7-29-5-14-7 7zm259-98l7 25-5-36-7-4zm-5-15l7 4-5 30-7-24zm-259 77l7-7-6 9-6 28zm-5 30l6-28-5-16-6 8zm259-97l7 24-5-36-7-4zm-22-3l7-21-5 8-7 42zm-246 49l7 17-5 28-7-38zm-5 7l7 38-5-38-7-16zm246-27l7-42-5-16-7 20zm-11-42l6 4-5 28-6-25zm-233 69l7-7-5 7-7 29zm-5 29l7-29-5-18-7 8zm233-91l6 25-5-38-7-5zm-12 3l6-21-5 7-6 41zm-219 41l6 17-5 27-6-38zm-5 6l6 38-5-40-6-16zm219-20l6-41-5-19-6 20zm-12-44l7 4-5 27-7-26zm-206 62l7-8-5 6-7 29zm2-2l6 36-5-40-6-15zm192-14l7-41-5-19-7 19zm-5-41l7-19-5 5-7 40zm-6-5l6 5-5 26-6-27zm-180 56l7-9-5 5-7 30zm-6-15l6 15-5 26-6-36zm1 41l7-30-5-20-7 10zm7-30l7 36-5-41-7-15zm166-8l7-40-5-19-7 18zm7-40l6 27-5-40-6-6zm-19-7l7 6-5 26-7-28zm-152 50l6-10-5 4-6 31zm1-6l7 35-5-41-7-14zm7 35l7-31-6-21-6 11zm126-64l7 28-5-42-7-7zm7 28l6-39-5-20-6 17zm-19-31l7-18-5 4-7 38zm-6-8l6 8-5 24-6-29zm-100 37l7-11-5 3-7 32zm-7-14l7 14-5 24-7-34zm9 6l6 33-5-42-6-12zm6 33l7-32-5-22-7 12zm73-51l7 30-5-43-7-8zm7 30l7-38-5-21-7 16zm-31-30l6-15-5 4-7 35zm-7-9l7 9-6 24-6-31zm-7 14l7-14-5 2-7 36zm-6-11l6 11-5 24-6-32zm-7 14l7-14-5 3-7 35zm-7-12l7 12-5 24-7-33z"/><path color="#a6c83d" d="M746 1334l7-15-5 15-7 37zm-7-10l7 10-5 37-7-30zm-6 15l6-15-5 17-6 35zm-7-10l7 10-5 37-7-31zm-7 14l7-14-5 16-7 36zm-6-10l6 10-5 38-6-32zm-7 14l7-14-5 16-7 35zm-7-12l7 12-5 37-7-33zm-6 13l6-13-5 16-6 34zm-7-11l7 11-5 37-7-32zm-18 16l7 33-5-30-7-12zm7 33l6-33-5-9-6 12zm6-33l7 32-5-29-7-12zm7 32l6-34-5-8-6 13zm46-44l7 30-5-29-7-9zm7 30l7-37-5-8-7 16zm7-37l6 30-5-29-6-9zm6 30l7-37-5-9-7 17zm15-54l7 8-5 36-7-29zm-6 16l6-16-5 15-6 38zm-7-8l7 8-5 37-7-28zm-100 38l7-12-5 16-7 32zm-6-13l6 13-5 36-6-34zm-7 11l7-11-5 15-7 32zm-12 2l7 34-5-30-7-14zm7 34l7-32-5-8-7 10zm126-65l7 29-5-30-7-7zm7 29l6-38-5-10-6 18zm8-41l7-18-5 15-7 39zm-7-7l7 7-5 36-7-27zm-152 51l6-11-5 16-6 31zm-7-14l7 14-5 36-7-36zm-12 45l7-31-5-9-7 9zm7-31l7 36-5-30-7-15zm166-8l7-39-5-10-7 19zm7-39l6 27-5-31-6-6zm1-4l7-18-5 14-7 40zm-192 37l6 14-5 36-6-36zm-12 44l7-30-5-10-7 9zm206-85l7 27-5-32-7-5zm2-5l6-19-5 14-7 40zm-7-5l7 5-6 35-6-26zm-206 64l7-9-6 14-6 29zm-7-16l7 16-5 34-7-36zm-5 14l7 36-5-31-7-16zm219-22l7-40-5-11-7 19zm2-51l7 5-5 34-7-26zm-232 70l6-8-5 13-7 29zm-12-3l6 37-5-32-6-16zm6 37l7-29-5-11-7 8zm233-91l7 26-5-33-7-4zm7 26l6-41-5-12-6 20zm-5-33l6-20-5 13-6 41zm-246 50l6 16-5 33-6-37zm-5 12l6 37-5-33-6-16zm246-28l6-41-5-13-6 21zm1-54l7 5-5 33-7-26zm-259 78l7-8-5 12-7 28zm-5 32l7-28-5-13-7 7zm259-98l7 26-5-34-7-4zm2-8l6-20-5 11-6 41zm-7-4l7 4-5 32-7-25zm-259 76l7-7-5 11-7 29zm-7-16l7 16-5 33-7-38zm-5 11l7 38-5-35-7-16zm7 38l7-29-5-13-7 7zm259-98l7 25-5-35-7-3zm7 25l6-41-5-14-6 20zm-5-35l6-20-5 11-6 41zm-273 57l7 16-5 32-7-38zm-5 10l7 38-5-35-7-17zm273-35l6-41-5-15-6 21zm-5-35l6-21-5 10-6 42zm-273 56l7 17-5 31-7-38zm-5 10l7 38-5-36-7-17zm273-35l6-42-5-14-6 20zm-5-36l6-20-5 9-6 41zm-273 56l7 17-5 30-7-38zm-5 9l7 38-5-36-7-17zm273-35l6-41-5-15-6 20zm-5-36l6-20-5 8-6 41zm-7-4l7 4-5 29-7-24zm-259 77l6-8-5 9-6 28zm-7-17l7 17-5 29-7-37zm-5 9l7 37-5-37-7-16zm7 37l6-28-5-16-6 7zm259-97l7 24-5-37-7-4zm7 24l6-41-5-16-6 20zm-12-41l7 4-5 30-7-26zm-259 77l6-7-5 7-6 29zm-5 29l6-29-5-16-6 8zm259-98l7 26-6-38-6-4zm-12 4l7-20-5 7-7 41zm-246 49l7 16-5 29-7-38zm-5 7l7 38-5-39-7-16zm246-28l7-41-5-17-7 20zm-5-38l7-20-5 7-7 40zm-7-5l7 5-5 27-7-25zm-232 70l7-8-5 6-7 30zm-7-16l7 16-5 28-7-37zm2 44l7-30-5-18-7 9zm232-91l7 25-5-38-7-6zm-11 1l6-20-5 7-6 40zm-219 42l6 16-5 27-7-36zm-6 7l7 36-5-39-7-16zm7 36l7-29-5-19-7 9zm206-84l7 26-5-40-7-5zm7 26l6-40-5-19-6 19zm-12-45l7 5-5 27-7-27zm-206 64l7-9-5 5-7 30zm2-4l6 36-5-40-6-15zm192-15l7-40-5-19-7 19zm-11-46l6 6-5 26-6-28zm-7 18l7-18-5 4-7 40zm-166 29l7 15-5 25-7-35zm-7 10l7-10-5 5-7 31zm2-5l7 35-5-41-7-14zm7 35l6-31-5-20-6 10zm152-71l7 28-5-41-7-7zm7 28l7-40-5-19-7 18zm-18-31l6-17-5 4-6 38zm-7-7l7 7-5 25-7-28zm-126 44l6-11-5 4-6 32zm-7-14l7 14-5 25-7-35zm2 39l6-32-5-21-6 12zm6-32l7 34-5-42-7-13zm7 34l7-32-5-21-7 11zm100-58l6 29-5-42-6-8zm6 29l7-38-5-20-7 16zm7-38l7 28-5-41-7-7zm-25 4l7-16-5 4-7 37zm-7-8l7 8-5 25-7-30zm-6 16l6-16-5 3-6 37zm-7-10l7 10-5 24-7-30zm-46 24l6-13-5 3-6 34zm-7-12l7 12-5 24-7-32zm-7 12l7-12-5 4-7 33zm-6-12l6 12-5 25-6-33zm8 4l7 32-5-41-7-12zm7 32l6-34-5-20-6 13zm6-34l7 33-5-42-7-11zm7 33l7-35-5-21-7 14zm7-35l6 32-5-42-6-11zm6 32l7-36-5-21-7 15zm7-36l6 31-5-42-6-10zm6 31l7-35-5-21-7 14zm7-35l7 30-5-42-7-9zm7 30l6-37-5-20-6 15z"/><path color="#bdc32e" d="M698 1378l7-34-6-9-6 13zm7-34l6 32-5-29-7-12zm6 32l7-34-5-9-7 14zm7-34l6 31-5-30-6-10zm6 31l7-35-5-9-7 14zm7-35l7 31-5-30-7-10zm7 31l6-36-5-9-6 15zm6-36l7 31-5-30-7-10zm29-13l6-16-5 15-6 37zm-7-8l7 8-5 36-7-29zm-7 15l7-15-5 15-7 37zm-6-8l6 8-5 37-6-30zm-73 30l6-12-5 16-6 33zm-7-12l7 12-5 37-7-33zm-7 12l7-12-5 16-7 33zm-6-12l6 12-5 37-6-34zm-12 47l7-32-5-9-7 11zm7-32l6 34-5-30-6-13zm6 34l7-33-5-9-7 12zm100-59l7 29-5-30-7-8zm7 29l6-37-5-9-6 16zm6-37l7 29-5-30-7-8zm8-18l7 7-5 36-7-28zm-6 17l6-17-5 15-6 38zm-140 23l7 13-5 36-7-34zm-6 11l6-11-5 15-6 31zm-12 1l7 34-5-30-7-14zm7 34l6-31-5-10-6 11zm152-71l7 28-5-31-7-7zm7 28l7-39-5-10-7 18zm8-42l7-18-5 14-7 39zm-6-7l6 7-5 35-6-27zm-180 58l7-10-5 14-7 31zm-6-14l6 14-5 35-6-35zm-5 14l6 35-5-31-6-14zm192-16l7-39-5-10-7 18zm9-43l6-18-5 13-6 40zm-7-6l7 6-5 35-7-27zm-206 64l7-9-5 14-7 30zm-7-14l7 14-5 35-7-36zm-5 13l7 36-5-31-7-16zm220-22l6-40-5-11-6 19zm1-51l7 6-5 34-7-26zm-232 72l6-10-5 14-6 30zm-12-2l7 36-5-33-7-15zm7 36l6-30-5-11-6 8zm232-92l7 26-5-32-7-5zm7 26l6-40-5-11-6 19zm-5-32l6-19-5 12-6 41zm-246 50l7 15-6 34-6-37zm-12 42l7-30-5-11-7 8zm259-99l7 27-5-34-7-5zm2-7l7-19-5 12-7 40zm-7-5l7 5-5 33-7-25zm-259 78l7-8-5 12-7 29zm-6-15l6 15-5 33-7-37zm-6 11l7 37-5-33-7-16zm7 37l7-29-5-12-7 8zm259-98l7 25-5-33-7-5zm7 25l7-40-5-13-7 20zm-5-33l7-20-5 12-7 41zm-273 57l7 16-5 32-7-37zm-5 11l7 37-5-34-7-16zm273-35l7-41-6-13-6 20zm-289 62l6-29-5-13-6 8zm285-105l7 25-5-34-7-5zm-5-14l7 5-5 31-7-25zm-285 85l6-8-5 10-6 29zm-5 31l6-29-5-14-6 8zm285-105l7 25-5-35-7-5zm-5-15l7 5-5 31-7-26zm-285 85l6-8-5 10-6 29zm-5 31l6-29-5-15-6 8zm285-106l7 26-5-36-7-4zm-5-14l7 4-5 30-7-25zm-285 84l6-8-5 9-6 29zm-5 30l6-29-5-15-6 8zm285-105l7 25-5-36-7-4zm-5-15l7 4-5 30-7-26zm-285 84l6-8-5 9-7 29zm269-72l6-20-5 9-6 41zm-273 57l7 16-5 29-7-37zm-5 8l7 37-5-37-7-16zm273-35l6-41-5-17-7 20zm-6-38l7-20-5 8-7 41zm-6-4l6 4-5 29-6-26zm-259 77l6-8-5 7-6 29zm-7-16l7 16-5 28-7-36zm-5 8l7 36-5-37-7-16zm7 36l6-29-5-17-6 9zm259-98l6 26-5-38-6-5zm6 26l7-41-5-16-7 19zm-11-43l6 5-5 28-6-26zm-259 78l6-9-5 7-6 30zm1-2l7 37-5-39-7-15zm246-29l7-40-5-18-7 20zm-5-38l7-20-5 7-7 40zm-7-6l7 6-5 27-7-26zm-232 71l7-9-6 7-6 30zm-7-15l7 15-5 28-7-37zm2 43l6-30-5-19-6 10zm232-92l7 26-5-39-7-6zm-11 0l6-19-5 7-6 39zm-220 43l7 16-5 26-7-36zm-5 6l7 36-5-39-7-15zm7 36l7-30-5-19-7 10zm206-85l7 27-5-40-7-6zm7 27l6-39-5-19-6 18zm-19-27l7-19-5 6-7 39zm-192 36l6 15-5 26-6-36zm-5 5l6 36-5-40-6-14zm6 36l7-31-5-20-7 11zm180-79l6 28-5-40-6-7zm6 28l7-39-5-19-7 18zm-18-29l7-18-5 5-7 38zm-7-7l7 7-5 25-7-28zm-152 50l6-10-5 4-6 32zm-7-14l7 14-5 26-7-35zm2 40l6-32-5-19-7 11zm6-32l7 35-5-41-7-13zm140-2l6-38-5-19-6 16zm6-38l7 28-5-40-7-7zm-18-10l7 7-5 26-7-29zm-7 16l7-16-5 4-7 37zm-6-8l6 8-5 25-6-29zm-100 37l7-11-5 4-7 33zm-7-13l7 13-5 26-7-34zm-6 12l6-12-5 5-6 32zm1-7l7 34-5-41-7-13zm7 34l7-33-5-21-7 13zm7-33l6 33-5-42-6-12zm6 33l7-33-5-21-7 12zm73-52l7 30-5-41-7-9zm7 30l7-37-5-20-7 16zm7-37l6 29-5-41-6-8zm6 29l7-37-5-20-7 16zm-38-36l7 9-5 25-7-30zm-7 14l7-14-5 4-7 35zm-6-10l6 10-5 25-6-31zm-7 15l7-15-5 4-7 35zm-6-11l6 11-5 24-7-31zm-7 14l7-14-6 4-6 35zm-7-11l7 11-5 25-7-33zm-6 13l6-13-5 3-6 35z"/><path color="#d1bf27" d="M769 1322l7-16-5 15-7 37zm-6-9l6 9-5 36-6-30zm-7 15l7-15-5 15-7 36zm-7-10l7 10-5 36-7-31zm-6 15l6-15-5 15-6 36zm-7-10l7 10-5 36-7-31zm-7 14l7-14-5 15-7 35zm-6-11l6 11-5 36-6-31zm-7 14l7-14-5 16-7 34zm-6-11l6 11-5 36-6-32zm-7 13l7-13-5 15-7 34zm-7-11l7 11-5 36-7-32zm-6 13l6-13-5 15-6 34zm-7-12l7 12-5 36-7-33zm-18 15l6 33-5-31-6-12zm6 33l7-33-5-10-7 12zm7-33l7 33-5-31-7-12zm7 33l6-34-5-9-6 12zm6-34l7 32-5-30-7-11zm60 18l7-36-5-9-7 15zm7-36l6 30-5-31-6-8zm6 30l7-37-5-9-7 15zm7-37l7 30-5-31-7-8zm7 30l6-37-5-10-6 16zm8-39l7-16-6 14-6 38zm-7-8l7 8-5 36-7-29zm-126 45l7-12-5 15-7 32zm-7-13l7 13-5 35-7-34zm-18 13l7 34-5-31-7-14zm7 34l6-33-5-9-6 11zm6-33l7 34-5-30-7-13zm140-2l6-38-5-9-6 17zm6-38l7 29-5-31-7-7zm7 29l7-38-5-10-7 17zm8-41l7-17-5 14-7 38zm-6-7l6 7-5 35-6-28zm-7 17l7-17-5 14-7 39zm-166 30l7 14-5 35-7-34zm-7 11l7-11-5 15-7 31zm-6-13l6 13-5 35-6-34zm-5 14l6 34-5-31-6-14zm6 34l7-31-5-10-7 10zm180-79l6 28-5-31-6-7zm6 28l7-38-5-11-7 18zm9-42l6-17-5 13-6 39zm-7-7l7 7-5 35-7-28zm-206 65l7-10-5 14-7 31zm-7-13l7 13-5 35-7-35zm-5 13l7 35-5-32-7-14zm7 35l7-31-5-10-7 9zm206-86l7 28-5-32-7-6zm7 28l6-39-5-11-6 18zm8-44l7-18-6 13-6 39zm-7-6l7 6-5 34-7-27zm-232 72l6-10-5 13-6 31zm-7-14l7 14-5 34-7-36zm-5 12l7 36-5-32-7-15zm7 36l6-31-5-11-6 10zm232-93l7 27-5-32-7-6zm7 27l6-39-5-11-6 18zm1-50l7 6-5 33-7-27zm-6 18l6-18-5 12-6 40zm-246 51l7 15-5 34-7-36zm-7 9l7-9-5 13-7 30zm-5 34l7-30-5-12-7 9zm259-100l7 27-5-33-7-5zm2-6l7-18-5 12-7 40zm-7-5l7 5-5 34-7-27zm-259 78l7-9-5 12-7 30zm-6-15l6 15-5 33-6-36zm-5 12l6 36-5-33-6-15zm272-36l7-40-5-13-7 19zm2-53l6 6-5 32-6-26zm-286 86l7-9-6 11-6 30zm-5 32l6-30-5-12-6 9zm286-106l6 26-5-34-6-5zm1-8l7-19-5 12-7 40zm-6-5l6 5-5 33-6-26zm-286 86l6-9-5 11-6 30zm-7-16l7 16-5 32-7-37zm-5 11l7 37-5-34-7-16zm7 37l6-30-5-13-6 9zm286-106l6 26-5-35-7-4zm6 26l7-40-5-14-7 19zm-5-35l7-19-5 11-7 40zm-7-4l7 4-5 32-7-25zm-285 85l6-9-5 11-6 29zm-7-16l7 16-5 31-7-36zm-5 11l7 36-5-34-7-16zm299-44l7-40-5-14-7 20zm-5-34l7-20-5 11-7 40zm-299 64l7 16-5 31-7-37zm-5 10l7 37-5-35-7-16zm299-43l7-40-5-15-7 20zm-5-35l7-20-5 10-7 41zm-299 64l7 16-5 31-7-37zm-5 10l7 37-5-36-7-16zm299-43l7-41-5-15-7 20zm-5-36l7-20-5 10-7 40zm-299 64l7 16-5 30-7-36zm-5 10l7 36-5-36-7-16zm299-44l7-40-5-15-7 19zm-5-36l7-19-5 9-7 40zm-299 64l7 16-6 30-6-37zm-5 9l6 37-5-37-6-15zm6 37l7-29-5-16-7 8zm286-106l7 26-5-37-7-5zm7 26l7-40-6-16-6 19zm-5-37l6-19-5 9-6 40zm-7-5l7 5-5 30-7-26zm-286 85l7-8-5 8-7 30zm-6-15l6 15-5 30-6-37zm-5 8l6 37-5-37-6-16zm6 37l7-30-5-16-7 9zm286-106l7 26-5-37-7-6zm7 26l6-40-5-16-6 19zm-12-43l7 6-5 29-7-27zm-286 86l7-9-5 8-7 30zm-5 29l7-30-5-17-7 9zm286-107l7 27-5-38-7-5zm-12 3l7-19-5 7-7 40zm-272 57l7 16-5 28-7-36zm-5 8l7 36-5-38-7-15zm7 36l6-30-5-17-6 9zm259-99l6 26-5-38-6-6zm6 26l7-40-5-17-7 19zm-11-44l6 6-5 28-6-27zm-259 79l6-9-5 6-6 31zm-5 28l6-31-5-17-6 9zm6-31l7 37-5-39-7-15zm246-29l7-40-5-17-7 18zm7-40l6 27-5-38-6-6zm-12 1l7-18-5 6-7 40zm-7-6l7 6-5 28-7-27zm-232 72l6-10-5 6-6 31zm-7-15l7 15-5 27-7-36zm-5 6l7 36-5-39-7-14zm7 36l6-31-5-18-6 10zm232-92l7 27-5-39-7-7zm7 27l7-40-5-17-7 18zm-18-28l6-18-5 6-6 39zm-7-6l7 6-5 27-7-27zm-206 65l7-10-5 5-7 32zm-7-15l7 15-5 27-7-36zm-5 6l7 36-5-40-7-14zm7 36l7-32-5-18-7 10zm206-86l7 27-5-39-7-7zm7 27l6-39-5-18-6 18zm-19-28l7-18-5 6-7 38zm-6-7l6 7-5 26-6-28zm-180 58l7-11-5 5-7 32zm-6-14l6 14-5 26-6-35zm-5 5l6 35-5-40-6-13zm6 35l7-32-5-19-7 11zm7-32l7 35-6-40-6-14zm166-9l7-38-5-19-7 17zm7-38l6 28-5-40-6-7zm6 28l7-38-5-19-7 17zm-18-30l7-17-5 5-7 38zm-7-7l7 7-5 26-7-29zm-6 16l6-16-5 4-6 38zm-140 24l7 13-5 25-7-34zm-7 11l7-11-5 4-7 33zm-6-14l6 14-5 26-6-34zm8 7l7 34-5-40-7-13zm7 34l6-32-5-20-6 12zm126-65l7 29-5-41-7-8zm7 29l6-38-5-19-6 16zm-19-33l7-16-5 5-7 37zm-6-8l6 8-5 26-6-30zm-7 16l7-16-5 4-7 37zm-7-9l7 9-5 25-7-30zm-6 15l6-15-5 4-6 36zm-60 3l7 12-5 25-7-33zm-7 12l7-12-5 4-7 34zm-6-12l6 12-5 26-6-33zm-7 13l7-13-5 5-7 33zm-7-13l7 13-5 25-7-33zm9 5l6 33-5-41-6-12zm6 33l7-34-5-20-7 13zm7-34l7 33-5-41-7-12zm7 33l6-35-5-20-6 14zm6-35l7 33-5-42-7-11zm7 33l6-35-5-20-6 13zm6-35l7 31-5-41-7-10zm7 31l7-35-5-20-7 14zm7-35l6 31-5-41-6-10zm6 31l7-35-5-21-7 15zm7-35l7 30-5-41-7-10zm7 30l6-36-5-20-6 15zm6-36l7 30-5-41-7-9zm7 30l7-37-5-19-7 15z"/><path color="#dbbd28" d="M759 1313l7 10-5 35-7-30zm-6 15l6-15-5 15-6 35zm-7-11l7 11-5 35-7-31zm-6 15l6-15-5 15-6 35zm-7-11l7 11-5 35-7-31zm-7 14l7-14-5 15-7 34zm-6-11l6 11-5 35-6-31zm-7 13l7-13-5 15-7 34zm-25 5l7 33-5-31-7-12zm7 33l6-34-5-10-6 13zm6-34l7 32-5-31-7-11zm7 32l7-34-5-10-7 13zm7-34l6 31-5-30-6-11zm6 31l7-34-5-10-7 14zm7-34l7 31-6-30-6-11zm7 31l6-35-5-9-7 14zm6-35l7 31-5-30-7-10zm7 31l6-35-5-10-6 15zm6-35l7 30-5-30-7-10zm7 30l7-36-5-9-7 15zm7-36l6 31-5-31-6-9zm6 31l7-37-5-10-7 16zm22-45l7-16-5 14-7 37zm-7-8l7 8-5 35-7-29zm-6 15l6-15-5 14-6 37zm-7-9l7 9-5 36-7-30zm-100 38l7-12-5 15-7 33zm-6-12l6 12-5 36-6-33zm-7 13l7-13-5 15-7 33zm-7-13l7 13-5 35-7-34zm-11 47l6-33-5-10-6 12zm6-33l7 34-5-31-7-13zm7 34l7-33-5-10-7 12zm126-66l7 29-5-31-7-8zm7 29l7-37-5-10-7 16zm7-37l6 29-5-31-6-8zm8-19l6 8-5 35-6-29zm-7 17l7-17-5 14-7 38zm-6-8l6 8-5 35-7-29zm-153 52l6-12-5 14-6 33zm-7-13l7 13-5 35-7-34zm-7 11l7-11-5 14-7 32zm-11 1l6 34-5-32-6-13zm6 34l7-32-5-11-7 11zm180-80l6 29-5-32-6-7zm6 29l7-38-5-11-7 17zm9-41l6-17-5 13-6 38zm-7-8l7 8-5 34-7-28zm-206 66l7-11-5 14-7 31zm-7-14l7 14-5 34-7-34zm-5 14l7 34-5-32-7-13zm7 34l7-31-5-11-7 10zm206-86l7 28-5-32-7-7zm7 28l6-38-5-11-6 17zm8-42l7-18-5 13-7 39zm-7-7l7 7-5 34-7-28zm-232 72l6-10-5 13-6 31zm-7-14l7 14-5 34-7-35zm-5 13l7 35-5-32-7-14zm7 35l6-31-5-11-6 10zm232-93l7 28-5-33-7-6zm7 28l7-39-5-12-7 18zm2-51l6 7-5 34-7-28zm-260 80l7-10-5 12-7 31zm-11-2l6 35-5-33-6-14zm6 35l7-31-5-11-7 9zm259-100l7 28-5-33-7-6zm7 28l7-39-5-13-7 19zm-5-33l7-19-5 13-7 39zm-272 58l6 14-5 34-6-36zm-12 43l7-31-5-12-7 10zm7-31l6 36-5-33-6-15zm272-37l7-39-5-12-7 18zm7-39l6 27-5-33-6-6zm1-6l7-19-5 12-7 39zm-6-6l6 6-5 32-6-26zm-286 86l7-10-5 12-7 30zm-7-15l7 15-5 32-7-35zm-5 12l7 35-5-33-7-15zm7 35l7-30-5-12-7 9zm286-106l6 26-5-33-6-6zm6 26l7-39-5-13-7 19zm-5-33l7-19-5 12-7 39zm-299 65l7 15-5 32-7-36zm-5 11l7 36-5-33-7-16zm299-44l7-39-5-14-7 19zm2-53l6 6-5 32-6-26zm-312 94l6-10-5 11-7 31zm-6 32l7-31-5-13-7 9zm313-114l6 26-5-34-6-6zm-5-14l6 6-5 31-6-26zm-313 93l7-9-5 11-7 30zm-11-4l6 36-5-35-6-15zm6 36l7-30-5-14-7 9zm313-114l6 26-5-35-6-5zm6 26l7-39-5-14-7 18zm-5-35l7-18-5 10-7 40zm-6-5l6 5-5 32-6-26zm-313 93l7-9-5 10-7 30zm-6-15l6 15-5 31-6-36zm-5 10l6 36-5-35-6-15zm6 36l7-30-5-14-7 9zm313-113l6 26-5-36-6-5zm6 26l7-40-5-14-7 18zm-5-36l7-18-5 9-7 40zm-6-5l6 5-5 31-6-26zm-313 93l7-9-5 10-7 30zm-6-15l6 15-5 31-6-37zm-5 9l6 37-5-36-6-15zm6 37l7-30-5-15-7 9zm313-114l6 26-5-35-6-6zm6 26l7-40-5-14-7 19zm-5-35l7-19-5 9-7 40zm-6-6l6 6-5 30-6-26zm-313 93l7-9-5 10-7 29zm-6-15l6 15-5 30-6-36zm-5 9l6 36-5-36-6-15zm6 36l7-29-5-16-7 9zm313-113l6 26-5-36-6-5zm6 26l7-40-5-15-7 19zm-5-36l7-19-5 9-7 40zm-6-5l6 5-5 30-6-26zm-313 92l7-9-5 9-7 30zm-6-15l6 15-5 30-6-36zm1 45l7-30-5-15-7 9zm313-113l6 26-5-37-7-5zm-6-16l7 5-5 30-7-26zm-312 93l7-9-5 8-7 31zm-5 30l7-31-5-16-7 10zm312-114l7 26-5-37-7-5zm-11 3l6-19-5 8-6 40zm-299 64l6 16-5 29-6-36zm-5 9l6 36-5-38-6-15zm299-44l6-40-5-17-6 19zm-5-38l6-19-5 8-6 40zm-7-5l7 5-5 29-7-27zm-286 85l7-9-5 8-7 30zm-6-15l6 15-5 29-6-36zm-5 8l6 36-5-38-6-14zm6 36l7-30-5-17-7 9zm286-107l7 27-5-38-7-6zm7 27l6-40-5-16-6 18zm-12-44l7 6-5 29-7-27zm-7 19l7-19-5 8-7 39zm-272 58l7 15-5 28-7-36zm-7 9l7-9-5 7-7 31zm2-2l7 36-5-39-7-14zm272-37l7-39-5-18-7 19zm-5-38l7-19-5 8-7 39zm-6-6l6 6-5 28-6-28zm-259 78l6-9-5 6-7 31zm-7-14l7 14-6 28-6-35zm1 42l7-31-5-17-7 10zm260-100l6 28-5-39-6-6zm-12 1l7-18-5 6-7 39zm-7-7l7 7-5 27-7-28zm-232 72l6-10-5 6-6 32zm-7-14l7 14-5 28-7-36zm-5 6l7 36-5-39-7-14zm7 36l6-32-5-18-6 11zm232-94l7 28-5-39-7-7zm7 28l7-39-5-17-7 17zm-18-28l6-18-5 7-6 38zm-7-7l7 7-5 27-7-28zm-206 65l7-10-5 5-7 32zm-7-14l7 14-5 27-7-35zm-5 6l7 35-5-39-7-14zm7 35l7-32-5-18-7 11zm206-86l7 28-5-39-7-8zm7 28l6-38-5-19-6 18zm-19-30l7-17-5 6-7 38zm-6-7l6 7-5 27-6-29zm-180 58l7-11-5 6-7 32zm-6-13l6 13-5 27-6-34zm1 40l7-32-5-19-7 11zm7-32l6 34-5-40-6-13zm6 34l7-33-5-19-7 12zm153-73l7 29-5-40-7-8zm7 29l7-38-5-18-7 16zm7-38l6 29-5-40-6-7zm-19-10l7 8-5 27-7-29zm-6 16l6-16-5 6-6 37zm-7-8l7 8-5 27-7-30zm-126 45l6-12-5 5-6 33zm-7-13l7 13-5 26-7-33zm-7 12l7-12-5 6-7 32zm2-6l7 33-5-40-7-12zm7 33l6-33-5-19-6 12zm6-33l7 33-5-40-7-12zm7 33l7-33-5-20-7 13zm100-59l6 30-5-40-6-9zm6 30l7-37-5-19-7 16zm7-37l7 30-5-40-7-9zm7 30l6-37-5-19-6 16zm-32-27l7-15-5 5-7 36zm-7-9l7 9-5 26-7-30zm-6 15l6-15-5 5-6 36zm-7-10l7 10-5 26-7-31zm-7 15l7-15-5 5-7 36zm-6-10l6 10-5 26-6-31zm-7 14l7-14-5 5-7 35zm-7-10l7 10-5 26-7-32zm-6 13l6-13-5 4-6 35zm-7-11l7 11-5 26-7-32zm-6 14l6-14-5 5-7 34zm-7-12l7 12-6 25-6-32zm-7 13l7-13-5 5-7 34zm-6-12l6 12-5 26-6-32zm14 36l7-34-5-19-7 13zm7-34l7 32-5-40-7-11zm7 32l6-35-5-19-6 14zm6-35l7 32-5-41-7-10zm7 32l7-35-5-20-7 14zm7-35l6 31-5-41-6-10zm6 31l7-36-5-19-7 14zm7-36l7 31-5-40-7-10z"/><path color="#e4bb2c" d="M711 1337l7 32-5-32-7-11zm7 32l7-35-5-10-7 13zm7-35l6 32-5-31-6-11zm6 32l7-35-5-10-7 14zm7-35l7 32-5-31-7-11zm7 32l6-35-5-11-6 15zm6-35l7 31-5-31-7-11zm7 31l7-36-6-10-6 15zm7-36l6 31-5-31-7-10zm6 31l7-36-5-10-7 15zm28-58l7 9-5 35-7-30zm-6 15l6-15-5 14-6 36zm-7-9l7 9-5 35-7-30zm-7 15l7-15-5 14-7 37zm-6-9l6 9-5 36-6-31zm-7 15l7-15-5 14-7 36zm-60 3l7 11-5 36-7-32zm-6 13l6-13-5 15-6 34zm-7-11l7 11-5 36-7-33zm-7 13l7-13-5 14-7 34zm-6-12l6 12-5 35-6-33zm-7 12l7-12-5 14-7 33zm-12 2l7 33-5-31-7-13zm7 33l7-33-5-11-7 13zm7-33l6 33-5-32-6-12zm6 33l7-34-5-10-7 12zm100-60l7 30-5-31-7-9zm7 30l6-36-5-10-6 15zm6-36l7 30-5-32-7-8zm7 30l7-37-5-11-7 16zm15-55l7 8-6 34-6-29zm-7 16l7-16-5 13-7 37zm-6-9l6 9-5 34-6-29zm-153 52l6-12-5 14-6 33zm-7-12l7 12-5 35-7-34zm-7 12l7-12-5 13-7 33zm-11 0l6 34-5-32-6-13zm6 34l7-33-5-10-7 11zm7-33l7 34-5-31-7-13zm166-10l7-37-5-11-7 17zm7-37l6 29-5-32-6-8zm6 29l7-37-5-11-7 16zm9-40l6-17-5 13-6 38zm-7-8l7 8-5 34-7-29zm-7 16l7-16-5 13-7 38zm-192 38l6 13-5 35-6-34zm-7 12l7-12-5 14-7 32zm-7-13l7 13-5 34-7-34zm-5 13l7 34-5-32-7-14zm7 34l7-32-5-11-7 11zm206-87l7 29-5-32-7-8zm7 29l6-38-5-11-6 17zm8-42l7-17-5 13-7 38zm-7-7l7 7-5 34-7-28zm-232 73l6-12-5 14-6 31zm-7-14l7 14-5 33-7-34zm-5 13l7 34-5-32-7-14zm7 34l6-31-5-11-6 10zm232-93l7 28-5-32-7-7zm7 28l7-38-5-12-7 18zm8-43l7-17-5 12-7 39zm-6-7l6 7-5 34-6-28zm-260 80l7-11-5 13-7 32zm-6-14l6 14-5 34-6-35zm-5 13l6 35-5-33-6-14zm6 35l7-32-5-11-7 10zm260-101l6 28-5-33-6-7zm6 28l7-39-5-12-7 18zm2-51l6 7-5 33-6-27zm-7 18l7-18-5 13-7 39zm-272 59l6 14-5 33-6-35zm-7 10l7-10-5 12-7 31zm-12-2l7 35-5-33-7-14zm7 35l7-31-5-12-7 10zm286-107l6 27-5-33-6-7zm6 27l7-38-5-13-7 18zm-5-33l7-18-5 12-7 39zm-6-7l6 7-5 33-6-27zm-286 87l7-10-5 12-7 31zm-7-14l7 14-5 33-7-35zm-5 12l7 35-5-33-7-15zm299-45l7-39-5-13-7 19zm2-52l7 7-5 32-7-27zm-312 94l6-10-5 12-6 31zm-12-3l7 36-5-34-7-15zm7 36l6-31-5-13-6 10zm312-115l7 27-5-34-7-6zm7 27l6-39-5-13-6 18zm-5-34l6-18-5 11-6 40zm-7-6l7 6-5 33-7-27zm-312 94l6-10-5 11-6 31zm-7-15l7 15-5 32-7-36zm-5 11l7 36-5-34-7-15zm7 36l6-31-5-13-6 10zm312-114l7 27-6-35-6-6zm7 27l6-40-5-13-7 18zm-6-35l7-18-5 11-7 39zm-325 73l7 15-6 32-6-36zm-5 11l6 36-5-35-6-15zm325-52l7-39-5-14-7 19zm2-53l7 6-5 32-7-27zm-7 19l7-19-5 11-7 39zm-325 72l6 15-5 32-6-36zm-7 10l7-10-5 11-7 30zm-5 31l7-30-5-14-7 9zm339-121l7 27-5-35-7-6zm-5-14l7 6-5 31-7-27zm-339 100l7-9-5 10-7 30zm-5 31l7-30-5-14-7 9zm339-121l7 27-5-36-7-5zm-5-14l7 5-5 31-7-27zm-339 100l7-9-5 9-7 31zm-5 31l7-31-5-14-7 9zm339-122l7 27-5-35-7-6zm-5-14l7 6-5 30-7-27zm-339 100l7-9-5 9-7 31zm-5 31l7-31-5-15-7 10zm339-122l7 27-6-36-6-6zm-5-15l6 6-5 30-6-27zm-339 101l7-10-5 9-7 31zm-5 30l7-31-5-15-7 10zm7-31l6 36-5-36-6-15zm325-51l7-40-5-15-7 18zm7-40l6 27-5-36-6-6zm-12 3l7-18-5 9-7 39zm-325 73l6 15-5 30-7-36zm-6 9l7 36-5-37-7-15zm326-52l7-39-5-16-7 18zm-5-37l7-18-5 8-7 40zm-7-5l7 5-5 30-7-27zm-312 93l7-10-5 9-7 30zm-7-15l7 15-5 29-7-36zm-5 8l7 36-5-37-7-15zm7 36l7-30-5-17-7 10zm312-114l7 27-5-37-7-7zm7 27l7-40-5-16-7 19zm-5-37l7-19-5 9-7 39zm-7-7l7 7-5 29-7-28zm-312 94l7-10-5 8-7 31zm-7-15l7 15-5 29-7-35zm2 44l7-31-5-16-7 10zm312-115l7 28-5-38-7-6zm-11 2l6-18-5 8-6 39zm-299 66l6 14-5 29-6-36zm-5 7l6 36-5-38-6-14zm6 36l7-31-5-17-7 10zm286-107l7 27-5-38-7-7zm7 27l6-39-5-17-6 18zm-5-38l6-18-5 8-6 38zm-7-7l7 7-5 28-7-27zm-286 87l7-10-5 7-7 31zm-6-14l6 14-5 28-6-35zm1 42l7-31-5-17-7 10zm7-31l6 35-5-38-6-14zm272-37l7-39-5-17-7 17zm7-39l7 27-5-38-7-6zm-12 0l7-17-5 7-7 38zm-6-6l6 6-5 28-6-28zm-260 79l7-10-5 6-7 32zm-6-14l6 14-5 28-6-35zm-5 7l6 35-5-38-6-14zm6 35l7-32-5-17-7 11zm260-101l6 28-5-38-6-7zm6 28l7-38-5-17-7 17zm-18-28l7-17-5 6-7 39zm-7-7l7 7-5 28-7-28zm-232 73l6-11-5 6-6 32zm-7-14l7 14-5 27-7-34zm-5 7l7 34-5-39-7-13zm7 34l6-32-5-18-6 11zm232-93l7 28-5-39-7-8zm7 28l7-39-6-17-6 17zm-18-29l6-18-5 7-6 38zm-7-8l7 8-5 27-7-29zm-206 66l7-11-5 6-7 32zm-7-14l7 14-5 27-7-34zm-5 7l7 34-5-39-7-13zm7 34l7-32-6-19-6 12zm7-32l6 34-5-40-7-13zm192-17l7-38-5-18-7 16zm7-38l7 29-6-39-6-8zm7 29l6-38-5-18-7 17zm-19-31l7-16-5 6-7 37zm-6-7l6 7-5 27-6-29zm-7 16l7-16-5 5-7 38zm-166 31l6 13-5 26-6-33zm-7 11l7-11-5 6-7 32zm-7-13l7 13-5 27-7-33zm2 40l7-32-5-19-7 12zm7-32l6 33-5-39-6-13zm6 33l7-32-5-19-7 12zm153-72l7 29-5-40-7-8zm7 29l7-38-6-18-6 16zm7-38l6 29-5-39-7-8zm-25 6l6-16-5 6-6 36zm-7-9l7 9-5 26-7-29zm-7 16l7-16-5 6-7 36zm-6-9l6 9-5 26-6-30zm-100 38l7-13-5 6-7 33zm-7-12l7 12-5 26-7-33zm-6 12l6-12-5 5-6 34zm-7-12l7 12-5 27-7-33zm2 39l6-34-5-18-6 12zm6-34l7 33-5-40-7-11zm7 33l7-33-5-19-7 12zm7-33l6 32-5-40-6-11zm6 32l7-34-5-19-7 13zm7-34l6 32-5-40-6-11zm60 18l6-36-5-19-6 15zm6-36l7 30-5-40-7-9zm7 30l7-36-5-19-7 15zm7-36l6 30-5-40-6-9zm6 30l7-36-5-19-7 15zm7-36l7 29-6-39-6-9zm-38 8l6-15-5 5-6 36zm-7-10l7 10-5 26-7-31zm-7 14l7-14-5 5-7 36zm-6-10l6 10-5 27-6-31zm-7 14l7-14-5 6-7 35zm-7-10l7 10-5 27-7-32zm-6 14l6-14-5 5-6 35zm-7-11l7 11-5 26-7-32zm-7 13l7-13-5 5-7 35zm-6-11l6 11-5 27-6-33z"/><path color="#edba33" d="M728 1366l7-35-5-11-7 14zm7-35l6 32-5-32-6-11zm6 32l7-35-5-11-7 14zm7-35l7 31-5-31-7-11zm7 31l6-35-5-10-6 14zm6-35l7 32-5-32-7-10zm7 32l7-36-5-11-7 15zm7-36l6 31-5-32-6-10zm28-11l6-15-5 13-6 36zm-7-10l7 10-5 34-7-30zm-7 15l7-15-5 14-7 36zm-6-9l6 9-5 35-6-31zm-7 14l7-14-5 13-7 36zm-6-10l6 10-5 35-6-31zm-7 15l7-15-5 14-7 36zm-7-10l7 10-5 35-7-31zm-6 14l6-14-5 14-6 35zm-7-11l7 11-5 35-7-32zm-7 14l7-14-5 14-7 35zm-6-11l6 11-5 35-6-32zm-7 14l7-14-5 14-7 35zm-7-11l7 11-5 35-7-32zm-6 13l6-13-5 14-6 34zm-7-11l7 11-5 35-7-33zm-7 13l7-13-5 13-7 34zm-6-12l6 12-5 34-6-32zm-19 15l7 32-5-32-7-12zm7 32l7-33-5-11-7 12zm7-33l6 32-5-31-6-12zm6 32l7-34-5-10-7 13zm7-34l7 33-5-32-7-11zm7 33l6-34-5-11-6 13zm73-53l6 31-5-32-6-9zm6 31l7-36-5-11-7 15zm7-36l7 30-5-32-7-9zm7 30l6-36-5-11-6 15zm6-36l7 30-5-32-7-9zm7 30l7-36-5-12-7 16zm8-39l7-16-5 14-7 37zm-6-9l6 9-5 35-6-30zm-7 16l7-16-5 14-7 37zm-140 24l7 12-5 35-7-33zm-6 13l6-13-5 14-6 33zm-7-12l7 12-5 34-7-33zm-18 13l6 33-5-32-6-13zm6 33l7-33-5-11-7 12zm7-33l7 33-5-32-7-12zm7 33l6-33-5-11-6 12zm153-73l6 30-5-32-6-9zm6 30l7-37-5-11-7 16zm7-37l7 29-5-32-7-8zm7 29l6-37-5-11-6 16zm8-40l6-16-5 13-6 37zm-7-8l7 8-5 34-7-29zm-6 16l6-16-5 13-7 37zm-193 38l6 13-5 34-6-34zm-7 12l7-12-5 13-7 33zm-6-12l6 12-5 34-7-34zm-6 12l7 34-5-32-7-13zm7 34l7-33-5-11-7 12zm206-87l7 29-5-32-7-8zm7 29l6-37-5-12-6 17zm8-41l7-17-5 13-7 38zm-7-8l7 8-5 34-7-29zm-232 73l6-11-5 13-6 32zm-7-13l7 13-5 34-7-34zm-11 45l6-32-5-12-7 11zm6-32l7 34-5-32-7-14zm7 34l6-32-5-12-6 12zm232-94l7 29-5-33-7-7zm7 29l7-38-5-12-7 17zm7-38l6 29-5-33-6-8zm1-4l7-17-5 12-7 38zm-6-8l6 8-5 33-6-28zm-260 80l7-11-5 13-7 32zm-6-13l6 13-5 34-6-34zm-5 13l6 34-5-33-6-14zm6 34l7-32-5-12-7 11zm260-101l6 28-5-33-6-7zm6 28l7-38-5-12-7 17zm9-43l6-17-5 12-7 38zm-7-7l7 7-6 33-6-28zm-286 87l7-11-5 13-7 31zm-7-13l7 13-5 33-7-34zm-5 12l7 34-5-33-7-14zm7 34l7-31-5-12-7 10zm286-108l6 28-5-33-6-7zm6 28l7-38-5-12-7 17zm2-50l7 7-5 33-7-28zm-7 17l7-17-5 12-7 38zm-299 66l7 14-5 33-7-35zm-6 11l6-11-5 12-6 32zm-5 33l6-32-5-12-6 10zm312-115l7 28-5-34-7-7zm2-6l6-17-5 11-6 39zm-7-7l7 7-5 33-7-28zm-312 94l6-10-5 12-6 31zm-7-13l7 13-5 33-7-35zm-5 11l7 35-5-34-7-14zm7 35l6-31-5-13-6 10zm312-115l7 28-5-34-7-7zm7 28l6-39-5-13-6 18zm1-52l7 7-5 32-7-28zm-6 18l6-18-5 11-6 39zm-326 73l7 14-5 33-7-36zm-7 10l7-10-5 11-7 32zm-5 33l7-32-5-13-7 10zm339-123l7 28-5-34-7-7zm2-6l6-18-5 11-6 39zm-7-7l7 7-5 32-7-28zm-339 101l7-10-5 11-7 31zm-6-14l6 14-5 32-6-35zm-5 11l6 35-5-34-6-14zm6 35l7-31-5-13-7 10zm339-122l7 28-5-35-7-6zm7 28l6-39-5-14-6 18zm-5-35l6-18-5 11-6 39zm-7-6l7 6-5 32-7-27zm-339 101l7-10-5 11-7 31zm-6-14l6 14-5 32-6-36zm-5 10l6 36-5-35-6-15zm6 36l7-31-5-14-7 10zm339-122l7 27-5-35-7-6zm7 27l6-39-5-14-6 18zm-5-35l6-18-5 11-6 39zm-352 80l6 15-5 31-6-35zm-12 42l7-31-6-14-6 10zm7-31l6 35-5-35-7-14zm352-59l6-39-5-14-6 18zm6-39l7 27-5-35-7-6zm-5-14l7 6-5 31-7-27zm-6 18l6-18-5 10-6 39zm-353 80l7 14-5 31-7-35zm-6 10l6-10-5 10-6 31zm-5 31l6-31-5-14-6 10zm6-31l7 35-5-35-7-14zm353-59l6-39-5-15-6 18zm6-39l7 27-5-35-7-7zm-5-15l7 7-5 31-7-28zm-6 18l6-18-5 10-6 39zm-353 81l7 14-5 31-7-36zm-6 10l6-10-5 9-6 32zm-5 31l6-32-5-14-6 10zm6-32l7 36-5-36-7-14zm353-59l6-39-5-15-6 19zm6-39l7 28-5-36-7-7zm-5-15l7 7-5 30-7-27zm-6 19l6-19-5 10-6 39zm-353 80l7 14-5 31-7-36zm-6 10l6-10-5 9-6 31zm-5 30l6-31-5-15-6 10zm6-31l7 36-5-36-7-15zm353-59l6-39-5-15-7 18zm6-39l7 27-5-35-7-7zm-5-15l7 7-5 30-7-28zm-7 18l7-18-5 9-7 39zm-352 80l7 15-5 30-7-35zm-6 10l6-10-5 10-6 31zm1 0l7 35-5-36-7-15zm352-60l7-39-5-15-7 18zm-5-36l7-18-5 9-7 39zm-6-6l6 6-5 30-6-27zm-339 101l7-10-6 9-6 31zm-7-15l7 15-5 30-7-36zm-5 9l7 36-5-37-7-14zm7 36l6-31-5-16-6 10zm339-122l6 27-5-37-6-6zm6 27l7-39-5-16-7 18zm-5-37l7-18-5 9-7 39zm-6-6l6 6-5 30-6-28zm-339 101l6-10-5 8-6 32zm-7-14l7 14-5 30-7-36zm-5 8l7 36-5-37-7-14zm7 36l6-32-5-16-6 11zm339-123l6 28-5-37-6-7zm6 28l7-39-5-16-7 18zm-11-44l6 7-5 30-6-28zm-339 102l6-11-5 9-6 31zm-5 29l6-31-5-16-6 10zm6-31l7 35-5-37-7-14zm326-52l7-39-5-16-7 17zm7-39l6 28-5-38-6-6zm-12 1l7-17-5 8-7 38zm-7-6l7 6-5 29-7-27zm-312 94l7-10-5 7-7 32zm-7-14l7 14-5 29-7-35zm-5 8l7 35-5-38-7-14zm7 35l7-32-5-16-7 10zm312-115l7 27-5-37-7-7zm7 27l7-38-5-17-7 18zm-12-44l7 7-5 29-7-28zm-312 94l7-10-5 7-7 32zm-5 29l7-32-5-16-7 11zm7-32l6 35-5-38-6-13zm299-45l6-38-5-17-6 17zm6-38l7 28-5-38-7-7zm-11 0l6-17-5 8-6 38zm-7-6l7 6-5 29-7-28zm-286 86l7-10-5 7-7 32zm-6-13l6 13-5 29-7-35zm-6 7l7 35-5-38-7-13zm7 35l7-32-5-17-7 11zm286-108l7 28-6-38-6-7zm7 28l6-38-5-17-7 17zm-19-28l7-17-5 7-7 38zm-6-7l6 7-5 28-6-29zm-260 80l7-11-5 7-7 32zm-6-14l6 14-5 28-6-35zm-5 7l6 35-5-39-6-13zm6 35l7-32-5-18-7 11zm260-102l6 29-5-39-7-7zm6 29l7-38-5-17-7 16zm-12-46l7 7-5 29-7-29zm-6 17l6-17-5 7-6 38zm-7-8l7 8-5 28-7-29zm-232 73l6-11-5 7-6 32zm-7-13l7 13-5 28-7-34zm-7 11l7-11-5 7-7 32zm2-4l7 34-5-39-7-12zm7 34l6-32-5-18-6 11zm232-94l7 29-5-39-7-8zm7 29l6-38-5-18-6 17zm-19-30l7-17-5 7-7 37zm-6-8l6 8-5 27-6-29zm-206 66l6-12-5 7-6 32zm-7-13l7 13-5 27-7-33zm-5 7l7 33-5-38-7-13zm7 33l6-32-5-18-6 12zm6-32l7 33-5-39-7-12zm193-18l7-37-5-18-7 16zm7-37l6 29-5-39-6-8zm6 29l7-37-5-18-7 16zm-18-31l7-16-5 7-7 37zm-7-8l7 8-5 28-7-30zm-6 16l6-16-5 6-6 37zm-7-8l7 8-5 27-7-29zm-153 52l7-12-5 6-7 33zm-6-13l6 13-5 27-6-33zm-7 12l7-12-5 7-7 33zm-7-12l7 12-5 28-7-34zm9 7l6 33-5-39-6-12zm6 33l7-33-5-19-7 13zm7-33l7 33-5-40-7-12zm140-4l6-36-5-19-7 16zm6-36l7 29-5-39-7-9zm7 29l6-37-5-18-6 16zm-19-32l7-16-5 6-7 37zm-6-9l6 9-5 27-6-30zm-7 15l7-15-5 6-7 36zm-6-9l6 9-5 27-6-30zm-7 15l7-15-5 6-7 36zm-7-9l7 9-5 27-7-31zm-73 31l7-13-5 5-7 35zm-6-11l6 11-5 27-6-33zm-7 12l7-12-5 5-7 34zm-7-11l7 11-5 27-7-32zm-6 12l6-12-5 6-6 33zm-7-12l7 12-5 27-7-33zm8 6l7 32-5-39-7-12zm7 32l7-34-6-18-6 13zm7-34l6 33-5-40-7-11zm6 33l7-35-5-18-7 13zm7-35l6 33-5-40-6-11zm6 33l7-35-5-19-7 14zm7-35l7 32-5-40-7-11zm7 32l6-35-5-19-6 14zm6-35l7 32-5-40-7-11zm7 32l7-35-5-19-7 14zm7-35l6 31-5-40-6-10zm6 31l7-36-5-19-7 15zm7-36l7 31-5-40-7-10zm7 31l6-36-5-18-6 14zm6-36l7 31-5-40-7-9zm7 31l7-36-5-19-7 15zm7-36l6 30-5-39-6-10zm6 30l7-36-5-18-7 15zm-38-39l7 10-5 27-7-31zm-7 15l7-15-5 6-7 36zm-6-10l6 10-5 27-6-31zm-7 14l7-14-5 6-7 35zm-7-11l7 11-5 27-7-32zm-6 14l6-14-5 6-6 35zm-7-11l7 11-5 27-7-32zm-7 14l7-14-5 6-7 35z"/><path color="#f5ba3b" d="M745 1329l6 32-5-33-6-10zm6 32l7-35-5-11-7 13zm7-35l7 31-5-32-7-10zm7 31l6-35-5-11-6 14zm6-35l7 31-5-32-7-10zm7 31l7-35-5-11-7 14zm35-46l6-15-5 13-6 36zm-7-10l7 10-5 34-7-31zm-6 15l6-15-5 13-6 36zm-7-10l7 10-5 34-7-30zm-7 15l7-15-5 14-7 35zm-6-10l6 10-5 34-6-31zm-7 14l7-14-5 13-7 36zm-7-10l7 10-5 35-7-32zm-6 14l6-14-5 13-6 35zm-7-10l7 10-5 34-7-31zm-7 13l7-13-5 13-7 35zm-6-10l6 10-5 35-6-32zm-7 13l7-13-5 13-7 35zm-7-11l7 11-5 35-7-32zm-6 14l6-14-5 14-6 34zm-7-11l7 11-5 34-7-32zm-6 13l6-13-5 13-7 34zm-7-11l7 11-6 34-6-32zm-18 14l6 33-5-33-6-12zm6 33l7-34-5-12-7 13zm7-34l6 32-5-32-6-12zm6 32l7-34-5-11-7 13zm7-34l7 32-5-32-7-11zm7 32l6-34-5-11-6 13zm6-34l7 32-5-32-7-11zm60 17l7-35-5-11-7 14zm7-35l7 30-6-32-6-9zm7 30l6-36-5-11-7 15zm6-36l7 31-5-32-7-10zm7 31l6-36-5-11-6 15zm6-36l7 30-5-32-7-9zm7 30l7-36-5-12-7 16zm15-54l7 9-5 34-7-30zm-7 15l7-15-5 13-7 36zm-6-9l6 9-5 34-6-29zm-7 16l7-16-5 14-7 36zm-7-9l7 9-5 34-7-30zm-126 45l7-13-5 14-7 33zm-6-12l6 12-5 34-7-32zm-7 13l7-13-6 14-6 33zm-7-12l7 12-5 34-7-33zm-6 13l6-13-5 13-6 34zm-12 1l7 33-5-33-7-12zm7 33l6-34-5-11-6 12zm6-34l7 33-5-32-7-12zm7 33l6-33-5-12-6 13zm153-73l6 29-5-32-6-9zm6 29l7-36-5-12-7 16zm7-36l7 30-5-33-7-9zm7 30l6-37-5-12-6 16zm8-40l7-16-6 13-6 37zm-7-9l7 9-5 34-7-30zm-6 16l6-16-5 13-6 37zm-7-9l7 9-5 34-7-29zm-179 60l6-12-5 13-7 33zm-7-12l7 12-6 34-6-33zm-7 12l7-12-5 13-7 33zm-6-12l6 12-5 34-6-34zm-12 45l7-33-5-11-7 12zm7-33l6 34-5-33-6-12zm6 34l7-33-5-12-7 12zm206-88l7 30-5-33-7-8zm7 30l6-37-5-12-6 16zm6-37l7 29-5-33-7-8zm9-20l6 8-5 33-6-29zm-7 16l7-16-5 12-7 38zm-7-8l7 8-5 34-7-29zm-232 74l7-12-6 12-6 33zm-7-13l7 13-5 33-7-34zm-6 12l6-12-5 12-6 33zm-12 0l7 33-5-33-7-13zm7 33l6-33-5-12-6 12zm6-33l7 34-5-33-7-13zm7 34l6-33-5-11-6 11zm232-94l7 29-5-33-7-8zm7 29l7-38-5-12-7 17zm7-38l6 29-5-33-6-8zm6 29l7-37-5-12-7 16zm2-49l7 8-5 33-7-29zm-7 16l7-16-5 12-7 38zm-6-8l6 8-5 34-6-29zm-259 81l6-12-5 13-6 32zm-7-13l7 13-5 33-7-34zm-7 12l7-12-5 12-7 33zm-11-1l6 34-5-33-6-13zm6 34l7-33-5-12-7 12zm7-33l7 34-6-33-6-13zm272-38l7-38-5-12-7 17zm7-38l7 29-5-33-7-8zm7 29l6-38-5-12-6 17zm-5-33l6-17-5 12-6 38zm-7-8l7 8-5 33-7-29zm-286 88l7-12-5 13-7 32zm-6-13l6 13-5 33-6-34zm-12 44l7-32-6-13-6 11zm7-32l6 34-5-34-7-13zm6 34l7-32-5-13-7 11zm286-109l7 29-5-34-7-7zm7 29l6-38-5-13-6 17zm6-38l7 28-5-33-7-8zm2-5l6-17-5 12-6 38zm-7-8l7 8-5 33-7-29zm-312 95l6-11-5 12-6 32zm-7-13l7 13-5 33-7-34zm-5 12l7 34-5-34-7-13zm7 34l6-32-5-13-6 11zm312-116l7 29-5-34-7-7zm7 29l6-38-5-13-6 17zm1-51l7 7-5 33-7-29zm-6 17l6-17-5 11-6 39zm-326 74l7 13-5 33-7-35zm-7 11l7-11-5 11-7 32zm-11-2l6 34-5-34-6-13zm6 34l7-32-5-12-7 10zm7-32l7 35-5-34-7-13zm326-52l6-39-5-12-6 17zm6-39l7 29-5-34-7-7zm7 29l7-38-5-13-7 17zm-5-34l7-17-5 11-7 38zm-7-7l7 7-5 32-7-28zm-339 101l7-10-5 11-7 32zm-6-13l6 13-5 33-6-35zm-5 11l6 35-5-35-6-13zm6 35l7-32-5-13-7 10zm339-123l7 28-5-34-7-7zm7 28l7-38-5-14-7 18zm2-52l6 8-5 32-6-28zm-7 18l7-18-5 12-7 38zm-352 81l6 13-5 33-6-35zm-7 11l7-11-5 11-7 32zm-5 32l7-32-5-14-7 11zm7-32l6 35-5-35-6-14zm352-60l7-38-6-14-6 18zm7-38l6 28-5-35-7-7zm1-7l7-17-5 11-7 38zm-7-7l7 7-5 32-7-28zm-365 109l7-11-5 11-7 32zm-7-13l7 13-5 32-7-35zm-5 10l7 35-5-35-7-14zm7 35l7-32-5-13-7 10zm365-130l7 28-5-35-7-7zm7 28l7-38-5-14-7 17zm-5-35l7-17-5 10-7 39zm-7-7l7 7-5 32-7-28zm-365 109l7-10-5 10-7 32zm-7-14l7 14-5 32-7-35zm-5 11l7 35-5-35-7-14zm7 35l7-32-5-14-7 11zm365-130l7 28-5-35-7-7zm7 28l7-39-5-14-7 18zm-5-35l7-18-5 11-7 38zm-7-7l7 7-5 31-7-27zm-365 109l7-11-5 11-7 31zm-7-14l7 14-5 31-7-35zm-5 10l7 35-5-35-7-14zm379-67l7-38-5-15-7 18zm2-53l6 8-5 31-6-28zm-7 18l7-18-5 11-7 38zm-379 88l7 14-5 31-7-35zm-6 11l6-11-5 10-6 32zm-5 31l6-32-5-14-7 10zm6-32l7 35-5-35-7-14zm379-67l7-38-5-15-7 18zm7-38l6 28-5-36-6-7zm-5-15l6 7-5 31-6-28zm-7 18l7-18-5 10-7 39zm-379 88l7 14-5 31-7-36zm-7 10l7-10-5 9-7 32zm-5 31l7-32-5-14-7 10zm7-32l7 36-5-36-7-14zm379-66l7-39-6-15-6 18zm7-39l6 28-5-36-7-7zm-6-15l7 7-5 31-7-28zm-6 18l6-18-5 10-6 38zm-379 88l7 14-5 30-7-35zm-7 10l7-10-5 9-7 32zm-5 31l7-32-5-15-7 11zm7-32l7 35-5-36-7-14zm379-67l6-38-5-15-6 18zm6-38l7 28-5-36-7-7zm-11 3l6-18-5 9-6 39zm-379 87l7 14-5 31-7-35zm-5 10l7 35-5-36-7-14zm7 35l6-31-5-16-6 11zm365-130l7 28-5-36-7-7zm7 28l6-39-5-15-6 18zm-5-36l6-18-5 9-6 39zm-7-7l7 7-5 30-7-28zm-365 109l6-11-5 9-6 32zm-7-14l7 14-5 30-7-35zm-5 9l7 35-5-37-7-14zm7 35l6-32-5-15-6 10zm365-130l7 28-5-37-7-7zm7 28l6-39-5-15-6 17zm-5-37l6-17-5 9-6 38zm-7-7l7 7-5 30-7-28zm-365 109l6-10-5 8-6 32zm-7-14l7 14-5 30-7-35zm-5 9l7 35-6-37-6-13zm7 35l6-32-5-15-7 10zm365-130l7 28-5-36-7-8zm7 28l6-38-5-16-6 18zm-12-44l7 8-5 29-7-28zm-7 18l7-18-5 9-7 39zm-352 81l7 14-5 29-7-35zm-7 10l7-10-5 8-7 32zm-5 30l7-32-5-16-7 11zm7-32l7 35-5-37-7-14zm352-59l7-39-5-16-7 17zm7-39l7 28-5-37-7-7zm-12 1l7-17-5 9-7 38zm-6-6l6 6-5 30-6-28zm-339 101l6-10-5 8-6 31zm-7-14l7 14-5 29-7-34zm-5 9l7 34-5-37-7-13zm7 34l6-31-5-17-6 11zm339-122l6 28-5-37-6-8zm6 28l7-38-5-16-7 17zm-5-37l7-17-5 8-7 38zm-6-8l6 8-5 29-6-28zm-7 18l7-18-5 9-7 38zm-326 73l7 14-5 29-7-34zm-6 11l6-11-5 9-6 31zm-7-13l7 13-5 29-7-34zm2 42l6-31-5-17-6 11zm6-31l7 34-5-37-7-14zm326-53l7-38-6-17-6 17zm7-38l6 28-5-37-7-8zm-12 0l6-17-5 8-6 38zm-7-7l7 7-5 29-7-28zm-312 95l7-11-6 7-6 32zm-7-14l7 14-5 28-7-34zm-5 8l7 34-5-37-7-13zm7 34l6-32-5-16-6 11zm312-115l7 28-5-38-7-7zm7 28l6-38-5-16-6 16zm-12-45l7 7-5 29-7-29zm-7 17l7-17-5 7-7 38zm-6-7l6 7-5 28-6-28zm-286 87l7-11-5 7-7 32zm-7-13l7 13-5 28-7-34zm-6 11l6-11-5 7-6 33zm1-4l7 34-5-38-7-13zm7 34l7-32-5-17-7 11zm286-108l6 28-5-38-6-7zm6 28l7-38-5-16-7 16zm-5-38l7-16-5 7-7 38zm-6-7l6 7-5 29-6-29zm-7 16l7-16-5 7-7 38zm-272 60l6 13-5 28-6-34zm-7 11l7-11-5 7-7 33zm-7-13l7 13-5 29-7-34zm2 42l7-33-5-17-7 12zm7-33l6 34-5-38-6-13zm6 34l7-32-5-17-7 11zm259-101l7 29-5-39-7-8zm7 29l7-38-5-17-7 16zm7-38l6 29-5-38-6-8zm-12-1l7-16-5 7-7 38zm-7-8l7 8-5 29-7-29zm-6 17l6-17-5 8-6 37zm-7-8l7 8-5 28-7-29zm-232 73l6-11-5 7-6 32zm-7-12l7 12-5 28-7-33zm-7 11l7-11-5 7-7 32zm-6-13l6 13-5 28-6-33zm1 41l7-32-5-18-7 12zm7-32l7 33-5-38-7-13zm7 33l6-32-5-18-6 12zm232-94l7 29-5-39-7-8zm7 29l6-37-5-18-6 16zm6-37l7 29-5-38-7-9zm-18-10l7 8-5 29-7-30zm-7 16l7-16-5 7-7 37zm-6-8l6 8-5 28-6-29zm-206 67l6-12-5 6-6 33zm-7-13l7 13-5 27-7-33zm-6 12l6-12-5 7-7 33zm1-5l7 33-5-38-7-12zm7 33l6-33-5-17-6 12zm6-33l7 34-5-39-7-12zm7 34l7-33-5-18-7 12zm179-81l7 30-5-39-7-9zm7 30l7-37-5-18-7 16zm7-37l6 29-5-38-6-9zm6 29l7-37-5-17-7 16zm-18-31l7-16-5 7-7 37zm-7-9l7 9-5 28-7-30zm-6 16l6-16-5 7-6 36zm-7-9l7 9-5 27-7-30zm-153 53l7-13-5 6-7 34zm-6-12l6 12-5 27-6-33zm-7 12l7-12-5 6-7 34zm-7-12l7 12-5 28-7-33zm2 40l7-34-5-18-7 13zm7-34l6 33-5-39-6-12zm6 33l7-34-5-17-7 12zm7-34l7 33-5-39-7-11zm7 33l6-33-5-19-6 13zm126-66l6 30-5-39-6-9zm6 30l7-37-5-18-7 16zm7-37l7 30-5-38-7-10zm7 30l6-36-5-18-6 16zm6-36l7 30-5-39-7-9zm-25 4l7-16-5 7-7 36zm-6-9l6 9-5 27-6-30zm-7 15l7-15-5 6-7 36zm-6-10l6 10-5 27-7-30zm-7 15l7-15-6 7-6 35zm-7-9l7 9-5 27-7-30zm-6 14l6-14-5 6-6 35zm-60 4l6 11-5 27-6-32zm-7 13l7-13-5 6-7 34zm-7-11l7 11-5 27-7-32zm-6 13l6-13-5 6-6 34zm-7-12l7 12-5 27-7-32zm-6 13l6-13-5 7-6 34zm-7-11l7 11-5 28-7-33zm8 5l7 32-5-39-7-11zm7 32l6-34-5-18-6 13zm6-34l7 32-5-39-7-11zm7 32l7-34-5-18-7 13zm7-34l6 32-5-39-6-11zm6 32l7-35-5-18-7 14zm7-35l7 32-5-39-7-11zm7 32l6-35-5-18-6 14zm6-35l7 32-5-40-7-10zm7 32l7-35-5-19-7 14zm7-35l6 31-5-39-6-11zm6 31l7-36-5-18-7 15zm7-36l7 31-5-39-7-10zm7 31l6-35-5-18-6 14zm6-35l7 30-5-39-7-9zm7 30l6-35-5-18-6 14zm6-35l7 30-5-39-7-9zm7 30l7-36-5-18-7 15zm-45-24l7-15-5 7-7 35zm-6-11l6 11-5 27-6-31zm-7 14l7-14-5 7-7 35zm-7-10l7 10-5 28-7-32zm-6 14l6-14-5 6-6 35zm-7-11l7 11-5 27-7-31z"/><path color="#fcbb3e" d="M742 1331l6 32-5-33-6-11zm6 32l7-35-5-12-7 14zm7-35l6 31-5-32-6-11zm6 31l7-34-5-12-7 14zm7-34l7 31-5-33-7-10zm7 31l6-35-5-12-6 14zm6-35l7 31-5-33-7-10zm7 31l7-35-5-12-7 14zm7-35l6 31-5-33-6-10zm6 31l7-35-5-12-7 14zm29-57l6 10-5 33-6-30zm-7 15l7-15-5 13-7 35zm-7-10l7 10-5 33-7-30zm-6 15l6-15-5 13-6 35zm-7-10l7 10-5 33-7-30zm-7 14l7-14-5 13-7 35zm-6-10l6 10-5 34-6-31zm-7 14l7-14-5 13-7 35zm-7-10l7 10-5 34-7-31zm-6 14l6-14-5 13-6 35zm-7-10l7 10-5 34-7-31zm-7 14l7-14-5 13-7 35zm-6-11l6 11-5 34-6-32zm-7 14l7-14-5 13-7 35zm-6-11l6 11-5 34-7-32zm-7 14l7-14-6 13-6 34zm-7-11l7 11-5 33-7-32zm-6 13l6-13-5 12-6 35zm-7-11l7 11-5 34-7-33zm-7 13l7-13-5 12-7 34zm-18 35l7-34-5-12-7 13zm7-34l6 32-5-32-6-12zm6 32l7-34-5-11-7 13zm7-34l7 33-5-33-7-11zm7 33l6-35-5-11-6 13zm6-35l7 32-5-32-7-11zm7 32l6-34-5-12-6 14zm6-34l7 32-5-33-7-11zm7 32l7-35-5-11-7 13zm47-46l6 31-5-32-6-10zm6 31l7-35-5-12-7 15zm7-35l7 30-5-32-7-10zm7 30l6-35-5-12-6 15zm6-35l7 30-5-32-7-10zm7 30l7-35-6-12-6 15zm7-35l6 30-5-33-7-9zm6 30l7-36-5-12-7 15zm7-36l6 30-5-33-6-9zm15-9l6-15-5 12-6 37zm-7-9l7 9-5 34-7-30zm-7 15l7-15-5 13-7 36zm-6-9l6 9-5 34-6-30zm-7 15l7-15-5 13-7 36zm-7-9l7 9-5 34-7-30zm-126 46l7-13-5 13-7 34zm-6-12l6 12-5 34-6-33zm-7 13l7-13-5 13-7 34zm-7-11l7 11-5 34-7-33zm-6 12l6-12-5 12-6 34zm-7-11l7 11-5 34-7-33zm-12 46l7-34-5-12-7 13zm7-34l7 33-5-33-7-12zm7 33l6-34-5-12-6 13zm6-34l7 33-5-33-7-12zm7 33l7-34-5-12-7 13zm153-74l6 30-5-33-6-9zm6 30l7-36-5-12-7 15zm7-36l7 30-5-33-7-9zm7 30l6-37-5-12-6 16zm6-37l7 30-5-33-7-9zm9-18l6 9-5 33-6-30zm-7 15l7-15-5 12-7 37zm-7-9l7 9-5 34-7-30zm-6 16l6-16-5 13-6 37zm-193 39l7 12-5 34-7-33zm-7 13l7-13-5 13-7 33zm-6-12l6 12-5 33-6-33zm-7 12l7-12-5 12-7 33zm-12 0l7 33-5-33-7-12zm7 33l7-33-5-12-7 12zm7-33l6 33-5-33-6-12zm6 33l7-33-5-12-7 12zm206-88l7 30-5-33-7-9zm7 30l7-37-5-12-7 16zm7-37l6 30-5-33-6-9zm6 30l7-37-5-12-7 16zm8-41l7-15-5 12-7 36zm-6-8l6 8-5 33-6-29zm-7 16l7-16-5 12-7 37zm-6-9l6 9-5 33-7-29zm-233 74l7-12-5 12-7 33zm-7-12l7 12-5 33-7-33zm-6 12l6-12-5 12-6 33zm-7-12l7 12-5 33-7-33zm-5 12l7 33-5-33-7-12zm7 33l6-33-5-12-6 12zm6-33l7 33-5-32-7-13zm246-32l7-37-5-12-7 16zm7-37l6 29-5-33-6-8zm6 29l7-36-5-13-7 16zm9-41l6-16-5 12-6 37zm-7-8l7 8-5 33-7-29zm-7 16l7-16-5 12-7 37zm-272 61l7 12-5 33-7-33zm-7 12l7-12-5 12-7 32zm-6-13l6 13-5 32-6-33zm-5 12l6 33-5-33-6-13zm6 33l7-32-5-13-7 12zm286-109l7 29-5-33-7-8zm7 29l6-37-5-12-6 16zm8-41l7-16-5 11-7 37zm-7-8l7 8-5 32-7-29zm-6 16l6-16-5 11-6 38zm-299 67l6 13-5 33-6-34zm-7 12l7-12-5 12-7 33zm-7-12l7 12-5 33-7-34zm-5 11l7 34-5-34-7-13zm7 34l7-33-5-12-7 11zm312-117l7 29-5-33-7-8zm7 29l7-37-6-13-6 17zm1-50l7 8-5 33-7-29zm-6 17l6-17-5 12-6 37zm-7-8l7 8-5 32-7-28zm-312 95l7-11-5 12-7 32zm-7-13l7 13-5 33-7-34zm-6 12l6-12-5 12-6 32zm-12-1l7 33-5-33-7-13zm7 33l6-32-5-13-6 12zm6-32l7 34-5-34-7-13zm326-54l6-37-5-13-6 17zm6-37l7 29-5-34-7-8zm7 29l7-38-5-13-7 17zm-5-34l7-17-5 12-7 37zm-7-8l7 8-5 32-7-28zm-338 103l6-12-5 12-6 32zm-7-13l7 13-5 32-7-34zm-12 43l7-32-5-13-7 11zm7-32l7 34-6-34-6-13zm7 34l6-32-5-13-7 11zm338-123l7 28-5-34-7-7zm7 28l7-37-5-13-7 16zm7-37l6 29-5-35-6-7zm1-6l7-16-5 11-7 37zm-6-7l6 7-5 32-6-28zm-7 16l7-16-5 11-7 38zm-352 82l6 13-5 32-6-34zm-7 11l7-11-5 11-7 32zm-6-13l6 13-5 32-6-34zm-5 11l6 34-5-34-7-13zm6 34l7-32-5-13-7 11zm366-130l6 28-5-34-6-7zm6 28l7-37-5-14-7 17zm-5-34l7-17-5 11-7 38zm-6-7l6 7-5 32-6-28zm-366 109l7-11-5 11-7 32zm-7-13l7 13-5 32-7-34zm-11 43l6-32-5-14-6 12zm6-32l7 34-5-34-7-14zm7 34l7-32-5-13-7 11zm366-130l6 28-5-34-6-8zm6 28l7-38-5-13-7 17zm7-38l7 29-6-35-6-7zm-5-13l6 7-5 32-6-28zm-7 17l7-17-5 11-7 38zm-379 88l7 14-5 32-7-35zm-6 12l6-12-5 11-6 32zm-12-3l7 34-5-34-7-14zm7 34l6-32-5-13-6 11zm6-32l7 35-5-35-7-13zm379-67l7-38-5-14-7 17zm7-38l6 28-5-35-6-7zm6 28l7-38-5-13-7 16zm-5-35l7-16-5 10-7 38zm-6-7l6 7-5 32-6-28zm-392 117l6-11-5 10-6 32zm-7-14l7 14-5 31-7-34zm-5 11l7 34-5-35-7-13zm7 34l6-32-5-14-6 11zm392-137l6 28-5-35-6-7zm6 28l7-38-5-14-7 17zm-5-35l7-17-5 11-7 38zm-6-7l6 7-5 32-6-29zm-392 116l6-11-5 11-6 32zm-7-13l7 13-5 32-7-35zm-5 10l7 35-5-35-7-14zm7 35l6-32-5-14-6 11zm392-138l6 29-5-35-6-8zm6 29l7-38-5-15-7 18zm2-53l7 8-5 31-7-28zm-7 18l7-18-5 11-7 38zm-6-8l6 8-5 31-6-28zm-392 117l6-11-5 10-6 32zm-7-14l7 14-5 31-7-34zm-7 11l7-11-5 11-7 32zm-5 32l7-32-5-15-7 11zm7-32l7 34-5-35-7-14zm7 34l6-32-5-14-6 11zm392-137l6 28-5-35-6-8zm6 28l7-38-5-15-7 18zm7-38l7 28-5-35-7-8zm-5-15l7 8-6 31-6-29zm-7 18l7-18-5 10-7 39zm-405 95l7 14-5 31-7-35zm-7 11l7-11-5 10-7 32zm-5 31l7-32-5-14-7 11zm7-32l7 35-6-36-6-13zm405-74l7-39-5-14-7 17zm7-39l6 29-5-36-6-7zm-5-14l6 7-5 31-6-28zm-7 17l7-17-5 10-7 38zm-405 96l6 13-5 31-6-34zm-7 11l7-11-5 10-7 32zm-5 31l7-32-5-15-7 11zm7-32l6 34-5-36-6-13zm405-75l7-38-5-15-7 17zm7-38l6 28-5-35-6-8zm-5-15l6 8-5 30-6-28zm-7 17l7-17-5 10-7 38zm-405 96l6 13-5 31-6-34zm-7 11l7-11-5 10-7 32zm-5 31l7-32-5-15-7 11zm7-32l6 34-5-36-6-13zm405-75l7-38-5-15-7 17zm7-38l6 28-5-36-6-7zm-5-15l6 7-5 31-6-29zm-7 17l7-17-5 9-7 38zm-7-7l7 7-5 30-7-28zm-392 116l7-11-5 10-7 32zm-6-13l6 13-5 31-6-35zm-7 11l7-11-5 9-7 32zm-5 30l7-32-5-15-7 11zm7-32l6 35-5-37-6-13zm6 35l7-32-5-15-7 10zm392-138l7 28-5-36-7-7zm7 28l7-38-5-15-7 17zm7-38l6 29-5-36-6-8zm-12 2l7-17-5 9-7 38zm-7-7l7 7-5 30-7-28zm-392 116l7-10-5 9-7 32zm-6-13l6 13-5 31-6-35zm-5 9l6 35-5-37-6-13zm6 35l7-32-5-16-7 11zm392-138l7 28-5-36-7-7zm7 28l7-38-5-15-7 17zm-5-36l7-17-5 9-7 38zm-7-7l7 7-5 30-7-28zm-392 116l7-11-5 9-7 32zm-6-13l6 13-5 30-6-34zm-5 9l6 34-5-36-6-13zm6 34l7-32-5-15-7 11zm392-137l7 28-5-36-7-8zm7 28l7-38-5-15-7 17zm-5-36l7-17-6 9-6 38zm-7-8l7 8-5 30-7-29zm-6 18l6-18-5 9-6 38zm-379 88l6 13-5 30-6-34zm-7 11l7-11-5 9-7 32zm-6-13l6 13-5 30-6-34zm1 43l7-32-5-16-7 11zm7-32l6 34-5-37-6-13zm379-68l6-38-5-16-6 17zm6-38l7 29-5-37-7-8zm-5-16l7 8-5 30-7-29zm-6 17l6-17-5 9-7 38zm-7-7l7 7-6 30-6-28zm-366 109l7-11-5 9-7 32zm-6-13l6 13-5 30-6-34zm-7 11l7-11-5 9-7 32zm2-2l6 34-5-37-6-13zm6 34l7-32-5-16-7 11zm366-130l6 28-5-37-6-7zm6 28l7-38-5-16-7 17zm-5-37l7-17-5 9-7 38zm-6-7l6 7-5 30-6-29zm-366 109l7-11-5 8-7 32zm-6-13l6 13-5 29-6-34zm-5 8l6 34-5-37-6-12zm6 34l7-32-5-16-7 11zm7-32l7 34-5-37-7-13zm352-60l7-38-5-16-7 17zm7-38l6 29-5-37-6-8zm6 29l7-38-5-16-7 17zm-11-45l6 8-5 29-6-29zm-7 17l7-17-5 8-7 38zm-7-8l7 8-5 29-7-29zm-338 102l6-11-5 8-6 32zm-7-13l7 13-5 29-7-34zm-7 11l7-11-5 8-7 33zm2-3l7 34-5-37-7-13zm7 34l6-32-5-16-6 11zm338-123l7 29-5-38-7-7zm7 29l7-38-5-16-7 16zm-5-38l7-16-5 8-7 38zm-7-7l7 7-5 30-7-29zm-6 16l6-16-5 8-6 37zm-326 75l7 13-5 29-7-34zm-6 11l6-11-5 8-7 32zm-7-13l7 13-6 29-6-34zm1 42l7-32-5-17-7 12zm7-32l7 34-5-38-7-13zm7 34l6-33-5-17-6 12zm312-117l7 29-5-37-7-8zm7 29l6-37-5-17-6 17zm6-37l7 29-5-38-7-8zm-11 0l6-17-5 8-6 37zm-7-8l7 8-5 28-7-29zm-312 95l6-12-5 8-6 33zm-7-13l7 13-5 29-7-34zm-5 8l7 34-5-38-7-12zm7 34l6-33-5-17-6 12zm6-33l7 34-5-38-7-13zm299-46l7-38-5-16-7 16zm7-38l7 29-5-37-7-8zm7 29l6-37-5-16-6 16zm-19-29l7-16-5 7-7 38zm-6-8l6 8-5 29-6-30zm-286 88l7-12-5 8-7 33zm-7-13l7 13-5 29-7-34zm-5 8l7 34-5-38-7-12zm7 34l7-33-5-17-7 12zm7-33l6 33-5-38-6-12zm272-39l7-38-5-16-7 16zm7-38l6 30-5-38-6-8zm6 30l7-38-5-16-7 16zm-18-30l7-16-5 7-7 37zm-7-9l7 9-5 28-7-29zm-6 16l6-16-5 8-6 37zm-246 53l7 13-6 28-6-33zm-7 12l7-12-5 8-7 33zm-6-12l6 12-5 29-6-33zm-5 8l6 33-5-38-6-12zm6 33l7-33-5-17-7 12zm7-33l6 33-5-38-6-12zm6 33l7-33-5-17-7 12zm233-95l7 30-5-39-7-8zm7 30l6-37-5-17-6 15zm6-37l7 29-5-38-7-8zm7 29l7-37-5-17-7 16zm-18-31l6-15-5 7-6 37zm-7-8l7 8-5 29-7-30zm-7 16l7-16-5 7-7 37zm-6-9l6 9-5 28-6-30zm-206 67l6-12-5 7-6 33zm-7-12l7 12-5 28-7-33zm-7 12l7-12-5 7-7 33zm-6-12l6 12-5 28-6-33zm1 40l7-33-5-17-7 12zm7-33l7 33-5-38-7-12zm7 33l6-33-5-18-6 13zm6-33l7 33-5-39-7-12zm193-18l7-37-5-17-7 15zm7-37l6 30-5-39-6-8zm6 30l7-37-5-17-7 15zm7-37l7 30-5-38-7-9zm-18-10l6 8-5 29-6-30zm-7 15l7-15-5 7-7 36zm-7-9l7 9-5 28-7-30zm-6 16l6-16-5 7-6 36zm-7-10l7 10-5 27-7-30zm-153 53l7-12-5 6-7 34zm-6-12l6 12-5 28-6-33zm-7 13l7-13-5 7-7 34zm-7-12l7 12-5 28-7-33zm-6 13l6-13-5 7-6 34zm1-6l7 33-5-38-7-12zm7 33l7-34-5-17-7 13zm7-34l6 33-5-38-6-12zm6 33l7-34-5-17-7 13zm7-34l7 33-6-39-6-11zm7 33l6-34-5-18-7 13zm126-67l6 30-5-38-6-10zm6 30l7-36-5-17-7 15zm7-36l7 30-5-38-7-9zm7 30l6-36-5-17-6 15zm6-36l7 30-5-38-7-9zm7 30l7-36-5-17-7 15zm-25-41l7 9-5 28-7-30zm-7 15l7-15-5 7-7 36zm-6-10l6 10-5 28-6-31zm-7 15l7-15-5 7-7 36zm-7-9l7 9-5 28-7-31zm-6 14l6-14-5 6-6 36zm-7-9l7 9-5 28-7-31zm-6 14l6-14-5 6-7 36zm-7-10l7 10-6 28-6-31zm-47 25l7-14-5 7-7 34zm-6-11l6 11-5 27-6-32zm-7 13l7-13-5 6-7 35zm-7-11l7 11-5 28-7-32zm-6 13l6-13-5 7-6 34zm-7-11l7 11-5 28-7-32zm-7 13l7-13-5 7-7 34zm-6-11l6 11-5 28-6-32zm-7 13l7-13-5 7-7 34zm8 26l7-34-5-18-7 14zm7-34l7 32-5-38-7-12zm7 32l6-34-5-18-6 14zm6-34l7 32-5-39-7-11zm7 32l7-35-5-17-7 13zm7-35l6 32-5-39-6-10zm6 32l7-34-5-18-7 13zm7-34l7 31-5-39-7-10zm7 31l6-35-5-17-6 13zm6-35l7 32-5-39-7-10zm7 32l7-35-5-18-7 14zm7-35l6 31-5-39-6-10zm6 31l7-35-5-18-7 14zm7-35l6 31-5-39-6-10zm6 31l7-36-5-18-7 15zm7-36l7 31-5-39-7-10zm7 31l6-36-5-17-6 14zm6-36l7 31-5-39-7-9zm7 31l7-36-5-17-7 14zm7-36l6 31-5-39-6-9zm-39 7l7-15-5 7-7 36zm-6-10l6 10-5 28-6-31zm-7 14l7-14-5 7-7 35zm-6-10l6 10-5 28-7-31zm-7 14l7-14-6 7-6 35zm-7-10l7 10-5 28-7-32zm-6 13l6-13-5 6-6 35zm-7-10l7 10-5 28-7-31zm-7 13l7-13-5 7-7 34zm-6-10l6 10-5 28-6-31z"/><path color="#fec03b" d="M816 1315l7-15-5 12-7 36zm-6-11l6 11-5 33-6-31zm-7 15l7-15-5 13-7 35zm-7-11l7 11-5 33-7-31zm-6 14l6-14-5 13-6 35zm-7-10l7 10-5 34-7-32zm-6 14l6-14-5 12-6 35zm-7-11l7 11-5 33-7-32zm-7 14l7-14-5 12-7 35zm-6-11l6 11-5 33-6-31zm-32 18l7 32-5-33-7-11zm7 32l6-35-5-12-6 14zm6-35l7 32-5-33-7-11zm7 32l7-34-5-13-7 14zm7-34l6 31-5-33-6-11zm6 31l7-35-5-12-7 14zm7-35l7 32-6-33-6-11zm7 32l6-35-5-12-7 14zm6-35l7 32-5-34-7-10zm7 32l6-35-5-13-6 14zm6-35l7 31-5-33-7-11zm7 31l7-35-5-13-7 15zm7-35l6 31-5-33-6-11zm6 31l7-36-5-12-7 15zm7-36l7 31-5-33-7-10zm7 31l6-35-5-12-6 14zm6-35l7 31-5-34-7-9zm7 31l7-36-5-12-7 14zm22-44l6-14-5 12-7 35zm-7-9l7 9-6 33-6-30zm-7 15l7-15-5 12-7 36zm-6-10l6 10-5 33-6-31zm-7 14l7-14-5 12-7 36zm-7-9l7 9-5 34-7-31zm-6 14l6-14-5 12-6 36zm-7-10l7 10-5 34-7-31zm-7 15l7-15-5 13-7 35zm-6-11l6 11-5 33-6-31zm-7 15l7-15-5 13-7 35zm-7-11l7 11-5 33-7-31zm-6 14l6-14-5 13-6 35zm-7-10l7 10-5 34-7-31zm-7 14l7-14-5 13-7 34zm-6-11l6 11-5 33-6-31zm-7 14l7-14-5 13-7 35zm-6-11l6 11-5 34-6-32zm-7 14l7-14-5 13-7 34zm-7-11l7 11-5 33-7-32zm-6 14l6-14-5 12-6 35zm-7-11l7 11-5 33-7-32zm-7 13l7-13-5 12-7 34zm-6-11l6 11-5 33-6-32zm-7 13l7-13-5 12-7 34zm-7-11l7 11-5 33-7-32zm-11 46l6-34-5-13-6 14zm6-34l7 32-5-33-7-12zm7 32l7-34-5-12-7 13zm7-34l6 32-5-33-6-11zm6 32l7-34-5-12-7 13zm7-34l7 32-5-33-7-11zm7 32l6-35-5-11-6 13zm6-35l7 32-5-32-7-11zm7 32l7-34-5-12-7 14zm73-52l7 31-5-33-7-10zm7 31l6-36-5-12-6 15zm6-36l7 31-5-33-7-10zm7 31l7-36-5-12-7 15zm7-36l6 31-5-33-6-10zm6 31l7-36-5-12-7 15zm7-36l6 30-5-33-6-9zm6 30l7-35-5-13-7 15zm7-35l7 30-5-33-7-10zm15-9l7-15-5 12-7 36zm-7-9l7 9-5 33-7-30zm-6 15l6-15-5 12-6 36zm-7-10l7 10-5 33-7-31zm-7 15l7-15-5 12-7 36zm-6-9l6 9-5 33-6-30zm-7 15l7-15-5 12-7 36zm-139 25l6 11-5 33-6-32zm-7 13l7-13-5 12-7 34zm-7-12l7 12-5 33-7-32zm-6 14l6-14-5 13-6 34zm-7-12l7 12-5 33-7-33zm-7 13l7-13-5 12-7 34zm-6-11l6 11-5 33-6-33zm-12 45l7-34-5-12-7 13zm7-34l6 33-5-33-6-12zm6 33l7-34-5-12-7 13zm7-34l7 33-5-34-7-11zm7 33l6-34-5-12-6 12zm6-34l7 32-5-33-7-11zm166-12l7-36-5-12-7 15zm7-36l7 31-5-34-7-9zm7 31l6-36-5-13-6 15zm6-36l7 30-5-34-7-9zm7 30l7-36-5-13-7 15zm7-36l6 30-5-34-6-9zm8-19l7 9-5 33-7-30zm-7 15l7-15-5 12-7 36zm-6-9l6 9-5 33-6-30zm-7 15l7-15-5 12-7 36zm-7-9l7 9-5 33-7-30zm-206 68l7-13-5 12-7 34zm-6-12l6 12-5 33-6-33zm-7 13l7-13-5 12-7 34zm-7-12l7 12-5 33-7-33zm-6 13l6-13-5 12-6 33zm-12 0l7 32-5-33-7-12zm7 32l6-33-5-13-6 13zm6-33l7 33-5-34-7-12zm7 33l7-34-5-12-7 12zm7-34l6 33-5-33-6-12zm219-26l7-36-5-12-7 15zm7-36l6 30-5-33-6-9zm6 30l7-36-5-13-7 16zm7-36l7 30-5-34-7-9zm7 30l6-37-5-13-6 16zm8-41l6-15-5 11-6 37zm-7-9l7 9-5 33-7-30zm-6 16l6-16-5 12-7 37zm-7-9l7 9-6 33-6-30zm-7 16l7-16-5 12-7 37zm-246 53l7 12-5 33-7-33zm-6 13l6-13-5 12-6 34zm-7-12l7 12-5 33-7-33zm-7 12l7-12-5 12-7 33zm-6-11l6 11-5 33-6-33zm-5 11l6 33-5-34-6-12zm6 33l7-33-5-13-7 12zm7-33l7 33-5-34-7-12zm7 33l6-34-5-12-6 12zm259-103l6 30-5-34-6-8zm6 30l7-37-5-12-7 15zm7-37l7 30-5-34-7-8zm7 30l6-37-5-12-6 15zm8-41l7-15-5 11-7 37zm-7-8l7 8-5 33-7-30zm-6 15l6-15-5 11-6 37zm-7-8l7 8-5 33-7-29zm-286 88l7-12-5 12-7 33zm-6-12l6 12-5 33-6-33zm-7 13l7-13-5 12-7 33zm-7-12l7 12-5 32-7-33zm-5 11l7 33-5-34-7-12zm7 33l7-33-5-13-7 12zm7-33l6 33-5-33-6-13zm6 33l7-33-5-12-7 12zm286-109l7 29-5-34-7-8zm7 29l6-37-5-13-6 16zm6-37l7 30-5-34-7-9zm7 30l7-37-5-13-7 16zm8-41l7-16-5 11-7 37zm-6-9l6 9-5 32-6-29zm-7 16l7-16-5 12-7 37zm-7-9l7 9-5 33-7-30zm-312 96l7-12-5 12-7 33zm-7-12l7 12-5 33-7-33zm-6 12l6-12-5 12-6 33zm-7-12l7 12-5 33-7-34zm-5 11l7 34-5-34-7-13zm7 34l6-33-5-13-6 12zm6-33l7 33-5-34-7-12zm7 33l7-33-5-13-7 12zm312-117l7 30-5-34-7-8zm7 30l7-37-5-13-7 16zm7-37l6 29-5-34-6-8zm6 29l7-37-5-13-7 16zm2-50l6 8-5 33-6-30zm-7 16l7-16-5 11-7 37zm-6-8l6 8-5 32-6-29zm-339 103l6-12-5 11-6 33zm-7-13l7 13-5 32-7-33zm-7 12l7-12-5 12-7 33zm-11-1l6 34-5-35-6-12zm6 34l7-33-5-14-7 12zm7-33l7 33-5-34-7-13zm7 33l6-33-5-13-6 12zm339-124l6 29-5-34-7-8zm6 29l7-37-5-13-7 16zm7-37l6 30-5-35-6-8zm6 30l7-37-5-14-7 16zm-5-35l7-16-5 11-7 38zm-6-8l6 8-5 33-6-30zm-7 16l7-16-5 11-7 38zm-352 82l7 13-5 32-7-33zm-7 12l7-12-5 12-7 33zm-6-12l6 12-5 33-6-34zm-12 44l7-33-5-13-7 12zm7-33l6 34-5-35-6-12zm6 34l7-33-5-13-7 11zm366-132l6 30-5-35-6-8zm6 30l7-38-5-13-7 16zm7-38l7 30-5-35-7-8zm2-5l6-16-5 11-6 37zm-7-8l7 8-5 32-7-29zm-7 16l7-16-5 11-7 38zm-6-8l6 8-5 33-6-29zm-366 110l7-11-5 11-7 32zm-6-12l6 12-5 32-6-33zm-7 12l7-12-5 11-7 33zm-7-13l7 13-5 32-7-34zm-5 11l7 34-5-35-7-13zm7 34l7-33-5-14-7 12zm7-33l6 33-5-34-6-13zm378-68l7-38-5-13-7 16zm7-38l7 29-5-34-7-8zm7 29l6-37-5-13-6 16zm-5-34l6-16-5 10-6 38zm-7-8l7 8-5 32-7-29zm-392 117l7-12-5 11-7 33zm-7-13l7 13-5 32-7-34zm-11 44l6-33-5-13-6 11zm6-33l7 34-5-35-7-12zm7 34l7-33-6-13-6 11zm392-138l7 29-5-35-7-8zm7 29l6-38-5-13-6 16zm6-38l7 30-5-35-7-8zm2-5l6-16-5 10-6 38zm-7-8l7 8-5 32-7-29zm-6 16l6-16-5 11-6 37zm-7-8l7 8-5 32-7-29zm-392 117l6-11-5 11-6 32zm-7-12l7 12-5 32-7-34zm-6 11l6-11-5 10-6 33zm-7-12l7 12-5 32-7-34zm-5 10l7 34-6-35-6-12zm7 34l6-33-5-13-7 11zm6-33l7 34-5-34-7-13zm406-75l6-37-5-14-7 16zm6-37l7 29-5-35-7-8zm7 29l6-38-5-14-6 17zm-5-35l6-17-5 11-6 37zm-7-8l7 8-5 31-7-29zm-7 16l7-16-5 10-7 38zm-405 97l7 13-5 31-7-34zm-7 11l7-11-5 10-7 33zm-6-12l6 12-5 32-6-34zm-5 10l6 34-5-35-6-13zm6 34l7-33-5-14-7 12zm419-146l7 29-5-35-7-7zm7 29l6-37-5-14-6 16zm1-51l7 8-5 31-7-29zm-6 16l6-16-5 10-6 38zm-7-7l7 7-5 32-7-29zm-419 124l7-12-5 11-7 32zm-6-13l6 13-5 31-6-34zm-7 12l7-12-5 10-7 33zm-5 31l7-33-5-14-7 12zm7-33l6 34-5-35-6-13zm6 34l7-32-5-14-7 11zm419-145l7 29-5-35-7-8zm7 29l6-38-5-14-6 17zm6-38l7 29-5-35-7-8zm-5-14l7 8-5 32-7-29zm-6 17l6-17-5 11-6 37zm-7-8l7 8-5 31-7-28zm-419 124l7-11-5 10-7 33zm-6-13l6 13-5 32-6-34zm-7 12l7-12-5 11-7 32zm-5 31l7-32-5-15-7 12zm7-32l6 34-5-36-6-13zm6 34l7-33-5-14-7 11zm419-145l7 28-5-35-7-8zm7 28l6-37-5-15-6 17zm6-37l7 29-5-36-7-8zm2-7l7-16-6 10-6 37zm-7-8l7 8-5 31-7-29zm-6 17l6-17-5 10-6 38zm-432 103l6 13-5 32-6-34zm-7 12l7-12-5 11-7 32zm-7-13l7 13-5 31-7-34zm-5 10l7 34-5-35-7-13zm7 34l7-32-5-15-7 12zm7-32l6 34-5-36-6-13zm432-83l6-38-5-14-6 17zm6-38l7 29-5-35-7-8zm7 29l6-37-5-14-6 16zm-5-35l6-16-5 10-6 37zm-7-8l7 8-5 31-7-29zm-6 17l6-17-5 10-7 38zm-432 103l6 13-5 31-6-34zm-7 12l7-12-5 10-7 33zm-7-13l7 13-5 31-7-34zm-5 10l7 34-5-36-7-13zm7 34l7-33-5-14-7 11zm7-33l6 34-5-35-6-13zm431-82l7-38-5-14-7 16zm7-38l7 29-5-36-7-7zm7 29l6-37-5-15-6 16zm-5-36l6-16-5 10-6 37zm-7-7l7 7-5 31-7-29zm-7 16l7-16-5 9-7 38zm-431 104l6 13-5 31-6-34zm-7 11l7-11-5 10-7 32zm-7-13l7 13-5 31-7-34zm-5 10l7 34-5-36-7-12zm7 34l7-32-6-15-6 11zm7-32l6 34-5-36-7-13zm431-83l7-38-5-14-7 17zm7-38l7 29-5-35-7-8zm7 29l6-37-5-15-6 17zm-5-35l6-17-5 10-6 37zm-7-8l7 8-5 30-7-29zm-7 17l7-17-5 9-7 38zm-432 103l7 13-5 31-7-34zm-6 11l6-11-5 10-6 32zm-7-12l7 12-5 31-7-34zm-5 9l7 34-5-36-7-13zm7 34l6-32-5-15-6 11zm6-32l7 34-5-36-7-13zm432-83l7-38-5-14-7 16zm7-38l7 29-5-36-7-7zm7 29l6-37-5-15-6 16zm-5-36l6-16-5 10-6 37zm-7-7l7 7-5 31-7-29zm-7 16l7-16-5 9-7 38zm-432 104l7 13-5 30-7-34zm-6 11l6-11-5 9-6 33zm-7-13l7 13-5 31-7-34zm-5 10l7 34-5-36-7-13zm7 34l6-33-5-15-6 12zm6-33l7 34-5-36-7-13zm432-82l7-38-5-15-7 17zm7-38l7 29-5-36-7-8zm7 29l6-37-5-15-6 16zm-12-44l7 8-5 30-7-29zm-7 17l7-17-5 9-7 38zm-6-8l6 8-5 30-6-29zm-419 124l7-11-5 9-7 33zm-7-13l7 13-5 31-7-34zm-6 12l6-12-5 10-6 32zm-5 30l6-32-5-16-6 12zm6-32l7 34-5-37-7-13zm7 34l7-33-5-15-7 11zm419-146l6 29-5-36-6-8zm6 29l7-38-5-15-7 17zm7-38l7 29-5-36-7-8zm-5-15l7 8-6 31-6-29zm-7 17l7-17-5 10-7 37zm-6-8l6 8-5 30-6-29zm-419 124l7-11-5 9-7 33zm-7-13l7 13-5 31-7-34zm-6 12l6-12-5 10-6 32zm-5 30l6-32-5-16-6 12zm6-32l7 34-5-37-7-13zm7 34l7-33-5-15-7 11zm419-146l6 29-5-36-6-8zm6 29l7-37-5-16-7 17zm7-37l6 29-5-37-6-8zm-12 1l7-17-5 9-7 38zm-6-8l6 8-5 30-7-29zm-419 124l7-11-5 9-7 32zm-7-13l7 13-5 30-7-33zm-5 10l7 33-5-36-7-13zm7 33l7-32-6-16-6 12zm7-32l6 34-5-37-7-13zm405-75l6-38-5-16-6 17zm6-38l7 29-5-37-7-8zm7 29l7-38-5-15-7 16zm-5-37l7-16-5 9-7 37zm-7-8l7 8-5 30-7-29zm-6 17l6-17-5 9-6 38zm-406 96l7 13-5 30-7-34zm-6 12l6-12-5 9-6 33zm-7-13l7 13-5 30-7-34zm-5 9l7 34-5-37-7-12zm7 34l6-33-5-15-6 11zm6-33l7 34-5-37-7-12zm7 34l7-32-5-16-7 11zm392-138l7 29-5-37-7-8zm7 29l6-38-5-15-6 16zm6-38l7 29-5-36-7-8zm7 29l7-37-5-15-7 16zm-12-44l7 8-5 30-7-29zm-6 16l6-16-5 9-6 37zm-7-8l7 8-5 30-7-29zm-392 117l7-11-5 8-7 33zm-7-12l7 12-5 30-7-34zm-6 11l6-11-5 8-6 33zm1-3l7 34-5-37-7-12zm7 34l7-33-5-15-7 11zm392-138l7 29-5-37-7-8zm7 29l6-37-5-16-6 16zm-5-37l6-16-5 9-6 37zm-7-8l7 8-5 30-7-29zm-7 17l7-17-5 9-7 37zm-378 89l6 12-5 30-6-34zm-7 11l7-11-5 8-7 33zm-7-12l7 12-5 30-7-34zm-5 8l7 34-5-37-7-12zm7 34l7-33-5-16-7 12zm7-33l6 34-5-37-6-13zm6 34l7-33-5-16-7 12zm366-131l6 29-5-37-6-8zm6 29l7-37-5-16-7 16zm7-37l7 29-5-37-7-8zm7 29l6-37-5-16-6 16zm-12-45l7 8-5 30-7-30zm-7 16l7-16-5 8-7 37zm-6-8l6 8-5 29-6-29zm-366 110l7-12-5 8-7 33zm-6-13l6 13-5 29-6-33zm-7 12l7-12-5 9-7 33zm2-3l6 33-5-37-6-12zm6 33l7-33-5-16-7 12zm7-33l6 34-5-37-6-13zm352-60l7-38-5-16-7 16zm7-38l6 29-5-37-6-8zm6 29l7-37-5-16-7 16zm-5-37l7-16-5 9-7 37zm-6-8l6 8-5 30-6-30zm-7 16l7-16-5 8-7 37zm-7-8l7 8-5 29-7-29zm-339 103l7-12-5 8-7 33zm-6-13l6 13-5 29-6-33zm-7 12l7-12-5 9-7 33zm-6-12l6 12-5 30-7-34zm1 42l7-33-5-17-7 13zm7-33l6 33-5-37-6-13zm6 33l7-33-5-16-7 12zm339-124l7 29-5-37-7-8zm7 29l7-37-5-16-7 16zm7-37l6 30-5-37-6-9zm-12 0l7-16-5 8-7 37zm-7-8l7 8-5 29-7-29zm-6 16l6-16-5 8-6 37zm-7-8l7 8-5 29-7-30zm-312 95l6-12-5 8-6 33zm-7-12l7 12-5 29-7-33zm-7 12l7-12-5 8-7 33zm-6-13l6 13-5 29-6-33zm-5 9l6 33-5-37-6-12zm6 33l7-33-5-17-7 13zm7-33l7 33-5-37-7-13zm7 33l6-33-5-16-6 12zm312-117l7 30-5-38-7-8zm7 30l6-37-5-17-6 16zm6-37l7 29-5-37-7-9zm7 29l7-37-5-16-7 16zm-18-30l6-16-5 9-6 36zm-7-8l7 8-5 29-7-29zm-7 16l7-16-5 8-7 37zm-6-8l6 8-5 29-6-30zm-286 88l7-12-5 8-7 33zm-7-12l7 12-5 29-7-34zm-6 12l6-12-5 7-6 34zm-7-13l7 13-5 29-7-33zm-5 9l7 33-5-38-7-12zm7 33l6-34-5-16-6 12zm6-34l7 34-5-38-7-12zm7 34l7-33-5-17-7 12zm286-110l6 30-5-38-6-9zm6 30l7-37-5-17-7 16zm7-37l7 29-5-37-7-9zm7 29l6-36-5-17-6 16zm-19-30l7-16-5 8-7 37zm-6-9l6 9-5 29-6-30zm-7 16l7-16-5 8-7 37zm-7-8l7 8-5 29-7-30zm-259 81l7-12-5 7-7 34zm-6-12l6 12-5 29-7-33zm-7 12l7-12-6 8-6 33zm-7-12l7 12-5 29-7-33zm-5 8l7 33-5-38-7-11zm7 33l6-33-5-17-6 12zm6-33l7 33-5-38-7-12zm7 33l7-34-5-17-7 13zm7-34l6 33-5-38-6-12zm246-32l6-37-5-17-6 16zm6-37l7 30-5-38-7-9zm7 30l7-37-5-16-7 15zm7-37l6 30-5-38-6-8zm6 30l7-37-5-16-7 15zm-18-31l7-15-5 7-7 37zm-7-9l7 9-5 29-7-30zm-6 16l6-16-5 8-6 36zm-7-9l7 9-5 28-7-30zm-7 15l7-15-5 7-7 37zm-219 47l7 12-5 28-7-33zm-7 12l7-12-5 7-7 34zm-6-12l6 12-5 29-6-33zm-7 13l7-13-5 8-7 34zm-7-12l7 12-5 29-7-33zm2 41l7-34-5-17-7 13zm7-34l6 33-5-38-6-12zm6 33l7-34-5-17-7 13zm7-34l7 33-5-38-7-12zm7 33l6-34-5-17-6 13zm206-88l6 30-5-38-6-9zm6 30l7-37-5-17-7 16zm7-37l7 30-5-37-7-10zm7 30l6-36-5-17-6 16zm6-36l7 30-5-38-7-9zm-18-11l7 10-5 28-7-30zm-7 16l7-16-5 8-7 36zm-6-9l6 9-5 28-6-30zm-7 15l7-15-5 7-7 36zm-7-9l7 9-5 28-7-30zm-6 15l6-15-5 7-6 36zm-166 32l6 12-5 28-6-33zm-7 13l7-13-5 7-7 34zm-7-12l7 12-5 28-7-32zm-6 13l6-13-5 8-6 33zm-7-12l7 12-5 28-7-32zm-7 13l7-13-5 8-7 34zm2-5l7 32-5-37-7-12zm7 32l6-33-5-17-6 13zm6-33l7 32-5-38-7-11zm7 32l7-34-6-17-6 13zm7-34l6 33-5-39-7-11zm6 33l7-34-5-18-7 13zm7-34l6 32-5-38-6-12zm139-4l7-36-5-18-7 15zm7-36l7 30-5-38-7-10zm7 30l6-36-5-17-6 15zm6-36l7 30-5-38-7-9zm7 30l7-36-5-17-7 15zm7-36l6 30-5-38-6-9zm6 30l7-36-5-17-7 15zm-25-41l7 9-5 29-7-31zm-6 15l6-15-5 7-6 36zm-7-10l7 10-5 28-7-30zm-7 15l7-15-5 8-7 35zm-6-9l6 9-5 28-6-30zm-7 14l7-14-5 7-7 36zm-7-9l7 9-5 29-7-31zm-6 14l6-14-5 7-6 35zm-7-10l7 10-5 28-7-31zm-73 32l7-13-5 7-7 34zm-7-11l7 11-5 28-7-32zm-6 14l6-14-5 7-6 35zm-7-12l7 12-5 28-7-32zm-7 14l7-14-5 8-7 34zm-6-12l6 12-5 28-6-32zm-7 13l7-13-5 8-7 34zm-7-11l7 11-5 29-7-32zm-6 13l6-13-5 8-6 34zm1-5l7 32-5-38-7-11zm7 32l7-34-5-17-7 13zm7-34l6 32-5-38-6-11zm6 32l7-34-5-17-7 13zm7-34l7 32-5-38-7-11zm7 32l6-35-5-17-6 14zm6-35l7 32-5-38-7-11zm7 32l7-34-5-18-7 14zm7-34l6 31-5-38-6-11zm6 31l7-34-5-18-7 14zm7-34l7 31-5-38-7-11zm7 31l6-35-5-17-6 14zm6-35l7 32-5-39-7-10zm7 32l6-35-5-18-6 14zm6-35l7 31-5-38-7-11zm7 31l7-35-5-18-7 15zm7-35l6 31-5-38-6-11zm6 31l7-36-5-17-7 15zm7-36l7 31-5-38-7-10zm7 31l6-35-5-17-6 14zm6-35l7 31-5-39-7-9zm7 31l7-36-5-17-7 14zm7-36l6 30-5-37-6-10zm6 30l7-35-5-17-7 15zm7-35l7 30-5-38-7-9zm7 30l6-36-5-16-6 14zm-32-28l7-14-5 7-7 36zm-7-9l7 9-5 29-7-31zm-6 14l6-14-5 7-6 35zm-7-10l7 10-5 28-7-31zm-7 15l7-15-5 7-7 36zm-6-11l6 11-5 28-6-31zm-7 15l7-15-5 8-7 35zm-7-11l7 11-5 28-7-31zm-6 14l6-14-5 8-6 35zm-7-10l7 10-5 29-7-32zm-6 14l6-14-5 7-7 35zm-7-11l7 11-6 28-6-31zm-7 14l7-14-5 8-7 34zm-6-11l6 11-5 28-6-31zm-7 14l7-14-5 8-7 34zm-7-11l7 11-5 28-7-32zm-6 14l6-14-5 7-6 35zm-7-11l7 11-5 28-7-32zm22 2l6 31-5-38-6-10zm6 31l7-34-5-17-7 13zm7-34l6 31-5-38-6-10zm6 31l7-35-5-17-7 14zm7-35l7 32-5-38-7-11zm7 32l6-35-5-17-6 14zm6-35l7 31-5-38-7-10zm7 31l7-35-5-17-7 14zm7-35l6 31-5-38-6-10zm6 31l7-36-5-16-7 14z"/><path color="#fec636" d="M772 1332l6 32-5-34-6-11zm6 32l7-35-5-13-7 14zm7-35l7 31-5-34-7-10zm7 31l6-35-5-12-6 13zm6-35l7 32-5-34-7-10zm7 32l7-35-5-13-7 14zm7-35l6 31-5-34-6-10zm6 31l7-35-5-13-7 14zm7-35l7 31-6-34-6-10zm7 31l6-35-5-13-7 14zm34-47l7-14-5 11-7 36zm-6-10l6 10-5 33-6-31zm-7 15l7-15-5 12-7 35zm-7-10l7 10-5 32-7-31zm-6 14l6-14-5 11-6 36zm-7-10l7 10-5 33-7-31zm-7 14l7-14-5 12-7 35zm-6-10l6 10-5 33-6-31zm-7 14l7-14-5 12-7 35zm-6-10l6 10-5 33-6-31zm-7 14l7-14-5 12-7 35zm-7-10l7 10-5 33-7-32zm-6 13l6-13-5 11-6 35zm-7-10l7 10-5 33-7-31zm-7 14l7-14-5 12-7 35zm-6-11l6 11-5 33-6-32zm-7 14l7-14-5 12-7 35zm-7-11l7 11-5 33-7-32zm-6 14l6-14-5 12-6 35zm-7-11l7 11-5 33-7-32zm-7 14l7-14-5 12-7 34zm-6-11l6 11-5 32-6-32zm-19 14l7 32-5-34-7-11zm7 32l7-35-5-12-7 13zm7-35l6 32-5-33-6-11zm6 32l7-34-5-13-7 14zm7-34l7 32-5-34-7-11zm7 32l6-35-5-13-6 14zm6-35l7 32-5-34-7-11zm7 32l7-35-5-13-7 14zm7-35l6 32-5-34-6-11zm6 32l7-35-5-13-7 14zm7-35l7 31-5-33-7-11zm7 31l6-35-5-12-6 14zm6-35l7 32-5-34-7-10zm7 32l7-35-6-13-6 14zm7-35l6 31-5-33-7-11zm6 31l7-35-5-13-7 15zm7-35l6 31-5-33-6-11zm6 31l7-35-5-13-7 15zm7-35l7 31-5-34-7-10zm7 31l6-36-5-12-6 14zm6-36l7 31-5-33-7-10zm7 31l7-35-5-13-7 15zm7-35l6 31-5-34-6-10zm6 31l7-36-5-12-7 14zm7-36l7 31-5-34-7-9zm7 31l6-36-5-12-6 14zm15-53l6 9-5 33-7-31zm-7 14l7-14-6 11-6 36zm-7-9l7 9-5 33-7-31zm-6 14l6-14-5 11-6 36zm-7-9l7 9-5 33-7-31zm-7 14l7-14-5 11-7 36zm-6-10l6 10-5 33-6-31zm-7 15l7-15-5 12-7 36zm-7-10l7 10-5 33-7-31zm-6 14l6-14-5 12-6 35zm-7-10l7 10-5 33-7-31zm-73 32l7-14-5 13-7 34zm-7-11l7 11-5 33-7-32zm-6 14l6-14-5 12-6 35zm-7-11l7 11-5 33-7-32zm-7 14l7-14-5 12-7 34zm-6-11l6 11-5 32-6-32zm-7 13l7-13-5 11-7 35zm-7-11l7 11-5 33-7-32zm-6 13l6-13-5 12-6 34zm-7-11l7 11-5 33-7-32zm-6 13l6-13-5 12-6 34zm-12 1l7 32-6-34-6-11zm7 32l6-34-5-13-7 13zm6-34l7 32-5-34-7-11zm7 32l6-34-5-13-6 13zm6-34l7 32-5-34-7-11zm7 32l7-35-5-12-7 13zm7-35l6 32-5-33-6-11zm6 32l7-34-5-12-7 13zm127-67l6 31-5-33-6-10zm6 31l7-36-5-12-7 15zm7-36l7 31-5-34-7-9zm7 31l6-36-5-12-6 14zm6-36l7 31-5-34-7-9zm7 31l6-36-5-13-6 15zm6-36l7 31-5-34-7-10zm7 31l7-36-5-13-7 15zm15-55l7 10-5 32-7-30zm-7 15l7-15-5 12-7 36zm-6-9l6 9-5 33-6-31zm-7 15l7-15-5 11-7 36zm-7-10l7 10-5 32-7-30zm-6 15l6-15-5 12-6 36zm-7-9l7 9-5 33-7-30zm-179 60l6-13-5 12-6 34zm-7-11l7 11-5 33-7-32zm-7 13l7-13-5 12-7 34zm-6-11l6 11-5 33-6-33zm-7 13l7-13-5 11-7 34zm-6-11l6 11-5 32-6-32zm-7 13l7-13-5 11-7 34zm-12 0l7 32-5-34-7-11zm7 32l7-34-6-13-6 13zm7-34l6 32-5-33-7-12zm6 32l7-34-5-12-7 13zm7-34l6 33-5-34-6-11zm6 33l7-34-5-13-7 13zm7-34l7 32-5-33-7-12zm193-19l6-36-5-12-6 15zm6-36l7 30-5-33-7-9zm7 30l7-36-5-12-7 15zm7-36l6 31-5-34-6-9zm6 31l7-36-5-13-7 15zm7-36l7 30-5-34-7-9zm7 30l6-36-5-13-6 15zm8-40l7-15-5 12-7 36zm-7-9l7 9-5 33-7-30zm-6 15l6-15-5 12-6 36zm-7-9l7 9-5 33-7-30zm-7 15l7-15-5 12-7 36zm-6-9l6 9-5 33-6-30zm-233 75l7-13-5 11-7 34zm-7-12l7 12-5 32-7-32zm-6 13l6-13-5 12-6 34zm-7-11l7 11-5 33-7-33zm-6 13l6-13-5 11-6 34zm-7-12l7 12-5 32-7-33zm-12 45l7-34-5-13-7 13zm7-34l7 33-6-34-6-12zm7 33l6-34-5-13-7 13zm6-34l7 33-5-34-7-12zm7 33l6-34-5-13-6 13zm6-34l7 32-5-33-7-12zm246-33l7-36-5-13-7 15zm7-36l7 30-5-34-7-9zm7 30l6-36-5-13-6 15zm6-36l7 30-5-34-7-9zm7 30l7-36-5-14-7 16zm7-36l6 30-5-34-6-10zm1-4l7-16-5 12-7 36zm-6-10l6 10-5 32-7-30zm-7 16l7-16-6 12-6 36zm-7-9l7 9-5 32-7-30zm-6 15l6-15-5 11-6 37zm-273 61l7 12-5 32-7-32zm-7 13l7-13-5 12-7 33zm-6-12l6 12-5 32-6-32zm-7 13l7-13-5 12-7 33zm-6-12l6 12-5 32-6-32zm-12 45l7-33-6-14-6 13zm7-33l6 32-5-34-7-12zm6 32l7-33-5-13-7 12zm7-33l6 32-5-34-6-11zm6 32l7-33-5-13-7 12zm286-110l7 30-5-34-7-9zm7 30l6-36-5-13-6 15zm6-36l7 30-5-34-7-9zm7 30l7-36-5-14-7 16zm7-36l6 30-5-35-6-9zm1-5l7-15-5 11-7 37zm-6-9l6 9-5 33-6-30zm-7 16l7-16-5 12-7 36zm-7-9l7 9-5 32-7-30zm-312 96l7-12-5 11-7 34zm-7-12l7 12-5 33-7-33zm-6 13l6-13-5 12-6 33zm-7-12l7 12-5 32-7-33zm-11 45l6-34-5-13-7 13zm6-34l7 33-5-34-7-12zm7 33l6-33-5-13-6 12zm6-33l7 33-5-34-7-12zm7 33l7-34-5-13-7 13zm312-118l7 30-5-34-7-8zm7 30l7-36-5-13-7 15zm7-36l6 30-5-35-6-8zm6 30l7-37-5-13-7 15zm7-37l7 30-5-34-7-9zm2-4l6-16-5 11-6 37zm-7-9l7 9-5 32-7-30zm-7 15l7-15-5 11-7 37zm-6-8l6 8-5 33-6-30zm-339 103l6-12-5 11-6 33zm-7-12l7 12-5 32-7-33zm-7 13l7-13-5 11-7 34zm-6-12l6 12-5 32-6-33zm-12 45l7-34-5-13-7 12zm7-34l6 33-5-34-6-12zm6 33l7-34-5-13-7 13zm7-34l7 33-5-34-7-12zm7 33l6-33-5-13-6 12zm339-124l6 30-5-34-6-9zm6 30l7-37-5-13-7 16zm7-37l7 30-5-34-7-9zm7 30l6-37-5-13-6 16zm6-37l7 30-5-34-7-9zm2-4l6-16-5 11-6 37zm-7-9l7 9-5 32-7-30zm-6 16l6-16-5 11-6 37zm-7-9l7 9-5 32-7-30zm-366 111l7-13-5 11-7 34zm-6-12l6 12-5 32-6-33zm-7 12l7-12-5 11-7 33zm-7-12l7 12-5 32-7-33zm-5 11l7 33-5-34-7-13zm7 33l7-33-5-14-7 13zm7-33l6 33-5-35-6-12zm6 33l7-34-5-13-7 12zm366-132l7 30-6-35-6-8zm7 30l6-37-5-13-7 15zm6-37l7 30-5-35-7-8zm7 30l6-37-5-13-6 15zm1-50l7 8-5 32-7-29zm-6 15l6-15-5 11-6 36zm-7-8l7 8-5 32-7-29zm-7 15l7-15-5 11-7 37zm-378 90l6 12-5 33-6-34zm-7 13l7-13-5 11-7 33zm-7-13l7 13-5 31-7-33zm-6 13l6-13-5 11-6 34zm-12-1l7 33-5-35-7-12zm7 33l6-34-5-13-6 12zm6-34l7 33-5-34-7-12zm7 33l7-33-5-13-7 12zm392-138l7 29-5-34-7-9zm7 29l6-36-5-14-6 16zm6-36l7 29-5-34-7-9zm7 29l7-36-5-14-7 16zm-5-34l7-16-5 11-7 36zm-7-9l7 9-5 31-7-29zm-6 16l6-16-5 11-6 37zm-7-9l7 9-5 32-7-30zm-392 118l7-12-5 11-7 33zm-7-12l7 12-5 32-7-33zm-6 12l6-12-5 11-6 33zm-7-12l7 12-5 32-7-33zm-5 11l7 33-5-35-7-12zm7 33l6-33-5-14-6 12zm6-33l7 33-5-34-7-13zm406-76l6-37-5-14-6 16zm6-37l7 29-5-34-7-9zm7 29l7-36-5-14-7 16zm2-50l6 9-5 31-6-29zm-7 16l7-16-5 11-7 37zm-7-9l7 9-5 32-7-30zm-418 125l6-12-5 11-6 33zm-7-12l7 12-5 32-7-33zm-7 12l7-12-5 11-7 33zm-11-1l6 33-5-35-6-12zm6 33l7-33-5-14-7 12zm7-33l7 33-5-35-7-12zm7 33l6-33-5-14-6 12zm418-146l7 30-5-35-7-8zm7 30l7-37-5-14-7 16zm7-37l6 29-5-35-6-8zm6 29l7-36-5-14-7 15zm-5-35l7-15-5 10-7 37zm-6-8l6 8-5 32-6-29zm-7 16l7-16-5 11-7 37zm-7-8l7 8-5 32-7-30zm-418 124l6-12-5 11-6 33zm-7-12l7 12-5 32-7-33zm-7 12l7-12-5 11-7 33zm-6-12l6 12-5 32-6-33zm-5 11l6 33-5-35-6-12zm6 33l7-33-5-14-7 12zm7-33l7 33-5-35-7-12zm432-83l7-37-6-14-6 16zm7-37l6 29-5-35-7-8zm6 29l7-37-5-14-7 16zm2-51l6 9-5 31-6-29zm-7 16l7-16-5 11-7 37zm-7-8l7 8-5 32-7-30zm-445 132l7-12-5 10-7 33zm-6-12l6 12-5 31-6-33zm-7 12l7-12-5 10-7 33zm-5 31l7-33-5-14-7 12zm7-33l6 33-5-35-6-12zm6 33l7-33-5-13-7 11zm445-153l7 30-5-35-7-9zm7 30l7-37-5-14-7 16zm7-37l6 29-5-35-6-8zm1-6l7-16-5 11-7 36zm-6-8l6 8-5 31-6-29zm-7 16l7-16-5 10-7 37zm-7-9l7 9-5 31-7-29zm-445 132l7-11-5 10-7 33zm-6-12l6 12-5 32-6-34zm-7 12l7-12-5 10-7 33zm-7-12l7 12-5 31-7-33zm-5 10l7 33-5-35-7-12zm7 33l7-33-6-14-6 12zm7-33l6 34-5-35-7-13zm6 34l7-33-5-14-7 12zm445-153l7 29-5-35-7-8zm7 29l7-37-5-14-7 16zm7-37l6 29-5-35-6-8zm6 29l7-36-5-15-7 16zm-5-35l7-16-5 11-7 37zm-6-8l6 8-5 32-6-30zm-7 16l7-16-5 10-7 37zm-459 111l7 13-5 31-7-33zm-6 12l6-12-5 11-6 33zm-7-12l7 12-5 32-7-34zm-5 10l7 34-5-36-7-12zm7 34l6-33-5-15-6 12zm6-33l7 33-5-35-7-13zm459-91l7-37-5-14-7 16zm7-37l6 30-5-36-6-8zm6 30l7-37-5-15-7 16zm-5-36l7-16-5 10-7 37zm-6-8l6 8-5 31-6-29zm-7 16l7-16-5 10-7 38zm-459 111l7 13-5 31-7-33zm-6 12l6-12-5 11-6 33zm-7-12l7 12-5 32-7-34zm-5 10l7 34-5-36-7-12zm7 34l6-33-5-15-6 12zm6-33l7 33-5-35-7-13zm459-90l7-38-5-14-7 16zm7-38l6 29-5-35-6-8zm6 29l7-37-5-14-7 16zm2-51l6 9-5 31-6-30zm-7 16l7-16-5 10-7 37zm-6-8l6 8-5 31-7-29zm-472 139l6-12-5 10-6 33zm-7-12l7 12-5 31-7-33zm-7 12l7-12-5 10-7 33zm-5 31l7-33-5-15-7 13zm7-33l7 33-5-35-7-13zm7 33l6-33-5-14-6 12zm471-160l7 29-5-35-7-8zm7 29l7-37-5-14-7 16zm7-37l6 30-5-36-6-8zm-5-14l6 8-5 31-6-29zm-7 16l7-16-5 10-7 37zm-7-8l7 8-5 31-7-29zm-471 139l6-12-5 10-6 33zm-7-13l7 13-5 31-7-34zm-7 13l7-13-5 10-7 33zm-5 30l7-33-5-14-7 12zm7-33l7 34-5-36-7-12zm7 34l6-33-5-15-6 12zm471-160l7 29-5-36-7-8zm7 29l7-37-5-15-7 16zm7-37l6 29-5-35-6-9zm-5-15l6 9-5 30-6-29zm-7 16l7-16-5 10-7 37zm-7-8l7 8-5 31-7-29zm-471 139l6-12-5 10-6 33zm-7-12l7 12-5 31-7-33zm-7 12l7-12-5 10-7 33zm-5 31l7-33-5-15-7 12zm7-33l7 33-5-36-7-12zm7 33l6-33-5-14-6 11zm471-160l7 29-5-36-7-8zm7 29l7-37-5-15-7 16zm7-37l6 29-5-35-6-9zm-5-15l6 9-5 30-6-29zm-7 16l7-16-5 10-7 37zm-7-8l7 8-5 31-7-29zm-471 139l6-11-5 9-6 33zm-7-12l7 12-5 31-7-33zm-7 12l7-12-5 10-7 33zm-5 31l7-33-5-15-7 12zm7-33l7 33-6-36-6-12zm7 33l6-33-5-15-7 12zm471-160l7 29-5-36-7-8zm7 29l7-37-5-15-7 16zm7-37l6 29-5-35-6-9zm-5-15l6 9-5 30-6-29zm-7 16l7-16-5 10-7 37zm-7-8l7 8-5 31-7-29zm-472 139l7-12-5 10-7 33zm-6-12l6 12-5 31-6-34zm-7 12l7-12-5 9-7 34zm-5 31l7-34-5-14-7 12zm7-34l6 34-5-36-6-12zm6 34l7-33-5-15-7 12zm472-160l7 29-5-36-7-8zm7 29l7-37-5-15-7 16zm7-37l6 29-5-36-6-8zm-12 1l7-16-6 9-6 37zm-7-8l7 8-5 30-7-29zm-6 16l6-16-5 9-6 37zm-459 111l7 13-5 30-7-33zm-7 12l7-12-5 10-7 32zm-6-12l6 12-5 30-6-33zm-5 9l6 33-5-36-6-12zm6 33l7-32-5-16-7 12zm7-32l7 33-5-36-7-13zm459-91l6-37-5-15-6 16zm6-37l7 29-5-36-7-8zm7 29l6-37-5-15-6 16zm-5-36l6-16-5 10-6 37zm-7-8l7 8-5 31-7-30zm-6 16l6-16-5 9-7 38zm-459 111l7 13-5 30-7-33zm-7 12l7-12-5 10-7 33zm-6-12l6 12-5 31-6-33zm-5 10l6 33-5-36-6-13zm6 33l7-33-5-15-7 12zm7-33l7 33-5-36-7-12zm458-90l7-38-5-15-7 16zm7-38l7 30-5-36-7-9zm7 30l6-37-5-15-6 16zm-5-36l6-16-5 9-6 37zm-7-9l7 9-5 30-7-29zm-7 16l7-16-5 10-7 37zm-6-8l6 8-5 31-6-30zm-445 132l6-12-5 10-6 32zm-7-12l7 12-5 30-7-33zm-7 12l7-12-5 9-7 33zm-6-13l6 13-5 30-6-33zm-5 10l6 33-5-36-6-12zm6 33l7-33-5-15-7 12zm7-33l7 33-5-36-7-12zm7 33l6-32-5-16-6 12zm445-153l6 30-5-37-6-8zm6 30l7-37-5-16-7 16zm7-37l7 29-5-36-7-9zm7 29l6-37-5-15-6 16zm-12-45l7 9-5 30-7-30zm-7 16l7-16-5 9-7 37zm-6-8l6 8-5 30-6-29zm-445 132l6-12-5 9-6 33zm-7-12l7 12-5 30-7-33zm-7 12l7-12-5 9-7 33zm-5 30l7-33-5-15-7 12zm7-33l7 33-6-36-6-12zm7 33l6-33-5-15-7 12zm445-153l6 29-5-36-6-8zm6 29l7-37-5-15-7 16zm7-37l7 30-5-36-7-9zm-12 1l7-16-5 9-7 37zm-6-8l6 8-5 30-6-29zm-7 16l7-16-5 9-7 37zm-432 104l7 12-5 30-7-33zm-7 12l7-12-5 9-7 33zm-6-12l6 12-5 30-6-33zm-5 9l6 33-5-37-6-12zm6 33l7-33-5-16-7 12zm7-33l7 33-5-36-7-13zm7 33l6-33-5-15-6 12zm418-145l7 29-5-37-7-8zm7 29l7-37-5-16-7 16zm7-37l6 29-5-36-6-9zm6 29l7-37-5-15-7 16zm-5-36l7-16-5 9-7 37zm-6-9l6 9-5 30-6-30zm-7 16l7-16-5 9-7 37zm-7-8l7 8-5 30-7-29zm-418 125l6-12-5 8-6 33zm-7-13l7 13-5 29-7-33zm-7 12l7-12-5 9-7 33zm-6-12l6 12-5 30-6-33zm1 42l7-33-5-15-7 12zm7-33l7 33-5-36-7-12zm7 33l6-33-5-15-6 12zm418-145l7 29-5-37-7-8zm7 29l7-37-5-16-7 16zm7-37l6 30-5-37-6-9zm-12 0l7-16-5 9-7 37zm-7-8l7 8-5 30-7-29zm-6 16l6-16-5 9-6 37zm-406 97l7 12-5 30-7-34zm-6 12l6-12-5 8-6 34zm-7-12l7 12-5 30-7-34zm-5 8l7 34-5-37-7-12zm7 34l6-34-5-15-6 12zm6-34l7 34-5-37-7-12zm7 34l7-33-5-16-7 12zm392-139l7 30-5-37-7-9zm7 30l6-37-5-16-6 16zm6-37l7 29-5-37-7-8zm7 29l7-37-5-15-7 15zm-5-37l7-15-6 9-6 36zm-7-8l7 8-5 30-7-29zm-6 16l6-16-5 9-6 36zm-7-9l7 9-5 29-7-29zm-392 118l7-12-6 8-6 33zm-7-12l7 12-5 29-7-33zm-6 12l6-12-5 8-6 34zm-7-12l7 12-5 30-7-33zm2 42l6-34-5-15-6 12zm6-34l7 33-5-36-7-12zm7 33l6-33-5-16-6 13zm6-33l7 34-5-37-7-13zm379-68l7-37-5-16-7 16zm7-37l7 29-5-37-7-8zm7 29l6-36-5-16-6 15zm6-36l7 29-5-36-7-9zm-11-1l6-15-5 9-7 36zm-7-8l7 8-6 30-6-30zm-7 16l7-16-5 8-7 37zm-6-9l6 9-5 29-6-30zm-366 111l7-13-5 9-7 33zm-7-13l7 13-5 29-7-33zm-6 13l6-13-5 9-6 33zm-7-12l7 12-5 29-7-33zm-5 8l7 33-5-36-7-12zm7 33l6-33-5-16-6 13zm6-33l7 33-5-37-7-12zm7 33l7-33-5-16-7 12zm366-132l6 30-5-37-6-9zm6 30l7-37-5-16-7 16zm7-37l6 30-5-37-6-9zm6 30l7-36-5-16-7 15zm-11-46l6 9-5 30-6-30zm-7 16l7-16-5 9-7 37zm-6-9l6 9-5 30-7-30zm-7 16l7-16-6 9-6 36zm-7-9l7 9-5 29-7-29zm-339 104l7-13-5 9-7 33zm-6-12l6 12-5 29-6-33zm-7 12l7-12-5 8-7 33zm-7-12l7 12-5 29-7-32zm-6 13l6-13-5 9-6 33zm1-4l7 32-5-36-7-12zm7 32l7-33-5-16-7 13zm7-33l6 33-5-37-6-12zm6 33l7-33-5-17-7 13zm339-124l7 29-5-37-7-9zm7 29l6-36-5-16-6 15zm6-36l7 30-5-37-7-9zm7 30l7-37-5-16-7 16zm-12-46l7 9-5 29-7-30zm-6 15l6-15-5 8-6 37zm-7-9l7 9-5 30-7-30zm-6 16l6-16-5 9-7 36zm-7-9l7 9-6 29-6-30zm-312 96l6-12-5 8-6 33zm-7-12l7 12-5 29-7-32zm-7 13l7-13-5 9-7 33zm-6-12l6 12-5 29-6-33zm-7 13l7-13-5 8-7 34zm2-5l6 33-5-37-6-12zm6 33l7-33-5-17-7 13zm7-33l7 32-5-37-7-12zm7 32l6-33-5-16-6 12zm312-117l6 30-5-37-6-9zm6 30l7-36-5-17-7 16zm7-36l7 30-5-38-7-9zm7 30l6-37-5-16-6 15zm-12-47l7 9-5 30-7-30zm-7 16l7-16-5 9-7 36zm-6-9l6 9-5 29-6-30zm-7 15l7-15-5 8-7 36zm-6-8l6 8-5 29-6-30zm-286 88l6-12-5 8-6 33zm-7-11l7 11-5 29-7-32zm-6 12l6-12-5 8-7 33zm-7-12l7 12-6 29-6-32zm-7 13l7-13-5 9-7 34zm2-4l6 32-5-37-6-11zm6 32l7-33-5-16-7 12zm7-33l7 32-5-37-7-11zm7 32l6-33-5-17-6 13zm6-33l7 33-5-38-7-12zm273-40l7-37-6-16-6 15zm7-37l6 30-5-37-7-9zm6 30l7-36-5-16-7 15zm7-36l6 30-5-37-6-9zm6 30l7-36-5-16-7 15zm-11-46l6 9-5 29-6-30zm-7 15l7-15-5 8-7 36zm-7-9l7 9-5 29-7-30zm-6 15l6-15-5 8-6 36zm-7-9l7 9-5 29-7-30zm-6 16l6-16-5 8-6 36zm-246 53l6 12-5 29-6-33zm-7 13l7-13-5 8-7 34zm-7-12l7 12-5 29-7-33zm-6 13l6-13-5 8-6 34zm-7-11l7 11-5 29-7-32zm-7 12l7-12-5 8-7 34zm2-4l7 32-5-37-7-11zm7 32l6-34-5-16-6 13zm6-34l7 33-5-37-7-12zm7 33l7-34-5-16-7 13zm7-34l6 33-5-38-6-11zm6 33l7-34-5-17-7 13zm233-96l7 30-6-37-6-10zm7 30l6-36-5-16-7 15zm6-36l7 30-5-37-7-9zm7 30l6-36-5-16-6 15zm6-36l7 30-5-37-7-9zm7 30l7-36-5-16-7 15zm-18-31l6-15-5 8-6 36zm-7-9l7 9-5 29-7-30zm-7 15l7-15-5 8-7 36zm-6-10l6 10-5 29-6-31zm-7 15l7-15-5 8-7 36zm-6-9l6 9-5 29-6-30zm-7 15l7-15-5 8-7 36zm-193 40l7 11-5 29-7-33zm-6 13l6-13-5 7-6 35zm-7-12l7 12-5 29-7-33zm-7 13l7-13-5 8-7 34zm-6-11l6 11-5 29-6-32zm-7 13l7-13-5 8-7 34zm-7-12l7 12-5 29-7-33zm2 41l7-34-5-16-7 13zm7-34l6 32-5-37-6-11zm6 32l7-34-5-16-7 13zm7-34l7 33-6-38-6-11zm7 33l6-35-5-16-7 13zm6-35l7 33-5-38-7-11zm7 33l6-34-5-17-6 13zm179-82l7 31-5-38-7-9zm7 31l7-36-6-17-6 15zm7-36l6 30-5-37-7-10zm6 30l7-36-5-16-7 15zm7-36l6 31-5-38-6-9zm6 31l7-36-5-17-7 15zm7-36l7 30-5-37-7-10zm-25 4l7-15-5 8-7 36zm-7-10l7 10-5 29-7-31zm-6 15l6-15-5 8-6 36zm-7-9l7 9-5 29-7-31zm-6 14l6-14-5 7-6 36zm-7-9l7 9-5 29-7-31zm-7 15l7-15-5 7-7 36zm-6-10l6 10-5 28-6-31zm-127 46l7-13-5 7-7 34zm-6-11l6 11-5 28-6-32zm-7 13l7-13-5 7-7 35zm-7-11l7 11-5 29-7-32zm-6 13l6-13-5 8-6 34zm-7-11l7 11-5 29-7-32zm-7 13l7-13-5 8-7 34zm-6-11l6 11-5 29-6-32zm1 40l7-34-5-17-7 14zm7-34l7 32-5-38-7-11zm7 32l6-34-5-17-6 13zm6-34l7 32-5-38-7-11zm7 32l7-35-5-16-7 13zm7-35l6 32-5-37-6-11zm6 32l7-34-5-17-7 14zm7-34l7 32-5-38-7-11zm7 32l6-35-5-16-6 13zm6-35l7 32-5-38-7-10zm7 32l7-34-5-17-7 13zm73-53l7 31-5-37-7-10zm7 31l6-35-5-17-6 15zm6-35l7 31-5-38-7-10zm7 31l7-36-5-16-7 14zm7-36l6 31-5-38-6-9zm6 31l7-36-5-16-7 14zm7-36l7 31-6-37-6-10zm7 31l6-36-5-16-7 15zm6-36l7 31-5-37-7-10zm7 31l6-36-5-16-6 15zm6-36l7 31-5-38-7-9zm-25 4l7-15-5 8-7 35zm-6-10l6 10-5 28-6-30zm-7 14l7-14-5 8-7 35zm-6-9l6 9-5 29-6-31zm-7 14l7-14-5 7-7 36zm-7-10l7 10-5 29-7-31zm-6 15l6-15-5 8-6 35zm-7-10l7 10-5 28-7-31zm-7 14l7-14-5 7-7 35zm-6-10l6 10-5 28-6-31zm-7 14l7-14-5 7-7 35zm-7-10l7 10-5 28-7-31zm-6 14l6-14-5 7-6 35zm-7-11l7 11-5 28-7-31zm-7 14l7-14-5 8-7 35zm-6-10l6 10-5 29-6-32zm-7 13l7-13-5 7-7 35zm-6-10l6 10-5 29-7-32zm-7 13l7-13-6 7-6 35zm-7-10l7 10-5 29-7-32zm-6 13l6-13-5 7-6 35zm-7-11l7 11-5 29-7-32zm-7 14l7-14-5 8-7 35zm-6-11l6 11-5 29-6-32zm-7 13l7-13-5 8-7 34zm-7-11l7 11-5 29-7-32zm9 6l6 32-5-38-6-11zm6 32l7-35-5-16-7 13zm7-35l7 32-5-38-7-10zm7 32l6-35-5-16-6 13zm6-35l7 32-5-38-7-10zm7 32l6-35-5-16-6 13zm6-35l7 32-5-38-7-10zm7 32l7-35-5-16-7 13zm7-35l6 32-5-38-6-10zm6 32l7-35-5-17-7 14zm7-35l7 31-5-37-7-11zm7 31l6-35-5-17-6 15zm6-35l7 31-5-37-7-11zm7 31l7-35-5-16-7 14zm7-35l6 31-5-37-6-10zm6 31l7-35-5-16-7 14zm7-35l7 31-5-37-7-10zm7 31l6-35-5-17-6 15zm6-35l7 31-5-38-7-10zm7 31l7-36-6-16-6 14zm7-36l6 31-5-37-7-10zm6 31l7-35-5-17-7 15zm-45-24l7-14-5 7-7 36zm-6-10l6 10-5 29-6-32zm-7 14l7-14-5 7-7 36zm-7-11l7 11-5 29-7-32zm-6 15l6-15-5 8-6 35zm-7-11l7 11-5 28-7-31zm-7 14l7-14-5 8-7 35zm-6-10l6 10-5 29-6-32zm-7 13l7-13-5 7-7 35zm-7-10l7 10-5 29-7-31z"/><path color="#fdcc32" d="M715 1348l7 32-5-34-7-11zm7 32l7-35-5-13-7 14zm7-35l6 32-5-34-6-11zm6 32l7-34-5-14-7 14zm7-34l7 31-5-34-7-11zm7 31l6-34-5-13-6 13zm6-34l7 31-5-34-7-10zm7 31l6-34-5-13-6 13zm6-34l7 31-5-34-7-10zm7 31l7-35-5-13-7 14zm7-35l6 32-5-34-6-11zm6 32l7-35-5-13-7 14zm7-35l7 32-5-34-7-11zm7 32l6-35-5-13-6 14zm6-35l7 31-5-34-7-10zm7 31l7-35-5-13-7 14zm7-35l6 31-5-34-6-10zm6 31l7-35-5-13-7 14zm7-35l7 31-5-34-7-10zm7 31l6-35-5-13-6 14zm6-35l7 31-5-34-7-10zm7 31l7-35-6-13-6 14zm7-35l6 31-5-34-7-10zm6 31l7-35-5-13-7 14zm7-35l6 31-5-34-6-10zm6 31l7-35-5-14-7 15zm7-35l7 31-5-35-7-10zm7 31l6-36-5-13-6 14zm6-36l7 31-5-34-7-10zm7 31l7-35-5-14-7 15zm8-39l7-14-5 11-7 35zm-6-10l6 10-5 32-6-31zm-7 15l7-15-5 11-7 36zm-7-10l7 10-5 32-7-31zm-6 14l6-14-5 11-6 36zm-7-10l7 10-5 33-7-31zm-7 15l7-15-5 12-7 35zm-6-10l6 10-5 32-6-31zm-7 14l7-14-5 11-7 36zm-7-10l7 10-5 33-7-31zm-6 14l6-14-5 12-6 35zm-7-10l7 10-5 33-7-31zm-6 14l6-14-5 12-6 35zm-7-10l7 10-5 33-7-31zm-7 14l7-14-5 12-7 35zm-6-10l6 10-5 33-6-31zm-7 14l7-14-5 12-7 35zm-7-10l7 10-5 33-7-32zm-6 14l6-14-5 11-6 35zm-7-11l7 11-5 32-7-31zm-7 14l7-14-5 12-7 35zm-6-11l6 11-5 33-6-32zm-7 14l7-14-5 12-7 35zm-7-10l7 10-5 33-7-32zm-6 13l6-13-5 11-6 35zm-7-10l7 10-5 33-7-32zm-6 13l6-13-5 11-7 35zm-7-11l7 11-6 33-6-32zm-7 14l7-14-5 12-7 34zm-6-11l6 11-5 32-6-32zm-7 14l7-14-5 11-7 35zm-7-11l7 11-5 32-7-32zm-6 13l6-13-5 11-6 34zm-7-11l7 11-5 32-7-32zm-18 14l6 32-5-34-6-11zm6 32l7-35-5-13-7 14zm7-35l7 32-5-34-7-11zm7 32l6-34-5-13-6 13zm6-34l7 32-5-34-7-11zm7 32l7-35-5-13-7 14zm7-35l6 32-5-34-6-11zm6 32l7-34-5-13-7 13zm7-34l6 32-5-34-6-11zm6 32l7-35-5-13-7 14zm7-35l7 32-5-34-7-11zm7 32l6-35-5-13-6 14zm6-35l7 32-5-34-7-11zm7 32l7-35-5-13-7 14zm73-53l7 31-5-34-7-10zm7 31l6-35-5-13-6 14zm6-35l7 31-5-34-7-10zm7 31l7-36-5-13-7 15zm7-36l6 31-5-34-6-10zm6 31l7-35-5-13-7 14zm7-35l7 31-5-34-7-10zm7 31l6-36-5-13-6 15zm6-36l7 31-5-34-7-10zm7 31l7-36-5-13-7 15zm7-36l6 31-5-34-6-10zm6 31l7-35-5-14-7 15zm7-35l7 30-5-34-7-10zm7 30l6-35-5-14-6 15zm8-39l6-15-5 11-6 36zm-7-10l7 10-5 32-7-31zm-6 15l6-15-5 11-7 36zm-7-10l7 10-6 32-6-30zm-7 15l7-15-5 12-7 35zm-6-10l6 10-5 32-6-30zm-7 15l7-15-5 12-7 35zm-7-10l7 10-5 32-7-31zm-6 15l6-15-5 11-6 36zm-7-10l7 10-5 32-7-31zm-153 53l7-13-5 11-7 35zm-6-11l6 11-5 33-7-32zm-7 14l7-14-6 12-6 34zm-7-11l7 11-5 32-7-32zm-6 13l6-13-5 11-6 34zm-7-11l7 11-5 32-7-32zm-7 14l7-14-5 11-7 35zm-6-11l6 11-5 32-6-32zm-7 13l7-13-5 11-7 34zm-7-11l7 11-5 32-7-32zm-18 13l7 32-5-34-7-11zm7 32l6-34-5-14-6 14zm6-34l7 32-5-34-7-12zm7 32l7-34-5-14-7 14zm7-34l6 32-5-34-6-12zm6 32l7-35-5-13-7 14zm7-35l7 32-5-34-7-11zm7 32l6-34-5-13-6 13zm6-34l7 32-5-34-7-11zm7 32l6-34-5-13-6 13zm179-82l7 31-5-34-7-9zm7 31l7-35-5-13-7 14zm7-35l6 30-5-34-6-9zm6 30l7-35-5-14-7 15zm7-35l6 30-5-34-6-10zm6 30l7-36-5-13-7 15zm7-36l7 31-5-34-7-10zm7 31l6-36-5-13-6 15zm6-36l7 31-5-34-7-10zm7 31l7-36-5-13-7 15zm8-40l7-14-5 10-7 36zm-6-9l6 9-5 32-6-30zm-7 15l7-15-5 11-7 36zm-7-10l7 10-5 32-7-31zm-6 15l6-15-5 11-6 36zm-7-10l7 10-5 32-7-31zm-7 15l7-15-5 11-7 36zm-6-10l6 10-5 32-6-30zm-7 15l7-15-5 12-7 36zm-219 47l7 11-5 33-7-32zm-7 14l7-14-5 12-7 34zm-6-12l6 12-5 32-6-32zm-7 14l7-14-5 12-7 34zm-7-12l7 12-5 32-7-32zm-6 14l6-14-5 12-6 34zm-7-11l7 11-5 32-7-32zm-7 13l7-13-5 11-7 34zm-6-11l6 11-5 32-6-33zm-5 10l6 33-5-35-6-11zm6 33l7-34-5-14-7 13zm7-34l7 32-5-35-7-11zm7 32l6-34-5-14-6 13zm6-34l7 32-5-34-7-12zm7 32l7-34-5-13-7 13zm7-34l6 32-5-34-6-11zm6 32l7-34-5-13-7 13zm233-96l6 30-5-34-6-9zm6 30l7-36-5-13-7 15zm7-36l7 31-5-34-7-10zm7 31l6-36-5-13-6 15zm6-36l7 31-5-35-7-9zm7 31l7-36-5-14-7 15zm7-36l6 30-5-34-6-10zm6 30l7-36-5-13-7 15zm9-39l6-15-5 10-6 36zm-7-10l7 10-5 31-7-30zm-7 15l7-15-5 11-7 36zm-6-10l6 10-5 32-6-30zm-7 15l7-15-5 12-7 36zm-7-9l7 9-5 33-7-31zm-6 15l6-15-5 11-6 36zm-273 61l7 12-5 32-7-32zm-6 13l6-13-5 12-6 34zm-7-11l7 11-5 33-7-33zm-7 13l7-13-5 11-7 34zm-6-11l6 11-5 32-6-32zm-7 13l7-13-5 11-7 34zm-7-11l7 11-5 32-7-32zm-11 45l6-34-5-14-6 13zm6-34l7 32-5-34-7-12zm7 32l7-34-5-13-7 13zm7-34l6 32-5-34-6-11zm6 32l7-34-5-13-7 13zm7-34l7 33-5-34-7-12zm7 33l6-34-5-13-6 13zm285-111l7 31-5-35-7-9zm7 31l7-36-5-14-7 15zm7-36l6 30-5-34-6-10zm6 30l7-36-5-13-7 15zm7-36l7 30-6-34-6-9zm7 30l6-36-5-13-7 15zm6-36l7 31-5-35-7-9zm2-4l6-15-5 11-6 36zm-7-9l7 9-5 32-7-30zm-7 15l7-15-5 11-7 36zm-6-9l6 9-5 32-6-30zm-7 15l7-15-5 11-7 36zm-6-10l6 10-5 32-6-30zm-313 97l7-13-5 11-7 34zm-6-11l6 11-5 32-6-32zm-7 13l7-13-5 11-7 34zm-7-12l7 12-5 32-7-33zm-6 13l6-13-5 11-6 34zm-7-11l7 11-5 32-7-32zm-12 45l7-34-5-14-7 13zm7-34l7 32-5-34-7-12zm7 32l6-34-5-13-6 13zm6-34l7 33-5-35-7-11zm7 33l7-34-5-14-7 13zm7-34l6 32-5-34-6-12zm325-55l7-36-5-14-7 16zm7-36l6 30-5-34-6-10zm6 30l7-36-5-14-7 16zm7-36l7 30-5-34-7-10zm7 30l6-36-5-13-6 15zm6-36l7 31-5-35-7-9zm2-4l7-15-5 11-7 36zm-7-9l7 9-5 32-7-31zm-6 15l6-15-5 10-6 37zm-7-10l7 10-5 32-7-31zm-7 16l7-16-5 11-7 37zm-6-10l6 10-5 32-6-30zm-339 104l7-13-5 12-7 33zm-7-11l7 11-5 32-7-32zm-6 13l6-13-5 11-6 34zm-7-12l7 12-5 32-7-33zm-7 13l7-13-5 11-7 34zm-6-11l6 11-5 32-6-33zm-12 44l7-34-5-13-7 13zm7-34l6 33-5-35-6-11zm6 33l7-34-5-13-7 12zm7-34l7 33-5-35-7-11zm7 33l6-34-5-14-6 13zm6-34l7 32-5-34-7-12zm352-62l7-37-5-13-7 15zm7-37l7 31-5-35-7-9zm7 31l6-37-5-13-6 15zm6-37l7 31-5-35-7-9zm7 31l7-36-5-14-7 15zm7-36l6 30-5-35-6-9zm1-5l7-15-5 11-7 36zm-6-9l6 9-5 32-6-30zm-7 15l7-15-5 11-7 36zm-7-9l7 9-5 32-7-30zm-6 15l6-15-5 11-6 36zm-7-9l7 9-5 32-7-30zm-365 111l6-13-5 11-6 34zm-7-11l7 11-5 32-7-33zm-7 12l7-12-5 10-7 34zm-6-11l6 11-5 32-6-32zm-7 13l7-13-5 11-7 33zm-7-12l7 12-5 31-7-32zm-5 11l7 32-5-34-7-12zm7 32l7-33-5-14-7 13zm7-33l6 32-5-34-6-12zm6 32l7-34-5-13-7 13zm7-34l7 33-6-34-6-12zm379-69l6-36-5-14-6 16zm6-36l7 30-5-35-7-9zm7 30l7-36-5-14-7 15zm7-36l6 30-5-35-6-9zm6 30l7-36-5-14-7 15zm8-41l7-15-5 11-7 36zm-6-9l6 9-5 32-6-30zm-7 15l7-15-5 11-7 36zm-6-9l6 9-5 32-6-30zm-7 15l7-15-5 11-7 36zm-7-9l7 9-5 32-7-30zm-392 119l7-13-5 11-7 34zm-6-12l6 12-5 32-6-33zm-7 13l7-13-5 11-7 33zm-7-12l7 12-5 31-7-32zm-6 13l6-13-5 11-6 34zm-7-11l7 11-5 32-7-33zm-5 10l7 33-5-35-7-12zm7 33l6-34-5-14-6 13zm6-34l7 32-5-34-7-12zm7 32l7-33-6-14-6 13zm7-33l6 33-5-35-7-12zm405-77l7-36-6-14-6 16zm7-36l6 30-5-35-7-9zm6 30l7-36-5-14-7 15zm7-36l6 30-5-35-6-9zm6 30l7-36-5-14-7 15zm2-50l7 9-5 32-7-31zm-7 15l7-15-5 10-7 37zm-6-9l6 9-5 32-6-30zm-7 15l7-15-5 11-7 36zm-7-9l7 9-5 32-7-30zm-418 126l6-13-5 11-6 34zm-7-12l7 12-5 32-7-33zm-6 13l6-13-5 11-6 33zm-7-12l7 12-5 31-7-32zm-7 13l7-13-5 11-7 34zm-5 32l7-34-5-14-7 13zm7-34l7 32-5-34-7-12zm7 32l6-33-5-14-6 13zm6-33l7 33-5-35-7-12zm7 33l6-34-5-14-6 13zm418-147l7 30-5-35-7-8zm7 30l7-36-5-14-7 15zm7-36l6 30-5-35-6-9zm6 30l7-37-5-13-7 15zm7-37l7 31-5-35-7-9zm2-4l6-16-5 11-6 36zm-7-9l7 9-5 31-7-30zm-7 15l7-15-5 10-7 37zm-6-9l6 9-5 32-6-30zm-7 15l7-15-5 11-7 36zm-432 105l7 12-5 32-7-33zm-6 13l6-13-5 11-7 33zm-7-12l7 12-6 31-6-32zm-7 13l7-13-5 11-7 33zm-6-12l6 12-5 31-6-32zm-5 11l6 32-5-35-6-11zm6 32l7-33-5-14-7 12zm7-33l6 32-5-34-6-12zm6 32l7-33-5-14-7 13zm446-153l6 30-5-35-6-9zm6 30l7-37-5-14-7 16zm7-37l7 30-5-35-7-9zm7 30l6-36-5-14-6 15zm1-50l7 9-5 31-7-30zm-6 15l6-15-5 10-6 37zm-7-9l7 9-5 32-7-30zm-7 16l7-16-5 11-7 36zm-6-9l6 9-5 31-6-29zm-446 133l7-13-5 11-7 33zm-6-12l6 12-5 31-6-33zm-7 12l7-12-5 10-7 34zm-6-11l6 11-5 32-7-33zm-7 12l7-12-6 10-6 34zm-5 32l6-34-5-14-6 13zm6-34l7 33-5-35-7-12zm7 33l7-34-5-14-7 13zm7-34l6 33-5-35-6-12zm6 33l7-33-5-14-7 12zm446-153l6 29-5-34-6-9zm6 29l7-36-5-14-7 16zm7-36l7 30-5-35-7-9zm7 30l6-37-5-14-6 16zm6-37l7 30-5-35-7-9zm2-5l6-15-5 10-6 37zm-7-9l7 9-5 32-7-30zm-6 16l6-16-5 11-7 36zm-7-9l7 9-6 31-6-29zm-7 16l7-16-5 11-7 36zm-458 111l6 12-5 32-6-33zm-7 13l7-13-5 11-7 33zm-7-12l7 12-5 31-7-33zm-6 13l6-13-5 10-6 34zm-7-12l7 12-5 31-7-33zm-5 10l7 33-5-35-7-12zm7 33l6-34-5-14-6 13zm6-34l7 33-5-35-7-12zm7 33l7-33-5-14-7 12zm472-160l6 29-5-35-6-8zm6 29l7-36-5-14-7 15zm7-36l7 30-5-35-7-9zm7 30l6-37-5-14-6 16zm1-51l7 9-5 32-7-30zm-6 16l6-16-5 11-6 36zm-7-9l7 9-5 31-7-30zm-7 15l7-15-5 10-7 37zm-6-8l6 8-5 32-6-30zm-472 139l7-12-5 11-7 33zm-7-12l7 12-5 32-7-33zm-6 13l6-13-5 11-6 33zm-7-12l7 12-5 31-7-32zm-7 13l7-13-5 11-7 33zm-5 31l7-33-5-15-7 13zm7-33l7 32-5-35-7-12zm7 32l6-33-5-14-6 12zm6-33l7 33-5-35-7-12zm7 33l7-33-5-14-7 12zm472-161l6 30-5-35-6-9zm6 30l7-37-5-14-7 16zm7-37l7 30-5-35-7-9zm7 30l6-36-5-15-6 16zm6-36l7 30-5-36-7-9zm-5-15l7 9-5 32-7-30zm-6 16l6-16-5 11-6 36zm-7-9l7 9-5 31-7-30zm-7 16l7-16-5 10-7 37zm-485 119l7 12-5 31-7-33zm-6 12l6-12-5 10-6 34zm-7-12l7 12-5 32-7-33zm-7 13l7-13-5 11-7 33zm-5 31l7-33-5-15-7 13zm7-33l7 33-5-36-7-12zm7 33l6-34-5-14-6 12zm6-34l7 33-5-35-7-12zm485-98l7-37-5-14-7 16zm7-37l7 30-5-35-7-9zm7 30l6-36-5-15-6 16zm6-36l7 30-5-36-7-9zm-5-15l7 9-5 32-7-30zm-6 16l6-16-5 11-6 36zm-7-9l7 9-5 31-7-29zm-498 147l6-12-5 10-6 34zm-7-12l7 12-5 32-7-33zm-7 13l7-13-5 11-7 33zm-5 31l7-33-5-15-7 13zm7-33l7 33-5-36-7-12zm7 33l6-34-5-14-6 12zm498-168l7 29-5-35-7-9zm7 29l6-36-5-15-6 16zm6-36l7 30-5-36-7-9zm-5-15l7 9-5 31-7-29zm-6 16l6-16-5 11-6 36zm-7-9l7 9-5 31-7-29zm-498 147l6-12-5 10-6 34zm-7-12l7 12-5 32-7-33zm-7 13l7-13-5 11-7 33zm-5 31l7-33-5-15-7 13zm7-33l7 33-6-36-6-12zm7 33l6-34-5-14-7 12zm498-168l7 29-5-35-7-9zm7 29l6-36-5-15-6 16zm6-36l7 29-5-35-7-9zm-5-15l7 9-5 31-7-30zm-6 16l6-16-5 10-7 37zm-7-9l7 9-6 31-6-30zm-499 147l7-12-5 10-7 33zm-6-12l6 12-5 31-6-33zm-7 13l7-13-5 10-7 34zm-5 31l7-34-5-14-7 12zm7-34l6 33-5-35-6-12zm6 33l7-33-5-14-7 12zm499-168l6 30-5-35-6-9zm6 30l7-37-5-14-7 16zm7-37l7 30-5-35-7-9zm-5-14l7 9-5 31-7-30zm-7 16l7-16-5 10-7 37zm-511 126l6 12-5 31-6-33zm-7 12l7-12-5 10-7 33zm-5 31l7-33-5-15-7 13zm7-33l6 33-5-35-6-13zm511-105l7-37-5-15-7 16zm7-37l7 30-5-36-7-9zm-5-15l7 9-5 31-7-30zm-7 16l7-16-5 10-7 37zm-511 126l6 13-5 30-6-33zm-7 13l7-13-5 10-7 34zm-5 31l7-34-5-14-7 12zm7-34l6 33-5-35-6-12zm511-105l7-37-5-14-7 16zm7-37l7 30-5-36-7-8zm-5-14l7 8-5 31-7-29zm-7 16l7-16-5 10-7 36zm-511 126l6 12-5 31-6-34zm-7 12l7-12-5 9-7 34zm-5 31l7-34-5-14-7 12zm7-34l6 34-5-36-6-12zm511-105l7-36-5-15-7 16zm7-36l7 29-5-35-7-9zm-5-15l7 9-5 30-7-29zm-7 16l7-16-5 10-7 36zm-511 126l6 12-5 31-6-33zm-7 12l7-12-5 10-7 33zm-5 31l7-33-5-15-7 12zm7-33l6 33-5-36-6-12zm511-106l7-36-5-15-7 16zm7-36l7 29-5-35-7-9zm-5-15l7 9-6 30-6-30zm-7 16l7-16-5 9-7 37zm-511 126l6 12-5 31-6-34zm-7 12l7-12-5 9-7 34zm-5 31l7-34-6-14-6 12zm7-34l6 34-5-36-7-12zm511-105l7-37-5-14-7 15zm7-37l6 30-5-36-6-8zm-5-14l6 8-5 31-6-30zm-7 15l7-15-5 9-7 37zm-6-8l6 8-5 31-7-30zm-499 147l7-12-5 9-7 33zm-7-12l7 12-5 30-7-33zm-6 12l6-12-5 9-6 34zm-5 31l6-34-5-15-6 13zm6-34l7 33-5-36-7-12zm7 33l7-33-5-15-7 12zm498-168l7 30-5-36-7-9zm7 30l7-37-5-15-7 16zm7-37l6 30-5-36-6-9zm-5-15l6 9-5 31-6-30zm-7 16l7-16-5 10-7 36zm-7-9l7 9-5 30-7-29zm-498 147l7-12-5 10-7 33zm-7-12l7 12-5 31-7-33zm-6 13l6-13-5 10-6 33zm-5 30l6-33-5-15-6 12zm6-33l7 33-5-36-7-12zm7 33l7-33-5-16-7 13zm498-168l7 29-5-36-7-8zm7 29l7-36-5-15-7 15zm7-36l6 30-5-36-6-9zm-5-15l6 9-5 30-6-30zm-7 15l7-15-5 9-7 37zm-7-8l7 8-5 31-7-30zm-498 147l7-13-5 10-7 33zm-7-12l7 12-5 30-7-33zm-6 12l6-12-5 9-6 34zm-5 31l6-34-5-15-6 13zm6-34l7 33-5-36-7-12zm7 33l7-33-5-15-7 12zm498-168l7 30-5-36-7-9zm7 30l7-37-5-15-7 16zm7-37l6 30-5-36-6-9zm-5-15l6 9-5 30-6-30zm-7 16l7-16-5 9-7 37zm-7-9l7 9-5 30-7-30zm-6 16l6-16-5 9-6 37zm-485 119l6 12-5 30-6-33zm-7 12l7-12-5 9-7 33zm-7-12l7 12-5 30-7-33zm-6 13l6-13-5 9-6 34zm-5 30l6-34-5-15-6 13zm6-34l7 33-5-36-7-12zm7 33l7-33-5-15-7 12zm7-33l6 33-5-36-6-12zm485-98l6-37-5-15-6 16zm6-37l7 30-5-36-7-9zm7 30l7-37-5-15-7 16zm7-37l6 30-5-36-6-9zm-5-15l6 9-5 31-6-30zm-7 16l7-16-5 10-7 36zm-7-9l7 9-5 30-7-30zm-6 16l6-16-5 9-6 37zm-7-9l7 9-5 30-7-30zm-472 140l7-12-5 9-7 33zm-6-12l6 12-5 30-6-33zm-7 12l7-12-5 9-7 33zm-7-12l7 12-5 30-7-32zm-6 13l6-13-5 10-6 33zm-5 30l6-33-5-15-6 12zm6-33l7 32-5-36-7-11zm7 32l7-33-6-15-6 12zm7-33l6 33-5-36-7-12zm6 33l7-33-5-16-7 13zm472-161l7 30-5-36-7-9zm7 30l6-37-5-15-6 16zm6-37l7 30-5-36-7-9zm7 30l7-36-5-15-7 15zm7-36l6 30-5-36-6-9zm-12 0l7-15-6 9-6 36zm-7-9l7 9-5 30-7-30zm-6 16l6-16-5 9-6 37zm-7-9l7 9-5 30-7-30zm-472 140l7-13-5 9-7 34zm-7-12l7 12-5 30-7-33zm-6 12l6-12-5 9-6 33zm-7-11l7 11-5 30-7-32zm-5 9l7 32-5-36-7-11zm7 32l6-33-5-15-6 12zm6-33l7 33-5-37-7-11zm7 33l7-34-5-15-7 12zm7-34l6 33-5-36-6-12zm458-90l7-37-5-15-7 15zm7-37l7 30-5-37-7-8zm7 30l6-37-5-15-6 15zm6-37l7 30-5-36-7-9zm7 30l6-36-5-15-6 15zm-12-45l7 9-5 30-7-30zm-6 15l6-15-5 9-7 36zm-7-8l7 8-6 30-6-29zm-7 15l7-15-5 9-7 36zm-6-9l6 9-5 30-6-30zm-446 133l7-12-5 8-7 34zm-6-12l6 12-5 30-6-33zm-7 12l7-12-5 9-7 34zm-7-11l7 11-5 31-7-33zm-6 12l6-12-5 9-6 33zm-5 30l6-33-5-16-6 13zm6-33l7 33-5-37-7-12zm7 33l7-34-5-15-7 12zm7-34l6 33-5-37-6-11zm6 33l7-34-5-15-7 12zm446-154l6 30-5-36-6-9zm6 30l7-36-5-16-7 16zm7-36l6 29-5-36-6-9zm6 29l7-36-5-15-7 15zm7-36l7 30-5-36-7-9zm-12 0l7-15-5 9-7 36zm-6-9l6 9-5 30-6-30zm-7 16l7-16-5 9-7 37zm-6-9l6 9-5 30-7-30zm-446 132l7-12-5 9-7 33zm-6-11l6 11-5 30-6-32zm-7 12l7-12-5 9-7 33zm-7-12l7 12-5 30-7-32zm-5 10l7 32-5-36-7-12zm7 32l7-33-5-16-7 13zm7-33l6 32-5-36-6-12zm6 32l7-33-5-16-7 13zm7-33l7 33-5-37-7-12zm432-84l6-36-5-16-6 16zm6-36l7 30-5-37-7-9zm7 30l7-37-5-15-7 15zm7-37l6 30-5-36-6-9zm6 30l7-36-5-15-7 15zm-11-45l6 9-5 30-6-30zm-7 15l7-15-5 9-7 36zm-7-9l7 9-5 30-7-30zm-6 16l6-16-5 9-6 36zm-7-9l7 9-5 29-7-29zm-418 125l6-12-5 8-7 34zm-7-12l7 12-6 30-6-33zm-7 13l7-13-5 9-7 34zm-6-12l6 12-5 30-6-33zm-7 13l7-13-5 9-7 34zm-5 30l7-34-5-15-7 13zm7-34l6 33-5-37-6-11zm6 33l7-34-5-15-7 12zm7-34l6 33-5-37-6-11zm6 33l7-34-5-15-7 12zm419-146l7 29-5-36-7-9zm7 29l6-36-5-16-6 16zm6-36l7 30-5-36-7-10zm7 30l7-36-5-16-7 16zm7-36l6 30-5-36-6-10zm-12 0l7-16-5 9-7 36zm-7-10l7 10-5 29-7-30zm-6 16l6-16-5 9-6 37zm-7-9l7 9-5 30-7-30zm-7 15l7-15-5 9-7 36zm-405 98l7 12-5 29-7-33zm-7 12l7-12-5 8-7 34zm-6-11l6 11-5 30-6-33zm-7 12l7-12-5 8-7 34zm-6-11l6 11-5 30-6-32zm-5 9l6 32-5-36-7-12zm6 32l7-34-5-15-7 13zm7-34l6 33-5-37-6-11zm6 33l7-34-5-15-7 12zm7-34l7 33-5-37-7-11zm7 33l6-33-5-16-6 12zm392-139l6 30-5-37-6-9zm6 30l7-36-5-16-7 15zm7-36l7 30-5-37-7-9zm7 30l6-37-5-15-6 15zm6-37l7 30-5-36-7-9zm7 30l7-36-5-15-7 15zm-18-30l6-15-5 9-6 36zm-7-9l7 9-5 30-7-30zm-7 15l7-15-5 9-7 36zm-6-9l6 9-5 30-6-30zm-7 16l7-16-5 9-7 36zm-379 90l7 12-5 29-7-33zm-6 12l6-12-5 8-6 34zm-7-11l7 11-5 30-7-33zm-7 12l7-12-5 8-7 34zm-6-11l6 11-5 30-6-32zm-5 9l6 32-5-36-6-12zm6 32l7-34-5-15-7 13zm7-34l7 33-5-37-7-11zm7 33l6-34-5-15-6 12zm6-34l7 33-5-37-7-11zm7 33l7-34-5-16-7 13zm365-132l7 30-5-37-7-9zm7 30l7-36-5-16-7 15zm7-36l6 30-5-37-6-9zm6 30l7-36-5-16-7 15zm7-36l7 30-5-37-7-9zm7 30l6-36-5-16-6 15zm-12-46l7 9-5 30-7-30zm-7 15l7-15-5 9-7 36zm-6-9l6 9-5 30-6-30zm-7 15l7-15-5 9-7 36zm-7-9l7 9-5 30-7-30zm-6 15l6-15-5 9-6 36zm-352 83l6 12-5 30-6-33zm-7 13l7-13-5 9-7 34zm-7-11l7 11-5 30-7-33zm-6 12l6-12-5 8-6 34zm-7-11l7 11-5 30-7-32zm-7 13l7-13-5 9-7 34zm2-4l7 32-5-37-7-11zm7 32l6-34-5-15-6 12zm6-34l7 33-5-37-7-11zm7 33l7-34-5-16-7 13zm7-34l6 33-5-37-6-12zm6 33l7-34-5-16-7 13zm339-125l7 30-5-37-7-9zm7 30l6-36-5-16-6 15zm6-36l7 30-5-37-7-9zm7 30l7-36-5-16-7 15zm7-36l6 30-5-37-6-9zm6 30l7-36-5-16-7 15zm-11-46l6 9-5 30-6-30zm-7 15l7-15-5 9-7 36zm-7-9l7 9-5 30-7-31zm-6 15l6-15-5 8-6 36zm-7-9l7 9-5 29-7-30zm-7 15l7-15-5 8-7 36zm-325 76l6 11-5 30-6-33zm-7 13l7-13-5 8-7 34zm-6-12l6 12-5 29-7-32zm-7 13l7-13-6 9-6 34zm-7-11l7 11-5 30-7-33zm-6 12l6-12-5 8-6 34zm1-4l7 33-5-37-7-11zm7 33l6-34-5-16-6 13zm6-34l7 32-5-37-7-11zm7 32l7-34-5-16-7 13zm7-34l6 33-5-37-6-12zm6 33l7-34-5-16-7 13zm313-118l6 30-5-37-6-9zm6 30l7-36-5-16-7 15zm7-36l7 30-5-36-7-10zm7 30l6-36-5-15-6 15zm6-36l7 31-5-37-7-9zm7 31l7-36-5-16-7 15zm-12-46l7 9-5 30-7-31zm-6 15l6-15-5 8-6 36zm-7-10l7 10-5 29-7-30zm-7 15l7-15-5 9-7 36zm-6-9l6 9-5 30-6-31zm-7 15l7-15-5 8-7 36zm-7-9l7 9-5 29-7-30zm-285 89l6-13-5 8-6 34zm-7-11l7 11-5 29-7-32zm-7 13l7-13-5 8-7 34zm-6-12l6 12-5 29-6-32zm-7 13l7-13-5 9-7 34zm-7-11l7 11-5 30-7-32zm-6 13l6-13-5 9-6 34zm1-4l7 32-5-37-7-11zm7 32l7-34-5-16-7 13zm7-34l6 32-5-37-6-11zm6 32l7-34-5-16-7 13zm7-34l7 32-5-37-7-11zm7 32l6-34-5-16-6 13zm6-34l7 33-5-37-7-12zm273-40l6-36-5-16-6 15zm6-36l7 30-5-37-7-9zm7 30l7-36-5-16-7 15zm7-36l6 31-5-37-6-10zm6 31l7-36-5-16-7 15zm7-36l7 30-5-37-7-9zm7 30l6-36-5-15-6 14zm-19-31l7-15-5 9-7 35zm-6-10l6 10-5 29-6-30zm-7 15l7-15-5 9-7 36zm-7-9l7 9-5 30-7-31zm-6 15l6-15-5 8-6 36zm-7-10l7 10-5 29-7-30zm-7 15l7-15-5 9-7 35zm-6-9l6 9-5 29-6-30zm-233 75l7-13-5 8-7 34zm-6-11l6 11-5 29-6-32zm-7 13l7-13-5 8-7 34zm-7-12l7 12-5 29-7-32zm-6 13l6-13-5 9-6 34zm-7-11l7 11-5 30-7-32zm-7 13l7-13-5 9-7 34zm-6-11l6 11-5 30-6-32zm-5 9l6 32-5-37-6-11zm6 32l7-34-5-16-7 13zm7-34l7 32-5-37-7-11zm7 32l6-34-5-16-6 13zm6-34l7 32-5-37-7-11zm7 32l7-34-6-16-6 13zm7-34l6 32-5-37-7-11zm6 32l7-34-5-16-7 13zm7-34l6 32-5-37-6-11zm219-26l7-36-5-16-7 14zm7-36l6 30-5-37-6-9zm6 30l7-35-5-17-7 15zm7-35l7 30-5-37-7-10zm7 30l6-36-5-16-6 15zm6-36l7 31-5-37-7-10zm7 31l7-36-5-16-7 15zm7-36l6 30-5-36-6-10zm6 30l7-35-5-16-7 15zm-18-31l7-15-5 9-7 35zm-7-10l7 10-5 29-7-30zm-6 15l6-15-5 9-6 36zm-7-10l7 10-5 30-7-31zm-7 15l7-15-5 9-7 36zm-6-9l6 9-5 30-6-31zm-7 14l7-14-5 8-7 36zm-7-9l7 9-5 30-7-31zm-6 15l6-15-5 8-6 36zm-7-10l7 10-5 29-7-31zm-179 60l6-13-5 8-6 35zm-7-11l7 11-5 30-7-32zm-7 14l7-14-5 9-7 34zm-6-11l6 11-5 29-6-32zm-7 13l7-13-5 8-7 34zm-7-11l7 11-5 29-7-32zm-6 13l6-13-5 8-6 34zm-7-11l7 11-5 29-7-32zm-6 13l6-13-5 8-6 35zm-7-11l7 11-5 30-7-33zm8 6l7 32-5-37-7-11zm7 32l6-34-5-16-6 13zm6-34l7 32-5-37-7-11zm7 32l7-34-5-16-7 13zm7-34l6 32-5-37-6-11zm6 32l7-34-5-17-7 14zm7-34l7 32-5-38-7-11zm7 32l6-35-5-16-6 13zm6-35l7 32-5-37-7-11zm7 32l7-34-5-17-7 14zm153-74l6 30-5-37-6-10zm6 30l7-35-5-16-7 14zm7-35l7 31-5-38-7-9zm7 31l6-36-5-16-6 14zm6-36l7 31-5-38-7-9zm7 31l7-36-5-16-7 14zm7-36l6 31-5-37-6-10zm6 31l7-36-5-16-7 15zm7-36l7 31-5-37-7-10zm7 31l6-36-5-16-6 15zm-19-32l7-15-5 8-7 36zm-6-10l6 10-5 29-6-31zm-7 14l7-14-5 8-7 36zm-7-9l7 9-5 30-7-31zm-6 14l6-14-5 8-6 36zm-7-9l7 9-5 30-7-31zm-7 14l7-14-5 8-7 35zm-6-10l6 10-5 29-6-31zm-7 15l7-15-5 8-7 36zm-7-10l7 10-5 29-7-31zm-6 14l6-14-5 8-6 35zm-7-10l7 10-5 29-7-31zm-6 15l6-15-5 8-6 36zm-7-10l7 10-5 29-7-32zm-73 31l6-13-5 8-6 34zm-7-10l7 10-5 29-7-31zm-6 13l6-13-5 8-6 34zm-7-10l7 10-5 29-7-31zm-7 13l7-13-5 8-7 34zm-6-11l6 11-5 29-6-32zm-7 14l7-14-5 8-7 35zm-7-11l7 11-5 29-7-32zm-6 13l6-13-5 8-6 35zm-7-11l7 11-5 30-7-32zm-7 14l7-14-5 9-7 34zm-6-11l6 11-5 29-6-32zm-7 13l7-13-5 8-7 35zm-7-11l7 11-5 30-7-32zm9 6l6 32-5-37-6-11zm6 32l7-34-5-16-7 13zm7-34l7 32-5-37-7-11zm7 32l6-35-5-16-6 14zm6-35l7 32-5-37-7-11zm7 32l7-35-5-16-7 14zm7-35l6 32-5-37-6-11zm6 32l7-34-5-17-7 14zm7-34l7 31-6-37-6-11zm7 31l6-34-5-17-7 14zm6-34l7 31-5-37-7-11zm7 31l6-34-5-17-6 14zm6-34l7 31-5-37-7-11zm7 31l7-35-5-16-7 14zm7-35l6 32-5-38-6-10zm6 32l7-35-5-16-7 13zm7-35l7 31-5-37-7-10zm7 31l6-35-5-16-6 14zm6-35l7 32-5-38-7-10zm7 32l7-36-5-16-7 14zm7-36l6 32-5-38-6-10zm6 32l7-36-5-16-7 14zm7-36l7 32-6-38-6-10zm7 32l6-36-5-16-7 14zm6-36l7 31-5-37-7-10zm7 31l6-35-5-16-6 14zm6-35l7 31-5-37-7-10zm7 31l7-36-5-16-7 15zm7-36l6 31-5-37-6-10zm6 31l7-35-5-16-7 14zm7-35l7 31-5-37-7-10zm7 31l6-36-5-16-6 15zm6-36l7 31-5-37-7-10zm7 31l7-36-5-16-7 15zm-18-32l6-15-5 9-6 35zm-7-10l7 10-5 29-7-31zm-7 14l7-14-5 8-7 36zm-6-10l6 10-5 30-6-31zm-7 15l7-15-5 9-7 35zm-7-10l7 10-5 29-7-31zm-6 14l6-14-5 8-6 35zm-7-10l7 10-5 29-7-31zm-7 14l7-14-5 8-7 35zm-6-10l6 10-5 29-6-31zm-7 14l7-14-5 8-7 35zm-6-10l6 10-5 29-6-31zm-7 14l7-14-5 8-7 35zm-7-10l7 10-5 29-7-31zm-6 14l6-14-5 8-6 35zm-7-10l7 10-5 29-7-31zm-7 13l7-13-5 8-7 35zm-6-10l6 10-5 30-6-32zm-7 14l7-14-5 8-7 35zm-7-11l7 11-5 29-7-32zm-6 14l6-14-5 8-6 35zm-7-11l7 11-5 29-7-31zm-7 14l7-14-5 9-7 34zm-6-11l6 11-5 29-6-31zm-7 14l7-14-5 9-7 34zm-6-11l6 11-5 29-6-31zm-7 14l7-14-5 9-7 34zm-7-11l7 11-5 29-7-32zm-6 14l6-14-5 8-6 35zm-7-11l7 11-5 29-7-32z"/><path color="#fbd32e" d="M636 1364l6 32-5-35-6-11zm6 32l7-35-5-14-7 14zm7-35l7 32-6-35-6-11zm7 32l6-34-5-14-7 13zm6-34l7 32-5-35-7-11zm7 32l6-35-5-14-6 14zm6-35l7 32-5-35-7-11zm7 32l7-35-5-13-7 13zm7-35l6 32-5-34-6-11zm6 32l7-34-5-14-7 14zm7-34l7 32-5-35-7-11zm7 32l6-35-5-13-6 13zm206-89l6 30-5-34-6-10zm6 30l7-35-5-13-7 14zm7-35l7 31-5-35-7-9zm7 31l6-36-5-13-6 14zm6-36l7 31-5-34-7-10zm7 31l7-35-5-14-7 15zm7-35l6 30-5-34-6-10zm6 30l7-35-5-14-7 15zm7-35l6 31-5-35-6-10zm6 31l7-36-5-14-7 15zm7-36l7 31-5-35-7-10zm7 31l6-35-5-14-6 14zm8-39l7-15-5 11-7 35zm-7-10l7 10-5 31-7-31zm-6 14l6-14-5 10-6 36zm-7-10l7 10-5 32-7-31zm-7 15l7-15-5 11-7 36zm-6-10l6 10-5 32-6-31zm-7 15l7-15-5 11-7 36zm-6-10l6 10-5 32-7-31zm-7 15l7-15-6 11-6 35zm-7-10l7 10-5 31-7-30zm-6 14l6-14-5 11-6 35zm-7-9l7 9-5 32-7-30zm-233 75l7-14-5 11-7 35zm-6-11l6 11-5 32-6-32zm-7 13l7-13-5 11-7 34zm-7-11l7 11-5 32-7-32zm-6 14l6-14-5 11-6 35zm-7-11l7 11-5 32-7-32zm-7 13l7-13-5 11-7 34zm-6-11l6 11-5 32-6-32zm-7 14l7-14-5 11-7 35zm-6-11l6 11-5 32-6-32zm-7 13l7-13-5 11-7 34zm-7-10l7 10-5 32-7-32zm-11 45l6-35-5-14-6 14zm6-35l7 32-5-35-7-11zm7 32l7-34-6-14-6 13zm7-34l6 32-5-35-7-11zm6 32l7-35-5-14-7 14zm7-35l6 32-5-35-6-11zm6 32l7-34-5-14-7 13zm7-34l7 32-5-35-7-11zm7 32l6-35-5-13-6 13zm6-35l7 32-5-34-7-11zm7 32l7-34-5-13-7 13zm259-103l7 30-5-34-7-10zm7 30l6-35-5-14-6 15zm6-35l7 31-5-35-7-10zm7 31l7-36-5-14-7 15zm7-36l6 31-5-35-6-10zm6 31l7-36-5-14-7 15zm7-36l7 31-5-35-7-10zm7 31l6-36-5-13-6 14zm6-36l7 31-5-35-7-9zm7 31l7-35-5-14-7 14zm7-35l6 30-5-35-6-9zm8-19l7 10-5 31-7-31zm-7 14l7-14-5 10-7 36zm-6-9l6 9-5 32-6-31zm-7 14l7-14-5 10-7 36zm-7-9l7 9-5 32-7-31zm-6 14l6-14-5 10-6 36zm-7-10l7 10-5 32-7-31zm-7 15l7-15-5 11-7 36zm-6-10l6 10-5 32-6-31zm-7 15l7-15-5 11-7 36zm-7-10l7 10-5 32-7-31zm-285 90l6-13-5 11-6 34zm-7-11l7 11-5 32-7-32zm-7 13l7-13-5 11-7 34zm-6-11l6 11-5 32-6-32zm-7 14l7-14-5 11-7 35zm-7-11l7 11-5 32-7-33zm-6 13l6-13-5 10-6 35zm-7-11l7 11-5 32-7-32zm-6 14l6-14-5 11-6 34zm-7-11l7 11-5 31-7-32zm-7 13l7-13-5 10-7 35zm-11 0l6 32-5-35-6-11zm6 32l7-35-5-14-7 14zm7-35l7 32-5-35-7-11zm7 32l6-34-5-14-6 13zm6-34l7 32-5-35-7-11zm7 32l6-35-5-13-6 13zm6-35l7 33-5-35-7-11zm7 33l7-35-5-13-7 13zm7-35l6 32-5-34-6-11zm6 32l7-34-5-13-7 13zm313-118l6 31-5-35-6-9zm6 31l7-36-5-13-7 14zm7-36l7 31-5-35-7-9zm7 31l6-36-5-14-6 15zm6-36l7 31-5-35-7-10zm7 31l7-36-5-14-7 15zm7-36l6 31-5-35-6-10zm6 31l7-36-5-14-7 15zm7-36l7 31-6-35-6-10zm7 31l6-36-5-14-7 15zm1-50l7 10-5 32-7-31zm-7 15l7-15-5 11-7 36zm-6-10l6 10-5 32-6-31zm-7 15l7-15-5 11-7 36zm-6-10l6 10-5 32-6-31zm-7 15l7-15-5 11-7 36zm-7-10l7 10-5 32-7-31zm-6 15l6-15-5 11-6 36zm-7-9l7 9-5 32-7-31zm-339 104l7-13-5 10-7 35zm-7-11l7 11-5 32-7-32zm-6 13l6-13-5 11-6 34zm-7-11l7 11-5 32-7-32zm-6 13l6-13-5 11-7 34zm-7-11l7 11-6 32-6-32zm-7 14l7-14-5 11-7 34zm-6-11l6 11-5 31-6-32zm-7 13l7-13-5 10-7 34zm-12-1l7 32-5-35-7-11zm7 32l7-34-5-14-7 13zm7-34l6 32-5-35-6-11zm6 32l7-34-5-14-7 13zm7-34l6 32-5-35-6-11zm6 32l7-34-5-14-7 13zm7-34l7 32-5-35-7-11zm7 32l6-34-5-14-6 13zm6-34l7 32-5-35-7-11zm7 32l7-35-5-13-7 13zm339-126l7 31-5-34-7-10zm7 31l6-36-5-13-6 15zm6-36l7 31-5-35-7-9zm7 31l7-36-6-14-6 15zm7-36l6 31-5-35-7-10zm6 31l7-36-5-14-7 15zm7-36l6 31-5-35-6-10zm6 31l7-36-5-14-7 15zm7-36l7 31-5-35-7-10zm7 31l6-36-5-14-6 15zm1-50l7 10-5 31-7-31zm-6 15l6-15-5 10-6 36zm-7-10l7 10-5 31-7-30zm-7 15l7-15-5 11-7 35zm-6-10l6 10-5 31-6-30zm-7 15l7-15-5 11-7 36zm-7-10l7 10-5 32-7-31zm-6 15l6-15-5 11-6 36zm-7-9l7 9-5 32-7-31zm-365 111l6-13-5 11-6 34zm-7-11l7 11-5 32-7-32zm-7 13l7-13-5 11-7 34zm-6-11l6 11-5 32-6-32zm-7 13l7-13-5 11-7 34zm-6-11l6 11-5 32-7-32zm-7 13l7-13-6 11-6 34zm-7-11l7 11-5 32-7-32zm-6 14l6-14-5 11-6 34zm-12-1l7 32-5-35-7-11zm7 32l6-34-5-14-6 13zm6-34l7 32-5-35-7-11zm7 32l6-34-5-14-6 13zm6-34l7 32-5-35-7-11zm7 32l7-34-5-14-7 13zm7-34l6 32-5-35-6-11zm6 32l7-34-5-14-7 13zm7-34l7 32-5-35-7-11zm379-70l6-36-5-14-6 15zm6-36l7 31-5-35-7-10zm7 31l7-36-5-14-7 15zm7-36l6 30-5-35-6-9zm6 30l7-35-5-14-7 14zm7-35l7 30-5-35-7-9zm7 30l6-36-5-14-6 15zm6-36l7 31-5-35-7-10zm7 31l7-36-5-14-7 15zm-5-35l7-15-5 11-7 35zm-7-10l7 10-5 31-7-30zm-6 15l6-15-5 11-6 36zm-7-9l7 9-5 32-7-31zm-7 14l7-14-5 10-7 36zm-6-9l6 9-5 32-6-30zm-7 15l7-15-5 11-7 36zm-7-10l7 10-5 32-7-31zm-392 119l7-13-5 11-7 34zm-6-11l6 11-5 32-6-33zm-7 13l7-13-5 10-7 35zm-7-11l7 11-5 32-7-33zm-6 13l6-13-5 10-6 34zm-7-11l7 11-5 31-7-32zm-6 13l6-13-5 10-7 35zm-7-11l7 11-6 32-6-33zm-12 45l7-35-5-14-7 14zm7-35l6 33-5-35-6-12zm6 33l7-35-5-14-7 14zm7-35l7 32-5-34-7-12zm7 32l6-34-5-14-6 14zm6-34l7 33-5-35-7-12zm7 33l7-35-5-13-7 13zm7-35l6 33-5-35-6-11zm405-76l7-36-5-14-7 15zm7-36l6 30-5-35-6-9zm6 30l7-36-5-14-7 15zm7-36l7 31-5-35-7-10zm7 31l6-36-5-14-6 15zm6-36l7 30-5-34-7-10zm7 30l7-35-5-14-7 15zm7-35l6 30-5-35-6-9zm1-5l7-14-5 10-7 36zm-6-9l6 9-5 32-6-31zm-7 15l7-15-5 10-7 36zm-7-10l7 10-5 31-7-31zm-6 15l6-15-5 10-6 36zm-7-10l7 10-5 31-7-30zm-7 15l7-15-5 11-7 36zm-6-9l6 9-5 32-6-30zm-419 126l7-13-5 10-7 34zm-7-12l7 12-5 31-7-32zm-6 14l6-14-5 11-6 34zm-7-12l7 12-5 31-7-32zm-7 14l7-14-5 11-7 34zm-6-12l6 12-5 31-6-32zm-7 14l7-14-5 11-7 34zm-6-11l6 11-5 31-7-32zm-6 10l7 32-5-35-7-11zm7 32l7-34-5-14-7 13zm7-34l6 32-5-35-6-11zm6 32l7-34-5-14-7 13zm7-34l7 32-5-35-7-11zm7 32l6-34-5-14-6 13zm6-34l7 32-5-34-7-12zm432-84l7-36-5-14-7 15zm7-36l7 30-5-34-7-10zm7 30l6-36-5-13-6 15zm6-36l7 31-5-35-7-9zm7 31l7-36-6-14-6 15zm7-36l6 31-5-35-7-10zm6 31l7-36-5-14-7 15zm2-50l6 9-5 32-6-31zm-7 15l7-15-5 10-7 36zm-7-10l7 10-5 31-7-30zm-6 15l6-15-5 11-6 35zm-7-9l7 9-5 31-7-30zm-6 15l6-15-5 10-6 36zm-7-10l7 10-5 31-7-30zm-445 133l6-13-5 11-6 34zm-7-11l7 11-5 32-7-33zm-7 13l7-13-5 10-7 34zm-6-11l6 11-5 31-6-32zm-7 13l7-13-5 10-7 34zm-7-11l7 11-5 31-7-32zm-6 13l6-13-5 10-6 34zm-5 31l6-34-5-14-6 13zm6-34l7 32-5-35-7-11zm7 32l7-34-5-14-7 13zm7-34l6 32-5-34-6-12zm6 32l7-34-5-13-7 13zm7-34l7 33-5-35-7-11zm7 33l6-34-5-14-6 13zm445-154l7 30-6-35-6-9zm7 30l6-36-5-14-7 15zm6-36l7 30-5-34-7-10zm7 30l6-35-5-14-6 15zm6-35l7 30-5-35-7-9zm7 30l7-36-5-14-7 15zm7-36l6 31-5-35-6-10zm-5-14l6 10-5 31-6-31zm-7 15l7-15-5 10-7 36zm-7-9l7 9-5 31-7-30zm-6 15l6-15-5 10-6 36zm-7-10l7 10-5 31-7-30zm-472 141l7-13-5 10-7 34zm-6-12l6 12-5 31-6-32zm-7 13l7-13-5 11-7 34zm-7-11l7 11-5 32-7-33zm-6 13l6-13-5 10-6 34zm-5 31l6-34-5-14-6 13zm6-34l7 33-5-35-7-12zm7 33l7-34-5-14-7 13zm7-34l6 32-5-35-6-11zm6 32l7-34-5-14-7 13zm472-161l7 30-5-35-7-9zm7 30l6-36-5-14-6 15zm6-36l7 30-5-35-7-9zm7 30l7-36-5-14-7 15zm7-36l6 31-5-35-6-10zm-5-14l6 10-5 31-6-30zm-7 15l7-15-5 11-7 36zm-7-9l7 9-5 32-7-31zm-6 15l6-15-5 10-6 37zm-485 120l6 11-5 32-6-33zm-7 13l7-13-5 10-7 34zm-7-12l7 12-5 31-7-32zm-6 13l6-13-5 11-6 34zm-5 32l6-34-5-14-6 13zm6-34l7 32-5-35-7-11zm7 32l7-34-5-14-7 13zm7-34l6 33-5-35-6-12zm485-98l6-37-5-14-6 16zm6-37l7 31-5-35-7-10zm7 31l7-36-5-14-7 15zm7-36l6 30-5-35-6-9zm-5-14l6 9-5 31-6-30zm-7 15l7-15-5 10-7 36zm-7-10l7 10-5 31-7-30zm-498 148l7-13-5 11-7 33zm-7-11l7 11-5 31-7-32zm-6 13l6-13-5 10-6 34zm-5 31l6-34-5-14-6 13zm6-34l7 32-5-35-7-11zm7 32l7-33-5-14-7 12zm498-168l7 30-5-35-7-9zm7 30l7-36-5-14-7 15zm7-36l6 30-5-35-6-9zm-5-14l6 9-5 31-7-30zm-7 15l7-15-6 10-6 36zm-512 127l7 11-5 32-7-33zm-6 13l6-13-5 10-6 34zm-5 31l6-34-5-14-6 13zm6-34l7 33-5-35-7-12zm512-106l6-36-5-14-6 15zm6-36l7 30-5-35-7-9zm-5-14l7 9-5 32-7-31zm-524 155l6-13-5 10-7 34zm-6 31l7-34-5-14-7 13zm525-176l7 31-5-36-7-9zm-155-86l6 9-5 30-7-30zm-525 154l6-12-5 9-6 34zm-5 31l6-34-5-15-7 12zm524-176l7 30-5-36-7-9zm-5-15l7 9-5 30-7-30zm-6 15l6-15-5 9-6 36zm-512 127l7 11-5 30-7-32zm-7 12l7-12-5 9-7 34zm-5 31l7-34-5-15-7 13zm7-34l7 32-5-36-7-11zm512-106l6-36-5-15-6 15zm6-36l7 30-5-36-7-9zm-5-15l7 9-5 30-7-30zm-6 15l6-15-5 9-6 36zm-7-9l7 9-5 30-7-30zm-498 147l6-13-5 10-6 33zm-7-11l7 11-5 30-7-32zm-7 13l7-13-5 9-7 34zm-5 30l7-34-5-15-7 13zm7-34l7 32-5-36-7-11zm7 32l6-33-5-16-6 13zm498-168l7 30-5-36-7-9zm7 30l6-36-5-15-6 15zm6-36l7 30-5-36-7-9zm-5-15l7 9-5 30-7-30zm-6 15l6-15-5 9-6 36zm-7-9l7 9-5 30-7-30zm-7 15l7-15-5 9-7 36zm-485 119l7 12-5 30-7-33zm-6 13l6-13-5 9-6 34zm-7-11l7 11-5 30-7-32zm-7 13l7-13-5 9-7 34zm-5 30l7-34-5-15-7 13zm7-34l7 32-5-36-7-11zm7 32l6-34-5-15-6 13zm6-34l7 33-5-36-7-12zm485-98l7-36-5-16-7 16zm7-36l7 30-5-36-7-10zm7 30l6-36-5-15-6 15zm6-36l7 30-5-36-7-9zm-5-15l7 9-5 30-7-30zm-6 15l6-15-5 9-6 36zm-7-10l7 10-5 30-7-30zm-7 16l7-16-5 10-7 36zm-6-10l6 10-5 30-6-31zm-472 141l7-13-5 9-7 34zm-7-12l7 12-5 30-7-33zm-6 13l6-13-5 9-6 34zm-7-11l7 11-5 30-7-32zm-7 13l7-13-5 9-7 34zm-5 30l7-34-5-15-7 13zm7-34l7 32-5-36-7-11zm7 32l6-34-5-15-6 13zm6-34l7 33-5-37-7-11zm7 33l7-34-6-16-6 13zm472-162l6 31-5-37-6-9zm6 31l7-36-5-16-7 15zm7-36l7 30-5-36-7-10zm7 30l6-36-5-15-6 15zm6-36l7 30-5-36-7-9zm-5-15l7 9-5 31-7-31zm-6 15l6-15-5 9-6 36zm-7-10l7 10-5 30-7-31zm-7 15l7-15-5 9-7 36zm-6-9l6 9-5 30-6-30zm-7 15l7-15-5 9-7 36zm-7-9l7 9-5 30-7-30zm-445 133l7-13-5 9-7 34zm-7-12l7 12-5 30-7-33zm-6 13l6-13-5 9-6 34zm-7-11l7 11-5 30-7-32zm-6 13l6-13-5 9-6 34zm-7-11l7 11-5 30-7-32zm-7 13l7-13-5 9-7 34zm-5 30l7-34-5-15-7 13zm7-34l7 32-6-36-6-11zm7 32l6-34-5-15-7 13zm6-34l7 32-5-36-7-11zm7 32l6-34-5-15-6 13zm6-34l7 33-5-37-7-11zm7 33l7-34-5-16-7 13zm445-154l7 30-5-36-7-10zm7 30l7-36-5-15-7 15zm7-36l6 30-5-36-6-9zm6 30l7-36-5-15-7 15zm7-36l7 31-6-36-6-10zm7 31l6-36-5-15-7 15zm6-36l7 31-5-37-7-9zm-12 0l7-15-5 9-7 36zm-6-10l6 10-5 30-6-31zm-7 15l7-15-5 9-7 36zm-6-9l6 9-5 30-6-30zm-7 15l7-15-5 9-7 36zm-7-10l7 10-5 30-7-31zm-6 15l6-15-5 9-6 36zm-432 105l6 12-5 30-6-33zm-7 13l7-13-5 9-7 34zm-7-11l7 11-5 30-7-32zm-6 13l6-13-5 9-6 34zm-7-11l7 11-5 30-7-32zm-7 13l7-13-5 9-7 34zm-6-11l6 11-5 30-6-32zm-5 9l6 32-5-36-6-11zm6 32l7-34-5-15-7 13zm7-34l7 32-5-36-7-11zm7 32l6-34-5-15-6 13zm6-34l7 32-5-36-7-11zm7 32l7-34-5-15-7 13zm7-34l6 33-5-37-6-11zm6 33l7-34-5-16-7 13zm419-147l7 30-5-36-7-10zm7 30l6-36-5-15-6 15zm6-36l7 31-5-37-7-9zm7 31l7-36-5-16-7 15zm7-36l6 30-5-36-6-10zm6 30l7-36-5-15-7 15zm7-36l6 31-5-36-6-10zm6 31l7-36-5-15-7 15zm-11-46l6 10-5 30-6-31zm-7 15l7-15-5 9-7 36zm-6-10l6 10-5 30-7-31zm-7 15l7-15-6 9-6 36zm-7-9l7 9-5 30-7-30zm-6 15l6-15-5 9-6 36zm-7-10l7 10-5 30-7-31zm-7 15l7-15-5 9-7 36zm-405 98l7 11-5 30-7-32zm-7 13l7-13-5 9-7 34zm-6-11l6 11-5 30-6-32zm-7 13l7-13-5 9-7 34zm-7-11l7 11-5 30-7-32zm-6 13l6-13-5 9-6 34zm-7-11l7 11-5 30-7-32zm-7 13l7-13-5 9-7 34zm2-4l7 32-5-36-7-11zm7 32l6-34-5-16-6 14zm6-34l7 32-5-36-7-12zm7 32l7-34-5-16-7 14zm7-34l6 32-5-36-6-12zm6 32l7-34-5-16-7 14zm7-34l7 32-5-36-7-12zm7 32l6-34-5-15-6 13zm392-139l6 30-5-36-6-10zm6 30l7-36-5-15-7 15zm7-36l7 31-5-37-7-9zm7 31l6-36-5-16-6 15zm6-36l7 30-5-36-7-10zm7 30l6-36-5-15-6 15zm6-36l7 31-5-36-7-10zm7 31l7-36-5-15-7 15zm-5-36l7-15-5 9-7 36zm-7-10l7 10-5 30-7-31zm-6 15l6-15-5 9-6 36zm-7-10l7 10-5 30-7-31zm-6 15l6-15-5 9-7 36zm-7-9l7 9-6 30-6-30zm-7 15l7-15-5 9-7 35zm-6-10l6 10-5 29-6-30zm-7 15l7-15-5 9-7 36zm-379 91l7 11-5 30-7-33zm-6 13l6-13-5 8-7 35zm-7-12l7 12-6 30-6-33zm-7 14l7-14-5 9-7 35zm-6-12l6 12-5 30-6-33zm-7 14l7-14-5 9-7 35zm-7-12l7 12-5 30-7-32zm-6 14l6-14-5 10-6 34zm-7-11l7 11-5 30-7-32zm2 41l6-34-5-16-6 14zm6-34l7 32-5-37-7-11zm7 32l7-35-5-15-7 13zm7-35l6 33-5-37-6-11zm6 33l7-35-5-15-7 13zm7-35l6 33-5-37-6-11zm6 33l7-35-5-15-7 13zm7-35l7 33-5-37-7-11zm7 33l6-34-5-16-6 13zm365-133l7 31-5-37-7-9zm7 31l7-36-5-16-7 15zm7-36l6 30-5-36-6-10zm6 30l7-35-5-16-7 15zm7-35l6 30-5-36-6-10zm6 30l7-36-5-15-7 15zm7-36l7 31-5-36-7-10zm7 31l6-36-5-15-6 15zm6-36l7 31-5-36-7-10zm-11 0l6-15-5 9-6 36zm-7-10l7 10-5 30-7-31zm-7 15l7-15-5 9-7 36zm-6-10l6 10-5 30-6-31zm-7 15l7-15-5 9-7 36zm-6-10l6 10-5 30-7-31zm-7 15l7-15-6 9-6 36zm-7-9l7 9-5 30-7-31zm-6 14l6-14-5 8-6 36zm-7-9l7 9-5 30-7-30zm-339 104l7-13-5 9-7 34zm-7-11l7 11-5 30-7-32zm-6 13l6-13-5 9-6 34zm-7-11l7 11-5 30-7-32zm-7 13l7-13-5 9-7 34zm-6-11l6 11-5 30-6-32zm-7 13l7-13-5 9-7 34zm-6-11l6 11-5 30-7-32zm-7 13l7-13-6 9-6 35zm-7-11l7 11-5 31-7-32zm2 42l6-35-5-15-6 13zm6-35l7 32-5-36-7-11zm7 32l7-34-5-15-7 13zm7-34l6 32-5-36-6-11zm6 32l7-34-5-16-7 14zm7-34l7 32-5-37-7-11zm7 32l6-34-5-16-6 13zm6-34l7 32-5-37-7-11zm7 32l7-34-5-16-7 13zm339-125l7 30-5-36-7-10zm7 30l6-36-5-15-6 15zm6-36l7 31-5-37-7-9zm7 31l6-36-5-15-6 14zm6-36l7 31-5-37-7-9zm7 31l7-36-5-15-7 14zm7-36l6 31-5-37-6-9zm6 31l7-36-5-15-7 14zm7-36l7 31-5-36-7-10zm-12-1l7-14-5 9-7 35zm-6-9l6 9-5 30-6-30zm-7 14l7-14-5 9-7 35zm-7-9l7 9-5 30-7-30zm-6 14l6-14-5 9-6 35zm-7-9l7 9-5 30-7-30zm-6 15l6-15-5 9-7 35zm-7-10l7 10-6 29-6-30zm-7 15l7-15-5 9-7 35zm-6-10l6 10-5 29-6-30zm-313 97l7-13-5 8-7 35zm-6-11l6 11-5 30-6-32zm-7 13l7-13-5 9-7 34zm-7-11l7 11-5 30-7-32zm-6 13l6-13-5 9-6 34zm-7-11l7 11-5 30-7-32zm-7 14l7-14-5 9-7 35zm-6-11l6 11-5 30-6-32zm-7 13l7-13-5 9-7 34zm-7-11l7 11-5 30-7-32zm2 41l7-34-5-16-7 14zm7-34l6 32-5-37-6-11zm6 32l7-35-5-15-7 13zm7-35l7 32-5-36-7-11zm7 32l6-34-5-16-6 14zm6-34l7 32-5-37-7-11zm7 32l7-34-5-16-7 13zm7-34l6 32-5-37-6-11zm6 32l7-35-5-15-7 13zm7-35l7 33-5-37-7-11zm7 33l6-35-5-16-6 14zm285-111l7 30-5-36-7-10zm7 30l7-35-5-16-7 15zm7-35l6 30-5-36-6-10zm6 30l7-35-5-16-7 15zm7-35l6 30-5-36-6-10zm6 30l7-35-5-16-7 15zm7-35l7 30-5-36-7-10zm7 30l6-35-5-16-6 15zm6-35l7 30-5-36-7-10zm7 30l7-35-5-16-7 15zm7-35l6 30-5-36-6-10zm-19-11l7 10-5 30-7-31zm-6 15l6-15-5 9-6 36zm-7-10l7 10-5 30-7-31zm-7 15l7-15-5 9-7 36zm-6-10l6 10-5 30-6-31zm-7 15l7-15-5 9-7 35zm-6-10l6 10-5 29-7-30zm-7 15l7-15-6 9-6 35zm-7-10l7 10-5 29-7-30zm-6 15l6-15-5 9-6 35zm-7-10l7 10-5 29-7-31zm-259 82l6-13-5 9-6 34zm-7-11l7 11-5 30-7-32zm-6 14l6-14-5 9-7 34zm-7-11l7 11-6 29-6-32zm-7 13l7-13-5 8-7 35zm-6-11l6 11-5 30-6-32zm-7 13l7-13-5 9-7 34zm-7-11l7 11-5 30-7-32zm-6 14l6-14-5 9-6 35zm-7-11l7 11-5 30-7-32zm-7 13l7-13-5 9-7 34zm2-4l7 32-5-37-7-11zm7 32l6-35-5-15-6 13zm6-35l7 32-5-36-7-11zm7 32l7-34-5-16-7 14zm7-34l6 32-5-37-6-11zm6 32l7-35-5-15-7 13zm7-35l6 32-5-36-6-11zm6 32l7-34-5-16-7 14zm7-34l7 32-5-37-7-11zm7 32l6-34-5-16-6 13zm6-34l7 32-5-37-7-11zm7 32l7-35-5-16-7 14zm233-97l6 31-5-37-6-10zm6 31l7-36-5-15-7 14zm7-36l7 31-5-37-7-9zm7 31l6-35-5-16-6 14zm6-35l7 30-5-36-7-10zm7 30l6-35-5-16-6 15zm6-35l7 30-5-36-7-10zm7 30l7-35-5-16-7 15zm7-35l6 31-5-37-6-10zm6 31l7-36-5-15-7 14zm7-36l7 31-5-37-7-9zm7 31l6-36-5-15-6 14zm-19-32l7-14-5 9-7 35zm-6-10l6 10-5 30-6-31zm-7 15l7-15-5 9-7 36zm-7-10l7 10-5 30-7-31zm-6 15l6-15-5 9-6 35zm-7-10l7 10-5 29-7-30zm-6 14l6-14-5 9-6 35zm-7-9l7 9-5 30-7-31zm-7 14l7-14-5 8-7 36zm-6-10l6 10-5 30-6-31zm-7 15l7-15-5 9-7 35zm-7-10l7 10-5 29-7-30zm-206 68l7-13-5 8-7 35zm-6-11l6 11-5 30-6-32zm-7 14l7-14-5 9-7 34zm-7-11l7 11-5 29-7-32zm-6 13l6-13-5 8-6 35zm-7-11l7 11-5 30-7-32zm-7 14l7-14-5 9-7 35zm-6-11l6 11-5 30-6-32zm-7 13l7-13-5 9-7 34zm-6-11l6 11-5 30-7-32zm-7 14l7-14-6 9-6 35zm-7-11l7 11-5 30-7-32z"/><path color="#f8da2b" d="M549 1415l7-35-5-14-7 14zm7-35l6 32-5-35-6-11zm6 32l7-34-5-15-7 14zm7-34l7 31-5-35-7-11zm7 31l6-34-5-14-6 13zm6-34l7 32-5-36-7-10zm7 32l7-35-5-14-7 13zm7-35l6 32-5-35-6-11zm6 32l7-35-5-14-7 14zm7-35l7 32-5-35-7-11zm7 32l6-34-5-14-6 13zm6-34l7 31-5-35-7-10zm7 31l7-34-5-14-7 13zm365-132l7 30-5-34-7-10zm7 30l7-35-5-14-7 15zm7-35l6 31-5-35-6-10zm6 31l7-36-5-14-7 15zm7-36l7 31-5-35-7-10zm7 31l6-35-5-14-6 14zm6-35l7 31-5-35-7-10zm7 31l7-36-5-14-7 15zm7-36l6 31-5-35-6-10zm6 31l7-35-5-14-7 14zm7-35l7 31-6-35-6-10zm7 31l6-36-5-14-7 15zm6-36l7 31-5-35-7-10zm-5-14l7 10-5 31-7-31zm-7 15l7-15-5 10-7 36zm-6-10l6 10-5 31-6-31zm-7 14l7-14-5 10-7 35zm-6-10l6 10-5 31-6-31zm-7 15l7-15-5 10-7 36zm-7-10l7 10-5 31-7-31zm-6 14l6-14-5 10-6 36zm-7-10l7 10-5 32-7-31zm-7 15l7-15-5 11-7 35zm-6-10l6 10-5 31-6-30zm-392 119l6-13-5 10-6 35zm-7-11l7 11-5 32-7-32zm-7 14l7-14-5 11-7 34zm-6-11l6 11-5 31-6-32zm-7 13l7-13-5 10-7 35zm-7-10l7 10-5 32-7-32zm-6 13l6-13-5 10-6 34zm-7-11l7 11-5 31-7-31zm-7 14l7-14-5 11-7 34zm-6-11l6 11-5 31-6-32zm-7 14l7-14-5 10-7 35zm-5 31l7-35-5-14-7 14zm7-35l6 32-5-35-6-11zm6 32l7-34-5-15-7 14zm7-34l7 31-5-35-7-11zm7 31l6-34-5-14-6 13zm6-34l7 32-5-35-7-11zm7 32l7-35-5-14-7 14zm7-35l6 32-5-35-6-11zm6 32l7-34-5-14-7 13zm7-34l7 32-5-35-7-11zm405-78l7-35-5-14-7 14zm7-35l7 31-5-35-7-10zm7 31l6-36-5-14-6 15zm6-36l7 31-5-35-7-10zm7 31l7-36-6-14-6 15zm7-36l6 31-5-35-7-10zm6 31l7-35-5-14-7 14zm7-35l6 31-5-35-6-10zm6 31l7-36-5-14-7 15zm7-36l7 31-5-35-7-10zm-5-14l7 10-5 31-7-31zm-7 15l7-15-5 10-7 36zm-6-10l6 10-5 31-6-31zm-7 14l7-14-5 10-7 36zm-7-10l7 10-5 32-7-31zm-6 15l6-15-5 11-6 35zm-7-10l7 10-5 31-7-31zm-6 15l6-15-5 10-6 36zm-432 105l6 11-5 32-6-32zm-7 14l7-14-5 11-7 34zm-7-11l7 11-5 31-7-32zm-6 13l6-13-5 10-6 35zm-7-11l7 11-5 32-7-32zm-7 14l7-14-5 11-7 34zm-6-11l6 11-5 31-6-32zm-7 14l7-14-5 10-7 35zm-5 31l7-35-5-14-7 14zm7-35l6 32-5-35-6-11zm6 32l7-34-5-14-7 13zm7-34l7 32-5-36-7-10zm7 32l6-35-5-14-6 13zm6-35l7 32-5-35-7-11zm7 32l7-34-5-14-7 13zm445-155l7 31-5-35-7-10zm7 31l6-35-5-14-6 14zm6-35l7 31-5-36-7-9zm7 31l7-36-5-14-7 14zm7-36l6 31-5-35-6-10zm6 31l7-36-5-14-7 15zm7-36l7 31-5-35-7-10zm-5-14l7 10-5 31-7-31zm-7 15l7-15-5 10-7 36zm-6-10l6 10-5 31-6-31zm-7 14l7-14-5 10-7 36zm-7-9l7 9-5 32-7-31zm-6 14l6-14-5 10-6 36zm-459 113l7 11-5 31-7-32zm-6 13l6-13-5 10-6 35zm-7-10l7 10-5 32-7-32zm-7 13l7-13-5 10-7 34zm-6-11l6 11-5 31-6-32zm-7 14l7-14-5 10-7 35zm-5 31l7-35-5-14-7 14zm7-35l6 32-5-35-6-11zm6 32l7-34-5-14-7 13zm7-34l7 32-5-35-7-11zm7 32l6-35-5-14-6 14zm471-162l7 31-5-35-7-10zm7 31l7-36-5-14-7 15zm7-36l6 31-5-35-6-10zm6 31l7-36-5-14-7 15zm7-36l7 31-5-35-7-10zm-5-14l7 10-5 31-7-30zm-7 15l7-15-5 11-7 35zm-6-10l6 10-5 31-6-31zm-7 15l7-15-5 10-7 36zm-485 120l7 11-5 31-7-32zm-7 13l7-13-5 10-7 34zm-6-11l6 11-5 31-6-32zm-7 14l7-14-5 10-7 35zm-5 31l7-35-5-14-7 14zm7-35l6 32-5-35-6-11zm6 32l7-34-5-14-7 13zm499-169l6 31-5-35-6-10zm6 31l7-35-5-15-7 15zm7-35l7 30-5-35-7-10zm-5-15l7 10-6 31-6-30zm-7 15l7-15-5 11-7 35zm-6-10l6 10-5 31-6-30zm-499 148l7-13-5 10-7 35zm-6-11l6 11-5 32-6-32zm-7 14l7-14-5 11-7 34zm-5 31l7-34-5-14-7 13zm7-34l6 32-5-35-6-11zm511-107l7-35-5-14-7 14zm7-35l6 30-5-35-6-9zm-5-14l6 9-5 32-6-31zm-525 155l7-13-6 10-6 34zm-5 31l6-34-5-14-6 13zm525-176l6 31-5-36-6-9zm-277-145l7 9-5 31-7-31zm-525 155l7-13-5 9-7 34zm-5 30l7-34-5-15-7 13zm525-176l7 31-5-36-7-10zm-5-15l7 10-5 30-7-31zm-7 15l7-15-5 9-7 36zm-511 127l6 11-5 30-6-32zm-7 13l7-13-5 9-7 35zm-5 31l7-35-5-15-7 13zm7-35l6 32-5-36-6-11zm6 32l7-34-5-15-7 13zm499-169l6 31-5-36-6-10zm6 31l7-36-5-15-7 15zm7-36l7 31-5-36-7-10zm-5-15l7 10-5 30-7-31zm-7 15l7-15-5 9-7 36zm-6-10l6 10-5 30-6-31zm-499 148l7-13-5 9-7 34zm-6-11l6 11-5 30-6-32zm-7 13l7-13-5 9-7 35zm-5 31l7-35-5-15-7 14zm7-35l6 32-5-36-6-11zm6 32l7-34-5-15-7 13zm7-34l7 32-5-36-7-11zm485-99l7-36-5-15-7 15zm7-36l6 31-5-36-6-10zm6 31l7-36-5-15-7 15zm7-36l7 31-5-36-7-10zm-5-15l7 10-5 30-7-30zm-7 15l7-15-5 10-7 35zm-6-10l6 10-5 30-6-31zm-7 15l7-15-5 9-7 36zm-7-10l7 10-5 30-7-31zm-471 141l6-14-5 10-6 34zm-7-11l7 11-5 30-7-32zm-7 13l7-13-5 9-7 34zm-6-11l6 11-5 30-6-32zm-7 14l7-14-5 9-7 35zm-5 30l7-35-5-15-7 14zm7-35l6 32-5-36-6-11zm6 32l7-34-5-15-7 13zm7-34l7 32-5-36-7-11zm7 32l6-34-5-16-6 14zm6-34l7 32-5-37-7-11zm459-92l6-36-5-15-6 15zm6-36l7 31-5-36-7-10zm7 31l7-36-5-15-7 15zm7-36l6 31-5-36-6-10zm6 31l7-35-5-16-7 15zm7-35l7 30-5-36-7-10zm-5-16l7 10-5 31-7-31zm-7 15l7-15-5 10-7 35zm-6-10l6 10-5 30-6-31zm-7 15l7-15-5 9-7 36zm-7-10l7 10-5 30-7-31zm-6 15l6-15-5 9-6 36zm-7-10l7 10-5 30-7-31zm-445 133l6-13-5 9-6 34zm-7-11l7 11-5 30-7-32zm-6 14l6-14-5 9-6 35zm-7-11l7 11-5 30-7-32zm-7 13l7-13-5 9-7 35zm-6-11l6 11-5 31-6-32zm-7 14l7-14-5 10-7 34zm-5 30l7-34-5-15-7 13zm7-34l6 32-5-36-6-11zm6 32l7-35-5-15-7 14zm7-35l7 32-6-36-6-11zm7 32l6-35-5-15-7 14zm6-35l7 32-5-36-7-11zm7 32l6-34-5-15-6 13zm6-34l7 32-5-36-7-11zm432-85l7-35-5-15-7 14zm7-35l7 31-5-37-7-9zm7 31l6-36-5-15-6 14zm6-36l7 31-5-36-7-10zm7 31l7-36-5-15-7 15zm7-36l6 31-5-36-6-10zm6 31l7-35-5-15-7 14zm7-35l7 31-6-36-6-10zm-5-15l6 10-5 30-6-31zm-7 14l7-14-5 9-7 36zm-6-10l6 10-5 31-6-31zm-7 15l7-15-5 10-7 35zm-7-10l7 10-5 30-7-31zm-6 14l6-14-5 9-6 36zm-7-9l7 9-5 31-7-31zm-7 14l7-14-5 9-7 35zm-6-10l6 10-5 30-6-31zm-7 15l7-15-5 9-7 36zm-405 98l6 11-5 30-6-32zm-7 14l7-14-5 9-7 35zm-7-11l7 11-5 30-7-32zm-6 13l6-13-5 9-6 34zm-7-11l7 11-5 30-7-31zm-7 14l7-14-5 10-7 34zm-6-11l6 11-5 30-6-32zm-7 14l7-14-5 9-7 35zm-6-11l6 11-5 30-6-32zm-7 13l7-13-5 9-7 35zm-5 31l7-35-6-15-6 14zm7-35l6 32-5-36-7-11zm6 32l7-35-5-15-7 14zm7-35l6 32-5-36-6-11zm6 32l7-34-5-16-7 14zm7-34l7 31-5-36-7-11zm7 31l6-34-5-15-6 13zm6-34l7 32-5-36-7-11zm7 32l7-35-5-15-7 14zm7-35l6 32-5-36-6-11zm6 32l7-34-5-16-7 14zm392-140l7 31-5-36-7-10zm7 31l7-36-5-15-7 15zm7-36l6 31-5-36-6-10zm6 31l7-35-5-15-7 14zm7-35l7 31-5-36-7-10zm7 31l6-36-5-15-6 15zm6-36l7 31-5-36-7-10zm7 31l7-35-6-15-6 14zm7-35l6 31-5-37-7-9zm6 31l7-36-5-15-7 14zm7-36l6 31-5-36-6-10zm-5-15l6 10-5 30-6-31zm-7 14l7-14-5 9-7 36zm-7-9l7 9-5 31-7-31zm-6 14l6-14-5 9-6 35zm-7-10l7 10-5 30-7-31zm-6 15l6-15-5 9-6 36zm-7-10l7 10-5 30-7-31zm-7 14l7-14-5 9-7 35zm-6-10l6 10-5 30-6-31zm-7 15l7-15-5 9-7 36zm-7-10l7 10-5 30-7-31zm-6 14l6-14-5 9-6 35zm-7-9l7 9-5 30-7-30zm-365 111l6-13-5 9-6 34zm-7-11l7 11-5 30-7-31zm-7 14l7-14-5 10-7 34zm-6-11l6 11-5 30-6-32zm-7 14l7-14-5 9-7 35zm-7-11l7 11-5 30-7-32zm-6 13l6-13-5 9-6 35zm-7-11l7 11-5 31-7-32zm-7 14l7-14-5 10-7 34zm-6-11l6 11-5 30-6-31zm-7 14l7-14-5 10-7 34zm-7-11l7 11-5 30-7-32zm-6 14l6-14-5 9-6 35z"/></g><path stroke="#858585" stroke-width=".85" fill="none" d="M36.7 400.1L36.7 294.1M36.7 400.1L137.3 448.6M137.3 448.6L270.2 412.2M36.7 400.1l-2.2 1M36.7 376.0l-2.2 1M36.7 351.8l-2.2 1M36.7 327.7l-2.2 1M36.7 303.5l-2.2 1M137.3 448.6l-2.4 -0.6M137.3 448.6l1.2 1.5M112.2 436.5l-2.4 -0.6M170.5 439.5l1.2 1.5M87.0 424.4l-2.4 -0.6M203.8 430.4l1.2 1.5M61.9 412.2l-2.4 -0.6M237.0 421.3l1.2 1.5M36.7 400.1l-2.4 -0.6M270.2 412.2l1.2 1.5"/><g class="t"><text x="31.2" y="401.6" font-size="7.40" text-anchor="end">0</text><text x="31.2" y="377.5" font-size="7.40" text-anchor="end">5</text><text x="31.2" y="353.3" font-size="7.40" text-anchor="end">10</text><text x="31.2" y="329.2" font-size="7.40" text-anchor="end">15</text><text x="31.2" y="305.0" font-size="7.40" text-anchor="end">20</text><text x="26.7" y="409.5" font-size="7.20" text-anchor="middle">20</text><text x="52.2" y="422.2" font-size="7.20" text-anchor="middle">10</text><text x="78.9" y="434.4" font-size="7.20" text-anchor="middle">0</text><text x="101.3" y="446.6" font-size="7.20" text-anchor="middle">-10</text><text x="126.0" y="459.1" font-size="7.20" text-anchor="middle">-20</text><text x="148.6" y="459.7" font-size="7.20" text-anchor="middle">-20</text><text x="181.9" y="450.7" font-size="7.20" text-anchor="middle">-10</text><text x="210.8" y="440.6" font-size="7.20" text-anchor="middle">0</text><text x="245.4" y="431.6" font-size="7.20" text-anchor="middle">10</text><text x="278.2" y="422.6" font-size="7.20" text-anchor="middle">20</text><text x="85.5" y="458.5" font-size="7.60" text-anchor="middle">x<tspan font-size="5.2" dy="2.6">2</tspan></text><text x="197.0" y="461.5" font-size="7.60" text-anchor="middle">x<tspan font-size="5.2" dy="2.6">1</tspan></text><text x="152.8" y="255.4" font-size="8.00" text-anchor="middle">Space Range</text><text transform="translate(13.8,347.8) rotate(-90)" font-size="8.3" text-anchor="middle">F( x<tspan font-size="5.7" dy="2.5">1</tspan><tspan dy="-2.5"> , x</tspan><tspan font-size="5.7" dy="2.5">2</tspan><tspan dy="-2.5"> )</tspan></text></g>
<rect x="317.4" y="268.5" width="222.1" height="171.0" fill="#fff" stroke="#8a8a8a" stroke-width=".9"/><path stroke="#8a8a8a" stroke-width=".7" fill="none" d="M317.4 439.5v-2.2M317.4 268.5v2.2M361.8 439.5v-2.2M361.8 268.5v2.2M406.2 439.5v-2.2M406.2 268.5v2.2M450.7 439.5v-2.2M450.7 268.5v2.2M495.1 439.5v-2.2M495.1 268.5v2.2M539.5 439.5v-2.2M539.5 268.5v2.2M317.4 268.5h2.2M539.5 268.5h-2.2M317.4 282.8h2.2M539.5 282.8h-2.2M317.4 297.0h2.2M539.5 297.0h-2.2M317.4 311.2h2.2M539.5 311.2h-2.2M317.4 325.5h2.2M539.5 325.5h-2.2M317.4 339.8h2.2M539.5 339.8h-2.2M317.4 354.0h2.2M539.5 354.0h-2.2M317.4 368.2h2.2M539.5 368.2h-2.2M317.4 382.5h2.2M539.5 382.5h-2.2M317.4 396.8h2.2M539.5 396.8h-2.2M317.4 411.0h2.2M539.5 411.0h-2.2M317.4 425.2h2.2M539.5 425.2h-2.2M317.4 439.5h2.2M539.5 439.5h-2.2"/><path d="M319.6 278.8L334.3 279.7L346.4 282.1L351.2 283.9L357.3 285.1L365.7 287.5L371.7 289.9L382.1 294.1L391.7 298.4L397.8 302.0L402.6 305.0L405.0 308.0L412.3 311.7L420.7 314.7L426.7 318.3L429.2 322.3L433.5 324.1L438.3 327.8L443.1 330.8L445.5 332.6L450.4 335.0L454.0 338.0L457.6 339.2L461.2 341.7L466.0 343.5L469.7 345.9L474.5 347.7L479.3 350.1L484.8 352.9L488.5 353.5L493.3 357.2L498.1 359.0L504.1 361.4L509.0 365.0L513.8 368.6L521.0 371.7L525.9 375.3L531.9 378.3L539.5 381.9" stroke="#ff0000" stroke-width="1.5" fill="none" stroke-linejoin="round"/><path d="M319.6 278.8L331.9 279.1L344.0 282.1L351.2 285.1L356.0 286.3L363.3 288.1L369.3 290.5L376.0 293.5L382.1 294.7L383.9 301.4L384.5 305.6L389.3 307.4L394.1 311.0L401.4 315.3L406.2 316.5L411.0 318.9L418.3 321.9L423.1 324.3L429.8 329.0L433.5 331.4L437.1 336.2L440.7 339.8L444.3 339.8L449.1 342.9L455.2 346.5L461.2 347.7L464.8 350.7L467.2 353.0L470.2 353.5L474.2 357.5L478.2 359.1L482.3 361.1L486.3 362.6L492.1 365.6L498.1 366.2L499.9 372.3L504.1 374.7L509.0 377.1L515.0 378.9L518.6 384.3L523.5 386.6L527.1 391.5L531.9 393.9L535.5 396.9L539.5 399.9" stroke="#0000ff" stroke-width="1.5" fill="none" stroke-linejoin="round"/><path d="M319.6 278.5L327.1 279.7L330.7 281.5L339.1 282.7L345.2 283.9L349.4 286.9L351.2 288.1L354.8 288.1L356.7 289.9L360.9 291.7L363.9 294.1L365.7 299.0L369.3 302.0L373.6 305.3L380.9 308.0L385.7 311.7L388.1 319.5L394.1 321.3L400.4 324.0L404.8 329.7L408.5 330.9L413.3 332.7L415.7 340.5L418.1 347.2L422.9 348.4L427.8 350.2L432.6 350.2L436.2 353.8L439.8 358.6L443.5 361.7L448.3 364.1L453.1 365.9L456.1 370.1L458.1 376.7L463.1 377.7L470.2 378.7L473.2 382.2L476.2 386.7L480.2 387.7L488.4 387.7L493.3 395.1L499.3 396.3L502.9 398.1L506.6 398.7L509.6 402.3L513.8 402.9L518.0 405.4L520.4 415.0L533.1 415.6L536.7 421.0L539.5 426.5" stroke="#00ff00" stroke-width="1.5" fill="none" stroke-linejoin="round"/><path d="M319.8 279.1L323.5 282.1L329.5 283.3L339.1 284.5L351.2 285.1L375.0 285.3L400.2 286.3L430.0 287.9L539.5 288.2" stroke="#ffff00" stroke-width="1.5" fill="none" stroke-linejoin="round"/><path d="M319.6 278.8L328.3 279.1L334.3 280.3L341.6 281.5L346.4 283.9L350.0 285.7L354.8 286.3L356.7 291.7L359.7 292.9L364.5 294.1L368.1 294.7L377.2 297.2L383.3 299.0L387.5 302.6L390.5 311.7L397.8 313.5L402.0 317.1L404.4 323.1L408.6 324.9L412.1 326.0L418.1 329.1L422.9 333.9L429.0 336.9L436.2 339.9L442.3 340.5L444.7 344.1L450.7 348.4L455.2 353.7L460.1 354.5L466.2 356.5L470.2 358.6L474.2 360.1L478.2 362.1L480.2 364.1L482.3 368.1L486.3 369.6L489.3 371.1L492.1 371.7L498.1 371.7L500.5 374.7L502.9 377.1L509.0 380.7L512.6 381.9L515.0 386.0L517.4 391.5L522.3 392.7L527.1 397.5L533.1 398.1L539.5 401.1" stroke="#ff00ff" stroke-width="1.5" fill="none" stroke-linejoin="round"/><path d="M319.6 278.2L539.5 278.2" stroke="#00ffff" stroke-width="1.5" fill="none" stroke-linejoin="round"/><rect x="331.3" y="371.3" width="61.0" height="53.2" fill="#fff" stroke="#8a8a8a" stroke-width=".8"/><path d="M334.2 376.2H353.9" stroke="#ff0000" stroke-width="1.5"/><text x="355.7" y="378.6" font-size="6.40" text-anchor="start">GJO</text><path d="M334.2 385.1H353.9" stroke="#0000ff" stroke-width="1.5"/><text x="355.7" y="387.5" font-size="6.40" text-anchor="start">HPO</text><path d="M334.2 393.8H353.9" stroke="#00ff00" stroke-width="1.5"/><text x="355.7" y="396.2" font-size="6.40" text-anchor="start">POA</text><path d="M334.2 402.0H353.9" stroke="#ffff00" stroke-width="1.5"/><text x="355.7" y="404.4" font-size="6.40" text-anchor="start">RSA</text><path d="M334.2 410.7H353.9" stroke="#ff00ff" stroke-width="1.5"/><text x="355.7" y="413.1" font-size="6.40" text-anchor="start">LSA</text><path d="M334.2 419.6H353.9" stroke="#00ffff" stroke-width="1.5"/><text x="355.7" y="422.0" font-size="6.40" text-anchor="start">MNRW-LSA</text><text x="428.4" y="265.5" font-size="7.50" text-anchor="middle">Fitness evolution curve</text><text x="428.4" y="460.6" font-size="7.50" text-anchor="middle">Number of iterations</text><text transform="translate(294.2,354.0) rotate(-90)" font-size="7.6" text-anchor="middle">Fitness value</text><text x="317.4" y="450.4" font-size="7.30" text-anchor="middle">0</text><text x="361.8" y="450.4" font-size="7.30" text-anchor="middle">20</text><text x="406.2" y="450.4" font-size="7.30" text-anchor="middle">40</text><text x="450.7" y="450.4" font-size="7.30" text-anchor="middle">60</text><text x="495.1" y="450.4" font-size="7.30" text-anchor="middle">80</text><text x="539.5" y="450.4" font-size="7.30" text-anchor="middle">100</text><text x="314.6" y="271.9" font-size="7.4" text-anchor="end">10<tspan font-size="5.3" dy="-3.2">2</tspan></text><text x="314.6" y="300.4" font-size="7.4" text-anchor="end">10<tspan font-size="5.3" dy="-3.2">0</tspan></text><text x="314.6" y="328.9" font-size="7.4" text-anchor="end">10<tspan font-size="5.3" dy="-3.2">-2</tspan></text><text x="314.6" y="357.4" font-size="7.4" text-anchor="end">10<tspan font-size="5.3" dy="-3.2">-4</tspan></text><text x="314.6" y="385.9" font-size="7.4" text-anchor="end">10<tspan font-size="5.3" dy="-3.2">-6</tspan></text><text x="314.6" y="414.4" font-size="7.4" text-anchor="end">10<tspan font-size="5.3" dy="-3.2">-8</tspan></text><text x="314.6" y="442.9" font-size="7.4" text-anchor="end">10<tspan font-size="5.3" dy="-3.2">-10</tspan></text>
<text x="223.4" y="488.5" class="cap" font-size="13.5" textLength="119.2" lengthAdjust="spacingAndGlyphs"><tspan font-weight="bold">(h)</tspan> Test Functions F8.</text>
</svg></body></html>
